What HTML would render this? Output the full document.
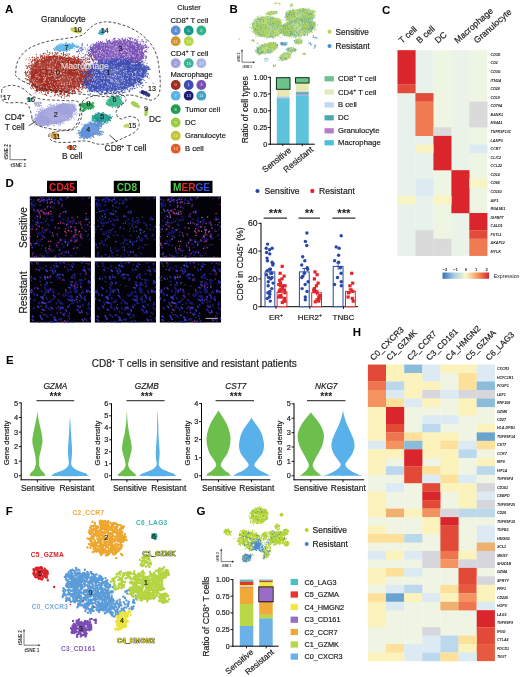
<!DOCTYPE html>
<html><head><meta charset="utf-8"><title>Figure</title>
<style>html,body{margin:0;padding:0;background:#fff}svg{display:block}text{font-family:"Liberation Sans",sans-serif}</style>
</head><body>
<svg width="520" height="677" viewBox="0 0 520 677">
<rect width="520" height="677" fill="#fff"/>
<g id="panelA"><ellipse cx="118" cy="52" rx="24.9" ry="11.6" fill="#7a50b6" fill-opacity="0.88" transform="rotate(-8 118 52)"/><ellipse cx="132" cy="55" rx="12" ry="8.6" fill="#7a50b6" fill-opacity="0.88" transform="rotate(0 132 55)"/><ellipse cx="100" cy="50" rx="8.6" ry="7.7" fill="#7a50b6" fill-opacity="0.88" transform="rotate(0 100 50)"/><path d="M92.5 59.4h0M93.5 54.9h0M128.3 60.3h0M135.2 54.8h0M141.9 55.6h0M145.5 46.7h0M101.8 44.1h0M102.4 52.9h0M127.8 60.7h0M92.5 60.5h0M95 53.9h0M97.5 57.6h0M148.6 47.5h0M111.7 61h0M115.1 59.8h0M129.1 42.1h0M145.7 44.5h0M137.7 43.1h0M143.4 46.9h0M120.6 41.1h0M140.6 55.1h0M134 56.3h0M131.2 54.6h0M96.1 51.1h0M130.3 63.1h0M138.3 57.3h0M125.2 62.3h0M110.6 65.2h0M125.7 62.4h0M140 56.2h0M124.3 61.1h0M114.6 59.3h0M140.5 55.4h0M100.7 63.6h0M137.9 46.7h0M126.3 58.5h0M140.1 41.8h0M114.1 38.4h0M130 64.1h0M104.3 57.6h0M146.3 51.3h0M118.7 66.6h0M98.1 48.5h0M139.6 53.6h0M92.8 51h0M134.2 45.2h0M139 50.1h0M129.8 60.2h0M102.8 50.7h0M147.1 46.2h0M107.1 42.1h0M146.6 49.5h0M106.4 39.3h0M91.2 57.2h0M106.7 67.1h0M113.7 38.7h0M113.9 39.4h0M106.1 62h0M136.9 42.6h0M134.4 39.9h0M102.2 47.2h0M140.3 54.5h0M145.5 47.6h0M114.3 41.4h0M90.1 61.3h0M145.3 50.6h0M98.1 55.9h0M97.6 46.8h0M118.3 56.8h0M125.7 60.7h0M135.5 43.7h0M106.7 65.3h0M127.6 62h0M131.3 43.8h0M96.7 49.4h0M131.8 38h0M109.4 40.2h0M96.9 58.3h0M124.4 61.3h0M109.2 64.5h0M142.2 47.3h0M127.4 45.8h0M110.3 42h0M139 50.2h0M105.7 55.5h0M127.5 55.8h0M101.7 46.7h0M125.6 39.4h0M109.2 44.9h0M142.6 49.3h0M112.4 43.8h0M107.7 41.5h0M98.9 47.2h0M132.5 45.1h0M143.1 42.9h0M95.5 45.1h0M99.3 63.9h0M138.1 45.6h0M105.5 46.1h0M102.5 45.8h0M128 66.4h0M91.8 52.8h0M107.1 66.1h0M138.3 54.5h0M92.2 51.7h0M122.7 44.4h0M122.5 43.2h0M132.5 57.7h0M89.5 54.6h0M138.3 45.7h0M133.8 47.2h0M112.5 66.3h0M99.8 45h0M111.3 62.3h0M132.9 38.5h0M145.7 45.4h0M101 50.5h0M107.4 49.8h0M139.3 47h0M92.8 50.7h0M111.9 46.4h0M144.2 44.8h0M116.6 64.4h0M128.2 37.6h0M95.3 56.8h0M135.4 45.2h0M119.5 45.8h0M107.5 43.1h0M102 64.9h0M138.4 58h0M119.1 60.6h0M102.5 61.9h0M98.3 53h0M98.8 44.7h0M132.5 39.8h0M114.8 40.1h0M134.2 44.1h0M126.8 66.3h0M131.4 44.4h0M118.1 61.2h0M128.5 40.6h0M98.2 61.7h0M136.7 50.4h0M132.5 48.6h0M94.2 54.9h0M124.9 58.1h0M128.5 54.3h0M100.9 50.8h0M128.5 60.5h0M129.8 47.5h0M141.4 53.1h0M107.8 64h0M94.4 54.2h0M108 41h0M129.5 60.7h0M125.1 58.9h0M105.2 53.3h0M109.3 41.7h0M102 46.8h0M143.5 47.1h0M118.4 65.2h0M124.8 42.2h0M138.1 41.5h0M118.6 42.2h0M114.4 45.4h0M142.7 49.3h0M99.7 45h0M102.9 43.1h0M104.1 44.6h0M143.6 48.4h0M108 41h0M96.8 46.5h0M118.6 63.6h0M106.4 59.5h0M119.5 63.9h0M141.8 46.3h0M144.3 47.9h0M95.6 48h0M147 51.9h0M132.4 61h0M104.6 48.8h0M93.2 53.5h0M105.4 61.1h0M114.5 63.8h0M115.5 57.5h0M134.8 60.6h0M97.6 63.4h0M145.4 47.2h0M141.8 54.1h0M139.3 47.3h0M90.2 54h0M142.6 47h0M104 49.2h0M122.9 57.7h0M101.9 52.9h0M97 57.9h0M96.2 49.4h0M143.6 48.2h0M114.1 41.4h0M122.3 38.1h0M106 61.3h0M97.4 48.8h0M117.1 42.7h0M146.3 39.8h0M133.1 51.7h0M103.7 47.8h0M100.5 52.3h0M91.3 51.7h0M101.8 62.7h0M115.1 38.4h0M135.3 53.6h0M119 43.2h0M99.2 59.4h0M101.4 43.9h0M108 64h0M101.6 58.3h0M142.6 56.3h0M94.5 50.7h0M107.9 43.8h0M125.4 62.7h0M137.6 54.3h0M115.7 60h0M103 63.7h0M109.7 41.2h0M143.5 41.3h0M123.6 41.7h0M108.4 65.1h0M119.6 61.9h0M104.8 61.5h0M128.6 62.4h0M124 39.2h0M130.4 60.7h0M134.4 42h0M92.8 52.2h0M143.4 45.8h0M92.1 52h0M132.6 53.8h0M137.3 54.5h0M135.4 59.2h0M124.4 63.1h0M92.5 53.9h0M144.6 45.7h0M93.6 55.9h0M135.1 44.6h0M129.5 38.3h0M129 40.3h0M139.6 46.1h0M124.1 40.7h0M102.3 58.4h0M108.3 58.3h0M125.8 61.1h0M143.5 53h0M138.9 57.3h0M139.8 53.1h0M91.8 48.7h0M127.5 59.7h0M122 63.5h0M127.6 59.8h0M131.7 61h0M127.3 39.1h0M118 66.1h0M91.3 51.9h0M93.9 56.6h0M124.3 40h0M94.2 53.4h0M102.3 43.9h0M140 49.6h0M109.7 40.1h0M129.2 57.8h0M134.6 40.6h0M98.1 44.6h0M137 60.8h0M147.8 47.9h0M135 54h0M113.7 45.3h0M142.4 45.2h0M130.9 41.8h0M131 46.5h0M125.4 43.2h0M134.2 60.4h0M110.6 63.4h0M91.4 58.4h0M101.5 64.6h0M89.4 59.4h0M129.9 38.6h0M111.4 43.2h0M89.5 50.4h0M123 42h0M102 47.8h0M112.3 63.8h0M98.7 62.5h0M113.7 41.4h0M141 44.8h0M124.4 44.5h0M129 56.4h0M128.1 59.5h0M130.4 39.4h0M129.3 57.8h0M104.2 58.5h0M92.9 54.7h0M119.1 39.6h0M108.2 56.4h0M94.6 63.7h0M103.1 43.9h0M139.1 50.2h0M139 56.5h0M89.3 55.2h0M132.6 59.7h0M136.6 42.9h0M137.5 59.8h0M141.8 47.7h0M127.4 61.5h0M102.3 47h0M92.9 49.5h0M106.8 64.7h0M141.1 58.9h0M135.9 58.5h0M98.1 51.1h0M142.2 40.9h0M136.9 57.5h0M113 65.7h0M127.4 41.6h0M101.3 51.9h0M146.4 46.9h0M105.5 45.5h0M102.3 61.5h0M121.2 46.2h0M135 59h0M100.9 50.7h0M97 50.5h0M108.7 48.3h0M141.4 45.7h0M97.1 56.9h0M117.6 40.4h0M87.2 57.6h0M101.3 59.7h0M94.1 50.5h0M93.6 60.9h0M112.5 59.1h0M114.2 42.5h0M116.8 41.9h0M135.9 57.4h0M91.8 55.5h0M96.3 53.4h0M111.3 63.4h0M141.9 41.3h0M104.4 44h0M124.9 64.5h0M88.6 50.1h0M138.6 58.1h0M123.2 50.5h0M111.4 60h0M137.4 41.8h0M104.4 50.2h0M144.9 50.7h0M145.6 42.2h0M99.2 56.2h0M135.8 42.7h0M128.2 41.8h0M137.8 39.8h0M127.9 63.1h0M137.6 52.2h0M112.6 41h0M113.1 45h0M107.2 41.2h0M123.2 61.8h0M111.6 43.4h0M101.7 42.6h0M99.6 64.2h0M122 61.1h0M140.3 43.4h0M146 56.2h0M95.9 59.3h0M99.6 48.6h0M119.7 65.5h0M117.4 41.7h0M114.8 65h0M133.6 49.2h0M95.8 57.8h0M95.9 55.1h0M94.8 51.3h0M121.8 38.9h0M91.4 55.3h0M134.6 47.1h0M120.2 43.1h0M94.3 59.9h0M122.5 38.7h0M124.8 64h0M105.7 53.8h0M94 50h0M128.1 59.5h0M96.4 59.6h0M117.5 67h0M92.7 50.2h0M122.3 41.4h0M141.1 51.7h0M99 46.6h0M144.9 55.8h0M130 59.8h0M130.9 37.7h0M139.6 53h0M132.5 48.7h0M89.9 56.8h0M92.7 59.1h0M139.4 51.5h0M102.1 60.6h0M100.3 58.9h0M118.5 38.5h0M121.8 60.9h0M91.5 58.9h0M102.8 63.1h0M140.9 51.5h0M108.8 47.8h0M135.2 39.5h0M133.2 43.2h0M97.4 64.5h0M124.6 62.1h0M130.6 59.2h0M124.7 62h0M146.4 47.4h0M129.9 43.2h0M108.1 43h0M116.9 57.9h0M95.9 63.9h0M112.1 43.2h0M139.3 44.6h0M118.9 39.1h0M109.3 63.1h0M141.6 54.9h0M101 53.4h0M101.7 60.7h0M106.3 50h0M110.7 63h0M111 43.3h0M112.1 40.1h0M114.5 65.5h0M98.9 61.1h0M113.7 62.6h0M122.4 58.7h0M91.7 50.4h0M137.7 47.8h0M124.1 61.5h0M101.5 42.2h0M106.3 48h0M96.2 60.3h0M107.5 64.1h0M115.8 60.6h0M133.4 61.2h0M120.1 59.4h0M135.4 60.1h0M108.9 41.9h0M101.4 61.1h0M142.3 53.3h0M95.6 49h0M108.9 62.9h0M136.9 41.7h0M117.7 64.9h0M93.6 45.7h0M100.8 64.8h0M99.7 46.2h0M99.2 60.5h0M136.2 40.8h0M130 46.5h0M110.6 63.9h0M136.9 48h0M107.4 44h0M142 48.7h0M91 56.3h0M96.3 51.9h0M138.6 47.1h0M104.3 64.3h0M106.2 40.5h0M146 45h0M90.5 56.6h0M104.2 61.5h0M120.8 60.6h0M110.6 61h0M133 52.8h0M141.8 56.7h0M119.9 39.6h0M134.4 61.2h0M119 63.4h0M123.2 40.8h0M112.1 43h0M104.9 65.8h0M98.5 50.7h0M108.9 40.6h0M133.2 56.7h0M106.7 44.9h0M92.4 48.6h0M135.3 48h0M102.3 46.7h0M146.5 41.8h0M129.6 55.2h0M113.5 65.5h0M112.5 58.1h0M95.1 52.3h0M125.2 37.9h0M114.9 62.2h0M138.9 47.9h0M107.7 42.1h0M126.6 57.9h0M136.1 45.5h0M113.3 57.8h0M101.1 50.9h0M122.8 62.3h0M104.5 61.7h0M134.6 43h0M131.1 53.4h0M128.3 63.5h0M93.9 56.5h0M140.3 52.8h0M102.8 44.2h0M138.8 36.9h0M93 60.1h0M136.4 50.9h0M129.6 55.2h0M109.6 65.3h0M138.7 49.7h0M90.8 53.6h0M122.7 40.5h0M130.1 38h0M136.5 48.6h0M111 43.6h0M127.6 47.6h0M101.8 61.2h0M102.6 44.1h0M104.9 62.7h0M136.8 43h0M115.5 42.3h0M115.3 40.7h0M132.8 55.2h0M104 64h0M100.4 60.6h0M88.6 52.9h0M106.4 67h0M137.1 56.3h0M124.5 63h0M111.5 44.1h0M141.2 44.9h0M129.1 60.8h0M101.6 46.1h0M106 47h0M131.1 41.6h0M89.7 55.6h0M106.6 41.9h0M105.2 44.5h0M95.7 47.7h0M105.3 53.2h0M97.1 48.6h0M130.6 47.4h0M114.7 41.4h0M114.3 40.7h0M141.4 59.3h0M96 55.7h0M140.4 44.4h0M123.9 39.6h0M135 40.4h0M119.5 63.6h0M130.7 42.9h0M114.6 65.8h0M122.3 39.5h0M121.5 65.6h0M93.6 51.8h0M122.2 43h0M141.1 51.3h0M135.5 39.3h0M97.3 63.7h0M91.2 44.9h0M127.5 63.8h0M136.6 40.1h0M106.8 56.1h0M107.8 62h0M96.9 47.7h0M126.5 58.4h0M130.1 55.9h0M140.6 44.5h0M145.5 47.7h0M114.6 42h0M136.4 60h0M96.1 60.6h0M88.2 55.6h0M104.2 64.4h0M113.3 66.9h0M113.6 64.9h0M137.1 45.2h0M115.3 40.5h0M99.5 59.7h0M93 60.2h0M105.6 43.9h0M102.3 59h0M99.5 59.6h0M127.4 39.8h0M140.5 56.2h0M136.5 54.6h0M104.5 43.6h0M142.1 39.6h0M95.4 57.3h0M97.7 57.1h0M143.1 46.2h0M144 54.6h0M128.2 46.4h0M141.8 58.1h0M135 65.4h0M135 63.2h0M131.6 48.9h0M137.8 62.1h0M131.7 63.7h0M130.3 45h0M146.3 56h0M145.8 51.4h0M120 53h0M141.9 60.9h0M141.6 61.8h0M137.3 59h0M133.8 47.8h0M125.6 57.8h0M120 51.7h0M137.2 50h0M143.5 53.5h0M120.1 60.7h0M128.3 56.6h0M139.5 62.8h0M137.9 61.3h0M139.9 56h0M121.9 46h0M143.7 57.5h0M142.8 61.5h0M126.9 61.8h0M142.1 52.5h0M119 54.9h0M131.3 47.3h0M124.7 60.7h0M121.2 58.6h0M146 58.2h0M120.7 52.5h0M133.4 60.6h0M121.4 55.8h0M132 45.8h0M136.6 54.3h0M121.3 49.9h0M124.1 61.1h0M122.7 49.6h0M117.8 54h0M139.8 56.9h0M135.5 46.5h0M139.1 48.9h0M145.4 60.7h0M137 48.6h0M135.4 45h0M145.7 58.6h0M118.5 51.7h0M127.6 51.3h0M128.3 53.5h0M131.1 47.6h0M137.4 52.8h0M134.3 46.8h0M121.8 57.5h0M140 60.2h0M141.7 61.2h0M125.7 47.2h0M126.8 64.4h0M119 51.3h0M117.8 52.6h0M141.5 61.7h0M121.7 58.4h0M126.5 47.3h0M121.8 61.2h0M142.9 61.1h0M135.6 63.3h0M137.3 61.2h0M123 60.4h0M137.6 48.9h0M142.4 54.1h0M128.7 48.2h0M121.6 51.2h0M143.2 58.4h0M119.5 59h0M118.1 51.1h0M122.4 55.6h0M132.2 49.3h0M146.5 57.3h0M121.1 51.4h0M145.1 52h0M134.9 49.3h0M135.6 62.8h0M125.2 51h0M141.9 49.8h0M127.3 46.7h0M128.7 64h0M130.5 47.6h0M121.8 53.3h0M129.1 62.6h0M130.4 63h0M129.8 63.8h0M140.3 47.8h0M122.6 49.5h0M125.4 47.5h0M133.9 46.4h0M122.8 62.7h0M133.1 62.6h0M144.4 51.7h0M121.6 51.7h0M144.7 62.5h0M127.5 50.2h0M124.1 52.5h0M143 54.4h0M128.2 50.3h0M145.6 56.8h0M140 47.6h0M124.5 54.3h0M121.1 53.7h0M122.4 55h0M124.7 55.5h0M118.5 55.8h0M139 60.7h0M124 64.6h0M144 52.2h0M141.5 46.7h0M121 50h0M93 44.6h0M90.3 48.9h0M106.9 51.3h0M104 50.5h0M104 43.5h0M100.4 41.5h0M105.9 50h0M103.2 44.9h0M95.4 57h0M99.3 58.1h0M92.6 48.9h0M100.9 58h0M103 55.3h0M101.8 42.5h0M100.7 58.1h0M99.7 59.6h0M102.8 55.8h0M98.6 41.3h0M102.5 41.5h0M100.3 56.8h0M91.9 54.4h0M108.9 45h0M94.9 53.9h0M95.7 56.3h0M95.1 54.2h0M91.2 51.2h0M108.4 50.7h0M105.7 46.9h0M103.2 59.9h0M94.9 57.1h0M106.1 56.8h0M105.9 56.1h0M107.5 43.9h0M95.8 53.9h0M98.5 59.2h0M97 53.9h0M97.4 56.2h0M90.9 47.9h0M100.7 42h0M101 55h0M96.3 58.6h0M104 55.7h0M92.7 47h0M93.1 51.6h0M105.1 43.3h0M105.2 49.4h0M100.7 42.3h0M104.4 57.6h0M101 53.8h0M89.6 50h0M92.8 51.4h0M107.2 51.7h0M94.8 45.6h0M96.7 56.7h0M106 45.1h0M92 51.8h0M107.1 46.1h0M104.6 46.2h0M90.2 49.5h0M98.7 43.2h0M93.9 46.8h0M107.4 54.6h0M95.9 55.3h0M91.9 49.3h0M108.5 50.1h0M93.7 43.8h0M106.4 53.7h0M107.5 48.7h0M94.5 51.9h0M104.3 42.9h0M99.7 58.1h0M90.7 47h0M91.8 50.5h0M90.9 49.8h0M102.5 56.5h0M108.5 49h0M96.4 42.4h0M101.9 45h0M103.1 43.6h0M110.1 51.3h0" stroke="#7a50b6" stroke-width="1.15" stroke-linecap="round" fill="none"/><path d="M106.8 62.5h0M135.6 45.7h0M137.2 53.1h0M126.2 46.4h0M127.4 59.7h0M112.3 50.3h0M117 49.9h0M121.7 40.4h0M94.7 50.3h0M108.2 57.7h0M126.6 51.4h0M104.2 45.3h0M111 45.2h0M126.8 59.5h0M106.8 42.7h0M128 47.5h0M136.1 46.7h0M112.7 57.7h0M101.2 53.2h0M101.7 52.6h0M116.9 46.8h0M119.6 58h0M122.1 52.3h0M136.3 46.5h0M105.6 57.4h0M125 50.1h0M99.7 58.6h0M101 45.2h0M126.8 47.7h0M108.5 52.5h0M118.2 49.8h0M116.4 62.2h0M115.3 46.3h0M112.6 45.4h0M112 54.2h0M121.3 50.1h0M128.9 52.9h0M129.5 55.7h0M98 50.3h0M108.8 45h0M138.6 52h0M115.8 52.5h0M131.6 53.2h0M140.1 45.7h0M99.4 55.4h0M127.8 54.7h0M123.8 62.2h0M99.6 61.4h0M118.4 62.6h0M108.3 58.9h0M105.9 55.5h0M112 62.8h0M102.4 56.4h0M101.9 62.3h0M139.9 47.4h0M116.5 46.3h0M112.3 41.1h0M100.1 58.3h0M122.8 61.7h0M107.7 61.8h0M133.3 50.6h0M109.7 49.9h0M98.3 62.1h0M135.8 52.7h0M126.7 40.8h0M111.4 42.8h0M116.4 43.4h0M100.9 51.2h0M125.8 50.6h0M112.7 41h0M116.4 60.9h0M128.8 58.5h0M133 43.9h0M111.1 54.8h0M104.6 49.1h0M94.5 50.3h0M106 62h0M109.4 44h0M124 45.1h0M115.3 52.1h0M104.8 60.6h0M134.1 41.3h0M118.6 56.3h0M122.5 41.5h0M117.6 60h0M126.5 40.6h0M124.4 60.7h0M125 47.6h0M105.4 54.8h0M100.1 50.6h0M128.4 50.1h0M134.2 59.4h0M110.3 59.4h0M134.9 44.7h0M125.4 56.8h0M134.6 42.1h0M121 58.2h0M138.3 52h0M140.1 53.1h0M121.4 52.6h0M103.9 63.7h0M124.2 52.3h0M138.8 50.4h0M106.5 45.1h0M111.8 59.9h0M110.1 58.3h0M118.9 57.7h0M112.2 61.1h0M117.6 55.3h0M105.1 53.4h0M133.6 43.1h0M110.9 45.4h0M105.9 57.3h0M100.4 53h0M122.3 40.3h0M117.2 53.6h0M122.4 42.6h0M132.6 41.8h0M108.4 44.4h0M104.2 59.1h0M135.6 41.2h0M128.3 52.9h0M135.4 48h0M128.4 44.2h0M123.5 51.1h0M127.5 56.3h0M113.2 50.2h0M98.4 58.9h0M101.7 49.5h0M133.7 44.1h0M122.3 58.8h0M100.1 50.1h0M128.4 51.1h0M138.3 53.7h0M106.8 63.9h0M109.9 49h0M125.1 41.7h0M140.4 51.1h0M124.8 54.7h0M93.4 57.4h0M113.7 57.5h0M104.3 47h0M121.5 50.8h0M122.4 46.6h0M115.3 48h0M119.5 57.5h0M135.1 44.8h0M119.8 57.6h0M128.6 42.3h0M107.2 48.5h0M113.5 44.8h0M105.6 59.3h0M120.9 52h0M114.5 55.9h0M96.6 48.6h0M96 55.1h0M107.7 51.4h0M139.6 54.3h0M127.4 51.6h0M101.2 47.3h0M118.1 41.9h0M123.7 54.5h0M121 51.9h0M121.7 52.5h0M127.8 43.2h0M127.8 54.4h0M120.9 54.7h0M122.9 55h0M103.8 52.5h0M103.3 53.7h0M114.4 52.8h0M117.3 52.7h0M131.5 44.3h0M124.9 49.7h0M103.3 60.7h0M121 50.6h0M116.1 58h0M108.8 42.2h0M124.7 57.5h0M138.5 57h0M115 41.2h0M141 45.8h0M95.9 49.8h0M102.6 44.2h0M128.1 56.2h0M118.6 49.6h0M109.1 49.1h0M124.7 58.1h0M132.7 40.4h0M114.1 48.3h0M123.2 47.5h0M118.4 51.9h0M131.3 50.2h0M114.5 50.7h0M115 47.4h0M139.5 48.2h0M126.4 57.2h0M131.6 49.3h0M130.4 52.3h0M134.7 61.4h0M132.9 56h0M130.9 48.6h0M126.4 47.1h0M139.7 56.3h0M136.5 48.6h0M129.6 56.8h0M131.1 54.2h0M133.3 56.5h0M128.4 54.5h0M130 57.1h0M127.1 48.5h0M122 50.9h0M126.5 47h0M126.6 50.8h0M140.1 55.4h0M123.6 54.6h0M135.5 56h0M142.9 54.5h0M130 60.4h0M122.5 60.3h0M124.8 55.5h0M134 55h0M129.8 56.2h0M136.5 59.3h0M123.4 50.4h0M124.1 61.2h0M132.2 55.6h0M134.6 57h0M140.2 50.2h0M133.7 60.4h0M130.3 54.1h0M138.7 61.1h0M133.4 55.8h0M140.9 50.4h0M100.4 51.2h0M97.3 57.3h0M101.8 56h0M106.4 48.1h0M96.8 56h0M105.8 51.4h0M104 54.3h0M100 55.7h0M98.7 52.5h0M97.2 54.1h0M97.5 43.7h0M102.6 51.6h0M102.7 45.3h0M97.8 52.1h0M106.6 49h0M94.5 46.5h0M100.8 44h0M94.2 53.5h0M96.3 53.4h0M97.1 53.5h0M104.5 44.2h0M94.8 54.1h0M100 54.1h0M103.9 48.1h0M98.2 51.5h0M101.6 48.9h0" stroke="#fff" stroke-width="0.75" stroke-linecap="round" fill="none" stroke-opacity="0.8"/><ellipse cx="113" cy="76" rx="28.4" ry="15" fill="#3d4db3" fill-opacity="0.88" transform="rotate(-5 113 76)"/><ellipse cx="135" cy="72" rx="12.9" ry="7.7" fill="#3d4db3" fill-opacity="0.88" transform="rotate(-20 135 72)"/><ellipse cx="95" cy="80" rx="11.2" ry="11.2" fill="#3d4db3" fill-opacity="0.88" transform="rotate(0 95 80)"/><path d="M113.6 92.9h0M94.7 91.4h0M121.1 87.3h0M110.2 67.9h0M92.2 65.3h0M127.9 81.9h0M119.9 58.9h0M91.3 69.9h0M136.3 76.7h0M90.3 93.6h0M133.6 61.6h0M140.7 82.7h0M128.8 80.4h0M142.8 72.6h0M138.2 63.3h0M86.1 80.8h0M102.4 67.5h0M83 77.1h0M100.5 62.2h0M128.8 80h0M135.7 77.7h0M88.2 83.6h0M89.4 72.8h0M128.3 61.8h0M145.8 73.3h0M137.9 79.9h0M115 60.9h0M91.6 76.4h0M90 81h0M128.2 83.7h0M77.4 75.2h0M125.6 62.6h0M132.2 89.2h0M112.7 59.3h0M134.8 69.1h0M118.4 93.1h0M137 65.5h0M116.2 92.5h0M106.3 61.6h0M86.5 81.2h0M84.8 82.9h0M94.3 73.3h0M138.6 77.7h0M137.9 80.9h0M144 66.9h0M96.4 87.6h0M133.9 86.5h0M122.1 84.1h0M144.5 74.8h0M117.5 64.5h0M123.8 87.9h0M106.2 88.7h0M96.7 89.4h0M122.9 60.1h0M84.6 67.7h0M135.6 73.4h0M118.9 65.4h0M129.1 59.8h0M124.3 92.5h0M135.3 77.9h0M106.5 92h0M119.7 66.8h0M115.2 91.7h0M129.8 78.2h0M91.2 85.3h0M110 83.6h0M101.1 65.7h0M111.6 85.2h0M106.8 89.6h0M99.2 78.1h0M129.5 65.8h0M133.5 75.9h0M117.7 61.6h0M111.9 60.9h0M120.6 57.4h0M100.2 65h0M88.4 75.4h0M122.9 68.2h0M112.1 62.5h0M137.2 78h0M89.9 90.9h0M135 88.2h0M84.2 79.6h0M140.4 74.3h0M108.1 59.3h0M138.6 81.2h0M109.9 66h0M139.5 76.7h0M101.9 87.3h0M130.9 83.5h0M109.8 93.1h0M89.1 86.4h0M82.1 86h0M136.8 65.3h0M116.9 87h0M91.2 69h0M139.2 73h0M122.2 91.1h0M121.2 67.9h0M119.2 57.8h0M112.1 88.9h0M106.2 62.7h0M111.1 60.7h0M83.2 76.1h0M99.3 93.2h0M120.9 89.7h0M148.4 68h0M128.9 61.9h0M96 73.5h0M119.8 69h0M137.1 79h0M140.8 72.7h0M98.6 63.3h0M101.6 70.1h0M137.6 64h0M121.2 88.3h0M99.5 63.2h0M94.3 85.4h0M117 86.8h0M139.6 64.8h0M141.6 75.5h0M94.1 69.2h0M104.1 85h0M98.5 62h0M96.1 62.8h0M122.1 62.1h0M101.7 78.6h0M129.8 63.5h0M106.4 80.9h0M139.2 72.4h0M132.1 59.9h0M133.6 65.6h0M134.9 74.9h0M90.4 87.7h0M105.2 67.2h0M136.4 85.8h0M89.1 85h0M125.8 92h0M115.4 82.2h0M106 93.4h0M89.2 76.2h0M99.4 87.9h0M123.7 60.4h0M130.5 63.5h0M133 78.1h0M139.2 72.8h0M128.7 86.6h0M134.1 86.2h0M86.4 77.4h0M140.6 80.4h0M112.7 88.1h0M100.3 93.2h0M143 62.2h0M113.7 90.8h0M139.2 82.3h0M132.8 70.7h0M104.8 59.7h0M143.3 79.7h0M123.4 61.7h0M107.3 68.3h0M81.4 76h0M106.4 61.2h0M100.4 90.6h0M89.3 76h0M107.5 91.8h0M96.9 87.5h0M145.7 73.3h0M101 73.1h0M121.7 82.3h0M135.1 70.6h0M116.6 88.4h0M85.5 79h0M93.4 89.8h0M90.6 75.5h0M142.8 76.4h0M105 64.8h0M99.6 61.7h0M131.3 88h0M139.4 65.2h0M92.4 90.4h0M140.1 80h0M101.7 85.4h0M100.9 85.8h0M101 67.9h0M98.1 75.6h0M111.9 93.7h0M115.2 90.1h0M85.7 73.3h0M104.6 60.1h0M122.5 88.6h0M108.2 93.1h0M97.7 82.2h0M139.9 86.7h0M92 87.5h0M129.8 89.6h0M133.5 74.5h0M138.8 81.5h0M135 84h0M126.1 82.6h0M121 60.3h0M131.4 85.2h0M146.9 76.3h0M101.1 64.5h0M128 60h0M119.9 63.8h0M114.2 60.7h0M134.2 73.2h0M145.1 69.8h0M135.5 62.6h0M144.4 80.2h0M141.3 68.8h0M141.1 80h0M138.7 81.1h0M126.9 64.4h0M96.7 80.9h0M97.3 83h0M95.5 80h0M94.1 82.9h0M126.4 59.9h0M126.2 85.2h0M126.4 62.5h0M133.3 77.6h0M82 86.5h0M112.8 84.6h0M86.1 72.9h0M117.2 82.3h0M145.1 76.3h0M141.1 75h0M115.3 93.4h0M109.1 90.7h0M106.8 92.4h0M95.2 59.6h0M96.8 91h0M97.2 66.9h0M125.1 80.3h0M138 83.2h0M133.3 86.9h0M143.3 65.9h0M126 62h0M93.6 68.1h0M102.8 88.9h0M92.4 64.9h0M107.1 63.1h0M84.2 85.4h0M87.6 74.1h0M100 64.1h0M88.6 73.7h0M138 61.8h0M107.1 90.2h0M127.8 89.6h0M133.8 80.6h0M120.8 85.3h0M92.3 76.2h0M94 68h0M95.5 69.8h0M121.2 91.7h0M86.3 70.1h0M114.6 63.5h0M95.1 87.9h0M125.5 88.8h0M143.9 71.4h0M99.3 84h0M141.6 75.2h0M116.9 62.9h0M110.4 61.6h0M98.6 64.9h0M138.5 82.2h0M138 71.2h0M127.9 87.4h0M130.1 66.5h0M108.4 68h0M140 82.4h0M148.1 73.6h0M94.9 66.8h0M125.4 85.1h0M136.8 84.6h0M84 81.4h0M101.2 91h0M95.5 71h0M140.6 78h0M87.4 79.3h0M87.2 84.1h0M93.9 70.4h0M120 60.3h0M116.9 91.9h0M113.5 91.9h0M85.8 84.6h0M111.4 95.8h0M90.7 82.9h0M86.2 74h0M147.6 66.9h0M132.4 75.3h0M122.7 62.5h0M81.1 79.3h0M135.7 75.5h0M103 90.7h0M143.9 70h0M135.6 66.1h0M115.8 89.3h0M137.4 67h0M123.1 89.7h0M97 72.3h0M115 86.5h0M118.7 91.5h0M83.8 69.5h0M140.6 73.3h0M88.3 77.4h0M126.7 80.2h0M139 81.6h0M114.8 60.4h0M134.4 88.4h0M86.6 83.5h0M102.2 60.6h0M115.7 65.9h0M134.4 85.5h0M107.1 95.1h0M82.6 86.1h0M114.9 61.3h0M98.4 83.2h0M103.8 66.1h0M89.7 76.1h0M143.5 74h0M91.6 77h0M94.9 84.5h0M90.7 69.8h0M117.4 61.7h0M136 83.2h0M140.8 68.5h0M110.5 64.9h0M117.5 86.3h0M147.4 75.9h0M143.2 74.6h0M103.6 69.2h0M117.6 91.6h0M114.3 65h0M89.7 68.9h0M121.3 84.5h0M87.3 69.1h0M94 66.6h0M126.6 62.8h0M137.4 61.1h0M102.6 64.3h0M114.2 86.2h0M91.4 68.4h0M90.8 68.8h0M100.3 59.9h0M104.2 88.1h0M90.5 65.4h0M115 59.7h0M92.7 81.5h0M96.6 65.9h0M87.9 73.3h0M105.6 81.4h0M134.7 70.4h0M139.3 63.5h0M142.9 75.3h0M139 80h0M125.2 60.5h0M127.4 89.2h0M80.2 79.3h0M106.8 92.7h0M142 79.3h0M90.5 70.9h0M106.1 59.9h0M127.6 66.4h0M83 67.5h0M104.4 68h0M122.6 90.6h0M91.3 66.4h0M86.4 81h0M96.1 90.4h0M125 80.6h0M86.7 76.1h0M86.4 67.2h0M107.7 91.7h0M116.1 95.3h0M102.9 66h0M94.7 86.5h0M100.2 89.7h0M141.7 83.4h0M99 87.7h0M136.2 61.7h0M130.4 58.9h0M97.8 72.1h0M97.1 87.7h0M112.6 66.2h0M87.3 85.7h0M130.3 86.1h0M116.4 88.7h0M87.5 82.8h0M102.8 92.5h0M81.9 75h0M129.2 71.1h0M79.3 79.5h0M102.8 67.2h0M106.4 88.1h0M108.9 88h0M113.1 64.1h0M140.2 83.1h0M87.4 79.1h0M117.5 62h0M143.9 76.2h0M88.1 89.7h0M90.5 74.9h0M153.1 83h0M87.4 74.4h0M88.5 68.8h0M82.4 84.9h0M140.1 77.5h0M86.2 80.2h0M117.2 61h0M132.1 74.4h0M147.4 77.3h0M137.4 68.7h0M104.7 68h0M87.5 87.3h0M97.2 91h0M85.7 85.7h0M135.8 78.3h0M82.3 81.2h0M87.7 67.5h0M97.5 84.7h0M112.8 68.7h0M83.4 72.8h0M130 63.1h0M94.9 63.5h0M92.9 68.6h0M123.8 86.1h0M120.3 59.2h0M126.7 60.5h0M128.8 91h0M90 81.2h0M111.6 88.3h0M93.2 64.8h0M114.1 91.9h0M140.3 66.3h0M83.3 82.1h0M139.5 80.2h0M111.1 58.9h0M129.8 90.8h0M89.1 66.3h0M109.8 65.1h0M141.4 77.2h0M116 84.9h0M127.9 60.5h0M112.5 70h0M126.3 87.2h0M130.4 88.3h0M113.9 61h0M146.6 69.6h0M95.3 73.5h0M125.3 62.2h0M83 78.3h0M91.2 65h0M85.2 69.6h0M134 62.9h0M137.8 76.2h0M87.9 73.2h0M113.3 64.6h0M118.9 87.4h0M95.4 89.2h0M142.1 79h0M112.3 59.1h0M109 90.5h0M105.2 92.8h0M96.8 80.2h0M139.9 76.2h0M138.1 80h0M87.6 76.3h0M85.7 79.9h0M86.9 70.2h0M112.8 94.2h0M122.5 90h0M85.7 75.6h0M142.8 72h0M96.9 69h0M122 84.1h0M138.2 66.4h0M87.6 75.5h0M139 84.9h0M109.9 82.6h0M116 61.3h0M129.3 72.8h0M145.7 75.8h0M97.9 91.4h0M140.9 82.3h0M141.6 67.6h0M116.5 60.9h0M117.5 60.7h0M125.2 82.7h0M90.2 83.7h0M113.2 65.1h0M140.2 84.3h0M86.7 70.2h0M101.6 86h0M88.7 68.9h0M135 80h0M93 68h0M101 78.8h0M132.3 85.8h0M91.4 75.1h0M107.4 68h0M127.3 62h0M97.9 69.3h0M132 67.9h0M81.5 83.6h0M121.6 85.1h0M128 84.2h0M90.9 69.2h0M133.6 61.6h0M126 65.4h0M87.6 66.6h0M90 73.8h0M141.7 79.2h0M142.3 82.6h0M141.3 70.2h0M138.5 74.3h0M136.6 79.5h0M138.9 75.2h0M141 65.7h0M84.2 78.6h0M116.7 60.5h0M110.1 61.8h0M138.8 85.2h0M114 91.6h0M135.5 66.1h0M101.6 62.6h0M91.6 70.4h0M83.6 73.6h0M124.3 88.7h0M102.8 91.9h0M121.9 90.5h0M90.7 87.4h0M99.4 60.9h0M136.4 81.9h0M86.7 77.8h0M140.5 72.6h0M95.2 62.2h0M131.6 74.2h0M125.8 58.3h0M119 91.8h0M87.1 70.1h0M130.9 69.3h0M89.2 67.4h0M106.6 91.1h0M130.7 73h0M87.6 65h0M110.3 86.3h0M124.6 85.8h0M124.8 83h0M98.3 60.8h0M140.7 71.7h0M77.1 74.9h0M116.4 59.1h0M98.2 90.2h0M139.3 81.5h0M134.1 70.6h0M119.2 59.2h0M102.8 68.9h0M108.6 65.1h0M133.7 81.1h0M123 84.1h0M94.4 65.5h0M131.7 84.1h0M94.9 89.2h0M138.4 65.4h0M133.5 86.3h0M119.6 92.3h0M106.3 81.5h0M111.1 90.9h0M142.3 79.2h0M97.8 69.9h0M94 75.7h0M81.3 74h0M134.9 68.2h0M109.6 61.6h0M118.6 85.8h0M82.4 85.5h0M84.6 81.3h0M108.7 65.5h0M90.5 81.6h0M124.4 90.8h0M136.4 77.2h0M127.8 60.1h0M128.8 67.1h0M79.4 78h0M128.1 59.8h0M99.9 89.6h0M142.1 74.1h0M121.3 90.1h0M129.8 90.6h0M118.9 88.9h0M143.3 72.8h0M142.7 71.1h0M95 67.1h0M80.5 80.3h0M144.8 73h0M97.4 70.5h0M123.3 92.5h0M105.9 70.9h0M136.1 68.7h0M87.4 79.3h0M136.5 66.7h0M127.1 88.4h0M106.5 84.6h0M143.7 70h0M95.6 78.7h0M108 87.9h0M86.1 85.6h0M82 72.7h0M86.6 87.9h0M145.9 82.4h0M89.8 74.5h0M132.5 84.9h0M138.8 70.1h0M91.2 72.8h0M101.8 93.1h0M134.9 79.3h0M104.2 62.7h0M117.6 59.2h0M100.3 90h0M106.6 61h0M85.2 82h0M122.2 87.1h0M106.8 91.2h0M132.6 67.5h0M143 70.9h0M91 85.9h0M138.2 83.9h0M139.7 81.5h0M98.3 91.3h0M122.3 82.3h0M101.7 63.8h0M86.5 87.5h0M136.2 78.4h0M101.5 88.9h0M104.9 93.9h0M105.7 62.3h0M108.5 62.9h0M102.6 90.6h0M88.8 67.6h0M128.9 64.5h0M122 90.6h0M141.1 80.9h0M131.9 64.7h0M125.2 65.1h0M87.6 91.4h0M95.1 67.9h0M135.6 81.5h0M93.2 63.1h0M118.5 73.6h0M91.3 90.9h0M81.7 82.2h0M119.9 61.7h0M108.1 61h0M93.6 91h0M94.4 88h0M102.5 62.8h0M93.2 67.8h0M119.1 92.6h0M126.6 79.2h0M117.5 60h0M110.7 64h0M97.6 76.3h0M128.3 81.6h0M117.9 86.1h0M141.8 87.6h0M128.7 83.8h0M122.7 70h0M147.1 68.8h0M126 63.8h0M133.7 65.8h0M113.9 59.7h0M85.7 71.3h0M101.6 74.1h0M104.2 61.5h0M141.3 66.7h0M121 70.5h0M137.9 68.1h0M103.4 88.9h0M120.7 91.5h0M127.8 69.5h0M107.9 90.9h0M140.8 72.7h0M81.3 75.5h0M99.3 63.2h0M124.1 63.6h0M121.4 63.8h0M130.6 60.8h0M94.9 63.8h0M132.1 89.3h0M135 69.8h0M102.2 61.2h0M94.1 84h0M126.9 63.4h0M123 70.4h0M106.4 60.2h0M96.5 82.9h0M126.9 61.9h0M126 85.5h0M118.6 67.9h0M89.7 89.2h0M127.2 64.8h0M114.6 61.1h0M136.7 79.8h0M82.8 72.9h0M89.2 87.3h0M120.5 84.9h0M110.5 91.3h0M145.5 69.2h0M97 87.1h0M83.3 78.5h0M99.3 62h0M83.9 86.2h0M115.4 64h0M141.2 69.8h0M81.5 84.3h0M95.4 77.4h0M101.3 83.8h0M79.1 81.3h0M90 75.5h0M83.1 77h0M87.3 78.8h0M137.6 77.9h0M114.2 89.4h0M143.6 69.6h0M89.1 66.9h0M123.7 89.6h0M89.8 71h0M125.9 73.7h0M90.8 80.7h0M86.4 69.5h0M88.8 83.2h0M110.9 91.6h0M116.1 83.9h0M130.3 61.7h0M90.7 68.4h0M82.6 84.9h0M80.7 72.8h0M91.8 70.8h0M140.4 63.6h0M98.3 62.7h0M110.9 62.1h0M92 66.3h0M131.8 65.8h0M101.6 67.2h0M88.9 77.3h0M107.1 88.4h0M108.5 92.7h0M94.8 65.6h0M93.3 86.7h0M112.2 59.6h0M126.3 68h0M133.6 85.4h0M101.9 86.1h0M86.8 75h0M89.5 67.2h0M123.4 63.6h0M98.2 68.3h0M101.5 64.9h0M134.8 71h0M134.3 72h0M114 91h0M137.2 87.3h0M86.1 83.9h0M142.4 85.3h0M137.3 79.5h0M79.2 86.4h0M138.5 76.3h0M136.8 77h0M96.3 88.5h0M84.5 81h0M124.6 87.6h0M110.1 62.2h0M122.4 92.9h0M89.1 85.6h0M121.9 91.2h0M94.5 69.8h0M96.6 81.6h0M130.9 61.2h0M134 83.5h0M137.3 69.1h0M123.6 68.6h0M127.7 60.9h0M129.4 63.1h0M91.4 76.7h0M138.8 63.3h0M114.9 67.7h0M89.7 78.1h0M86.7 73.8h0M113.3 60.1h0M116.3 90.1h0M87.9 85.2h0M112.5 86.4h0M102.2 76.3h0M88.4 69.6h0M89.8 89.7h0M132.8 82.4h0M109.6 61.6h0M128 87h0M86.2 71.6h0M134.9 65.5h0M100.6 62.3h0M126.2 72.2h0M101.8 88.8h0M97.8 67h0M102.4 60.3h0M86.3 68.1h0M88 73.9h0M138.7 65.1h0M110.8 59.8h0M90 77.3h0M104.4 93h0M86.4 76.5h0M90.5 69.6h0M123 64.2h0M132.3 65.1h0M139 68.4h0M88.6 75.3h0M89.9 82.5h0M139.7 81h0M141 83.4h0M104.5 88h0M107.8 63.4h0M129.2 69.8h0M102.1 64.1h0M96.8 67.2h0M83.8 74.6h0M124.7 65.3h0M130.9 64.3h0M131.8 62.3h0M142.6 70.3h0M84.6 75.5h0M99.5 66.9h0M105.3 80.8h0M109.3 61.5h0M112.8 66.1h0M143.1 85.8h0M118.5 64.1h0M102.6 69.4h0M89 75.7h0M137.8 74.9h0M148.3 74.1h0M142.7 73.6h0M111.7 92.2h0M129.8 82.2h0M110 66.7h0M93 84.9h0M96.4 66h0M125.7 61.2h0M126.2 88.1h0M134.8 66.8h0M95.9 70.1h0M104.3 67.2h0M98.3 65.3h0M132.7 88.2h0M87.8 68.2h0M90.6 74.1h0M96.4 65.2h0M100.5 83.5h0M137.9 77.1h0M90.6 89.8h0M149 78.1h0M97.5 88.2h0M91.2 68.6h0M98.5 62.5h0M137.4 73.3h0M90 76.8h0M86.4 87.4h0M137.4 65.2h0M122.1 62.1h0M95.1 64.7h0M133.9 74h0M105.6 63.7h0M112.2 67.9h0M91.5 85.6h0M102.2 62.6h0M132.7 83.8h0M112.5 66h0M146 74.6h0M98.9 88.2h0M109.3 86.5h0M82.1 87.9h0M101.7 61.8h0M133.1 67.6h0M144.9 75.3h0M88.5 87.6h0M138.1 79.4h0M86.9 73.6h0M94.4 90.5h0M108.1 89.2h0M133.4 61.9h0M99.9 91.1h0M139.4 69.3h0M103 66.5h0M110.1 62.5h0M142.4 77.1h0M129.3 91.6h0M98 80.8h0M116.7 58.2h0M133.3 69.5h0M103.4 88.9h0M112.7 70.7h0M104.4 89h0M82.1 82.7h0M135.1 73.3h0M125.7 89.8h0M86.3 77.7h0M98.3 92.2h0M85.9 74.7h0M87.2 81h0M101.8 91.8h0M83.4 72.4h0M125.1 87.8h0M82.7 76h0M147 71.7h0M96 73.2h0M137.8 81.6h0M95.2 88.7h0M140.6 68.9h0M138.6 78.2h0M144 77.3h0M147 63.6h0M123 74.5h0M128.1 66.8h0M137.8 62.6h0M150.1 69h0M142.1 76.2h0M139.1 78.7h0M128.6 74.2h0M143.7 70.2h0M134.3 78.5h0M139 65.2h0M142.6 76.8h0M148.4 69.4h0M133.6 80.3h0M123.9 76h0M143 63.6h0M146.6 65.7h0M139.7 75.8h0M139.9 62.7h0M143.9 74.2h0M142.8 65.9h0M135.7 64.7h0M122.1 73.4h0M129 68.8h0M138.5 80.2h0M147 73.6h0M142.9 76.5h0M128.4 74.4h0M136.1 77.2h0M140.7 75.4h0M131.5 64.7h0M135.7 80.6h0M125.4 72.7h0M135.4 81.3h0M141.2 75.6h0M128.5 73.4h0M129.1 81.1h0M149.1 67.2h0M124.4 72.6h0M146 74.5h0M149 68.5h0M142.1 70.1h0M138.9 62.7h0M136.9 64.9h0M138.2 68.4h0M140.8 78.2h0M149.7 69.4h0M128.5 82.8h0M122.7 73.4h0M127.4 76.6h0M136 65.3h0M122.1 78.8h0M142.6 75.5h0M148.4 66.9h0M124.9 68.8h0M141.4 62.6h0M122.1 73.2h0M142.7 77h0M123.9 69.1h0M127.4 78h0M136.9 79.3h0M142.5 76.2h0M125.7 74.6h0M146.8 65.7h0M128.4 70.6h0M135.3 77.2h0M127.8 66.6h0M147.9 66.9h0M128.8 66.8h0M126.6 74.7h0M129.6 75.7h0M145.2 73.2h0M129.7 82.2h0M127.2 73.8h0M127.3 72.8h0M147.5 67.3h0M134 79.4h0M132.2 81.5h0M130.1 80.1h0M134 79.4h0M140.4 62.5h0M139.3 62.8h0M146.4 68.7h0M143.3 76.9h0M139 76.4h0M132.8 69.8h0M144.2 69.4h0M144.5 73.3h0M130.6 69.5h0M127.9 80.8h0M120.6 74.7h0M145.8 75.8h0M134.3 64.8h0M138.1 64.4h0M132.4 75.8h0M147.8 69.6h0M146.7 67.4h0M143.2 75.6h0M129.8 81h0M142.5 68.6h0M130.4 68.1h0M132.3 81.5h0M140.5 79.1h0M142.8 71.6h0M137 62.3h0M132.4 62.6h0M144.1 74.4h0M128.7 81.5h0M143.8 76.2h0M120.5 71.8h0M142.9 78h0M130.6 68.3h0M140 62.1h0M122.9 67.8h0M123.3 76.5h0M143 65.3h0M125.3 80.6h0M125.3 67.9h0M86.4 86.2h0M87.7 86h0M99.8 89.8h0M108.2 83.8h0M102 91h0M102 85h0M98.4 92.6h0M106.2 80.6h0M83.1 83.5h0M102.5 88.4h0M84 82.9h0M99 89.5h0M85.8 77.4h0M107 85.6h0M83.3 84.8h0M109.4 81.1h0M103.7 82.4h0M91.7 68.9h0M92.9 73.3h0M83.7 81.3h0M101.6 85.3h0M87.2 69.6h0M88 75.3h0M92.6 91.4h0M94.1 90.6h0M104.9 74.7h0M93.6 69.1h0M84.2 79.4h0M89.4 79.5h0M83.5 81.6h0M106.4 72.9h0M91.7 91.4h0M103.7 88.1h0M94.6 66.5h0M99.7 91.1h0M84.5 83.9h0M81.5 82.3h0M84.9 77.5h0M104.6 73.2h0M89.9 91.3h0M89.8 71.1h0M105.9 80.4h0M90.7 68.4h0M106 74.6h0M85.8 71.3h0M97.4 91.6h0M104.2 72.7h0M100.4 81.5h0M106.5 79.8h0M93.6 84.1h0M102.7 71.4h0M108.7 81h0M85.4 71.9h0M99.5 89.4h0M102.1 71.9h0M100.6 87.5h0M91.1 91h0M96.6 91.8h0M103.5 76.5h0M102.7 83.1h0M85.8 76.9h0M82 81.5h0M87 68h0M103.3 87.1h0M103 81.3h0M100.7 88h0M99.2 69.8h0M94.8 68.4h0M105 85.2h0M104.8 78.6h0M90.1 90h0M86.7 86.5h0M101.5 76.9h0M103.5 75h0M91.6 75.3h0M89 91h0M105.8 78.8h0M94.8 91.8h0M91.1 83.6h0M98 90.8h0M105.8 85.3h0M84 76.6h0M87.1 86.6h0M96.3 67.5h0M102.2 91.8h0M104.3 82.6h0M108 80.2h0M89.6 71h0M93.6 68.5h0M84 82.1h0M105.7 84.9h0M93.8 68.2h0M104.2 72.3h0M85.2 81.6h0M86.5 73.7h0M85.7 84h0M91.7 67.3h0M95.1 82h0M100.3 85h0M83 82h0M83.9 84.3h0M94.2 88.9h0M87.5 76h0M93.1 66.5h0M97.1 90.3h0M98.7 67.8h0M89 70.6h0M107.7 80.2h0M89.8 72.9h0M96.7 69.4h0M105.6 86.3h0M92.3 71.8h0M85.2 72.4h0M92.3 72.7h0M105.1 72.6h0M99.2 87.7h0M101.4 92.1h0M88.7 69.2h0M84.7 78.6h0M103 87.7h0" stroke="#3d4db3" stroke-width="1.15" stroke-linecap="round" fill="none"/><path d="M114.9 74.4h0M115.2 84.7h0M136.1 75.9h0M132.8 81.9h0M118.2 86.4h0M98.8 89.7h0M118.6 82.7h0M93.9 78.3h0M110.9 81.4h0M127 75.2h0M104 81.7h0M95.7 70.2h0M104.8 62h0M107 75.4h0M122.4 65.9h0M84.3 78.4h0M97.1 82.4h0M114.5 66.2h0M91.1 83.4h0M105.9 65.9h0M101.7 75h0M116.3 75.5h0M115.7 81.7h0M110.6 80.1h0M100.4 65.4h0M110 75.2h0M119.4 61.5h0M141.9 71.9h0M122.8 62.1h0M117.5 70.2h0M134.6 66.8h0M121.8 78.2h0M116.1 70.5h0M120.6 67.4h0M93.3 84.4h0M106.3 82.1h0M122.4 86h0M111.2 64.5h0M94.5 72.9h0M90.3 75.1h0M134.3 64h0M123.4 67.9h0M140.5 70.1h0M135.6 77.8h0M90.8 78.5h0M122.8 78.6h0M111.2 69.7h0M141.1 71.9h0M130 65.8h0M94.9 72.2h0M114.8 74.2h0M112.9 72.3h0M87.9 79.3h0M115.2 68.3h0M99.1 68.8h0M97.7 80.3h0M113.8 63.8h0M115.1 71.8h0M93.5 77.5h0M113.7 76.9h0M131.9 63h0M101 82.9h0M96.7 67.8h0M94.7 77.9h0M132.8 73.3h0M138.1 76.2h0M128.4 81.4h0M91.6 71.9h0M102 85.9h0M113.4 91.2h0M98.9 68.9h0M112.9 66.9h0M98.3 75.3h0M127.7 78.9h0M121.2 69h0M124.4 82.9h0M95.2 67.2h0M125.9 89.3h0M131.2 77.3h0M122.9 90.2h0M128.2 73.1h0M134.6 76.5h0M117.5 82.7h0M112.2 76.6h0M107.3 83.5h0M107.7 78.4h0M124.8 72.2h0M116.7 70.3h0M127.8 78.7h0M92.3 80.2h0M138.5 80.4h0M117.9 71.1h0M99.2 78h0M100.3 75.2h0M121 75.7h0M89.9 77.1h0M113.1 81.8h0M110 66.4h0M102.4 72.6h0M117.7 67.4h0M91.3 71.8h0M110.6 89.7h0M105.6 86.3h0M115.6 74.5h0M121.6 85.4h0M102.5 65h0M105 73.6h0M132.7 74.6h0M131.4 72.8h0M133.3 76.8h0M135.8 73.1h0M98.1 64.1h0M124.6 65.7h0M102.8 89.9h0M134.4 85.4h0M101.2 72.1h0M108.8 74.6h0M131 64.1h0M117.6 62.6h0M136.4 79h0M115.2 69.8h0M100.2 66h0M133.9 78.5h0M124 71.1h0M119.7 75.8h0M123.8 67.6h0M136.3 80.9h0M127.4 74.9h0M94.4 80.1h0M140.6 73.8h0M91.8 83.8h0M111.8 69.7h0M118.6 85.8h0M116.6 87.6h0M109.8 84.6h0M99.7 83.8h0M136.6 81.3h0M114.4 82.5h0M128.5 76.9h0M101.8 88.5h0M117.3 88.9h0M138 77.2h0M118.1 62.2h0M102.6 66.7h0M88 79.4h0M93.3 66.8h0M140.4 72.7h0M94.5 76.1h0M127.6 78.8h0M132.2 64.2h0M84.9 77.1h0M88.1 69.9h0M107.7 84.5h0M92.7 73.3h0M89.5 69.6h0M98.7 79.9h0M135.1 71.7h0M109.9 74.4h0M101.6 78.1h0M116.7 85.2h0M122.8 79.9h0M122.2 67.6h0M120.1 88.5h0M123.5 75.1h0M130.6 70.5h0M121.3 78h0M126.8 65.7h0M109.1 85.8h0M117.6 61.6h0M116.9 82.6h0M92.1 76.8h0M114.8 69.1h0M92 82.8h0M102.2 84.9h0M111.7 86.6h0M125.3 62.1h0M97.3 78h0M121.7 67.9h0M113.4 90.1h0M114.1 65.4h0M108.2 87.6h0M119.2 62.2h0M113.9 71.5h0M93.9 66.5h0M108 77.5h0M98.2 75.4h0M140.5 77.1h0M115.6 63.3h0M120 90.5h0M93.4 83.4h0M118.1 74.8h0M134.1 71.8h0M112.8 80.8h0M97 89.8h0M118.2 81.1h0M125.3 70.5h0M113.1 66.7h0M119.4 83.6h0M94.6 79.2h0M127.4 84.6h0M120 67.1h0M106.3 73.8h0M117.1 83.1h0M103.8 75.4h0M109.9 78.6h0M119.2 69.7h0M111.9 81h0M98.5 74.7h0M122.8 80.4h0M139.5 72.9h0M113.5 76.4h0M102.7 67.7h0M95.3 83.5h0M115.1 74h0M108.9 90.3h0M121.6 60.4h0M124 74.6h0M124.6 80.5h0M136.9 70.6h0M103.5 75.3h0M123.4 77.2h0M141.5 71h0M95.5 79.2h0M89.9 86h0M126 72.9h0M104.5 91.6h0M89.7 78h0M106.2 71.5h0M129.6 72.9h0M104.9 88.5h0M109.1 62.8h0M96.8 72.6h0M92.4 79.7h0M115.4 80.2h0M101.5 76.3h0M89.5 82.4h0M112 79.5h0M97.4 89.8h0M121.7 81.6h0M111.2 80h0M88.1 77.7h0M100.9 71.1h0M104.3 82.2h0M87.5 75.3h0M116.3 76.6h0M107.4 62.1h0M111.5 81.6h0M112.5 76h0M96.9 72.6h0M137.3 67.3h0M108.1 83.8h0M92.4 88.1h0M129.1 75.5h0M101.8 88.2h0M104.6 78.9h0M103.7 62.3h0M126.1 86.5h0M120.6 72.9h0M83.8 76.7h0M95 84.6h0M89.1 79.2h0M113.2 69.7h0M97.2 66.1h0M110.7 75.8h0M135.2 71.8h0M105.9 86.9h0M117.9 61.5h0M93.5 75.2h0M115.4 77.5h0M117.8 70.5h0M104.8 72.5h0M114.9 75.4h0M116.3 63h0M99.3 87.9h0M116.4 80.9h0M112.7 81.2h0M115.1 79.7h0M120.1 79.7h0M108.2 78.3h0M112 71.6h0M104.3 77.7h0M110.8 72.7h0M116.8 80.7h0M113.9 62.4h0M121.2 67.1h0M101.3 68.7h0M107.3 67.2h0M111.6 85.5h0M117.4 90.5h0M93.6 82.7h0M132.2 81.8h0M110.9 79.2h0M118.5 75.5h0M132.1 69.4h0M95.3 74.7h0M123.4 85.4h0M119.6 60.4h0M119.8 86.1h0M128.2 87h0M132.1 80.3h0M132.7 73.6h0M145.2 73.5h0M137.2 74.3h0M132.6 77.5h0M142.5 66.6h0M144.6 64.9h0M146.4 69.1h0M131.5 66.6h0M140.8 77.8h0M130.2 73.1h0M138 77.4h0M126.6 70.7h0M136.1 71.1h0M143.3 65.1h0M141.1 74.3h0M126.5 75.7h0M136.1 73.2h0M144.3 74.9h0M135 72.6h0M133 67.4h0M142.5 65.8h0M135.5 77h0M139.6 76.6h0M132.7 75.1h0M124.9 71.9h0M126.4 70.8h0M123.4 73.9h0M123.5 71.4h0M126.4 72.9h0M132.2 76h0M135.3 75h0M125.7 78.3h0M130.5 65.5h0M126.2 68.3h0M138.8 71.9h0M145.3 65.7h0M135.4 72.1h0M132.8 78.3h0M90.6 85.4h0M101.4 82.7h0M92.7 70.1h0M99.8 80.8h0M84.8 76h0M87.7 86.6h0M102.3 78.6h0M94.7 91h0M101.2 83.1h0M91.5 82.9h0M88.2 87.1h0M101.1 78h0M93.1 88.6h0M101.5 71.8h0M103.8 81.2h0M97.4 70h0M97.3 86h0M92.7 72.1h0M85.7 77.1h0M104.6 77.1h0M86.7 80.2h0M103.6 83h0M97 75.2h0M92.9 89.7h0M95.1 85.2h0M94.2 76.9h0M96.3 81.5h0M97.7 84.7h0M96.1 78.5h0M91.7 75.1h0M94.3 68.9h0M86 73.4h0M104 78.5h0M88 80.5h0M91.8 73.1h0M95 71.6h0M95.5 75.7h0M97.9 85.5h0M93.2 91.2h0" stroke="#fff" stroke-width="0.75" stroke-linecap="round" fill="none" stroke-opacity="0.8"/><ellipse cx="57" cy="74" rx="26.7" ry="18.1" fill="#a32b1f" fill-opacity="0.88" transform="rotate(8 57 74)"/><ellipse cx="70" cy="66" rx="12" ry="8.6" fill="#a32b1f" fill-opacity="0.88" transform="rotate(0 70 66)"/><ellipse cx="45" cy="80" rx="13.8" ry="11.2" fill="#a32b1f" fill-opacity="0.88" transform="rotate(0 45 80)"/><path d="M81.8 89.5h0M78.3 89h0M79.5 89h0M79.6 85.1h0M42.6 56.3h0M86.1 87.2h0M77.3 69.9h0M74.5 90.6h0M76.3 88.6h0M67.4 60.4h0M33.4 78.7h0M31.2 61.6h0M64.6 91.9h0M40.3 86.1h0M82.2 77.3h0M60 90.8h0M67.5 91.4h0M35.9 86.1h0M83.5 67.1h0M41.8 56.7h0M28.4 76.9h0M26.3 74.6h0M56.2 92.7h0M69.3 57.2h0M74.1 60.1h0M71.6 86.3h0M83.6 85.8h0M73.8 59.2h0M73.5 71.8h0M33.7 77.6h0M83.8 77.1h0M36.2 58.7h0M34.9 70.1h0M85.5 66.1h0M40.2 54.8h0M72.4 92.1h0M38.5 85h0M31.6 81.1h0M82.6 87.1h0M85.4 82.6h0M85 70.9h0M31.4 75.3h0M39.6 85.3h0M66.6 90.7h0M35.9 61.3h0M74.3 89.8h0M41.1 91.5h0M51.1 70.1h0M37.5 90.3h0M78.7 61.1h0M40.5 73.1h0M48.3 88.6h0M41.7 59.2h0M30.9 78.4h0M27.6 66.9h0M28.3 70.3h0M69.2 91.1h0M49.1 84.1h0M65.5 54.8h0M57 91.1h0M48.4 93.3h0M61.7 58.4h0M28.9 60h0M67.5 61.3h0M40.6 65.6h0M42.7 80.3h0M48.7 65.4h0M46.5 77.1h0M62.4 91.2h0M76.4 81.2h0M41.7 55.5h0M61.7 58.2h0M71.6 93.3h0M30.3 67.9h0M54.2 86.9h0M54.8 58.8h0M36.6 85.7h0M58.8 90h0M30.8 79.8h0M70.4 62.5h0M82.2 71.8h0M80.7 70h0M67.1 62.9h0M45.7 94.5h0M37.5 81.2h0M86.2 71.2h0M40.6 67.5h0M80.1 71.8h0M29.2 71.5h0M72.3 88.1h0M84.1 68h0M34.8 76.8h0M36.1 75.1h0M65.5 84.3h0M77 75.3h0M60.8 87.8h0M39.6 86.8h0M64.4 94.8h0M91.9 82.5h0M35.4 79.9h0M81.2 68.2h0M31.4 65.2h0M70.7 85.5h0M60.7 92.1h0M61.7 94.2h0M36.5 80.2h0M65.4 60.5h0M71.9 61.3h0M80 69.8h0M29 63.4h0M42.8 94.2h0M31.9 85.9h0M82.8 79.1h0M35 63.8h0M36.5 68.5h0M56.3 53.4h0M50.9 88.7h0M55 56h0M33.1 64.6h0M74 65.6h0M72.2 93.7h0M41 86.7h0M39.9 84h0M60.4 90h0M30.3 69.7h0M85.8 80.8h0M71.6 80.1h0M67.8 68.6h0M45.8 58.5h0M31.5 75.9h0M51.6 90.6h0M36 79.1h0M61.5 97.6h0M87.4 80.5h0M27.8 79.7h0M73.3 90.1h0M54.8 54.7h0M66 61.2h0M60.2 51.4h0M74.2 61.6h0M77.4 63.4h0M64.1 86.2h0M41.3 92.6h0M44.8 94.3h0M37.5 64.5h0M69.2 93.7h0M76.8 62.1h0M33.5 74.6h0M74.2 64.2h0M30 72.4h0M37.8 61.8h0M74.2 60.5h0M56 90.9h0M47.7 59.5h0M47.2 56.9h0M60.1 94h0M82.7 78.4h0M75.3 72.7h0M55 66.7h0M40.9 79.6h0M53.4 56.5h0M62.2 60.3h0M46.2 75.9h0M82.8 88.1h0M55.2 52.4h0M28.9 77.3h0M35.9 82.9h0M49.4 54.4h0M36 87.3h0M42.3 61.9h0M84.5 73.9h0M78.7 64.1h0M67.9 96h0M62.5 56.5h0M78.3 79.7h0M67.8 83.2h0M36.7 71.6h0M66.4 96.1h0M42.6 62.5h0M27.1 79.9h0M55.9 89.6h0M69.8 89.9h0M39.2 92.7h0M31.3 88.7h0M54.5 95.2h0M50.6 80.6h0M63.4 60.2h0M79.3 82.3h0M55 63.6h0M82.8 66.2h0M49.6 87.3h0M74.7 66.2h0M56.5 60.3h0M29.3 74.2h0M35 69.7h0M55.6 53.7h0M48 78.5h0M75.4 60.9h0M38.4 62.9h0M30 65.2h0M69.8 89.2h0M75.5 80.8h0M32.8 59.6h0M67 53.7h0M66.3 92.1h0M57.7 55.9h0M60.5 70.2h0M75.6 58.9h0M50.9 96.6h0M74.9 58.1h0M35.6 66.2h0M31.8 85.4h0M68.6 92.7h0M47.1 69.3h0M80.9 87.8h0M65.4 65.8h0M84.4 77.4h0M73.6 60.4h0M78.8 59.9h0M34.2 59h0M78.6 67.7h0M64.4 90.3h0M48 92.9h0M82.3 74.9h0M28.4 65.2h0M44 90.9h0M32.1 78h0M65.6 90.3h0M55.3 94.7h0M59.3 55.7h0M47.6 92.5h0M72.9 63.9h0M79.3 59.8h0M35.2 92.8h0M55.6 61.4h0M69.1 93.9h0M37.4 57.5h0M44 53.4h0M80.5 87.5h0M54.7 95.8h0M61.2 59.9h0M38.4 70.5h0M44.7 76.4h0M83.9 75.2h0M65.3 56.6h0M44.4 68.2h0M71.3 62.5h0M81.8 83.2h0M76.1 88.3h0M35.6 77.9h0M47.7 89.8h0M55.3 93.8h0M85 71.9h0M57.3 94.7h0M49.1 83.9h0M80.6 69.4h0M61.6 57h0M68.6 57.4h0M44.9 66.7h0M48.4 57.8h0M33.2 74.1h0M79.7 82.3h0M72.8 81.5h0M60.6 59.4h0M84.3 87.3h0M72.5 86.1h0M61.4 58.7h0M67.3 57.4h0M87.5 67h0M78.6 87.7h0M48.8 91.6h0M78.6 62.2h0M32.2 72.1h0M55 50.1h0M48.7 81.6h0M36.7 56.8h0M29 73.9h0M78 65.9h0M78.1 59.4h0M43.4 62.6h0M55.3 58h0M77.7 80.5h0M43.7 87.2h0M67.6 85.9h0M55 60.4h0M29.4 84.5h0M54.6 58.3h0M79.1 78.4h0M76.3 84h0M55.8 64.2h0M42.7 86.3h0M37.3 89.7h0M48.2 55h0M78.1 89.8h0M74.1 67.8h0M32 79.2h0M35.6 80h0M32.8 57.1h0M31.1 74.6h0M64.4 93.2h0M45.2 93.7h0M55.8 89.6h0M77.6 57.5h0M31.3 68.6h0M79.4 91.6h0M30.7 79.1h0M64.9 96.2h0M78.7 85h0M39.6 71.4h0M40.5 57.5h0M43.8 60.5h0M47.5 52.1h0M66.6 58.8h0M78.7 82.1h0M60.9 58.1h0M69.4 57.3h0M26.1 76h0M75.8 64.8h0M58.1 65.1h0M53.2 58.3h0M74.9 87.3h0M78.1 72.5h0M62.5 56.5h0M67.7 85.5h0M69.5 54.3h0M43.5 68.8h0M79.5 85.9h0M51.4 92.5h0M65.2 92.5h0M28.9 80h0M71.3 71.3h0M36.2 71.9h0M60.5 58.1h0M78.1 75.4h0M71.9 87.3h0M39.8 89.1h0M49.2 89.4h0M82.2 75.6h0M26.7 76h0M84.6 70.7h0M60.8 93.1h0M60.1 65.2h0M37.6 57.7h0M61.7 57.8h0M49.6 86.2h0M48.9 56.7h0M77.9 88.8h0M42.9 56.9h0M27.6 79.2h0M47 90.3h0M40.7 76.5h0M82 73.3h0M35 80h0M63.9 89.5h0M85.5 88.3h0M63.2 69.2h0M86.3 83.6h0M72.5 74.1h0M46.5 95.5h0M60.5 68.9h0M66.5 64.4h0M52 65.7h0M84.1 69h0M70.8 59.7h0M28.2 79.7h0M86.8 75.1h0M25.9 65.2h0M44.5 87.3h0M32.3 71.2h0M57.6 85.3h0M56.1 56.1h0M38.1 90.2h0M73.2 63.4h0M78.9 82.3h0M42.9 76.1h0M33 83.1h0M58.3 95.7h0M85.8 79.5h0M77.1 74.1h0M83.8 87.8h0M34.3 68.2h0M40.3 54.9h0M35.4 70.7h0M79.9 91.1h0M45.2 87.4h0M85.7 76.5h0M74.3 90.7h0M34.9 86.1h0M36.4 69.9h0M70 86.2h0M79 71.9h0M63.8 92.3h0M31.7 69.8h0M42.7 56h0M71.2 82.8h0M80.8 59.2h0M39.3 60h0M32.3 68h0M77.8 68.7h0M54.5 92.4h0M58.5 85.2h0M44.4 61.7h0M55.5 59.2h0M77.5 68.1h0M57.3 57.9h0M83.2 70.6h0M61.1 60.2h0M33.6 84.9h0M62.1 88.7h0M55.5 82.5h0M58 53.8h0M32.1 57.6h0M31.8 76.8h0M32.8 78.6h0M54.1 92.2h0M44.9 75.2h0M74.8 91.9h0M60.3 65.3h0M80.7 79.3h0M35.1 90.4h0M61.2 93.9h0M86.3 79.6h0M86.3 74.7h0M44.7 90h0M79 83h0M55.2 86.1h0M75.2 81.5h0M74.5 59.4h0M66.3 89.9h0M81.9 82.5h0M26.6 68.2h0M79.4 66.9h0M60.3 94.1h0M44.8 71.4h0M49.1 87.9h0M80.9 75.9h0M53.3 89.4h0M81.3 70.2h0M55.2 92.3h0M77.5 69.2h0M72.7 93.5h0M30.8 71.8h0M50.6 81.8h0M29.8 65.9h0M66.6 67.2h0M60.5 91.6h0M67.4 58.3h0M45.2 58.4h0M45.2 83.7h0M43.4 84.2h0M63.4 52.6h0M37.2 58h0M65.3 88.5h0M72.4 85.4h0M33.7 75.9h0M42.4 57.8h0M29.5 67.5h0M70 87.5h0M47.5 93.1h0M55 55.8h0M42.3 85.7h0M35 73.2h0M81.3 78.3h0M31.2 82h0M27.6 71.8h0M82.4 61.7h0M74.9 68.9h0M73.9 55.7h0M46.7 87.7h0M63.9 57.6h0M46.9 59.5h0M85.1 71.4h0M32.4 86.7h0M80.2 64.5h0M33.8 70h0M66.3 61.9h0M78.3 90.8h0M32 64.2h0M78.6 65.4h0M43.9 82.4h0M50 86.5h0M73.2 78.5h0M75.9 86.2h0M70.8 84.1h0M50.2 59.5h0M45.9 60.1h0M81.9 89.3h0M55.8 79.5h0M73.2 85.3h0M61.9 90.4h0M64 57.1h0M83.1 65.4h0M41.5 87h0M73.5 76.2h0M41.6 68.1h0M83 77.4h0M74.2 88.4h0M47 90.4h0M35.9 63.2h0M45.8 57h0M83.2 76.8h0M68.6 69.2h0M49.5 84.3h0M73.6 65.1h0M63.1 55.5h0M72.8 78.8h0M81.9 75.9h0M71.1 89h0M33.9 65.9h0M60.4 57.2h0M65.1 54.5h0M52.3 52.8h0M72.7 89.8h0M32.6 68.8h0M85 75h0M30.8 79.6h0M63.2 61.1h0M55.4 91.9h0M73 69.3h0M57.3 91.5h0M51.8 80.4h0M35.3 59h0M30.3 81h0M79.6 64.4h0M72.4 93.9h0M56.7 85h0M61 65.4h0M58.9 91.7h0M84.1 64.2h0M48.1 68.8h0M31.6 66.3h0M83.4 71.5h0M59.8 56.9h0M45 88.5h0M83.4 79.1h0M44.5 55.8h0M52.1 88.3h0M80.9 70.3h0M27.9 75.4h0M40.8 56.4h0M73.6 90.1h0M83.7 75.2h0M67.6 92.3h0M53.7 58.7h0M76.4 63.9h0M63.7 54.2h0M49.4 88.1h0M42.2 74.6h0M87.3 76.2h0M80.4 65h0M37.3 84.3h0M70 93.1h0M77.1 82h0M78.3 60.7h0M78.6 62.6h0M77.9 80.8h0M26.2 59h0M35.5 79h0M36.2 80.2h0M66.4 91.5h0M41.8 63h0M51.5 86.9h0M74.2 90.5h0M74.7 91h0M82 75.9h0M74.4 66h0M30.9 65.5h0M61.7 58.6h0M35.2 70h0M37 74.3h0M34.8 85.3h0M49.5 88.1h0M68.7 65.7h0M53.3 88.6h0M63.6 53.4h0M63.9 94.2h0M72.2 88.1h0M68.4 60.5h0M73.7 86.8h0M50.3 62h0M65.6 89.9h0M52.8 90.9h0M39.6 90.4h0M79.7 63.3h0M79.5 86.8h0M61 85.9h0M32.6 69.5h0M82.9 83.9h0M74.2 60.6h0M38.4 66.2h0M56.8 90.5h0M89.1 80.4h0M36.5 85.3h0M55.2 86.2h0M81.6 74.2h0M55.4 92.3h0M66.2 60.9h0M78.4 68.3h0M58.8 60.1h0M40.1 85h0M58.2 87.4h0M45.7 53.7h0M86.4 73.1h0M84 62.7h0M70.4 63.2h0M78.4 90.5h0M39.7 85.1h0M49.5 84.8h0M83 81.7h0M88.1 70h0M62.3 88.2h0M79.5 61.4h0M80.8 79.1h0M41.4 81.8h0M71.9 75.2h0M35.2 74h0M73.2 87.2h0M82 74.5h0M25.5 73.5h0M78.8 87.4h0M45.5 88.5h0M35.3 59.6h0M77.7 72.8h0M66.1 61.9h0M29.6 83.1h0M75 81.7h0M65.8 88.1h0M27.8 75.7h0M43.3 84h0M50.4 57.3h0M58.9 91.9h0M88.2 79.1h0M74.3 85.8h0M41.9 85.2h0M72.8 80.8h0M68.4 86.7h0M71.8 91.4h0M37.2 64.9h0M61.7 92.6h0M40.2 65.9h0M43.7 91.4h0M33 83h0M80.3 62.1h0M25.5 75h0M68.6 61.6h0M37.6 60.2h0M88.5 76.5h0M31.2 80.8h0M70.4 58.6h0M39.1 88.4h0M82.3 64.1h0M59.6 93.8h0M81.6 92.3h0M80.2 67h0M36.3 58.8h0M66.7 76.3h0M57.3 57.8h0M64.5 77.6h0M81.7 71.5h0M53.2 87.2h0M60.7 92.2h0M29.5 80.2h0M82.9 84.9h0M28.8 66.6h0M65.6 90.7h0M82.9 72.5h0M46.3 88.4h0M61.2 93.4h0M71.1 65.1h0M67.3 55.1h0M47.2 87.6h0M54.3 55.8h0M81.9 77.2h0M27.2 68.3h0M81 63.3h0M36.6 84.6h0M31.9 78.1h0M64.3 98h0M72.7 90.1h0M53.7 85.3h0M79.5 79h0M43.2 90.6h0M74.3 63.9h0M70.1 63.3h0M35.7 84.2h0M84.4 75.9h0M56.5 54.2h0M91.8 74.5h0M77.4 86.3h0M47.8 86.6h0M33 72.9h0M26.3 66.1h0M67.2 88.3h0M78 73.5h0M71.9 79.1h0M67.5 94.2h0M76.9 67h0M34.5 59.4h0M45.9 83.4h0M24.7 81.7h0M56.2 65.5h0M29.8 71.8h0M37.7 59.7h0M46.3 60.1h0M32.7 84.8h0M80.3 72.5h0M73 86.1h0M42.2 72.7h0M41.2 56.4h0M45.7 92h0M64.9 60.3h0M69 70h0M76.1 80.4h0M84 75h0M69.4 96.1h0M38.6 82.7h0M73.3 73.7h0M76 82.1h0M56.2 90.5h0M80 80h0M75.4 60.4h0M37.6 59.9h0M38.1 68.2h0M68.2 93.6h0M72.9 91.9h0M68.7 64.9h0M34.6 61.9h0M30.5 59.7h0M79.4 75.4h0M43.1 88h0M83.1 67.8h0M31.2 71.8h0M47 67h0M37.5 75.3h0M67.6 95.2h0M34.4 82.3h0M59.3 60.7h0M44.2 57.8h0M72.6 83.2h0M73.4 78.7h0M39.7 75.3h0M65.6 81.9h0M35.3 66.5h0M76.6 63.1h0M25.5 71.3h0M72.4 70.8h0M51.1 83.9h0M33 88.1h0M72.9 65.7h0M82.2 84.4h0M32.8 75.4h0M66.2 55.4h0M81 79.2h0M75.4 61.4h0M68.1 70.1h0M36.4 65.3h0M75.2 61.8h0M63.7 93.3h0M49.8 56.2h0M83.5 64.5h0M69.8 87.3h0M83.4 78.8h0M65 73.6h0M80.5 74.7h0M26.2 72.8h0M89 68.1h0M78.7 87.5h0M32.2 81.6h0M69.8 62h0M50.3 82.7h0M80.8 80.7h0M84.6 77.1h0M62.1 89.2h0M68.7 57.5h0M50.1 52.9h0M72.3 59.2h0M32.3 61.5h0M35.3 60.9h0M79.3 65.4h0M39.5 81.3h0M27.1 72.8h0M69.2 87.1h0M32.4 60.1h0M81.8 66h0M29.3 57.7h0M63 85.2h0M31.5 66h0M77.9 63.3h0M79.6 66.9h0M83.8 82.2h0M46.7 56.3h0M81.2 77.4h0M31.9 73.3h0M49.3 52.2h0M57 92.5h0M36.2 84.9h0M62.1 58.4h0M32.9 82.3h0M38.8 78.1h0M45 69.7h0M33.2 60.6h0M73.1 68.1h0M60.1 56.2h0M80.9 81h0M30.3 82.2h0M42 86.5h0M68.9 62.8h0M69.1 86.9h0M58.6 89.6h0M39.5 61.7h0M44.1 84.2h0M69.6 61.9h0M35.9 64.5h0M49.3 58.5h0M76.9 70.1h0M69.7 65.4h0M79.2 79.2h0M38.8 79.1h0M38 78h0M52.2 53.9h0M37.2 59.6h0M29.9 80.6h0M72.9 67.2h0M29.6 76.7h0M34.2 84.9h0M33.9 77h0M87.5 84.7h0M48.6 91.7h0M60.9 62h0M72.8 91.1h0M35.8 80.7h0M72.7 61.4h0M67.1 59.6h0M64.9 94.3h0M40.1 86.7h0M77.2 65.5h0M90.2 80.3h0M43.4 66.9h0M37.9 86.9h0M78.2 86.4h0M44.7 67.6h0M85.6 77.2h0M69 87.9h0M62.2 62h0M39.9 83.6h0M38.5 57.9h0M80.1 91.9h0M61.5 92.6h0M34 85.1h0M38.3 77.2h0M46.7 87.6h0M82.6 72.8h0M42.6 90h0M39.2 59.1h0M69.5 93.4h0M27.4 68h0M36 60.4h0M47.3 89.8h0M73.9 75.3h0M47.1 91.3h0M59.9 83.2h0M65.7 92h0M49.2 60.2h0M90.9 74.5h0M81 68h0M54.7 81.1h0M39.4 85.5h0M53.1 55.5h0M46.8 54.8h0M81.4 80.2h0M38 86.5h0M72.5 62.1h0M63.4 54.6h0M69.1 87.7h0M46.6 81.7h0M34.5 82.7h0M67.7 59.1h0M62.7 95.3h0M33.5 75.5h0M58.4 64.7h0M78.1 79.5h0M68.6 82.1h0M84.2 75.6h0M56 91.9h0M25.9 72.5h0M35.6 77.5h0M34.6 82.9h0M81.6 81.2h0M84.5 70.4h0M79.4 83.9h0M32.1 63h0M56.5 90.8h0M51 60.3h0M48.1 92.8h0M57.7 60.8h0M34.5 57.6h0M36.5 69.1h0M68.8 95.3h0M42.4 67.5h0M85.5 69.7h0M52.8 67.4h0M71.2 59.9h0M59.4 90.3h0M30.9 82.8h0M84 71.3h0M73.2 91.8h0M40.1 79h0M75.3 67.7h0M29.6 72.2h0M57.8 94.5h0M53.5 88h0M35 79h0M83.1 66.6h0M72.5 87.7h0M53.9 90.3h0M40.9 89.9h0M45.7 81.7h0M68.5 86.3h0M33.8 83.4h0M83 75.9h0M57.2 86.6h0M31.2 71.8h0M55.4 62.5h0M35.7 85.2h0M45.5 59.4h0M87.1 72h0M34.7 67.4h0M51.6 92.1h0M74.8 56.9h0M72.4 90.4h0M60.3 94.6h0M76.8 80.1h0M31.2 62.5h0M26 78.9h0M80.6 67.3h0M34.3 75.6h0M62.6 59.2h0M61.2 96.4h0M32.6 67.4h0M55.4 86.4h0M77 86.5h0M78 91.7h0M45 58.6h0M75.1 92.7h0M82.8 71.3h0M62.2 61.1h0M61.7 53.6h0M66.7 92.6h0M32.8 81.3h0M60.8 64.5h0M36.7 61.7h0M69 53.7h0M24.9 72.5h0M59.2 86.8h0M87.7 71h0M45.1 89.1h0M36.4 54.6h0M46 77.2h0M36.7 82.8h0M36.6 89.3h0M35.5 65h0M44.5 56.9h0M45.8 90.8h0M64.9 64.2h0M60.8 59.7h0M43.1 54.8h0M68.3 60.6h0M49 91.6h0M38.3 89.6h0M73.1 91h0M42.3 58.2h0M81.8 81.7h0M73.3 69.8h0M39.3 77.3h0M68.4 91.3h0M31.2 75.2h0M45.8 87.8h0M32.2 84h0M47.3 50.6h0M78.5 58.8h0M79.2 62.9h0M49.5 80.3h0M60.5 86.2h0M45.9 94.7h0M47.9 58.7h0M37.3 65.1h0M75.4 91.9h0M26.7 73h0M82.5 84.7h0M85.2 79.8h0M43.3 53.4h0M60.2 55.9h0M67.9 59.2h0M83.3 80h0M61.2 53.6h0M32.6 75.4h0M77.1 89.6h0M61.9 88.4h0M27.6 72.7h0M34.4 60.5h0M51.3 88.7h0M42.5 79.8h0M46.4 64h0M34.9 59.5h0M29.6 78.8h0M72.4 92.1h0M77.4 72.4h0M30.9 68.8h0M41.4 59.1h0M39.4 63.3h0M57.8 52.5h0M81.3 67h0M85.7 73.8h0M57.6 52.6h0M79.1 83.3h0M86.1 80.2h0M29.2 75h0M37.4 87.6h0M87 81.8h0M79.1 64.7h0M84.9 77.3h0M25.2 78.2h0M53.8 84.5h0M75 63.5h0M44.4 60.7h0M63.6 55.5h0M44.4 60.8h0M78.2 80.2h0M30.8 74.2h0M67.1 77.8h0M73.9 85.2h0M41.6 90.4h0M59.1 96h0M48.1 55.5h0M37.6 68.4h0M69.7 67.7h0M69.9 60.2h0M31.5 64.9h0M70.2 58.9h0M47.6 58.5h0M77.2 59.3h0M70.9 75.2h0M62.8 61.7h0M57.6 62.1h0M60.8 58.8h0M67.3 58.7h0M75.5 60.8h0M76.5 71.8h0M76.7 60.6h0M72.5 74.6h0M62.9 60.4h0M58.4 71.5h0M62.3 64.1h0M59.1 59.7h0M77.8 69.6h0M82.9 61.6h0M70.1 74.5h0M64.7 57.6h0M59.7 72h0M62.3 72.1h0M70.8 57.6h0M79.6 59.9h0M62.2 65.9h0M60.9 73.4h0M57.3 63.6h0M67.1 60.7h0M64.7 73.2h0M73.8 72.6h0M61.2 61.8h0M74.7 63h0M70.8 58.2h0M82.9 59.9h0M63.5 63h0M67 72.2h0M80.1 69.2h0M60.8 70.5h0M76.2 63.2h0M56.7 68.8h0M57.3 64.4h0M59.5 65.1h0M63.9 61.8h0M72.7 56.4h0M79.6 71.9h0M65.4 59.9h0M75.7 74.3h0M59.1 61h0M73.9 57.4h0M80.3 62.7h0M59 70.9h0M66.8 60.3h0M79 72.4h0M78.5 61h0M61.2 62.2h0M72.3 58.3h0M62.3 61.7h0M75.1 71.5h0M77.8 57.7h0M68.5 56h0M77.9 69.9h0M59.1 71.4h0M57.3 66.4h0M58 58.1h0M81.5 71.2h0M78.4 56.6h0M66.2 75.5h0M77.9 71.5h0M79.3 65.1h0M56.6 66.8h0M74.7 60.3h0M77.9 58.8h0M77.3 74.6h0M79 58.5h0M80.5 71.2h0M59.3 63.5h0M58.6 63.9h0M76.2 74.6h0M66.1 74.8h0M57 69.6h0M61.1 58.6h0M65 73.2h0M81 65.7h0M68.6 75.1h0M60.8 70.5h0M62.9 71.9h0M83.2 68.7h0M80.4 63.1h0M80.7 69.7h0M76.5 57.2h0M76.6 74.5h0M60.4 69.8h0M80.9 69.2h0M82 62.3h0M80.9 62.6h0M61.9 62.3h0M81.1 61.2h0M62.1 57.5h0M75.6 73.7h0M72.7 74.9h0M78.2 56.4h0M79.7 61.9h0M52.3 70.6h0M48.8 70.6h0M33.7 88.7h0M46.8 70.4h0M37.6 70.4h0M45.5 69.2h0M56.4 73.2h0M56.5 87.5h0M37 90.5h0M35.3 83h0M54.2 86.1h0M59.1 80.3h0M42.2 69.3h0M56.2 79.9h0M48.5 91h0M36.6 84.5h0M30.5 87.7h0M42.7 69.3h0M60 80.8h0M56.4 74.4h0M37.3 75.7h0M47.5 70.9h0M55.4 84.8h0M53.8 82.2h0M39 73.5h0M49.9 73.5h0M35.1 86h0M41.9 89.6h0M52 81.3h0M45.2 69h0M42.6 67.5h0M56.6 79.8h0M33.9 80h0M56.5 88.1h0M48 89.5h0M56.1 87.2h0M30.2 73.2h0M50.7 88.4h0M37.8 76h0M43 71.5h0M36.1 87.4h0M32.2 79.5h0M30.8 76.6h0M29.8 81.6h0M33.1 74.2h0M36.4 90.9h0M55.6 83.2h0M36.2 70.5h0M35.7 74.2h0M47.8 65.8h0M34.4 73h0M35.6 88h0M36.2 84.3h0M29.8 78.8h0M31.8 86.6h0M44.2 71.4h0M54.3 74.7h0M37.8 68.8h0M58.8 74h0M56.9 76h0M57.1 76.4h0M55.1 91.6h0M37.8 91.3h0M50 73.8h0M60.4 83.6h0M32.7 81.9h0M56.8 70.8h0M50.7 73.3h0M36.5 89.7h0M38.2 72.6h0M57.1 73h0M40.2 88.2h0M34.4 74.4h0M31.9 75.3h0M30.9 77.5h0M39.2 71.6h0M55.7 79.6h0M32.8 87.4h0M31 76.7h0M60 81.7h0M60.5 76.5h0M35.2 71.7h0M52.1 71.7h0M52.9 71.7h0M30.9 82.1h0M56.4 81.9h0M45.1 77.2h0M60.3 79.7h0M35.1 86.7h0M61.2 75.5h0M40.5 74.1h0M53.7 82h0M43.3 71.7h0M37.9 82.5h0M52.2 86.4h0M36.7 91.3h0M40.9 87.1h0M55.5 87.4h0M44.7 70h0M39.5 90.4h0" stroke="#a32b1f" stroke-width="1.15" stroke-linecap="round" fill="none"/><path d="M48.8 73.8h0M52.5 59.7h0M52 73.7h0M52.3 81.3h0M60.8 73.3h0M38.6 78.7h0M59.7 79.7h0M69.1 67.5h0M66 66.7h0M55.7 69.9h0M61.2 84.7h0M77.3 75.6h0M64.2 63.3h0M35.1 82.4h0M70.8 78.8h0M76.5 66.5h0M82.2 69.2h0M58.1 71.1h0M43.9 77.7h0M57.1 60.1h0M33.6 81.7h0M66.7 84.6h0M47.2 58.2h0M44.1 75.2h0M70.5 89.1h0M67.8 78h0M53.6 61.2h0M64.3 74.4h0M44.7 70.6h0M50.6 76.3h0M64.4 71h0M36.1 74.4h0M43.8 80.2h0M66.4 74.2h0M53.6 87.6h0M51.6 75.8h0M45.3 58.7h0M70.4 81h0M60.5 72.7h0M35.9 60.8h0M47.9 88.4h0M39.9 77.9h0M71.4 68.6h0M63.1 84.4h0M55.6 72.9h0M79.6 82.8h0M54.4 72.5h0M71 81.7h0M71.6 81.9h0M46.8 87.2h0M69.5 83.8h0M64.2 82.8h0M75.5 89.6h0M40.5 87.5h0M68.3 88.7h0M58.4 79.2h0M35.4 75.9h0M79.5 73.4h0M56.9 73h0M80.3 65.9h0M58.6 91.8h0M42.9 56.6h0M55.8 74.2h0M57.3 70.7h0M48.9 68.2h0M66.6 82.8h0M58.9 91.1h0M64.8 77.5h0M63.9 73.6h0M35 68h0M61.2 73.6h0M55.2 72.2h0M67.8 66h0M50.5 85.2h0M40 84.8h0M61.4 82.8h0M37.1 76.9h0M32.4 79.8h0M77.3 76.5h0M66.8 69.8h0M47.5 66.6h0M66.7 71.8h0M80.1 70.5h0M35.2 79.1h0M82.6 78.7h0M39.1 77.7h0M63.5 71.4h0M49.8 71.9h0M78.6 64.1h0M56 79.9h0M72.6 77.4h0M45.8 83.2h0M53.5 75.5h0M48.8 69.9h0M47.4 63h0M37.3 68.5h0M52.3 60.3h0M37.8 80.8h0M71.9 76.8h0M50.9 61.7h0M40.8 65.1h0M36.8 76.5h0M58.4 71.9h0M68.4 78.9h0M40.6 59.7h0M40 83h0M64.6 83.8h0M58.7 91.3h0M39.1 62.8h0M58.4 56.8h0M37.9 65.3h0M50.3 68.5h0M48.8 80.4h0M41.7 86.1h0M40.7 62.7h0M58.8 59.9h0M29.4 71.3h0M72.2 66.4h0M56.1 72.8h0M78.9 80.5h0M54 79.1h0M64.4 85.1h0M52.4 69.8h0M67.2 84.4h0M52.7 66.8h0M57.1 84.6h0M71.8 91.1h0M44.3 67.9h0M53.1 71.5h0M64 60.5h0M50.3 84.8h0M52.9 67.6h0M62.1 55.9h0M46.6 86.9h0M42.6 75.4h0M43.9 71.1h0M34.6 80.4h0M80.9 69.7h0M54.9 83.5h0M57.2 82h0M55.5 65.7h0M64.9 64.1h0M60.1 70h0M61.4 63.9h0M55.8 63.9h0M55.3 69.5h0M67 76.3h0M77.2 85.9h0M63.9 78.5h0M59.2 73.3h0M37.9 71h0M43.1 59.3h0M72.6 89.4h0M61.1 72h0M49.8 72.1h0M44.1 67.2h0M62.5 87.8h0M67.4 82.3h0M83.1 74.9h0M38 59h0M58.1 72.6h0M78.4 72.1h0M66.7 88.2h0M66.1 86.9h0M63.3 91.6h0M60.3 78.3h0M34.7 68.3h0M77.7 70.7h0M44.4 75.8h0M41.7 67.8h0M38.3 59.3h0M67.8 70.2h0M63.2 57h0M81.5 83.1h0M58.9 56.5h0M35.6 61.2h0M73.5 60.4h0M67.6 63.7h0M59.1 79h0M38.8 83.2h0M52.7 82.7h0M63.1 71.1h0M43.8 87.3h0M76.3 71.9h0M61 73.7h0M43.6 59.8h0M49.3 68.3h0M52.7 89.4h0M65 62.1h0M41.7 73.9h0M72.8 89.8h0M72.2 64.8h0M39.7 63.1h0M49.4 76.5h0M55.1 58.2h0M75.8 85.4h0M54.3 76.4h0M30.6 70.3h0M76 70.8h0M64 84.3h0M61 81.2h0M50.6 61.3h0M73.2 88.6h0M64.9 58.8h0M76 83.8h0M42.1 59.3h0M39.4 58.7h0M76.4 80.7h0M49.3 63.7h0M70 88.1h0M75.1 63.5h0M34.1 64.6h0M39.6 72.3h0M60.7 78.3h0M42.9 70.5h0M43.5 77.5h0M58.3 75.1h0M67.6 86.9h0M61.4 84.1h0M74.5 71.8h0M81.3 72.6h0M34 78.8h0M41 86.9h0M51.8 75.5h0M60.2 87.5h0M69.4 82.8h0M47.3 68.9h0M35.9 76.8h0M31.6 65h0M32.2 67.5h0M48.4 72.1h0M55.2 78.2h0M54.1 58.5h0M59.4 67.1h0M43.8 72.1h0M58.4 58.1h0M31.8 70h0M76 66.4h0M78.7 79.6h0M59.5 74.5h0M61.4 59.3h0M59.7 92.8h0M61 70h0M49.7 66.2h0M57.9 60.3h0M48.3 75.4h0M45.4 79.3h0M55.8 85.8h0M54.8 74.9h0M57.8 74.9h0M48.7 85.5h0M56.6 62h0M69.3 75.9h0M71.3 84.1h0M60.4 63.5h0M78.3 71.4h0M60.3 89.5h0M59.4 89.7h0M38.2 73.6h0M40.8 86.6h0M83.5 72h0M52.1 79.1h0M36 74.9h0M38.1 76.3h0M45.7 77.4h0M39.8 77.3h0M43.3 82.4h0M65.9 89.8h0M56.7 79.5h0M46.7 77.1h0M79.9 69h0M50.6 72h0M78.1 76.9h0M50.5 62.6h0M46.8 75.9h0M81.9 77.6h0M79.8 75.9h0M44.9 78.5h0M62.5 77.2h0M49.4 81.9h0M64.5 68.9h0M76.6 78.1h0M48.1 68.4h0M66 89.8h0M54.3 84.4h0M44.1 74.4h0M69.6 84.4h0M34 82.6h0M39.5 64.9h0M74.6 67.1h0M51 88.6h0M41.8 68.3h0M48.8 76.5h0M61.6 84.4h0M75.6 79.9h0M37.9 75.1h0M45.1 79h0M55.2 64.6h0M59.7 86.9h0M58 65.4h0M73 85.6h0M62.9 76.6h0M54.2 70.5h0M50.6 81.8h0M69.9 64.7h0M70.6 79.8h0M76.7 82.7h0M54.4 91.4h0M53.2 68h0M72 88.6h0M69.5 61.5h0M36.8 83.6h0M78.3 64.9h0M36.9 84.6h0M63.6 87.6h0M69.7 63.1h0M78.6 71.9h0M72.7 87.6h0M70.7 90.3h0M45.3 57.2h0M54.5 58.3h0M44.4 79.8h0M60.8 73.5h0M39.3 58.3h0M65.1 89.9h0M57.6 73.2h0M51 87.9h0M68.7 57.7h0M56.5 87.5h0M57.1 79.1h0M39.7 61h0M41.6 83.5h0M70.4 64.8h0M48.2 79.7h0M33.8 81.8h0M56.3 74.4h0M39.6 62.4h0M49.5 90.6h0M69.8 63h0M78.3 67.1h0M60.4 60.7h0M76.8 59.7h0M81.2 67.3h0M72.7 71.3h0M72 57.4h0M63.1 60.5h0M79 69.5h0M61.7 59.6h0M60.1 61.1h0M70.9 60h0M59.6 68.9h0M77.2 64.9h0M72.8 58.3h0M69.6 61.3h0M67.4 59.7h0M79.7 62.7h0M78.4 64.2h0M73.2 65.7h0M75.1 67.2h0M70 63.9h0M63.3 66.8h0M76.5 65.1h0M72.1 60.2h0M66.5 61.7h0M71.8 64.5h0M61.2 62.1h0M69.5 65.2h0M80.6 65.4h0M75.3 61h0M73.2 69.1h0M48.5 90.8h0M56.2 79.5h0M46.7 88.2h0M42.8 83.7h0M50.3 69.4h0M44.4 82.1h0M43.5 80.7h0M45 80.3h0M49.5 82.8h0M51.7 86.4h0M59.2 82h0M45 72.1h0M57.4 82.9h0M38.7 85h0M56.8 76.5h0M55.9 75.5h0M51.8 88.5h0M45.4 77.9h0M55.1 76.6h0M36.9 85.3h0M36 82.7h0M32.7 80.8h0M36.3 80.6h0M58.9 83.1h0M54.4 77.6h0M44.2 82.1h0M36.7 84.3h0M55.3 74h0M55.7 72.8h0M42.2 71.5h0M53.7 74h0M38.4 88.2h0" stroke="#fff" stroke-width="0.75" stroke-linecap="round" fill="none" stroke-opacity="0.8"/><ellipse cx="64" cy="47.5" rx="9" ry="3.6" fill="#5ab4e6" fill-opacity="0.88" transform="rotate(-8 64 47.5)"/><path d="M53.7 48.2h0M53.4 48.8h0M63.6 51.2h0M73.4 45.7h0M73 43.5h0M69.7 50.4h0M68.8 46.9h0M67.6 46.7h0M67.2 50.1h0M73.2 46.6h0M63.7 48.6h0M57.2 50.8h0M74.9 46.1h0M70.6 47.2h0M62.8 44.6h0M70.7 46.4h0M73.4 46h0M54.5 50.6h0M74 44.7h0M56.9 49.9h0M64.3 50.7h0M70.6 46.8h0M70.8 47.6h0M62.2 46.8h0M59.9 51.4h0M73.6 46.5h0M57.2 45.2h0M73.3 47h0M66.6 43.1h0M62.5 44.9h0M63.7 50.7h0M56.4 47.4h0M70.6 45.6h0M54.2 49.3h0M63.7 50h0M69.3 47.4h0M56.5 46.4h0M70 44.3h0M71.8 43.1h0M65.9 50.8h0M56.2 46.5h0M72 46.7h0M67 43.8h0M57.1 49.7h0M60.1 44.1h0M58.5 45h0M65.7 43.8h0M66.3 50.9h0M65.7 51h0M60.3 44.1h0M55.1 47h0M69.5 43.8h0M59.9 44.1h0M63.8 50.6h0M67.9 49.5h0M70 46.3h0M67.5 51h0M59.1 44.7h0M60.4 45.4h0M57.1 47h0M58.2 50h0M63.2 44.3h0M65.3 42.9h0M71.1 48.9h0M66.5 51.4h0M62.1 43.5h0M53.6 48.7h0M71 47.5h0M60.4 50.5h0M72.1 46.4h0M55.3 48.4h0M72.6 45.5h0M72.7 46.9h0M57.1 47.9h0M59.3 51.5h0M71.1 48.2h0M59.8 51.2h0M55.2 49.3h0M69 49.7h0M71.4 47.1h0M70 46.7h0M75.5 46.5h0M68.9 44.5h0M76.7 46.7h0M73.8 46.5h0M69.9 46h0M72.4 44.2h0M75.1 45.2h0M69.8 48.4h0M77.4 46.5h0M74 46.7h0M76.1 47.4h0M66.8 45.5h0M71.1 47.6h0M72.1 48.1h0M72.2 44.9h0M72.5 46.5h0M72.1 47h0M77.2 46.6h0M67.6 47.8h0M66.4 46.8h0M72.9 42.9h0M78 46.8h0M71.2 44.6h0M69.8 43.7h0M75 45.2h0M72.9 47.4h0M73.6 44.2h0M69.8 45.2h0M74 45.6h0M76.3 46.6h0M71.8 48.5h0M76.8 44.8h0M66.9 45.5h0M71.2 45.1h0M69.8 45.9h0M78.5 45.9h0M72.4 45.4h0M71.6 44.8h0M71.6 44.7h0M76.4 46.3h0M68.7 44.1h0M72 48.5h0M71.5 47.4h0M77.2 46.7h0M68 46.1h0M72.6 48.2h0M73 44.6h0M69.2 45.8h0M74.6 48.8h0" stroke="#5ab4e6" stroke-width="1.15" stroke-linecap="round" fill="none"/><ellipse cx="76" cy="30.5" rx="5.6" ry="2.2" fill="#c2c52e" fill-opacity="0.88" transform="rotate(15 76 30.5)"/><path d="M80.4 30.4h0M72.3 29.1h0M80.3 32h0M78.7 29.6h0M80.8 31.6h0M71.7 30.2h0M75.2 32.5h0M71.1 28.2h0M71.9 28h0M71.5 28.8h0M78.3 32.6h0M81.1 33.5h0M72.9 27.9h0M78.8 33h0M76.8 32.4h0M74.3 27.9h0" stroke="#c2c52e" stroke-width="1.15" stroke-linecap="round" fill="none"/><ellipse cx="102" cy="32" rx="3.4" ry="2.6" fill="#3fa6c4" fill-opacity="0.88" transform="rotate(-40 102 32)"/><path d="M103.7 29.7h0M103 28.3h0M99.4 32.4h0M102.6 29.2h0M103.7 29.8h0M103 34.4h0M105.5 31.7h0M99.2 32h0M103.5 29.6h0M100.1 30.7h0M98.4 33.4h0M104.7 30.8h0M98.5 33.4h0M100.1 32.3h0M100.3 30.1h0M102 32.5h0" stroke="#3fa6c4" stroke-width="1.15" stroke-linecap="round" fill="none"/><ellipse cx="146" cy="93.5" rx="4.7" ry="1.9" fill="#1f1f78" fill-opacity="0.88" transform="rotate(25 146 93.5)"/><path d="M146.8 96.2h0M141.6 93.1h0M143.5 93.5h0M142.8 91.8h0M142.3 93.6h0M145.9 91.7h0M145.4 95.1h0M143 90.6h0M143.7 94.6h0M146.2 91.5h0M148.4 95.5h0M141.5 92.1h0M146.2 92.9h0M142.8 93.2h0M149.8 95.8h0M148.7 96.4h0M139.9 91.8h0M144.2 91.2h0M141.6 91.3h0M142 91.3h0M143.6 91.7h0M141.9 92.3h0M143.3 91.5h0M143.9 91.7h0M142.8 92h0M139.8 92h0M141.7 91.4h0M143.1 91h0M140.5 92h0M144.3 92.1h0M141.8 90.6h0M142.5 92.7h0M142.7 93.3h0M144.3 92.3h0M142.5 90.9h0M141.1 93.2h0" stroke="#1f1f78" stroke-width="1.15" stroke-linecap="round" fill="none"/><ellipse cx="115" cy="101.5" rx="6.9" ry="5.2" fill="#2fb48c" fill-opacity="0.88" transform="rotate(0 115 101.5)"/><path d="M108.3 103.7h0M111.3 105.2h0M108.5 99.8h0M110.2 105.9h0M109.6 99.2h0M113.8 99.5h0M121.1 104.3h0M117.7 102.6h0M108 99.1h0M119.3 96.8h0M117.3 106.1h0M115.6 107.1h0M109.5 103.5h0M121.7 103.3h0M118.6 106.7h0M106.9 102.2h0M108.7 104.4h0M109.6 103.8h0M111.9 105.1h0M110.1 103.8h0M109.1 105.8h0M122.6 102.5h0M115.2 96.9h0M116.9 98.1h0M117.3 104.1h0M118.6 96.9h0M119.7 99.4h0M110.4 98h0M110.2 97h0M119.2 96.8h0M112.6 105.8h0M110.5 103h0M117.7 107.3h0M118.7 97.7h0M113.5 95.9h0M115.6 97.7h0M117.6 96.9h0M108 100.6h0M111.3 97.5h0M107.7 103h0M118.8 102.6h0M123 103.5h0M122.8 102.4h0M120.4 102.9h0M120.6 103.8h0M120.5 99.5h0M106.7 100.6h0M110.1 98.8h0M108.1 101.5h0M109.9 102.3h0M123.5 103.1h0M117.7 106.2h0M119.9 96.7h0M119.5 104h0M118.7 98.2h0M120.1 99.7h0M112.4 107.3h0M111.6 104.2h0M109.9 97.6h0M117.3 96.2h0M121.3 97.4h0M107.9 99.1h0M112.1 106.8h0M110.3 104.2h0M121.7 105.7h0M112.6 96.4h0M110.5 98.2h0M111.1 105h0M120.2 96.3h0M117.3 107.7h0M121.8 101h0M112.6 98.2h0M112.1 106.6h0M119.4 106.4h0M121 98.6h0M117.7 105.2h0M115.9 97.7h0M122.2 102.2h0M112.1 96h0M119.3 105.6h0M115.9 104.7h0M122.1 102.5h0M112.1 104.9h0M110.3 100.7h0M120.7 101h0M110.8 103.1h0M120.1 104.3h0M112.9 96.9h0M107.4 101.7h0M112.6 101.1h0M109.1 100.4h0M110.4 101h0M107.6 103.9h0M108.6 105.3h0M107.8 105.2h0M106.4 102.6h0M109.6 102.1h0M108.4 103.8h0M111.4 101.8h0M107.9 103.3h0M110.1 106h0M109.6 104.9h0M106.7 103.6h0M109.6 102.8h0M111.1 100.8h0M106.7 104.5h0M111.5 102.5h0M113.9 103.8h0M113.5 102.3h0M113 104h0M110.7 105h0M108.1 102.4h0M110 99.7h0M112.7 103.6h0M111.5 102.3h0M106.4 103.9h0M110.2 99.9h0M109.8 105h0M108.8 100.7h0M111.2 100.9h0M112.1 103.8h0M112.4 104h0M108.4 100.5h0M107.2 104.6h0M106.2 102.5h0M113.1 105.1h0M111.3 105.8h0M107.3 103.2h0" stroke="#2fb48c" stroke-width="1.15" stroke-linecap="round" fill="none"/><ellipse cx="135" cy="104.5" rx="4.7" ry="2.1" fill="#9ccc3c" fill-opacity="0.88" transform="rotate(30 135 104.5)"/><ellipse cx="146.5" cy="112" rx="1.5" ry="3.6" fill="#9ccc3c" fill-opacity="0.88" transform="rotate(10 146.5 112)"/><path d="M134.7 106.1h0M134 101.5h0M134.5 102.7h0M132.8 104.5h0M140 106.1h0M138.2 105.8h0M134.1 106h0M131.3 102.7h0M137.1 103.3h0M137.6 103.6h0M133.6 104.8h0M138.9 107.9h0M138.8 107.7h0M135.7 102.7h0M139.4 107h0M139.1 107.2h0M144.8 115h0M146.1 110h0M144.6 114.9h0M147.7 114.2h0M146.2 108.9h0M148.2 109.1h0M145.6 112.3h0M145.4 115.3h0M145 112h0M147.3 112.3h0M146.5 114.9h0M145 111.2h0M145.7 109.9h0M145.2 114.9h0M144.9 112.3h0M144.9 113.8h0" stroke="#9ccc3c" stroke-width="1.15" stroke-linecap="round" fill="none"/><ellipse cx="87" cy="106" rx="6.5" ry="2.8" fill="#1f9d4d" fill-opacity="0.88" transform="rotate(10 87 106)"/><path d="M92.8 107.1h0M82.5 105.9h0M85.6 108.6h0M88.5 109.3h0M85.8 103.4h0M90.9 106.3h0M84.7 108.4h0M82.6 102.5h0M91.5 104.5h0M91 108.6h0M85.2 107.7h0M82 107.2h0M93 107h0M80.4 105.3h0M80.3 104.7h0M85.1 108.4h0M92.9 108.3h0M84.7 107.5h0M80.6 107.1h0M84.2 103.6h0M86.2 109.5h0M86 107.5h0M86.7 103.8h0M80.6 103.8h0M92.7 104.5h0M93.1 108.6h0M89.2 103.1h0M91 103.9h0M81.2 106.4h0M83.4 103.2h0M94 106.9h0M87.2 102.6h0M92.5 105.6h0M79.2 105.3h0M82.8 107.1h0M94.1 106.6h0M90 103.8h0M90.4 109.3h0M82.5 107h0M91.2 105.4h0M91 107.4h0M86.4 103.1h0M82 102.8h0M90.7 109h0M90.3 108.4h0M82.2 105.4h0M89.5 103h0M82.2 103h0M90.4 103.6h0M82.9 104.8h0M92.4 105.7h0M93.4 105.4h0M91.7 104.2h0M82 103.9h0M79.8 104.2h0M87.7 109h0M84 103.2h0M89.1 108.2h0M86.6 103.2h0M89.6 104.5h0M83.1 103.2h0M83 105.2h0M86.9 103.3h0M92.2 105.7h0M91.3 105.5h0M93.4 102.6h0M90.8 103.8h0M90.8 103.7h0M93.1 105.3h0M90.6 103.4h0M93 104.1h0M93 105.4h0M90.9 105.6h0M93.3 102.8h0M92 103.3h0M89.1 104.2h0M92.2 102.1h0M92.1 104.1h0M90.8 103.9h0M93.9 103.1h0M90.1 102.6h0M90.8 104.6h0M90.6 103.1h0M92.7 105h0M93.2 105.7h0M90.9 105.2h0M92.4 104.4h0M90.1 103.8h0M92.3 105.8h0M83.7 108.8h0M84.5 108.5h0M83.5 111.5h0M82.7 110.3h0M81 110.9h0M84.2 108.3h0M82.5 110.9h0M82.8 109.4h0M83.3 110h0M83.1 109.7h0M80.4 108.1h0M83.6 111.2h0M80.1 109.3h0M85 110.5h0M82.8 111.1h0M85.5 109.2h0M85.2 108.6h0M80.2 109.4h0M80.3 108.8h0M84.7 108.2h0M85.4 109.1h0M84.3 110.7h0M83.9 108.5h0M83.4 110.2h0M84.7 110.5h0M81 108.3h0M84.2 109.6h0M83.1 108.9h0M82.8 110.4h0M82.6 111.3h0" stroke="#1f9d4d" stroke-width="1.15" stroke-linecap="round" fill="none"/><ellipse cx="102" cy="117.5" rx="8.6" ry="4.3" fill="#17998c" fill-opacity="0.88" transform="rotate(5 102 117.5)"/><path d="M111.6 117.7h0M98.5 121.2h0M103.4 112.2h0M92.4 117.1h0M97.2 118.8h0M106.7 123.3h0M111.2 117.2h0M96.5 120.2h0M108 121h0M107.2 120.8h0M100.1 122.1h0M105.9 121.4h0M108.7 120.7h0M96.8 114.2h0M110.1 116.6h0M95.3 115.1h0M101.5 113.8h0M109.4 119.3h0M102.3 112.8h0M109.1 117.7h0M103.7 112.7h0M92.2 115.6h0M93.5 118.8h0M109.7 120.5h0M99.6 113.5h0M100.4 121h0M107.3 118.2h0M95 116.9h0M94.7 118.7h0M101.6 113.5h0M97.2 120h0M104.7 121.6h0M97.4 120.7h0M104.5 122.4h0M98.2 119.6h0M93.1 117.5h0M98.4 122.1h0M109.8 119.6h0M97.2 113h0M109.9 116.5h0M109.8 114.9h0M110.6 120.6h0M97.5 120.3h0M97.2 114.3h0M95.6 113.5h0M96.9 120.8h0M94.4 115.2h0M94.5 118h0M96.7 117.2h0M110.1 117.4h0M107.9 122.5h0M111.6 118.4h0M107.2 115.5h0M108.1 118.6h0M110.4 120.8h0M99.3 121.5h0M110.6 117.3h0M92.1 117.8h0M105 121.8h0M105.5 122.4h0M101.6 120.3h0M99 112.5h0M94.7 115.4h0M103 119.7h0M97.3 121.5h0M110.4 118h0M103.4 122.1h0M93.1 115.8h0M96.1 120.1h0M92.8 118.2h0M105.1 122.5h0M107.2 121.1h0M109.9 119.5h0M101.4 121.6h0M108.3 119.5h0M93.2 117.8h0M92.8 116.9h0M94.1 117.3h0M95.7 116.1h0M105.7 122.2h0M98 112.9h0M96.5 120.1h0M98.6 117.4h0M109.9 114.5h0M109.4 118h0M103.7 120h0M95.7 120.1h0M93.1 116.4h0M110.1 115h0M107.8 120.8h0M108.7 119.1h0M112.3 116.5h0M98 119.7h0M107.4 118.5h0M100.7 121.4h0M98.9 113.5h0M99.5 121.3h0M96.7 121.5h0M96.2 119.3h0M92 119.3h0M94 121.1h0M98.1 119.5h0M100.5 119.6h0M99.5 121.9h0M93 119.5h0M97.6 117.9h0M94 118.6h0M97.3 116.8h0M93.8 120.3h0M99.9 118.1h0M98.7 118.1h0M101 119h0M100.2 121.3h0M97.9 120.9h0M93.9 120.7h0M94 121h0M95.6 121.6h0M98.5 120.4h0M94.8 121.6h0M92.1 120.6h0M95.8 120.1h0M100.8 118.9h0M96.1 118.5h0M100.4 118.9h0M101.4 119h0M95.2 120.6h0M96.9 118.8h0M100.2 118h0M99.7 117.5h0M94.9 121h0M94.3 119.1h0M100.9 120.2h0M97.8 118.9h0M95.4 118.2h0M100.8 118.3h0M92.7 120.8h0M99.4 122.2h0M99 121h0M101.2 120.8h0M98.7 120.3h0M98.5 118.1h0M95.2 122.1h0M100.4 119.7h0M99.3 121h0M101.9 119h0M94.8 121.6h0" stroke="#17998c" stroke-width="1.15" stroke-linecap="round" fill="none"/><ellipse cx="90" cy="130" rx="10.3" ry="6.5" fill="#5d8ed6" fill-opacity="0.88" transform="rotate(-25 90 130)"/><path d="M87.8 125.6h0M83.6 127.4h0M94.5 129.3h0M81.3 131h0M99.1 128.8h0M90.2 134.7h0M90.1 123.1h0M90.6 136.3h0M82 124.6h0M90.9 138.2h0M83.2 127.2h0M82.6 128.4h0M97.1 122.1h0M96.3 131.2h0M99.5 128.1h0M96.7 132h0M99.2 125h0M96.1 126.3h0M95.1 122.5h0M82.2 128h0M86.4 125.8h0M97.2 124.2h0M96.7 126.2h0M92 134.7h0M87.1 138.4h0M92.3 125.2h0M88.9 122.6h0M101.1 124.6h0M95.7 134.4h0M93.3 123.7h0M89.7 138.1h0M90.2 121.7h0M89.7 126h0M80.3 135h0M79.8 135.6h0M96.4 121.7h0M96.6 126h0M92.4 136.2h0M92.1 135.9h0M86.4 126.1h0M79.1 130.5h0M99.5 124.6h0M90.8 123.7h0M79.9 135.1h0M97.7 126.5h0M92.2 136.2h0M101.8 126.9h0M98.2 123.6h0M97.1 132.6h0M93.7 137.4h0M81.9 135.5h0M86.4 136.3h0M91.7 127h0M82.9 134.6h0M80.8 136.8h0M88.7 137.3h0M90.1 136.2h0M98.7 129.1h0M85.6 124.2h0M98.1 132h0M84.5 137.8h0M89.2 137.1h0M98.8 131.7h0M83.8 125.3h0M93.3 136.7h0M85.3 124.6h0M84.1 125.6h0M93.2 135h0M85.4 134.4h0M87.9 135.2h0M81.3 134.8h0M80.9 136.1h0M93.8 133h0M88.5 125.3h0M86 137.4h0M83.9 127.1h0M99 123.2h0M97.9 131.1h0M82 135.6h0M90.9 122.1h0M97.8 130.3h0M98.3 122.7h0M84.3 136.9h0M85.3 134.8h0M97.5 123.2h0M86.4 129h0M100.2 128.3h0M95.5 123.7h0M81.7 135.4h0M81.7 136.4h0M95.6 120.9h0M79.2 132.8h0M98.4 124.8h0M85.6 124.1h0M90.4 122.5h0M92.3 134.4h0M92.5 124.7h0M92.4 135.6h0M83.2 128.7h0M88.4 132.8h0M87.9 124.3h0M91.5 123.4h0M93.4 133.6h0M84.2 128.4h0M84.7 124.2h0M81.9 133.9h0M82.4 130.2h0M100.8 126.6h0M81.2 137h0M94.1 124.4h0M85.7 128.3h0M87.7 127.6h0M80.2 133.7h0M98.6 127.2h0M98.3 124.4h0M96.7 125h0M89.6 136.3h0M87.1 136.4h0M81.4 133.9h0M97 125.3h0M87 137.1h0M98.4 131.2h0M94.8 132.5h0M97.9 125.3h0M87.6 138.5h0M93.1 136.4h0M84.9 125.9h0M92 123.7h0M100.8 124.8h0M101.1 123.7h0M88.6 135.9h0M96.3 134.3h0M98.2 130.1h0M81.6 130.1h0M90.9 137.8h0M94.8 133.5h0M100 125.4h0M88.1 127.6h0M78.3 130.4h0M84.4 138.9h0M93.1 122h0M78.5 133.3h0M88.8 136.7h0M91.2 122.5h0M81.7 137.3h0M86.9 124.9h0M85.7 137.1h0M87.9 123.1h0M90.4 135.2h0M82.3 131.5h0M93.4 128.2h0M82.6 130.7h0M85.6 131.4h0M85.8 136.3h0M88.5 135.8h0M86.3 129.2h0M90.1 134.6h0M82.5 130.7h0M86.5 132.2h0M87.3 135.9h0M88.4 135.8h0M86.1 137.2h0M84.9 130.2h0M90.2 134.8h0M79.5 132.5h0M88.1 132.9h0M81.2 137.2h0M81.6 134.3h0M88.9 137.2h0M83.2 130.2h0M86.2 130.6h0M86.4 137.2h0M85.9 135.9h0M84.8 137.1h0M88.9 134.1h0M88.3 134.9h0M85.5 135.8h0M88.4 135.2h0M83.9 133.9h0M87.3 136.1h0M83.3 137.6h0M88.8 132.1h0M84.9 137.1h0M79.4 137.6h0M81.7 136.9h0M80.3 138.1h0M83.3 138.7h0M78.4 132.3h0M88 134.9h0M85.5 132.5h0M83.2 131.2h0M83 133.5h0M83.8 135h0M81.8 131.7h0M82.8 132.4h0M83 138h0M82.1 130.4h0M83.9 136.1h0M86.2 135.3h0M81.2 132.8h0M84 135.7h0M87.5 131.5h0M79.8 133.8h0M81 132.1h0M80.8 132.8h0M88 136.7h0M78.5 132.7h0M79.5 135h0M88.9 132.4h0M80.3 132.5h0M88.1 132.9h0M86 135.2h0M79.2 132.6h0M81.4 134.3h0M80.3 138.2h0M82.3 134.7h0M79.6 134.1h0M84.2 138.2h0M88.2 137.2h0M87.4 133h0M86.2 134.3h0M89.2 131.7h0M86.1 137.9h0M81.9 131.2h0M88 133.8h0M87.2 136.6h0M90.3 133.5h0M82.6 136.6h0M87 134.8h0M82 135h0M83.3 128.9h0M82.3 129.4h0M89.1 134.8h0M84.8 131.6h0M82.7 135.6h0M86.6 133.6h0M84 131.8h0M79.7 131h0M84.5 133.4h0M86.6 138.1h0M83.2 132.5h0M77 133.8h0M88.4 131h0M87.1 136.8h0M82 135.3h0M85.3 132.5h0M83.9 134.7h0M84.1 134.7h0M82 134.9h0M83.6 135.5h0M82.3 133.4h0M87.9 136.9h0M98.1 125.2h0M98.3 121.9h0M101.3 125.8h0M99.2 121.7h0M96.9 121.6h0M96.9 122.4h0M99.4 124.3h0M97.9 122.5h0M103.5 123.8h0M94.9 123.5h0M101.7 123.4h0M99.3 126.3h0M103 123.9h0M98.5 121.7h0M99.9 125.3h0M100.4 125.3h0M99.4 124.1h0M102.2 121.9h0M96.1 125.6h0M97.9 124.7h0M99.9 123.8h0M103.8 123.7h0M104.1 123.8h0M96.4 124.6h0M101.1 122.3h0M101.5 123.4h0M101.6 125.2h0M95.4 125.7h0M99.8 122.5h0M100.6 122h0M101.7 124.3h0M94.6 123.4h0M95.2 124.5h0M102.6 122h0M100.6 126.3h0M99.8 122.2h0M100.9 126.1h0M100.9 123.6h0M99.6 122.6h0M98.6 126.4h0M99.3 124.7h0M102.7 124.5h0M97.3 124.2h0M100.2 122.9h0M94.2 123.7h0M98.4 122.8h0M100.9 123.5h0M95.6 124.2h0M98.4 124.3h0M97.9 126.4h0M99.4 133.9h0M99.7 132.6h0M102.7 134.3h0M97.6 134.8h0M101.8 131.9h0M97.6 133.3h0M99.8 131.4h0M96.9 132.9h0M99.1 135.7h0M101.6 134.7h0M102.3 131.6h0M98.6 133.7h0M96.8 133.6h0M103.7 132.2h0M99.8 135.2h0M99.1 133.1h0M98.4 131.9h0M98.9 134.6h0M102.9 131.8h0M97.8 133.7h0M102.3 132.1h0M100.3 134.1h0M100.5 134.4h0M100.2 130.8h0M101.8 135h0M101.1 131.4h0M97.6 134.9h0M100.3 132.8h0M98.4 133.3h0M101.3 133.5h0" stroke="#5d8ed6" stroke-width="1.15" stroke-linecap="round" fill="none"/><ellipse cx="55" cy="115" rx="18.1" ry="9" fill="#a0a0dc" fill-opacity="0.88" transform="rotate(-10 55 115)"/><ellipse cx="66" cy="108.5" rx="9.9" ry="5.2" fill="#a0a0dc" fill-opacity="0.88" transform="rotate(0 66 108.5)"/><ellipse cx="42" cy="121" rx="7.3" ry="5.2" fill="#a0a0dc" fill-opacity="0.88" transform="rotate(0 42 121)"/><path d="M39.1 120.3h0M42.5 108.9h0M64.8 105.7h0M59.2 104.1h0M44 121.4h0M62.8 114.9h0M47.7 123.5h0M54.1 105.5h0M42.5 124.8h0M68.8 104.6h0M70.4 116.9h0M54.5 106.2h0M70.9 114h0M47.2 123.4h0M37.9 115.2h0M49 120.8h0M36.4 114.3h0M36.4 117.9h0M57.6 121.7h0M56.7 103.6h0M62 121.8h0M64.1 108.4h0M40.4 109.4h0M59 107.8h0M45.1 113h0M59.9 119h0M75 113.3h0M39.4 118.5h0M47.3 123.9h0M71.3 106.1h0M42.3 124.4h0M54.4 104.8h0M72.6 107.4h0M76.2 112.6h0M49.9 107.1h0M67 104.9h0M50.4 114.4h0M43.3 120.7h0M68.6 116.9h0M38.7 113h0M69.5 106.1h0M64.1 105.9h0M47.7 106.5h0M46.1 111.7h0M48.5 107.7h0M71.9 113.6h0M39.5 123.4h0M60.9 123.4h0M74.2 107.9h0M46.9 113.2h0M42.7 122.7h0M32.1 119.3h0M54.3 125.8h0M42.5 109.3h0M36.8 111.4h0M31.6 118.3h0M48.3 121.4h0M62.5 121.5h0M47.8 106.5h0M44.4 110.2h0M66 114.1h0M63.7 105.6h0M74.6 119.7h0M56 106.1h0M64 119.3h0M39.3 111.9h0M61 121.8h0M62.6 107.3h0M60.6 108.3h0M56.8 121.9h0M50.6 105h0M42.4 115.9h0M39.7 109.3h0M66.9 107.9h0M69.8 114h0M45.1 118h0M42.7 110.6h0M68.4 118.6h0M70.2 119.8h0M48.1 109h0M43.7 110.4h0M51.1 124.5h0M39.1 123.4h0M44.7 112.4h0M66.5 108.7h0M41.4 116.4h0M67.4 117.4h0M62 121.4h0M44.3 122.1h0M71.5 114.9h0M66.3 105.7h0M44.1 108.3h0M40.2 118.5h0M40.6 116.9h0M38.8 119.2h0M63.9 105.4h0M68 115h0M63.1 108.9h0M70.1 112h0M60.1 124.1h0M40.4 119.1h0M50.9 123.7h0M40.2 122.2h0M53.2 121.2h0M40.6 112.3h0M60.3 106.4h0M67.1 105.8h0M66.3 107.4h0M59 109.4h0M61.8 121.4h0M40.1 108.3h0M40.4 120h0M59 124.2h0M69.4 115.5h0M40.9 120.7h0M76 114.3h0M70.5 114.4h0M38.2 122.9h0M40.6 115h0M56 122.7h0M45.2 118.5h0M49.1 124.1h0M40.7 117.8h0M71.7 110.5h0M64.9 120.9h0M63.9 103.3h0M76.7 115.8h0M74.2 114.3h0M67.8 108.1h0M64.4 107h0M65.7 105.8h0M49.4 125.3h0M35.2 115.1h0M50 107.6h0M53.6 105.9h0M38.5 118.9h0M70 111.1h0M74.8 108.3h0M55.3 108.5h0M51.8 105.6h0M37.2 119.2h0M40.6 124.2h0M58.4 107.2h0M42.6 118.5h0M72.6 112.7h0M66 113h0M60 124.9h0M47.7 124.6h0M35.8 114.6h0M40.1 115.3h0M69.4 119.6h0M71.2 117.2h0M72.9 115.9h0M47.6 126h0M51.8 106h0M54.8 123.4h0M40.8 113.8h0M57.7 106.4h0M60.6 123.5h0M37.4 109.3h0M53.9 105.6h0M38.6 116.7h0M39.2 123h0M67.9 109.1h0M58 105.5h0M71.6 118h0M37.9 121.7h0M66.7 108.9h0M50.1 121.9h0M73 110.4h0M51 105.7h0M50.6 108.5h0M41.6 111.9h0M41.2 124.1h0M50.8 104h0M46.8 120h0M75.5 109.6h0M45.8 110.5h0M38.7 113.7h0M65.8 116.3h0M51.4 109.9h0M35 115.9h0M38.5 122.8h0M68.1 106.5h0M40.6 110.3h0M52 123h0M70.2 106.1h0M50.7 120.2h0M41.6 107.8h0M65.9 106.6h0M72.5 111.9h0M41.7 110.2h0M55.4 121.4h0M61.6 104.9h0M43.3 119.2h0M43.6 113.5h0M67.1 119.9h0M65.1 106.2h0M72.2 113.4h0M71.2 118.8h0M73 112.7h0M39.5 111.5h0M43.7 112.1h0M64 123.3h0M61 106.6h0M36 117.6h0M64.9 106.9h0M71.4 110.3h0M51.9 105.7h0M41.6 114.8h0M35.4 115h0M41.2 114h0M68.6 119.9h0M40.1 123.8h0M67.4 111.5h0M48.1 126.3h0M57.3 123.7h0M50.7 106.2h0M64.2 104h0M62.9 106.6h0M55.8 121.1h0M58.2 106.6h0M59.2 121.3h0M44.4 111.5h0M58.1 105.1h0M59 106h0M53 121.3h0M49.2 104.6h0M56.4 123.8h0M60.8 121.7h0M56.5 122.9h0M37.5 116h0M37.3 115.3h0M58.8 126.2h0M55.1 121.1h0M39.1 113.9h0M71.5 108.6h0M38.9 115.2h0M40.6 116.6h0M52.2 109.2h0M53 117.7h0M41.1 123.9h0M48.2 124.3h0M40.3 122.4h0M49.8 118.2h0M60.2 107.9h0M66.5 109.5h0M36.6 114.3h0M59.2 106h0M42.4 119.8h0M49.7 120.9h0M51.5 108.7h0M67 104.9h0M37.8 116.2h0M31.6 117.2h0M57.6 104.4h0M36.9 115.6h0M36.8 114.4h0M73.8 106.8h0M72.7 106.4h0M40.6 114h0M73.3 114.2h0M37 121.1h0M54.3 124h0M41.1 121.9h0M58.4 123.5h0M78 113.8h0M37.7 119.7h0M58.2 124h0M60.3 122.7h0M36.1 117.6h0M71 116.2h0M60.2 107.8h0M55 121.6h0M70.4 110.5h0M62.9 105.5h0M47.5 111h0M60.2 125h0M53.9 104.8h0M62.8 122.9h0M72.5 116.3h0M59 104.2h0M39.7 119.4h0M52.3 105.3h0M71.7 106.2h0M40.1 125.2h0M41 115h0M60.6 120h0M69.9 112.9h0M38.8 111.1h0M49.6 122.6h0M67.9 110.1h0M46.1 123.3h0M37 117.8h0M62.8 106.5h0M40.2 122.9h0M58.4 122.6h0M66.6 120.7h0M63.3 115h0M68.2 120.4h0M63.6 105.5h0M64.3 105.5h0M73.4 117.9h0M35.8 116.9h0M56 106.6h0M54.2 108.6h0M40.9 120.3h0M42.8 113.2h0M53.5 125.5h0M48.4 110.1h0M32.8 118.8h0M65.8 119.2h0M60.2 104.8h0M61.9 120.5h0M60.3 108.6h0M71.8 116.9h0M67.2 105.3h0M44.7 122.5h0M38.2 112h0M40.4 115.3h0M74.2 109.2h0M65 111.9h0M75 104.7h0M72.5 104.5h0M65.8 113.1h0M62.7 106.1h0M55.9 109h0M69.5 112.6h0M65.6 112.9h0M63.7 105.3h0M69.5 112.7h0M71.1 110.4h0M59.7 106.4h0M60.7 113.3h0M62.1 106.7h0M58.9 111.7h0M64.7 113.3h0M63.6 114h0M60.3 111.4h0M64.6 111.9h0M74.3 104.9h0M74.5 108.4h0M61 114h0M69.2 111.1h0M70.4 113.2h0M62.5 104.1h0M62.6 102.9h0M57.2 109.6h0M72.2 111.3h0M73.6 110.7h0M74.6 106.2h0M73.1 105.2h0M68.3 112.8h0M66.1 113.4h0M60.7 109.6h0M76.4 109.6h0M60.2 105.2h0M61.5 104.1h0M64.5 114.7h0M71.3 104h0M57.7 104.9h0M54.5 108.3h0M66.1 112.4h0M74.7 111.2h0M60.4 106.1h0M60.3 110.4h0M75.3 110.7h0M57.9 111.8h0M57.7 105.3h0M56.4 105.4h0M57.7 108.2h0M74.2 110.2h0M63.2 104.6h0M56.7 106.3h0M69.8 112.9h0M76.1 105.9h0M61.6 113.5h0M54.4 110.8h0M68.4 114.9h0M60.5 104.4h0M76.7 110.7h0M71.9 102.8h0M73.2 103.8h0M62.7 104.4h0M67.3 113.6h0M76.1 108h0M63.3 103.6h0M60.1 113h0M61.4 114h0M69.6 102.8h0M68.2 103.9h0M73.3 114.2h0M65.6 104.4h0M74.5 111.8h0M68.6 110.6h0M56.8 110.4h0M71.1 111.6h0M72.4 110.3h0M73.2 106.5h0M55.2 109.5h0M35 118.3h0M36.3 123h0M50.4 120.6h0M46.4 119h0M47.6 125.4h0M46.9 118.3h0M35 119.2h0M49.7 121.9h0M35.9 118.8h0M48.7 124.8h0M46.1 121.7h0M38.2 122.7h0M39.9 126.3h0M47.8 118.7h0M36.2 121.9h0M34.1 118.9h0M48.7 121.6h0M46.7 118.9h0M45.8 124.1h0M43.8 116.3h0M45.6 118.1h0M34.5 122.5h0M41.6 121.7h0M34.9 119.4h0M35.2 121.4h0M48.2 122.3h0M47.2 121.6h0M35.1 121.9h0M49.3 118.5h0M40.2 124.1h0M47.2 125.5h0M43.7 116.7h0M49 121.5h0M40.9 123.5h0M45.9 117.5h0M47.4 119.9h0M44.9 125.4h0M46.5 116.2h0M44.8 116.3h0M50 120.6h0M34.6 124.9h0M42.6 114.6h0M35.6 122.8h0M44.3 115.9h0M46.7 116.8h0M42.6 127.4h0M43.8 116.8h0M49.1 122.7h0M37.3 119.5h0M40.7 117h0M45 116.2h0M41.3 125.3h0M40.5 126.6h0M43.4 116.4h0M38.2 123.5h0M46.4 124.5h0M41.2 119.3h0M45.8 122.9h0M51.2 120.8h0M45.4 118.7h0M33.7 120.2h0M42.8 123.6h0M41.6 118.9h0M35.1 119.2h0M40.8 103.1h0M35.8 103.2h0M40.3 105.7h0M38.6 103.4h0M37.9 106.3h0M35.8 103.2h0M40.2 102.3h0M37.4 103.1h0M36.6 104.8h0M38.5 106.2h0M38.1 102.8h0M39.1 106.3h0M40.9 103.6h0M36.2 102.2h0M38.8 104.5h0M35.4 103h0M37.3 105.5h0M40.2 103.5h0M35.3 106.1h0M35.1 104.4h0M36.8 104.2h0M34.7 102.8h0M36.4 102.9h0M35.9 105.6h0M39.5 104.6h0M35.2 103.9h0M37.9 102.9h0M41.3 105.3h0M35.6 103.8h0M34.5 103.5h0M35.3 104.1h0M41.5 102.7h0M40 102.5h0M38.7 102.2h0M39.8 105.9h0M35.6 102.7h0M35.6 103.3h0M38.2 105.2h0M38.9 102.2h0M41 103.1h0" stroke="#a0a0dc" stroke-width="1.15" stroke-linecap="round" fill="none"/><ellipse cx="29.5" cy="99.5" rx="2.6" ry="1.5" fill="#3cb49c" fill-opacity="0.88" transform="rotate(0 29.5 99.5)"/><path d="M28.8 97.9h0M26.9 98.8h0M30.1 100.9h0M30.6 100.7h0M30.8 98.3h0M32.2 99h0M32 99h0M27.5 98.3h0M29.6 98.4h0M31 100.9h0M27.4 98.6h0M29.2 100.9h0M29 99.1h0M31.5 98.3h0M30.7 98.4h0M31.1 98h0" stroke="#3cb49c" stroke-width="1.15" stroke-linecap="round" fill="none"/><path d="M2.8 96.7h0M3.4 96.5h0M4.4 96.7h0M3.8 96.5h0" stroke="#aab4e2" stroke-width="1.15" stroke-linecap="round" fill="none"/><ellipse cx="54.5" cy="135.5" rx="4" ry="3.1" fill="#d0982c" fill-opacity="0.88" transform="rotate(0 54.5 135.5)"/><path d="M57 134h0M55.5 139.2h0M55.9 138.1h0M55.7 138.5h0M56.2 132.7h0M51.2 137.3h0M57.4 134.4h0M55 131.8h0M58.9 135.7h0M56.2 136.4h0M58.5 135.1h0M56.1 137.3h0M56.8 138.8h0M49.6 136h0M56.8 137.9h0M50.9 135.7h0" stroke="#d0982c" stroke-width="1.15" stroke-linecap="round" fill="none"/><ellipse cx="70" cy="147.3" rx="3.1" ry="2.1" fill="#e65a28" fill-opacity="0.88" transform="rotate(0 70 147.3)"/><path d="M73.4 147.5h0M67.2 147.4h0M67.6 146.3h0M70.7 146.2h0M68.1 147.2h0M70.6 145.5h0M73.4 147.8h0M69 145.8h0M72.2 148.6h0M73 148.1h0M67.9 148.4h0M72.8 147.1h0M69.2 146.1h0M71.9 145.9h0M70.9 148h0M72.1 147.7h0" stroke="#e65a28" stroke-width="1.15" stroke-linecap="round" fill="none"/><ellipse cx="126.5" cy="125.6" rx="2.6" ry="1.5" fill="#b4d848" fill-opacity="0.88" transform="rotate(0 126.5 125.6)"/><path d="M127.6 124.5h0M123.9 126.2h0M128.4 125.7h0M124.8 125.3h0M125.2 126.5h0M127.1 127.2h0M127.2 127.2h0M125.5 126.2h0M128.4 125.3h0M129.2 124.8h0M124.2 126.8h0M124.6 126.6h0M128.1 126.6h0M126.9 123.9h0M127.6 127.2h0M125.4 127.2h0" stroke="#b4d848" stroke-width="1.15" stroke-linecap="round" fill="none"/><path d="M94.1 57.6h0M94.4 74.3h0M87 71.3h0M80.6 62.9h0M87.7 59.5h0M87.9 58.9h0M88.2 65.7h0M91.7 71.6h0M86.8 68.4h0M92.6 59.4h0M89.6 79.5h0M89.4 61.4h0M89.3 72.2h0M80.3 60.4h0M91.7 70h0M82.9 67.1h0M84.6 72.4h0M96.4 67.3h0M90.3 54.5h0M82.2 61.4h0M83.1 74.1h0M86 73h0M91.1 71.5h0M91.4 79.6h0M94.9 65.4h0M82.8 65.8h0M89.8 54.8h0M92.8 69.7h0M90.1 53.6h0M83.6 59.7h0M87.9 62.4h0M85 79.7h0M87.6 54.8h0M85.5 58.5h0M85.7 73.2h0M85.3 61.9h0M85.5 77h0M80.9 59.2h0M91.6 64.4h0M84 72.6h0M91.4 65.6h0M91.4 56.1h0M83.3 76.2h0M94.7 65.2h0M85.2 72.1h0M85.1 57.9h0M91.9 72.2h0M87.5 65.7h0M86.9 51.8h0M91.2 66.8h0M87.6 67.6h0M82.8 73.3h0M86.2 58.7h0M90.7 72.3h0M81.9 77.5h0M80.8 69.8h0M90.6 66.6h0M90.5 51.5h0M82.4 72.3h0M81.8 67.8h0" stroke="#3d4db3" stroke-width="1.0" stroke-linecap="round" fill="none"/><path d="M85.8 64.3h0M85.3 61.2h0M86.3 69.7h0M87.9 61.6h0M85.8 77.5h0M85.7 59.9h0M88.8 75.5h0M84.6 69.8h0M81.6 59.4h0M86.1 66.5h0M81.1 57.3h0M90.5 67.1h0M88.7 53.7h0M88.5 58.9h0M93.1 61.7h0M90.1 71.5h0M91.6 66h0M82.4 69.1h0M90.7 67.1h0M88.8 55.9h0M88.7 65.9h0M84.8 56.2h0M90.8 77.3h0M85.8 69.4h0M91.4 57.2h0M89 68.7h0M82.2 62.4h0M86.3 67.7h0M92.8 59.2h0M82.5 57.6h0M81.9 60.5h0M92.8 68.6h0M88.6 52.8h0M94.2 75.2h0M84.3 59.7h0M89.2 62.7h0M90.3 55.8h0M86.8 62.6h0M84.5 63.6h0M84.1 59.7h0M94.4 67.5h0M94.2 58.8h0M83.2 57.8h0M83.6 57.1h0M86.3 66.7h0M87.9 71.4h0M85.7 70.8h0M90.3 77.5h0M89.2 62.6h0M90.5 75.2h0M86.9 60.3h0M90.1 73.9h0M88.7 62.3h0M88.2 74h0M83.8 68h0M89.6 58h0M92.7 59.6h0M89.5 59.4h0M93.4 68.6h0M89 74.1h0" stroke="#a32b1f" stroke-width="1.0" stroke-linecap="round" fill="none"/><path d="M82.6 49.2h0M91.4 49.4h0M81.7 50h0M81.8 44.1h0M79.3 51.8h0M77 51.6h0M90.6 49.4h0M76.4 51.8h0M77.2 47.5h0M79.2 47.3h0M87.7 51h0M88.6 50.8h0M79.4 48.7h0M85.4 54.5h0M82.4 49.6h0M90.1 46.6h0M82.6 45.7h0M82.1 44.9h0M85.5 49.1h0M81.4 48.7h0M80.4 50.7h0M87.5 44.8h0M78.1 49.5h0M82.6 43.6h0M85.2 55.5h0M87.6 45.4h0M91.2 47.5h0M81.4 51.3h0M83.5 49.7h0M80.5 48.7h0M77.4 51.7h0M91 47.1h0M84.9 47.8h0M89.7 50.8h0M83 53.6h0M90.4 45.9h0M81.8 45.9h0M86.8 54.3h0M80.3 47.4h0M78.7 50.5h0M78.4 51h0M81.7 47.7h0M78.3 55h0M82.2 47.8h0M78 51.7h0M89.6 52.6h0M82 50.5h0M87.7 49h0M79.7 53.3h0M89.1 47.7h0" stroke="#3d4db3" stroke-width="0.9" stroke-linecap="round" fill="none"/><path d="M124.4 63.3h0M139.9 61h0M101 67.9h0M118.8 63.6h0M120.6 66h0M132.8 62h0M106.3 63.8h0M102 67.6h0M116.9 65.4h0M123.9 61.7h0M112.6 67h0M97.9 66.1h0M115.4 67.1h0M122.8 63.4h0M120.7 65.1h0M123.4 64.1h0M128.9 59.2h0M114.4 67.7h0M119.4 61.8h0M99.6 64h0M114.9 66.2h0M138.8 62.1h0M123 64.4h0M125.4 64.6h0M105.9 66.7h0M100.6 65.2h0M122.2 64.2h0M127.7 64.5h0M131 62.6h0M131.1 65.7h0M128.2 61.5h0M98.4 67.4h0M123.7 67.4h0M97.5 67.1h0M125.5 65.5h0M99.4 64.6h0M121.8 60.4h0M113.6 64.6h0M118 63.7h0M109.9 62.5h0M130.3 65h0M131.3 61.4h0M106.6 67.5h0M116.3 63.7h0M102.5 67h0M102 66.5h0M125.6 61.4h0M124.1 66.3h0M104.2 65.1h0M114.1 64.7h0M129.2 65.4h0M109.2 67.7h0M128.4 63h0M101.8 67.7h0M133.9 61.2h0M114.7 64.1h0M113 61.7h0M120 65h0M114.3 63.2h0M104.6 68.6h0M99.5 65.9h0M118.8 62.5h0M137.7 61.1h0M123.7 62.1h0M127.6 63.4h0M118.8 62.3h0M105.2 62.2h0M116.5 68h0M109.5 67h0M127.1 62.5h0M122.8 61.8h0M111 64h0M115.9 66.6h0M126.5 61.9h0M107.7 64.2h0M122.1 67h0M119.7 65.8h0M125.4 60.7h0M120.4 61.3h0M108.1 66.2h0M127.2 63.4h0M116.6 61h0M126.2 63.9h0M122.2 60.3h0M110.6 61.9h0M127.1 61.1h0M111.9 64h0M123.4 64.4h0M105.7 64.1h0M138 64.5h0M127.4 61.4h0M125.6 64h0M109 62.6h0M130 62.2h0M120.1 66.4h0M124.9 59.5h0M134.1 60.3h0M120.8 65.6h0M124 62h0M115.8 67.2h0M108.3 64.5h0M106.6 67.6h0M129.6 63.2h0M117.7 62.5h0M111.1 68.6h0M136.2 61.6h0M121 63.9h0M120 63.9h0M98.7 64h0M107.2 65h0M110.5 68.2h0M127.6 66.2h0M121.7 61.2h0M129.1 63.8h0M128.9 65.4h0M125.8 65.7h0M92.5 65.9h0M135.4 58.9h0M114.7 67.5h0M110.5 62.9h0" stroke="#3d4db3" stroke-width="0.9" stroke-linecap="round" fill="none"/><path d="M15.7 73.2C15.9 70.2 15.8 65.1 18 60.8C20.2 56.5 22.8 52.7 27.8 49.3C32.8 45.9 39 43.7 45.8 41.8C52.5 39.9 58.9 39.7 65.4 38.5C71.9 37.4 77.3 37.2 81.7 35.3C86.1 33.4 87 30.3 89.9 28.1C92.8 25.9 94.2 24.2 98.1 23.2C101.9 22.1 105.3 21.3 111.1 22.2C117 23.1 124.3 25 130.8 28.1C137.2 31.2 142.5 34.8 147.1 39.5C151.7 44.2 154 48.3 156.3 54.2C158.5 60.1 158.8 66.6 159.5 72.2C160.2 77.8 160.4 81.2 160.2 85.3C160 89.4 160 92.4 158.5 95.1C157.1 97.7 154.7 99.4 152 100C149.4 100.6 147.7 99.2 143.8 98.4C140 97.5 137.2 95.4 130.8 95.1C124.3 94.8 114.9 96.7 107.9 96.7C100.8 96.7 97.4 95.7 91.5 95.1C85.6 94.5 81.1 94.2 75.2 93.5C69.3 92.8 65.3 92.2 58.8 91.2C52.4 90.1 45.4 89.2 39.2 87.6C33.1 85.9 28.5 83.9 24.5 82C20.5 80.1 18.6 78.7 17 77.1C15.4 75.5 15.5 76.1 15.7 73.2Z" fill="none" stroke="#333" stroke-width="0.85" stroke-dasharray="2.9 1.9"/><path d="M1.6 91.8C1.9 89.9 1.2 88.7 3.3 87.6C5.3 86.4 9.5 85.1 13.1 85.3C16.6 85.5 19.6 86.8 22.9 88.6C26.1 90.3 27.5 93.1 31.1 95.1C34.6 97 36.3 98.3 42.5 99.3C48.7 100.3 59 100.2 65.4 100.6C71.7 101.1 75.2 100 77.8 101.6C80.5 103.3 80 106.6 80.1 109.8C80.2 113 79.6 116.4 78.5 119.6C77.3 122.8 76.5 125.9 73.6 127.8C70.6 129.7 67.1 130.1 62.1 130.1C57.1 130.1 50.8 129.1 45.8 127.8C40.8 126.5 37 125.5 34.3 122.9C31.7 120.2 32.2 116.3 31.1 113.1C29.9 109.8 29.8 106.8 27.8 104.9C25.7 103 23.4 103 19.6 102.6C15.8 102.2 9.8 103.4 6.5 102.6C3.3 101.8 2.5 100.3 1.6 98.4C0.8 96.4 1.3 93.8 1.6 91.8Z" fill="none" stroke="#333" stroke-width="0.85" stroke-dasharray="2.9 1.9"/><path d="M49 134.3C47.9 136.1 49.4 139.4 52.3 140.9C55.2 142.3 59.5 142.5 65.4 142.5C71.3 142.5 79.1 140.6 85 140.9C90.9 141.2 93.4 143.7 98.1 144.1C102.8 144.5 106.4 144.3 111.1 143.1C115.9 142 120.1 139.5 124.2 137.6C128.3 135.7 131.4 134.7 134 132.7C136.7 130.6 138.3 128.6 138.9 126.1C139.5 123.7 139.1 120.7 137.3 119C135.5 117.2 132.1 116.3 129.1 116.3C126.2 116.3 123.3 119.5 121 119C118.6 118.4 116.3 115.3 116.1 113.1C115.8 110.8 117.6 108.8 119.3 106.5C121.1 104.3 125.3 102.7 125.9 100.6C126.4 98.6 125.2 96.4 122.6 95.1C119.9 93.8 115.6 93.5 111.1 93.5C106.7 93.5 102.5 94.2 98.1 95.1C93.7 96 89.9 96.6 86.6 98.4C83.4 100.1 81 102.3 80.1 104.9C79.2 107.5 81.7 110.1 81.7 113.1C81.7 116 81.6 118.3 80.1 121.2C78.6 124.2 77.4 127.7 73.6 129.4C69.7 131.2 63.3 130.2 58.8 131.1C54.4 131.9 50.2 132.6 49 134.3Z" fill="none" stroke="#333" stroke-width="0.85" stroke-dasharray="2.9 1.9"/><text x="58" y="75" font-size="7.2" fill="#1a1a1a" text-anchor="middle" stroke="#1a1a1a" stroke-width="0.18">0</text><text x="108.5" y="75" font-size="7.2" fill="#1a1a1a" text-anchor="middle" stroke="#1a1a1a" stroke-width="0.18">1</text><text x="120.4" y="50.5" font-size="7.2" fill="#1a1a1a" text-anchor="middle" stroke="#1a1a1a" stroke-width="0.18">3</text><text x="66.5" y="49.5" font-size="7.2" fill="#1a1a1a" text-anchor="middle" stroke="#1a1a1a" stroke-width="0.18">7</text><text x="77.7" y="31.5" font-size="7.2" fill="#1a1a1a" text-anchor="middle" stroke="#1a1a1a" stroke-width="0.18">10</text><text x="104.8" y="33.2" font-size="7.2" fill="#1a1a1a" text-anchor="middle" stroke="#1a1a1a" stroke-width="0.18">14</text><text x="152" y="91.3" font-size="7.2" fill="#1a1a1a" text-anchor="middle" stroke="#1a1a1a" stroke-width="0.18">13</text><text x="114.6" y="102" font-size="7.2" fill="#1a1a1a" text-anchor="middle" stroke="#1a1a1a" stroke-width="0.18">6</text><text x="146" y="110.5" font-size="7.2" fill="#1a1a1a" text-anchor="middle" stroke="#1a1a1a" stroke-width="0.18">9</text><text x="88.4" y="106.3" font-size="7.2" fill="#1a1a1a" text-anchor="middle" stroke="#1a1a1a" stroke-width="0.18">8</text><text x="102.3" y="119.3" font-size="7.2" fill="#1a1a1a" text-anchor="middle" stroke="#1a1a1a" stroke-width="0.18">5</text><text x="88.2" y="132.2" font-size="7.2" fill="#1a1a1a" text-anchor="middle" stroke="#1a1a1a" stroke-width="0.18">4</text><text x="55.8" y="117" font-size="7.2" fill="#1a1a1a" text-anchor="middle" stroke="#1a1a1a" stroke-width="0.18">2</text><text x="31" y="102" font-size="7.2" fill="#1a1a1a" text-anchor="middle" stroke="#1a1a1a" stroke-width="0.18">16</text><text x="6.7" y="100" font-size="7.2" fill="#1a1a1a" text-anchor="middle" stroke="#1a1a1a" stroke-width="0.18">17</text><text x="56.8" y="138.5" font-size="7.2" fill="#1a1a1a" text-anchor="middle" stroke="#1a1a1a" stroke-width="0.18">11</text><text x="72.8" y="150" font-size="7.2" fill="#1a1a1a" text-anchor="middle" stroke="#1a1a1a" stroke-width="0.18">12</text><text x="132.2" y="128" font-size="7.2" fill="#1a1a1a" text-anchor="middle" stroke="#1a1a1a" stroke-width="0.18">15</text><text x="85" y="68.5" font-size="8.6" fill="#dcdcdc" text-anchor="middle" stroke="#dcdcdc" stroke-width="0.18">Macrophage</text><text x="41" y="21.5" font-size="8.3" fill="#1a1a1a" stroke="#1a1a1a" stroke-width="0.18">Granulocyte</text><text x="4.8" y="119.6" font-size="8.4" fill="#1a1a1a" stroke="#1a1a1a" stroke-width="0.18">CD4<tspan baseline-shift="3.2" font-size="5.2">+</tspan></text><text x="4.8" y="130.2" font-size="8.4" fill="#1a1a1a" stroke="#1a1a1a" stroke-width="0.18">T cell</text><text x="62" y="159.2" font-size="8.4" fill="#1a1a1a" stroke="#1a1a1a" stroke-width="0.18">B cell</text><text x="104.6" y="151" font-size="8.4" fill="#1a1a1a" stroke="#1a1a1a" stroke-width="0.18">CD8<tspan baseline-shift="3.2" font-size="5.2">+</tspan> T cell</text><text x="149" y="121.6" font-size="8.4" fill="#1a1a1a" stroke="#1a1a1a" stroke-width="0.18">DC</text><line x1="28.8" y1="125.8" x2="35.6" y2="121.3" stroke="#222" stroke-width="0.8"/><line x1="109.4" y1="135" x2="117" y2="141.7" stroke="#222" stroke-width="0.8"/><line x1="10" y1="159.7" x2="25" y2="159.7" stroke="#222" stroke-width="0.6"/><line x1="10" y1="159.7" x2="10" y2="145.7" stroke="#222" stroke-width="0.6"/><path d="M26.5 159.7l-2.1 -1l0 2.1z" fill="#222"/><path d="M10 144.2l-1 2.1l2.1 0z" fill="#222"/><text x="10.6" y="166.8" font-size="4.8" fill="#333" font-weight="bold">tSNE 1</text><text x="8.2" y="159.5" font-size="4.8" fill="#333" font-weight="bold" transform="rotate(-90 8.2 159.5)">tSNE 2</text><text x="5" y="13.2" font-size="11.5" fill="#000" font-weight="bold">A</text><text x="177.3" y="10.2" font-size="7.4" fill="#1a1a1a" stroke="#1a1a1a" stroke-width="0.18">Cluster</text><text x="170.5" y="22.6" font-size="7.6" fill="#1a1a1a" stroke="#1a1a1a" stroke-width="0.18">CD8<tspan baseline-shift="2.9" font-size="4.7">+</tspan> T cell</text><text x="170.5" y="55.7" font-size="7.6" fill="#1a1a1a" stroke="#1a1a1a" stroke-width="0.18">CD4<tspan baseline-shift="2.9" font-size="4.7">+</tspan> T cell</text><text x="170.5" y="77" font-size="7.6" fill="#1a1a1a" stroke="#1a1a1a" stroke-width="0.18">Macrophage</text><circle cx="175.7" cy="30.5" r="4.9" fill="#5d8ed6"/><text x="175.7" y="31.9" font-size="4" fill="#e8e8f0" text-anchor="middle">4</text><circle cx="188.7" cy="30.5" r="4.9" fill="#17998c"/><text x="188.7" y="31.9" font-size="4" fill="#e8e8f0" text-anchor="middle">5</text><circle cx="201.3" cy="30.5" r="4.9" fill="#2fb48c"/><text x="201.3" y="31.9" font-size="4" fill="#e8e8f0" text-anchor="middle">6</text><circle cx="175.7" cy="41.2" r="4.9" fill="#d0982c"/><text x="175.7" y="42.6" font-size="4" fill="#e8e8f0" text-anchor="middle">11</text><circle cx="188.7" cy="41.2" r="4.9" fill="#b4d848"/><text x="188.7" y="42.6" font-size="4" fill="#e8e8f0" text-anchor="middle">15</text><circle cx="175.7" cy="63.2" r="4.9" fill="#a0a0dc"/><text x="175.7" y="64.6" font-size="4" fill="#e8e8f0" text-anchor="middle">2</text><circle cx="188.7" cy="63.2" r="4.9" fill="#3cb49c"/><text x="188.7" y="64.6" font-size="4" fill="#e8e8f0" text-anchor="middle">16</text><circle cx="201.3" cy="63.2" r="4.9" fill="#aab4e2"/><text x="201.3" y="64.6" font-size="4" fill="#e8e8f0" text-anchor="middle">17</text><circle cx="175.7" cy="85" r="4.9" fill="#a32b1f"/><text x="175.7" y="86.4" font-size="4" fill="#e8e8f0" text-anchor="middle">0</text><circle cx="188.7" cy="85" r="4.9" fill="#3d4db3"/><text x="188.7" y="86.4" font-size="4" fill="#e8e8f0" text-anchor="middle">1</text><circle cx="201.3" cy="85" r="4.9" fill="#7a50b6"/><text x="201.3" y="86.4" font-size="4" fill="#e8e8f0" text-anchor="middle">3</text><circle cx="175.7" cy="95.7" r="4.9" fill="#5ab4e6"/><text x="175.7" y="97.1" font-size="4" fill="#e8e8f0" text-anchor="middle">7</text><circle cx="188.7" cy="95.7" r="4.9" fill="#1f1f78"/><text x="188.7" y="97.1" font-size="4" fill="#e8e8f0" text-anchor="middle">13</text><circle cx="201.3" cy="95.7" r="4.9" fill="#3fa6c4"/><text x="201.3" y="97.1" font-size="4" fill="#e8e8f0" text-anchor="middle">14</text><circle cx="175.7" cy="109.2" r="4.9" fill="#1f9d4d"/><text x="175.7" y="110.6" font-size="4" fill="#e8e8f0" text-anchor="middle">8</text><text x="185" y="111.8" font-size="7.6" fill="#1a1a1a" stroke="#1a1a1a" stroke-width="0.18">Tumor cell</text><circle cx="175.7" cy="122.5" r="4.9" fill="#9ccc3c"/><text x="175.7" y="123.9" font-size="4" fill="#e8e8f0" text-anchor="middle">9</text><text x="185" y="125.1" font-size="7.6" fill="#1a1a1a" stroke="#1a1a1a" stroke-width="0.18">DC</text><circle cx="175.7" cy="135.7" r="4.9" fill="#c2c52e"/><text x="175.7" y="137.1" font-size="4" fill="#e8e8f0" text-anchor="middle">10</text><text x="185" y="138.3" font-size="7.6" fill="#1a1a1a" stroke="#1a1a1a" stroke-width="0.18">Granulocyte</text><circle cx="175.7" cy="148.7" r="4.9" fill="#e65a28"/><text x="175.7" y="150.1" font-size="4" fill="#e8e8f0" text-anchor="middle">12</text><text x="185" y="151.3" font-size="7.6" fill="#1a1a1a" stroke="#1a1a1a" stroke-width="0.18">B cell</text></g>
<g id="panelB"><ellipse cx="299.9" cy="15.4" rx="14.6" ry="6.7" fill="#a6d06a" fill-opacity="0.75" transform="rotate(-8 299.9 15.4)"/><ellipse cx="307.4" cy="17" rx="7" ry="5" fill="#a6d06a" fill-opacity="0.75" transform="rotate(0 307.4 17)"/><ellipse cx="290.4" cy="14.4" rx="5" ry="4.5" fill="#a6d06a" fill-opacity="0.75" transform="rotate(0 290.4 14.4)"/><ellipse cx="297.3" cy="28" rx="16.6" ry="8.7" fill="#a6d06a" fill-opacity="0.75" transform="rotate(-5 297.3 28)"/><ellipse cx="308.9" cy="25.9" rx="7.6" ry="4.5" fill="#a6d06a" fill-opacity="0.75" transform="rotate(-20 308.9 25.9)"/><ellipse cx="287.8" cy="30.1" rx="6.5" ry="6.5" fill="#a6d06a" fill-opacity="0.75" transform="rotate(0 287.8 30.1)"/><ellipse cx="267.6" cy="27" rx="15.6" ry="10.5" fill="#a6d06a" fill-opacity="0.75" transform="rotate(8 267.6 27)"/><ellipse cx="274.5" cy="22.8" rx="7" ry="5" fill="#a6d06a" fill-opacity="0.75" transform="rotate(0 274.5 22.8)"/><ellipse cx="261.2" cy="30.1" rx="8.1" ry="6.5" fill="#a6d06a" fill-opacity="0.75" transform="rotate(0 261.2 30.1)"/><ellipse cx="271.3" cy="13.1" rx="5.3" ry="2.1" fill="#a6d06a" fill-opacity="0.75" transform="rotate(-8 271.3 13.1)"/><ellipse cx="298.4" cy="41.4" rx="4" ry="3" fill="#a6d06a" fill-opacity="0.75" transform="rotate(0 298.4 41.4)"/><ellipse cx="283.5" cy="43.8" rx="3.8" ry="1.6" fill="#6fa8d8" fill-opacity="0.75" transform="rotate(10 283.5 43.8)"/><ellipse cx="291.5" cy="49.8" rx="5" ry="2.5" fill="#a6d06a" fill-opacity="0.75" transform="rotate(5 291.5 49.8)"/><ellipse cx="285.1" cy="56.4" rx="6" ry="3.7" fill="#a6d06a" fill-opacity="0.75" transform="rotate(-25 285.1 56.4)"/><ellipse cx="266.6" cy="48.5" rx="10.6" ry="5.2" fill="#a6d06a" fill-opacity="0.75" transform="rotate(-10 266.6 48.5)"/><ellipse cx="272.4" cy="45.1" rx="5.8" ry="3" fill="#a6d06a" fill-opacity="0.75" transform="rotate(0 272.4 45.1)"/><ellipse cx="259.7" cy="51.6" rx="4.3" ry="3" fill="#a6d06a" fill-opacity="0.75" transform="rotate(0 259.7 51.6)"/><path d="M313.1 10.3h0M290.7 14h0M293 15.8h0M302.9 20.6h0M305.5 15.1h0M297.1 17.6h0M293.2 11.9h0M309.8 13.2h0M288.9 14.5h0M290.1 13.9h0M295.6 20.2h0M301.3 9.3h0M300 18.4h0M303.1 11.9h0M287.9 15.5h0M307.4 19.9h0M311.7 15.8h0M293.1 9.7h0M292.1 17.3h0M292.2 15.8h0M309.2 10.9h0M296 12.1h0M294.3 10.2h0M297.7 20.3h0M309.8 17.6h0M304.8 14h0M288.5 14.9h0M288.1 18.1h0M299.5 14.8h0M310.7 19.7h0M304.7 20.9h0M294.8 17.5h0M295.9 11.1h0M289.7 15.1h0M296.1 23.4h0M307.5 9.9h0M301.2 9.5h0M287.3 20.6h0M288.2 17.8h0M307.7 16.5h0M299.6 21.9h0M293.7 17h0M304.4 11.7h0M314.2 12.7h0M298.9 20.5h0M298.7 18.3h0M307.6 20.2h0M306.9 12.3h0M309.4 19h0M288.7 18.1h0M291.2 14.1h0M304.7 11.7h0M305.9 10.9h0M292.3 21.1h0M296.2 21.1h0M315.6 12.4h0M301.2 8.3h0M310.1 15.2h0M292.9 15.7h0M296.2 17.2h0M305 9.1h0M293.1 18.4h0M292.2 17.8h0M305 9.1h0M286.5 12.4h0M310.5 15h0M299.4 18.6h0M296 14.7h0M293.8 15.5h0M311.3 16.2h0M295.8 22h0M301.7 10.9h0M303.2 14.6h0M304.9 13h0M312.3 10.5h0M302.9 8.9h0M311.2 12.4h0M286 14.2h0M290.1 11.2h0M295.8 13.1h0M300.2 15.4h0M290 14.7h0M303.2 8.7h0M309.4 16.5h0M303.5 9.1h0M303.7 17h0M292.2 13.5h0M287.3 16.9h0M287.3 13.4h0M305.6 8.4h0M300.7 19.9h0M286.4 13.3h0M306.5 18.6h0M290.6 12h0M307.8 12.5h0M298.4 10.3h0M308.7 16.8h0M287.6 17.9h0M290.4 21.5h0M307.5 20.5h0M307.9 9.3h0M312.1 11.7h0M297.2 21h0M289.7 17.3h0M310.9 11.2h0M299.4 18.1h0M292.5 13.7h0M306.1 11.9h0M312.2 10.8h0M292.9 9.5h0M298.4 11.5h0M302.4 13.4h0M293.5 19.5h0M309 17.8h0M310.3 17.4h0M294.6 21.1h0M298 10.3h0M298.5 20.6h0M301 9h0M311.9 10.2h0M291.6 18.2h0M301.5 16.9h0M309.7 9.3h0M302.3 11.4h0M301.2 12.3h0M311.4 13.9h0M314.6 11.7h0M302.1 19.7h0M293.4 13h0M303.2 14h0M299.6 14.8h0M295.7 14.1h0M307.1 16.6h0M305.8 10.6h0M301.3 13.3h0M313.8 15.4h0M289.1 12.2h0M314.7 14.8h0M310.4 12.6h0M297 12.2h0M311.6 12.9h0M303.9 13.5h0M302.5 20.3h0M304.5 16.5h0M299.5 20.3h0M302.1 11.8h0M293 22.1h0M310 10.5h0M284.9 19.4h0M303.4 9.2h0M287.9 18.6h0M312.5 11.7h0M309.4 7.9h0M295.2 11.9h0M308.8 10.2h0M314 15h0M301.4 10.4h0M305.1 20.4h0M295.2 19.8h0M295 20.8h0M290.1 14.6h0M293.9 14.2h0M301.7 9.8h0M287.7 21h0M312.4 17.3h0M297.4 14.7h0M286.6 20.2h0M308.9 11.3h0M302.8 11.1h0M300 8.7h0M306.7 18.5h0M311.2 18.3h0M295.8 14.2h0M314.1 11.3h0M298.9 14.3h0M290.9 14.1h0M285.5 17.9h0M291.8 21.5h0M310.5 16.6h0M292.7 21.3h0M299.7 9.3h0M290.2 10.6h0M291.8 13.3h0M302.5 8.6h0M293 16.2h0M307.5 10.1h0M292.2 19.2h0M294.3 11.3h0M304.4 15.5h0M294.2 19.8h0M301.9 20.4h0M298.5 19.1h0M311.9 12.8h0M305.9 8.3h0M302 10.3h0M304.4 13.2h0M302.5 15.8h0M290.1 17.7h0M289.8 15.6h0M315 15.8h0M292.7 11.6h0M300.8 20.9h0M295.5 16.7h0M309 14.1h0M312.6 18.8h0M310.3 20.2h0M302.9 21.2h0M308.2 12.5h0M301.7 17.9h0M304.4 12h0M305.1 17h0M306.2 19.9h0M310.6 19.4h0M305.7 13.5h0M312.1 14.7h0M306.2 12.9h0M303.6 19.2h0M303.6 15.2h0M302 17.3h0M309.8 17.7h0M308.1 15.5h0M314.2 17.1h0M315.1 15.3h0M312.9 17.1h0M302.8 17.9h0M305.9 17.1h0M305.2 16.4h0M309.6 20.6h0M307.9 13.3h0M303.2 18.3h0M308.1 16.3h0M304.6 12.1h0M303.7 19h0M307.7 20h0M305.1 22h0M313.7 17.1h0M302.8 19.2h0M302 15.7h0M304.6 15.5h0M309.3 19.9h0M306.5 22.5h0M314 15.7h0M311.3 20.4h0M305.9 19.9h0M291.5 18.2h0M287.4 15.9h0M287.1 14.1h0M289 15.8h0M286.7 14h0M291.3 10.9h0M290.4 16.7h0M287.6 12.9h0M287.4 18.4h0M292.1 17.1h0M294.8 15.7h0M293.1 10.2h0M286.3 14.3h0M292.3 18.2h0M290.7 14.5h0M292.3 12.2h0M286.5 13.9h0M287.2 11.4h0M286.1 14.1h0M292.3 17.1h0M289.4 11.5h0M288.2 14.8h0M288.8 16.7h0M293.6 15.2h0M288.2 15.8h0M287.3 17.4h0M288.1 12.7h0M286.9 16.3h0M309.8 27h0M301.7 32.1h0M287.9 29.5h0M300.3 33.4h0M298.7 35.9h0M310.3 30.9h0M292.5 22.1h0M308.1 21.6h0M292.4 20.8h0M280.5 27.1h0M291.4 28.9h0M292.9 29.6h0M312.6 24.2h0M289.5 37.5h0M289.8 27.8h0M288.8 28.5h0M306.2 25.5h0M296.7 33.4h0M306.1 35.6h0M290.4 23.3h0M288.6 34.7h0M307.8 21.9h0M293.6 34.8h0M290.8 36.1h0M297.5 35.2h0M288.9 35.1h0M305.6 22.4h0M309.1 32.4h0M305.6 28h0M289.7 22.8h0M294.4 35.4h0M292.4 21.4h0M290.1 35.5h0M281.6 29.1h0M288.6 22.6h0M299.4 33.1h0M292.3 35.2h0M286.4 22h0M288.7 22.2h0M310.7 25.3h0M311.5 28.7h0M306.8 27.7h0M289.4 22.5h0M300.8 30h0M308.9 22.8h0M301.8 21.1h0M282.6 33.2h0M314.4 30.3h0M289.1 21.2h0M285.4 29h0M311.6 31.7h0M290.5 36h0M288.9 31.7h0M303 32.9h0M303.8 27.1h0M307.7 21.3h0M295.3 37.4h0M295.2 35.9h0M289.4 23h0M304.5 23.8h0M308.9 29.2h0M290.3 22.3h0M297 34.9h0M295 24.8h0M288.9 34.9h0M284.1 31.2h0M304.2 19.1h0M304.4 26h0M291.7 23.9h0M289.2 34h0M309.9 31.3h0M301.2 29.5h0M308.2 22.2h0M311.4 30.3h0M301 20.2h0M307.1 26.9h0M300.4 19.6h0M286.1 23.7h0M304.9 21.5h0M289.8 28.2h0M309.5 27.8h0M304.8 32.4h0M282.4 32.8h0M311.7 29.7h0M306.4 33.4h0M300.7 23.8h0M303.7 30.5h0M306.3 21.9h0M310.4 28.4h0M298.2 23.7h0M301.7 28.9h0M310 32.1h0M298.1 26.9h0M293.6 35.9h0M296.2 30.7h0M311.9 27.6h0M306.2 24.1h0M297.7 32.8h0M300.5 25.5h0M300.9 30.9h0M305.9 35.5h0M281.6 26.1h0M285.1 25.9h0M286.6 30.1h0M308.4 26.3h0M305.6 28.4h0M314.4 28.6h0M284.7 33.5h0M304.1 27.1h0M283.8 26.1h0M309.6 33.3h0M307 28.9h0M284.3 25.2h0M291.3 32.9h0M287.6 28.8h0M301.1 37.4h0M288.4 29.4h0M312.8 26.5h0M304.9 23h0M294.2 32.3h0M302.9 20.2h0M284.2 27.1h0M299.3 31.9h0M282.2 35.7h0M288.8 36.2h0M309.8 25.5h0M294.3 32.2h0M284.7 31.3h0M288.4 31.5h0M295.8 20.6h0M299.6 29.8h0M293.4 20.1h0M300.2 23.4h0M292.5 34.7h0M301.7 35.7h0M284 25.1h0M306.1 22.9h0M298.6 35.2h0M296.6 34.8h0M298.5 36.4h0M285.8 20.3h0M293.7 28.8h0M301.3 29.8h0M309.7 31.9h0M298.8 20.8h0M287.9 25.3h0M291.5 37.8h0M301.3 18.9h0M283.5 30.1h0M307.4 28.1h0M280.3 30.2h0M299 26.9h0M311.3 32.9h0M283.7 33.7h0M314.2 24.5h0M304.1 25.6h0M284.4 29.3h0M284.5 29.2h0M297 34.8h0M293.3 24.6h0M300.6 22.9h0M287 26.3h0M282.5 26.9h0M281.3 32h0M283 30.4h0M310.2 24.6h0M291.3 22.7h0M285.5 20.3h0M299.2 37.1h0M280.8 33.2h0M288.7 25h0M295.2 20.9h0M295.8 18.5h0M296.9 18.6h0M311.2 25.2h0M308.3 24.9h0M294 27.9h0M304.1 29.1h0M306.7 30.6h0M295 22.9h0M287.7 30.4h0M296 35.3h0M284.8 33h0M283 30.2h0M299.5 33h0M285.3 27.5h0M281.7 31.2h0M303.6 35.4h0M280.3 30.1h0M308.3 20.6h0M296.1 31.9h0M295.6 20.5h0M291 33.7h0M293.7 36.6h0M297.3 20.3h0M285.1 30.6h0M304.7 31.4h0M312.5 25.9h0M287.8 34.1h0M283.5 28.5h0M294 32.5h0M303.8 29.3h0M294.5 20.9h0M310.5 30.7h0M315.2 24.3h0M309.7 23.3h0M288 31.7h0M292.2 30.5h0M306.2 32.2h0M304.5 35.5h0M289.5 34.4h0M302.5 27.7h0M304.5 22.7h0M312.5 29.3h0M307.7 35.4h0M302.8 29.1h0M298.7 32.7h0M291.5 29.8h0M291.6 21.9h0M297.3 21.8h0M284.1 30.4h0M294 35.1h0M312.4 32.5h0M309.5 28.9h0M314.3 25h0M282.6 30.2h0M296.9 21.6h0M283.2 25.2h0M286.8 29.8h0M305.1 27.6h0M297.7 26.6h0M304.7 22.5h0M300.6 25.5h0M282.1 29.3h0M309.5 30.8h0M289.8 27.1h0M282.2 26.5h0M310.8 28.9h0M314.2 28.1h0M309.8 28.6h0M305.8 30.5h0M305.8 31.2h0M305.6 33.6h0M285.1 33.1h0M281.5 32.9h0M315.3 26.2h0M298.9 21.9h0M314.6 26.1h0M312.6 30.3h0M309.8 21.6h0M295.6 32.1h0M304.5 26.4h0M301.8 20.1h0M314 29.5h0M288.6 33.6h0M304.7 20.1h0M297 21.5h0M294.4 20h0M296.1 34.9h0M283.5 33h0M295.1 30.6h0M290.9 32.1h0M289.6 34.2h0M304.8 23.1h0M297.4 25.9h0M279.8 26.9h0M287.5 22.1h0M288.6 33.3h0M298.9 24.7h0M311.5 23.2h0M306.6 28.7h0M297.8 32.3h0M287.1 28h0M288.9 29.6h0M310.2 20.8h0M312.4 23.3h0M304.9 30.1h0M297.1 32.8h0M305.8 26.1h0M307.3 30.9h0M288.4 31.8h0M308.5 23.1h0M306.6 29.1h0M309.6 31.9h0M289.5 24h0M309.9 22.5h0M300.6 25.1h0M283.7 31.3h0M299.8 32.6h0M314.1 28.3h0M294.3 21.2h0M292 20.1h0M305.1 33.9h0M293.3 32h0M289.3 34.2h0M282.8 30.4h0M299.7 37.3h0M300.6 31.1h0M306.9 29.5h0M309.7 23.4h0M304.5 25.7h0M315.5 28.2h0M310 21.5h0M304.2 28.7h0M306.4 29.5h0M309.9 20.9h0M307.2 28.2h0M308.7 30.5h0M314.4 23.2h0M312.3 22.3h0M308.4 22.5h0M313.5 22.1h0M302.6 25.4h0M315.8 25.8h0M307 25.1h0M314.3 22.6h0M311 27.7h0M315.4 21.5h0M303.1 27h0M307.4 27.9h0M315 25.6h0M307.3 24.9h0M309.8 21.7h0M304.8 25.1h0M312.5 23.8h0M311.9 26.7h0M308.2 23.8h0M312.3 21.1h0M310.1 26.2h0M301.6 25.7h0M310.4 28.7h0M308.2 24.5h0M303.4 29.4h0M305.7 24.1h0M290 27.5h0M284.9 28.3h0M287 25.7h0M284.7 25.1h0M283.2 28.7h0M287 32.6h0M290.7 26h0M290.1 30.7h0M287.8 36.6h0M289.1 36h0M291 27.7h0M283.2 34.3h0M289.9 28.3h0M292 24.8h0M281.4 28.7h0M285.5 33.5h0M284.2 26.6h0M283 31.9h0M283.5 31.7h0M284.7 27.3h0M292 32.7h0M288.3 32h0M286.7 34.6h0M289.2 24.4h0M283.3 34.3h0M291.7 26.6h0M293.7 29.1h0M283.2 25.4h0M284.1 35.9h0M292.3 27.6h0M281.1 33.4h0M281.8 33.7h0M291 33.2h0M286.1 35h0M282.5 32.9h0M290.4 28.1h0M291.6 28.8h0M285.2 33.9h0M290.7 27.5h0M284.2 35.5h0M276 25.6h0M262.8 26.5h0M271.6 20.2h0M262.2 24.5h0M279.7 32.8h0M266 15.5h0M267.9 26.7h0M261.7 24h0M277.9 27h0M255.4 19.7h0M275.5 21.4h0M281.7 24.2h0M276.1 30.9h0M277.9 29.1h0M262.8 26.1h0M262.6 22h0M255.9 30.4h0M263.5 25.4h0M259.8 26.8h0M257.4 21.4h0M279.1 21h0M266 21.4h0M256.7 19h0M256 25.6h0M254.7 23.7h0M262.4 36.3h0M258.6 28.3h0M276.2 34.9h0M274.2 21.3h0M264.7 21.4h0M277.8 35.1h0M258.1 25.7h0M272.5 27h0M265.5 33.6h0M259.1 22.1h0M263 30.4h0M279.3 28.2h0M252.7 29h0M271.9 36.1h0M257.5 28.9h0M265.1 32.9h0M256.1 23h0M265.4 17.2h0M277 23h0M274.2 33.6h0M272.1 22.8h0M276.3 20.9h0M263.1 28.4h0M265 20.7h0M268.3 36.4h0M266.2 23.8h0M273.9 30.3h0M263.1 19.6h0M267.1 16.3h0M256.3 16.6h0M274.7 35.7h0M277.8 22.6h0M280.3 32.5h0M266.5 33.6h0M272.5 31.7h0M271 19.2h0M260 24.2h0M275.4 25.9h0M270.6 34.4h0M258.8 21.5h0M252.9 26.7h0M264.5 34.4h0M265 25.7h0M257.1 26.3h0M274.9 30.5h0M278.2 26.1h0M255.5 21.2h0M258 34.4h0M262.3 23.2h0M267.8 36.5h0M280.6 20.4h0M273.5 35.7h0M256 28.4h0M259.8 29.3h0M277.1 22.6h0M266.7 26.6h0M255.6 31.9h0M273.2 18.3h0M281.8 31.2h0M274.8 32.4h0M274.3 26h0M265.6 33.7h0M255.9 31.1h0M264.2 26.4h0M261.8 28.5h0M280.6 26.1h0M265.5 19.2h0M275.2 34.9h0M270.7 34.6h0M275.7 33.1h0M281.3 24.5h0M262.7 33.3h0M284.2 23.3h0M252 27h0M270 18.9h0M252.4 28.2h0M261.5 18.8h0M268 35.4h0M276.2 20.5h0M267.7 23.3h0M275.7 35.8h0M269.7 30.4h0M265.3 34.1h0M281 33h0M271.2 34.5h0M273.4 18.3h0M275.3 33.1h0M277.2 24.4h0M273.8 29.2h0M260.8 20.7h0M274.5 35.9h0M254 26h0M278.3 35.1h0M257.2 23.2h0M264.9 21.8h0M284.8 29.5h0M279.4 30.6h0M275.1 30.1h0M261.1 28.8h0M267.4 20.7h0M266.3 19.6h0M259 22.2h0M271.4 33.2h0M252.9 24.3h0M251.7 23.5h0M263.6 34.9h0M261.5 21.6h0M266 18.4h0M273.9 30.4h0M256.4 23.5h0M267.2 21.7h0M278.6 23.3h0M254.5 30.9h0M277.8 28.1h0M254.1 29h0M264.4 29.1h0M272.9 20.9h0M258.9 31.1h0M272.2 18.2h0M278 34.2h0M264.7 35.5h0M260.8 31.1h0M264.2 29.4h0M268.8 30.8h0M260.4 25.1h0M261 18.7h0M260.5 19.5h0M262.2 17.1h0M270.9 18.8h0M257.2 18.3h0M275.7 35.4h0M257 31h0M273.8 31.6h0M257.9 31.9h0M273.1 20.3h0M272.7 34.7h0M269.4 37.5h0M273.7 20.1h0M251.5 29.9h0M259.7 25.6h0M271.1 30.7h0M257.4 27.1h0M280 30.4h0M279.2 30h0M273.3 18.6h0M251.1 24.9h0M266.3 34.2h0M253.9 24.6h0M280.4 24.7h0M271.8 21.7h0M269.1 20.5h0M281 20.2h0M280 26.4h0M253.7 20.1h0M252.9 24.4h0M262.6 18.3h0M254.2 29.3h0M255.2 33.5h0M274.5 29.6h0M253.3 19.8h0M268.8 16.4h0M270.3 36.6h0M256.3 29.8h0M271 17h0M272.1 22.9h0M274.1 30.8h0M282.8 33.4h0M256.6 26.1h0M272.9 32.5h0M262.4 21.3h0M275.6 24.8h0M258.5 32.4h0M259.1 32.6h0M279.3 30.3h0M270.7 35.6h0M257.4 36.1h0M254.3 32.7h0M268.4 21.5h0M266.2 26.9h0M255.1 32.4h0M256.4 19.2h0M272 28.8h0M261.5 33.7h0M258.7 18.4h0M281.7 31h0M264.8 17.3h0M268.3 21.5h0M279.1 30.8h0M276.6 31.8h0M281.3 28.3h0M259.6 28.4h0M273.8 27h0M272.4 17.4h0M275.8 34.9h0M253.8 29.3h0M268 37.6h0M260.8 23.2h0M258.1 17.1h0M258.8 17.4h0M257.3 29.7h0M269.2 27.2h0M285.2 26.9h0M265.3 23.7h0M280.9 27.2h0M270.6 15.2h0M259.7 20.5h0M273.4 31.1h0M255.2 28.4h0M264.9 32.7h0M280.6 22.5h0M255.6 31h0M277.4 35.9h0M272.9 30.7h0M261.9 22.4h0M261.4 28.6h0M270.8 36.1h0M260.2 21.7h0M270.9 17.7h0M262.9 17h0M264.5 25.4h0M256.5 24.7h0M281.7 25.6h0M261.2 34.3h0M272 34.2h0M263.3 18.1h0M258.9 28.1h0M261.7 19h0M258.5 26h0M279.1 26.2h0M275.5 36h0M261.2 28.9h0M274.3 17.4h0M263.2 32.5h0M274.6 33h0M267.5 37.3h0M256.5 27.7h0M281.1 29h0M261.3 19.3h0M267.4 17.4h0M267.9 19h0M278.4 19.7h0M276 20.1h0M258.8 33.2h0M276.2 35.7h0M279.1 20.2h0M254 25.4h0M269.7 21.7h0M264.9 30.3h0M272.6 30.2h0M253.5 22.5h0M265.5 30.4h0M274.9 29.5h0M272.1 26.1h0M273.1 23h0M282.4 25.9h0M278.1 17.6h0M272.2 38.4h0M264.4 35.6h0M261.9 35h0M272 28.5h0M251 30.7h0M269 17.2h0M267.4 21.8h0M284.4 27.8h0M276 33.8h0M282 33.8h0M265.2 28.1h0M270.9 33.9h0M260.6 36.2h0M259.3 36h0M270.9 34.2h0M256.8 20.7h0M267.3 35.2h0M264.1 18.8h0M273.5 36.6h0M275.8 30.7h0M267 21.2h0M281.9 21.9h0M273.4 20.7h0M267.8 30.5h0M256.3 23.5h0M271.6 19h0M268.7 16.7h0M261.8 17.4h0M255.6 36.8h0M264.9 34.7h0M266.4 36.9h0M258.9 22.9h0M281.7 22.7h0M267.5 19.8h0M263.6 21.4h0M276.9 24.5h0M282.2 30.1h0M262.3 36.3h0M253.9 27.7h0M273.9 31.7h0M260.6 24.3h0M279.2 27.3h0M269.5 22h0M271.3 22.9h0M279.1 36.6h0M273.6 35.5h0M259.7 18.7h0M261.4 23.1h0M275.8 26.1h0M278.4 18.7h0M255.2 22h0M283.1 25.8h0M277.5 27.5h0M266.9 26.5h0M280.6 32.1h0M275.4 27.2h0M252.7 25.2h0M264.8 25.1h0M276.2 22.3h0M255.1 21.6h0M260.5 31.6h0M271.7 18.2h0M259.4 18.7h0M271.5 33.9h0M284.5 25.8h0M273.4 38h0M282.3 32.4h0M277.5 28h0M275.8 32.2h0M279.3 21.4h0M275.3 32.8h0M273.4 37.5h0M275.8 34.6h0M280.4 24.5h0M270.9 33.8h0M264.3 26.3h0M279.1 24.2h0M278 31.8h0M257.4 22.4h0M280 23.2h0M276.5 25.3h0M279.6 20.7h0M253.3 29.1h0M256.1 30.5h0M276.5 19.3h0M270.3 24.9h0M275.2 35.5h0M263.2 33.1h0M272.7 17.7h0M262.7 31.7h0M267.8 20.9h0M280 23.8h0M260.7 17.3h0M277.6 26.4h0M269.1 23.2h0M276.7 24.6h0M269.3 21.3h0M281.4 22.5h0M269.7 23.9h0M267.2 25.5h0M271 18.8h0M269.7 24.8h0M269.8 20.4h0M272.5 23.3h0M267.5 21.6h0M276.5 19.6h0M278.2 25.6h0M272.7 21.7h0M280.4 19.8h0M278.8 20.9h0M277.9 19h0M278.7 21.9h0M275 27.4h0M268.7 23.6h0M279.5 18.7h0M270.4 22.4h0M267.1 22.9h0M271.1 23.4h0M272.6 18.7h0M278.5 25.1h0M272.9 23.6h0M281 23.9h0M271.3 19.1h0M273.1 26.4h0M269.9 27.3h0M272.4 22.4h0M270.5 24.4h0M272.5 20h0M272.8 28h0M278.6 24.7h0M274 23.9h0M278.5 20.1h0M279.7 19.1h0M280.6 21.8h0M261.1 27.3h0M260.8 25.4h0M263 25.4h0M264.8 36h0M264.7 30.3h0M263 33h0M260 26.9h0M253.6 30.4h0M257.7 34h0M264.3 30h0M263 26.7h0M259 25.9h0M259.5 29.6h0M265 28.3h0M268.3 33h0M255.4 28.7h0M265.9 35.8h0M261.4 27.9h0M254.2 31h0M256.9 36h0M256.1 27.3h0M257.3 30.3h0M262.3 24.5h0M259.8 32.8h0M257.4 34.1h0M265.2 28.8h0M266.8 32.2h0M263.1 27.4h0M256.1 28.7h0M258.9 29.9h0M259.2 29.1h0M255.6 28.8h0M261.3 36.3h0M260.1 27.2h0M266.5 35.5h0M267.2 25.8h0M259.5 25.4h0M265.1 25h0M272.5 11.5h0M266.9 13.3h0M271.3 11.2h0M273.9 13.2h0M275.4 13.6h0M268.9 14.6h0M267.9 15h0M272.3 14.7h0M275.7 13.3h0M270.8 13.3h0M269.4 13.9h0M273 11.9h0M276.1 11.4h0M270.7 11.7h0M265.7 13.6h0M268.7 11.4h0M269.9 15h0M272 13.6h0M276.4 12.5h0M275.2 11.8h0M268.3 13.4h0M271.1 14.1h0M274.2 13.2h0M267.9 14.1h0M267.3 12.8h0M275.8 13.4h0M271.6 14.5h0M269.6 12.4h0M266.6 13.7h0M275.9 11.6h0M274.1 11.2h0M269.1 12.7h0M275.9 12.6h0M271.1 12h0M275 11.7h0M276.9 11.6h0M275 13.7h0M276.7 13.4h0M280.5 4.3h0M275.1 2.9h0M279.7 5.5h0M275.2 3.9h0M276.2 2.9h0M274.7 3.8h0M278.5 3h0M276.9 3.3h0M277.8 3.1h0M279.3 3.3h0M279.2 3.6h0M276.6 3.3h0M292.4 3.4h0M290.5 4.5h0M290.8 5.4h0M292.9 5.6h0M290.5 5.6h0M292.2 4.2h0M291 4.6h0M291.1 4.8h0M292.1 4.5h0M291.3 6.6h0M314.4 37.9h0M312.4 35.8h0M296.7 41.8h0M294.6 40.6h0M298.7 43.2h0M301.7 42.6h0M300.9 39h0M301.7 41.7h0M301.3 43.1h0M294.4 42.1h0M299.9 42.7h0M300.8 41.7h0M295.4 43.4h0M301.4 43.3h0M297.2 40.4h0M297 41h0M300.5 43.1h0M296.1 39.2h0M299.6 41h0M298.2 43h0M301.5 40.2h0M293.9 41.2h0M298.4 42.3h0M302.7 40.2h0M300.8 43.6h0M298.9 39.6h0M300.7 40.7h0M295.6 43.1h0M298 39h0M296.1 40.8h0M296.7 40.2h0M295.8 42.1h0M297.4 44.2h0M297.3 38.8h0M294.9 41.7h0M297.6 42.5h0M295.8 42.8h0M296.7 42.2h0M311.4 44.5h0M315.6 46.9h0M314.9 45.3h0M314.1 48.5h0M285.7 45h0M282.2 41.8h0M285.9 42.9h0M285 43.8h0M287.5 48.1h0M291.9 51.8h0M294.3 48.7h0M289.2 47.5h0M295.6 49.4h0M293.6 49.9h0M290.2 50.2h0M294.9 50.3h0M295 49h0M292.3 50.4h0M286.9 50.7h0M294.2 49.9h0M294.6 50.9h0M295.5 50.5h0M288.3 48.5h0M293.7 47h0M287.9 51.1h0M295.1 51.9h0M293.2 48.3h0M295 49.8h0M287.3 50.2h0M291.6 52.5h0M290.6 49.9h0M287.4 49.7h0M287.6 49.2h0M291.5 48.1h0M288.7 51h0M289.5 50.9h0M285 58.8h0M288.4 56.7h0M288.9 53.1h0M287.8 58.8h0M282.7 55.5h0M289.5 55.5h0M285.9 59.5h0M283.3 56.6h0M279.7 60.3h0M281.9 58.7h0M284.9 58.3h0M289.9 55.7h0M291 56h0M285.7 58h0M282.1 55.3h0M284.8 54.8h0M280.7 55.3h0M290.1 54.2h0M282.8 57h0M287.3 57.2h0M285.3 59.8h0M281.7 54.1h0M285.7 53.5h0M280.9 57.7h0M281.9 58.4h0M286.1 57h0M287.5 57.1h0M284.1 59.5h0M288.6 57h0M285.2 57.7h0M289.6 57.6h0M289.9 56h0M281.1 56h0M282.6 58.6h0M288.4 55.4h0M280 56.1h0M279.3 57.4h0M288.2 58h0M284.7 59.1h0M286 52.5h0M280.6 59.9h0M287.5 54.5h0M282.4 55.9h0M280.4 59h0M283.7 54.7h0M288 55.8h0M287.4 55.1h0M288.5 52.6h0M286.8 59.7h0M288.1 56.7h0M282.6 55.7h0M287 59.3h0M283.7 53.1h0M283.2 56h0M280.4 57.2h0M280.7 59.5h0M284.3 57.9h0M282.2 56.5h0M281.7 60h0M279 59.7h0M288.7 54.1h0M290 54.6h0M291.3 52.7h0M290.5 53.6h0M291.4 58.6h0M291.3 58.6h0M289.6 57.6h0M273.4 44h0M269.3 53.3h0M259.8 45.1h0M272.1 44.8h0M264.5 44.7h0M268.7 53.2h0M271 50.6h0M272.1 51.6h0M268.4 45.5h0M265.4 53.7h0M271.8 43.2h0M260.2 46.7h0M255.6 51.5h0M267.4 50.3h0M262.4 44.6h0M259.1 47.2h0M271 47.2h0M264.3 44h0M273.9 48.1h0M262.5 48.3h0M262.3 46.8h0M266.1 51h0M259.3 48.2h0M266.1 49h0M272.5 47.5h0M272.5 52.3h0M270.8 47.4h0M270.9 49h0M269 50.7h0M263.2 51h0M261.3 44.8h0M260.5 49.9h0M262.8 53.5h0M264.3 46.8h0M268.6 48.7h0M274.2 44.6h0M265.3 54.4h0M267.2 51.6h0M261.4 47.6h0M265.7 43.2h0M262.6 53.1h0M274 48.1h0M264.4 47.2h0M264.5 48.9h0M268.5 51.5h0M259.7 53.6h0M275.1 50h0M266.6 43.6h0M269 44.3h0M272.9 44.1h0M270.1 42.4h0M263.8 51h0M269.3 43.3h0M271.7 49.9h0M276.3 46.2h0M274.5 47h0M270.2 43.1h0M270.3 48h0M276 47.5h0M258.6 52.3h0M269.2 51.3h0M263.2 52.7h0M270.3 46.1h0M268.2 45.8h0M262.6 53.4h0M265.8 48.3h0M257.2 51h0M266 50.2h0M270.7 50.4h0M270.9 50.9h0M259.2 47.6h0M264.6 45.1h0M277.5 47.6h0M268.6 47.6h0M263.9 53.6h0M272.3 46.2h0M271.6 50.5h0M258.7 49.2h0M268.5 50.1h0M261.5 49.1h0M264.9 45.1h0M269.3 48.4h0M275.2 48.3h0M277 45.5h0M274.1 43.9h0M267.2 46.7h0M274.2 45.4h0M267.8 45.8h0M261.7 49h0M261.7 44.5h0M263.5 44.7h0M264.5 47.4h0M274.2 43.2h0M258.7 49.3h0M259.4 47.3h0M270.8 43.6h0M277.5 48.1h0M271.8 51.3h0M262.5 47.9h0M272.5 45.2h0M268.7 45.1h0M271.7 48.5h0M260.7 50.5h0M262.4 47.7h0M268.8 45.6h0M273.8 49.3h0M266 49.3h0M276.1 46.7h0M277.1 47.4h0M274 48.2h0M275.7 47h0M266.4 44.1h0M269.8 46.8h0M269.7 45.2h0M270 44.6h0M269.8 44.4h0M271.8 47.1h0M268.2 46.8h0M268.6 44h0M275.5 43.4h0M275.4 43.7h0M273.3 42.7h0M268.6 42.2h0M267.4 44.7h0M266.7 46.6h0M273.6 45.9h0M269.3 44.9h0M271.8 42.7h0M271.8 45.9h0M273.8 46h0M270.9 47.7h0M269.5 42.5h0M272.5 46.7h0M266.9 45.1h0M273.4 45.5h0M269.3 44.1h0M267.8 46.3h0M276.6 44.4h0M274.1 44.4h0M273.2 42.3h0M258.7 49.9h0M260.8 49.3h0M259.6 51.7h0M262.2 53.6h0M261 50.3h0M260.9 54.3h0M260.3 50.5h0M261.1 51.1h0M261.6 52.9h0M262.5 51.5h0M260.9 53.8h0M261.7 50.3h0M258.3 48.5h0M259.2 54.4h0M263.3 51.3h0M259.5 48.9h0M262.1 50.4h0M259.3 48.4h0M258.4 43.8h0M257.4 43.9h0M253.7 40.9h0M253.6 40.6h0M254.2 40.3h0M253 40.2h0M252.2 40.8h0M253.3 39.8h0M251.7 40.8h0M253.3 39.4h0M253.6 39.9h0M254.1 41.2h0M239.2 39.4h0M239.2 39.5h0M239.1 38.6h0M268.7 60h0M264.1 58.7h0M274.6 66.5h0M273.8 64.5h0M273.5 65.7h0M273.6 65.7h0M275.2 65.8h0M275.1 65.8h0M275 65.2h0M273.6 66.5h0M275.1 65.6h0M275.8 65.8h0M303.1 54.2h0M302.8 53.9h0M303.9 53.7h0M304.8 54h0M305.7 54.1h0M304 53.5h0M305.2 53.7h0M302.9 54.2h0M304 53.4h0M304.2 54.2h0M304.7 54.9h0" stroke="#b4d54e" stroke-width="0.8" stroke-linecap="round" fill="none"/><path d="M287.6 16.7h0M298.3 17.8h0M294.6 13.3h0M302.8 11.4h0M305 16.7h0M286.7 14.3h0M303.1 9.9h0M299.3 11.1h0M310.1 13.2h0M313.3 10.7h0M286.2 15.6h0M292.3 22.6h0M300.7 10.5h0M294.5 21.3h0M296.4 20h0M296.2 22.3h0M289.2 14.8h0M310.3 19.9h0M289.4 20.9h0M304.3 9.9h0M292.2 18.4h0M291.9 13.1h0M295.6 17h0M304.9 10.7h0M312.7 12.7h0M299.2 10h0M292.2 22.3h0M299.5 19.4h0M293.6 9.9h0M311.7 18.2h0M298.9 12.8h0M302.8 11.8h0M292.4 21.6h0M287.3 16.7h0M293.1 11.1h0M303.4 8.7h0M314.6 11.2h0M295 19.3h0M284.8 17.5h0M308.3 10.6h0M300.3 17.5h0M297.4 13.1h0M290.3 12.4h0M286.1 16.4h0M289.5 12.5h0M290.2 20.3h0M296.7 18.6h0M309.7 14.4h0M310.7 17.2h0M297.4 9.5h0M305.8 15.7h0M308.2 8.6h0M303.9 10.6h0M297.3 14.4h0M286 13.5h0M291.2 13.3h0M304 18.3h0M290.6 21.7h0M295.3 20.9h0M300.4 12.3h0M304 17h0M310.1 14h0M306.1 9.8h0M294 16.5h0M302.1 19.6h0M288.5 14.5h0M306.9 12h0M312.2 17.5h0M299 13.3h0M300 18.2h0M315.2 11.3h0M308.6 14.8h0M291.4 15.7h0M289.2 14.2h0M303.5 10.3h0M289.6 14.7h0M306.3 13.4h0M295.9 21.2h0M302.7 11.8h0M310 18.4h0M307.6 18.5h0M299.2 20h0M299.3 11.5h0M302.3 22h0M285.3 16.9h0M293.1 14.7h0M291.8 20.7h0M287 19.7h0M289.8 16.1h0M302.6 15.5h0M287.2 19.3h0M288.9 20.3h0M288.3 15.8h0M306.9 18.4h0M311 14.5h0M302.8 22.1h0M307.5 12.9h0M306.6 20.7h0M311.7 14.6h0M306.9 19.4h0M314.4 17.1h0M308.7 19.6h0M309.4 18.6h0M301.5 19.2h0M308.7 18.4h0M300.7 20.4h0M305 12.8h0M303.2 16.5h0M312.6 19.5h0M311.3 13.7h0M308.4 20.5h0M309.4 14.3h0M307.5 16.1h0M314.9 18.1h0M308.4 22.2h0M305.2 21h0M290 10.5h0M286.6 15h0M288.9 18.7h0M289.4 12.6h0M294.1 14.6h0M291.6 14.9h0M293.1 13.8h0M289.3 14.5h0M292.6 10.2h0M289.6 18.6h0M286.5 13.8h0M293.4 12.1h0M304.5 35.5h0M287.1 32.6h0M301.9 21.8h0M296.1 36.9h0M297.5 18.1h0M297.7 18.9h0M308.9 29.6h0M302.7 19.6h0M290.4 36h0M308.9 29.4h0M296.6 32.5h0M290.7 33.6h0M302.4 21.4h0M296.6 27.8h0M297.5 33.6h0M281 32.9h0M291 23h0M302.3 29.8h0M292.9 27.2h0M291.4 34.4h0M311.5 29.1h0M290.3 34.7h0M287.7 28.4h0M311.5 24.3h0M311.9 27.3h0M283.3 30.5h0M304.4 22.9h0M304.8 19.2h0M299.1 31.7h0M286.3 31.7h0M309.8 24.4h0M310.5 26.9h0M306.1 27.9h0M301.7 19.6h0M304.3 34.8h0M279.9 32.3h0M303.9 34.3h0M292 34.1h0M295 30.9h0M311.3 21.8h0M290.9 33.6h0M304.8 31h0M295 30.5h0M308 28.3h0M313.2 24.8h0M302.3 30h0M292.9 25h0M291.4 26h0M283.6 32.1h0M285.3 28.2h0M289.2 28.8h0M299.3 30.1h0M287.6 32h0M304.2 31.7h0M304.9 35h0M305.4 24.4h0M315.4 30.2h0M285.1 34.6h0M296.1 35.9h0M305.9 22.2h0M298.9 23h0M288.6 24h0M302.1 27.1h0M302.4 28.7h0M312 26.2h0M300.6 25.7h0M307.4 22.2h0M287.9 22.5h0M294.4 25.5h0M311.5 31.3h0M294.5 23h0M310 26.2h0M302.2 20.4h0M294.2 33.6h0M310.2 23.4h0M291.9 32.5h0M310.5 31.6h0M295.8 23h0M313.2 27.7h0M310.3 25.3h0M307.4 34.5h0M298.4 34.7h0M285.2 33.2h0M291.7 31.4h0M296.8 32.6h0M294.1 34.8h0M289.1 33.3h0M297.1 21.6h0M310 29.1h0M301.4 29.3h0M298.6 34.3h0M287.4 23.4h0M311 27.2h0M290.1 35.5h0M313 28.5h0M289.8 22.7h0M301.2 20h0M304.7 22.3h0M308.9 30h0M296 36.9h0M294.6 21.2h0M311 30.7h0M301.2 35.7h0M291.4 31.8h0M287.6 27.6h0M306.9 31.6h0M294.4 33.8h0M303.7 24.9h0M286.9 35.8h0M307.2 29.4h0M303.7 32.4h0M283.7 25.3h0M284.6 28.3h0M299.5 25.7h0M287.9 34.3h0M303.9 26.9h0M303.9 21.8h0M284.1 24.3h0M312.9 25.7h0M312.9 22.6h0M306.5 20.5h0M300.2 32.1h0M283.9 25.9h0M316.6 29.1h0M287.2 24.9h0M307.3 33.8h0M312.5 27.8h0M299.7 24.3h0M293.3 37.4h0M296.2 28.6h0M282.9 31.4h0M294.6 35h0M293.5 34.7h0M311.2 25.4h0M302.4 23.8h0M288.2 28.7h0M291 32.2h0M296.1 31.1h0M304.9 19.1h0M289.7 24.4h0M281.6 32.7h0M285.2 29.6h0M307.4 26.9h0M311.5 30.1h0M285.1 29.2h0M301.9 24.4h0M292 33.6h0M283.4 28h0M291.1 23.5h0M310.2 21.4h0M289.5 31.4h0M307.9 32.3h0M298.8 23.1h0M300.1 36.1h0M280.3 29.5h0M309.3 23.7h0M294.9 35.4h0M298.4 36h0M307.6 35.4h0M295.5 37.5h0M310 23.3h0M305.3 24h0M314.4 24.6h0M303.6 28.1h0M313.7 27.2h0M309 29.2h0M311 28.2h0M310 26.2h0M312.3 27.4h0M305.9 28.1h0M314.5 23.5h0M311.6 22.2h0M310.2 22.4h0M304.9 28.3h0M308.4 21.5h0M311.4 28.4h0M309.1 29.1h0M307.7 24.3h0M313.8 23.5h0M312.3 20.9h0M313.3 22.5h0M309.6 28.9h0M317.6 24.6h0M310.8 28.3h0M312.3 28.9h0M313 27.7h0M288 30.1h0M289.3 23.7h0M292 27.7h0M284.7 35.5h0M281.7 29.6h0M284.2 35.6h0M290.5 31.8h0M291.9 28.5h0M284 32.1h0M289.4 29.2h0M293.1 31.3h0M285.9 25.6h0M287.1 25.8h0M283.7 33.6h0M285.7 33h0M286.7 24.9h0M291.2 35.4h0M285.7 26.4h0M292.3 33.2h0M283.7 26.5h0M258.9 16.7h0M260.6 20h0M273.1 21.5h0M253.6 23.3h0M279 31.3h0M257.4 30.6h0M251.3 28.3h0M268.8 33.7h0M272.8 37.2h0M273 24h0M259.5 19.3h0M278.6 21.3h0M279.9 29.4h0M267.9 16.4h0M279.8 22.2h0M264.1 35.7h0M260.2 29.6h0M261.7 20.6h0M265.6 27.5h0M255.6 29h0M253 23.4h0M253.8 24.1h0M281 37.3h0M260.1 21.7h0M262.8 26h0M272.3 18.9h0M257.3 30.1h0M260.7 28.9h0M272 17.6h0M276.9 24.1h0M270.8 25.5h0M254.5 20.2h0M257.3 24.8h0M270 36h0M273.1 16.8h0M259.2 32.1h0M271.8 29.1h0M270.5 35.3h0M270.5 18.1h0M274.9 29.1h0M257.4 23.8h0M258.2 19.3h0M272.5 31.6h0M261.1 34.9h0M268.4 24h0M262.9 19.6h0M270.8 32.5h0M259.4 19.5h0M257.9 23.1h0M265.1 36.7h0M256.3 21.4h0M271 17.9h0M249.6 27.6h0M278.4 25h0M250.3 27.4h0M273.1 37.1h0M261.9 16.4h0M262.8 36.1h0M257.6 18.8h0M256.4 23.7h0M270.8 16.2h0M253 25.8h0M253.1 27.5h0M261.3 36.9h0M259.9 36.3h0M281.4 31.1h0M255.4 28.9h0M261.5 27.4h0M272.5 26.2h0M269.2 36h0M263.6 20.9h0M258.7 19.7h0M257.8 17.6h0M266.2 25.7h0M263.3 31.1h0M273 33.2h0M257 25.7h0M255.6 18.6h0M271.2 33.5h0M267.1 37.9h0M275.6 35h0M257 32.4h0M264.1 38h0M273.5 30.2h0M270.1 37.3h0M269.7 28.6h0M273.1 37.6h0M260.5 19.5h0M252.6 25h0M258.3 32.7h0M269.4 37.4h0M259.4 34.6h0M267.4 22.6h0M276.7 29.2h0M266.1 18.3h0M253.7 27.7h0M271.1 31.4h0M255.8 29.5h0M257.9 26.4h0M266.5 37.9h0M256.4 21.7h0M282.9 25.8h0M275 37.7h0M259.5 26.9h0M273.3 33.1h0M254.8 30.4h0M256.3 26h0M259.3 33h0M263.9 19.2h0M260.6 19.8h0M280.2 31.9h0M260.6 29.5h0M272.7 22.8h0M270.6 22.5h0M274.5 28.6h0M277.9 34.2h0M265.5 28.5h0M255.5 34.4h0M263.2 17.5h0M271.5 36.7h0M277.9 22.2h0M278 27.9h0M263.6 21.2h0M273.3 23.4h0M269.1 19.5h0M259.5 15.8h0M282.3 20h0M273.1 23.7h0M261.4 18.3h0M256 30.2h0M260.6 25.8h0M257.5 34.1h0M275.6 22.9h0M267.1 19.5h0M275.5 22.6h0M271.6 35h0M272.8 27h0M274 24.7h0M263.7 24.6h0M270.8 24.4h0M263.6 22.1h0M277.1 28.1h0M260.4 22.8h0M278.1 36.1h0M272.6 36h0M282.8 26.5h0M278.4 23.9h0M276.2 18.6h0M276.2 26.5h0M278.1 27.6h0M270.4 20.2h0M272.9 18.5h0M270 25h0M280.3 25.6h0M278.5 25.3h0M260.7 34.6h0M252.8 31.9h0M261.9 27.7h0M269.2 30.4h0M253.7 32.3h0M261.2 24.9h0M252.9 31.7h0M268.8 27.7h0M265.8 24.8h0M263.3 34.2h0M262.3 32.1h0M261.4 34.4h0M273.3 14.1h0M276.7 12.1h0M276.4 11.6h0M269.3 14h0M271.6 11.3h0M277 13.2h0M273.8 13.2h0M275.7 3.6h0M279.7 3.6h0M290.8 6.5h0M292.2 4.8h0M291.7 5.9h0M291.5 4.4h0M316.3 38.7h0M317.2 38.2h0M315.1 37.3h0M313.3 35.9h0M316.7 38.3h0M315.6 38.1h0M314 36.8h0M316.3 37.5h0M315.5 37.7h0M313.3 37h0M313.7 37.4h0M313.7 37.3h0M315.9 37.7h0M313.4 35.9h0M312.8 37.5h0M294.2 40.8h0M299.1 41.6h0M294.6 40.5h0M297.5 41.5h0M294.5 41.1h0M296 43.2h0M298.4 41.1h0M299.6 38.3h0M301.9 40.7h0M301.3 42.2h0M298.9 42.7h0M296.6 41.8h0M310.7 43.4h0M310.6 44.3h0M310.9 44.5h0M310.5 44.6h0M308.6 41.8h0M310.2 42.9h0M309.3 43.5h0M308.3 44h0M311.4 44.9h0M310.9 42.8h0M310.9 45h0M310.1 42.8h0M309.4 42.8h0M315.4 46.8h0M314.7 45.5h0M315.3 45.2h0M314.9 46.7h0M314.2 47.8h0M315.6 45h0M315 46.3h0M315.6 45.3h0M314.3 47.1h0M315.2 46.6h0M314.2 48.1h0M281.9 43.7h0M284.1 42.4h0M282.9 43.6h0M281.6 43.5h0M283.7 44.1h0M286.9 44.1h0M285.6 42.9h0M287.2 43.9h0M282 44.4h0M284 43.6h0M282.1 43.5h0M283.1 44.1h0M286 44h0M281.7 43h0M281.6 45h0M285.1 45.4h0M280.9 44.8h0M282.6 43.3h0M280.8 44h0M284.1 43.4h0M285.1 44.7h0M283.9 44.8h0M283.3 44.6h0M284.6 42.6h0M285.4 45.2h0M285.7 44.7h0M281.5 42.3h0M281.9 43.3h0M286.3 42.6h0M287.4 42.3h0M285.8 42.4h0M281.8 44.6h0M282.9 46h0M281.9 45h0M295.5 49.5h0M288.9 48.9h0M291.2 47.6h0M291.8 52h0M292.7 50.9h0M288.2 50h0M294.4 49.1h0M289.2 48.3h0M287.3 50.7h0M294.8 50.2h0M289.4 51.9h0M296.3 49.4h0M286.3 49.6h0M290.6 51.9h0M287 48.4h0M295.9 49.5h0M288.7 49.7h0M292.8 50.1h0M295.1 50.1h0M288.8 48.4h0M291.7 49.4h0M286.5 49.5h0M290.6 51.8h0M291.1 51.1h0M289 50.6h0M278.6 59.9h0M281.2 57.3h0M289.9 54.4h0M287.7 52.9h0M282.3 57.3h0M289.4 58.3h0M285.2 57.9h0M280.3 57.9h0M285.6 57.6h0M283 54.5h0M279.6 57.4h0M281.3 58.8h0M286 58.6h0M287.7 53.6h0M286.1 58.6h0M284.5 52.8h0M286.9 59.9h0M285 58.8h0M290.1 56.6h0M283.6 60.3h0M284.1 53.7h0M284.9 58.6h0M282 60.8h0M282.2 60.2h0M280.7 57.5h0M282.9 58.7h0M291.6 53.3h0M271.3 49h0M273.8 43.1h0M260.6 49.4h0M256.5 47.1h0M262.5 45.5h0M270.2 44.2h0M270.8 53.3h0M258 49.3h0M263.9 47h0M268 49.4h0M267.6 52.6h0M267.9 50.5h0M270.8 52.8h0M271.8 51.3h0M269.3 52.2h0M257.6 51.7h0M270.3 50.8h0M264.3 43.4h0M261.3 45.4h0M257.6 50.8h0M271.1 52.2h0M257.2 50.1h0M260.6 53.4h0M268.3 52.1h0M263.9 46.3h0M261.1 47.7h0M259 48.6h0M258.4 48.8h0M271.1 42.8h0M262.8 46.5h0M260 47.8h0M277.6 44.6h0M269.2 44.8h0M268.5 52.7h0M257.5 48.3h0M257.2 48.3h0M261.8 52.5h0M277.5 45.5h0M264.7 45h0M273.7 48.5h0M256 50.5h0M267 45h0M265.8 51.9h0M268.6 50.2h0M260.8 48h0M267.2 51.4h0M257.7 47.5h0M276.5 47.8h0M269.5 49.9h0M265.9 45.8h0M273.6 42.5h0M255.1 49.7h0M257.6 52.3h0M270.1 47h0M277.4 45h0M277.4 45.8h0M277.1 44.6h0M276.1 46h0M269.7 47.3h0M275.5 42.7h0M259.9 53.8h0M259.9 52.5h0M259.7 54.8h0M258.6 48.9h0M258.4 53.5h0M258.4 53.1h0M262.3 51.4h0M261.5 52.1h0M263.1 51.7h0M262.5 52.7h0M257.8 51.3h0M258.2 55.1h0M259 50.8h0M258.5 51.6h0M257 43.3h0M257.5 42.8h0M251.5 40.3h0M254 41h0M253.8 41h0M252.3 40h0M265.7 58.5h0M268.2 59h0M266.9 61h0M265.3 58.4h0M267 61h0M264.3 59.8h0M267.9 57.9h0M266.3 58.3h0M264.8 60.5h0M266.3 58.7h0M266.8 59.5h0M265.5 61h0M275.7 64.8h0M273.7 66h0M273.1 65h0M273.4 66.3h0M303.2 54.1h0M304.1 53.8h0M305.2 53.5h0" stroke="#3f90d2" stroke-width="0.8" stroke-linecap="round" fill="none" stroke-opacity="0.7"/><line x1="242" y1="62.2" x2="253.5" y2="62.2" stroke="#222" stroke-width="0.6"/><line x1="242" y1="62.2" x2="242" y2="50.7" stroke="#222" stroke-width="0.6"/><path d="M255 62.2l-2.1 -1l0 2.1z" fill="#222"/><path d="M242 49.2l-1 2.1l2.1 0z" fill="#222"/><text x="242.6" y="67.9" font-size="2.9" fill="#333" font-weight="bold">tSNE 1</text><text x="240.2" y="62" font-size="2.9" fill="#333" font-weight="bold" transform="rotate(-90 240.2 62)">tSNE 2</text><text x="229.5" y="13.2" font-size="11.5" fill="#000" font-weight="bold">B</text><circle cx="329.5" cy="31.7" r="2.0" fill="#b4d54e"/><text x="335.6" y="34.6" font-size="8.2" fill="#1a1a1a" stroke="#1a1a1a" stroke-width="0.18">Sensitive</text><circle cx="329.5" cy="46" r="2.0" fill="#3f90d2"/><text x="335.6" y="48.9" font-size="8.2" fill="#1a1a1a" stroke="#1a1a1a" stroke-width="0.18">Resistant</text><rect x="276.8" y="99" width="12.8" height="45.4" fill="#5cc3da"/><rect x="276.8" y="98.5" width="12.8" height="0.7" fill="#c39be0"/><rect x="276.8" y="98.1" width="12.8" height="0.6" fill="#58adb6"/><rect x="276.8" y="96.2" width="12.8" height="2.1" fill="#a9d2ee"/><rect x="276.8" y="89.3" width="12.8" height="7.1" fill="#e9e8b2"/><rect x="276.8" y="77.3" width="12.8" height="12.2" fill="#6cc38c"/><rect x="276.4" y="77.7" width="13.6" height="11.6" fill="#6cc38c" stroke="#16301c" stroke-width="1.0"/><rect x="295.9" y="95.2" width="12.8" height="49.2" fill="#5cc3da"/><rect x="295.9" y="93.9" width="12.8" height="1.5" fill="#c39be0"/><rect x="295.9" y="92" width="12.8" height="2.1" fill="#58adb6"/><rect x="295.9" y="91.2" width="12.8" height="1" fill="#a9d2ee"/><rect x="295.9" y="83" width="12.8" height="8.4" fill="#e9e8b2"/><rect x="295.9" y="77.3" width="12.8" height="5.9" fill="#6cc38c"/><rect x="295.5" y="77.7" width="13.6" height="5.3" fill="#6cc38c" stroke="#16301c" stroke-width="1.0"/><line x1="270.3" y1="76.8" x2="270.3" y2="144.7" stroke="#000" stroke-width="1.0"/><line x1="269.8" y1="144.2" x2="314.8" y2="144.2" stroke="#000" stroke-width="1.0"/><line x1="282.8" y1="144.2" x2="282.8" y2="146.2" stroke="#000" stroke-width="0.9"/><line x1="302.3" y1="144.2" x2="302.3" y2="146.2" stroke="#000" stroke-width="0.9"/><line x1="267.8" y1="77.3" x2="270.3" y2="77.3" stroke="#000" stroke-width="0.9"/><text x="267.2" y="79.8" font-size="7" fill="#1a1a1a" text-anchor="end" stroke="#1a1a1a" stroke-width="0.18">1.00</text><line x1="267.8" y1="94" x2="270.3" y2="94" stroke="#000" stroke-width="0.9"/><text x="267.2" y="96.5" font-size="7" fill="#1a1a1a" text-anchor="end" stroke="#1a1a1a" stroke-width="0.18">0.75</text><line x1="267.8" y1="110.8" x2="270.3" y2="110.8" stroke="#000" stroke-width="0.9"/><text x="267.2" y="113.2" font-size="7" fill="#1a1a1a" text-anchor="end" stroke="#1a1a1a" stroke-width="0.18">0.50</text><line x1="267.8" y1="127.5" x2="270.3" y2="127.5" stroke="#000" stroke-width="0.9"/><text x="267.2" y="130" font-size="7" fill="#1a1a1a" text-anchor="end" stroke="#1a1a1a" stroke-width="0.18">0.25</text><line x1="267.8" y1="144.2" x2="270.3" y2="144.2" stroke="#000" stroke-width="0.9"/><text x="267.2" y="146.7" font-size="7" fill="#1a1a1a" text-anchor="end" stroke="#1a1a1a" stroke-width="0.18">0</text><text x="248.2" y="109.8" font-size="8.5" fill="#1a1a1a" text-anchor="middle" stroke="#1a1a1a" stroke-width="0.18" transform="rotate(-90 248.2 109.8)">Ratio of cell types</text><text x="291.8" y="151.3" font-size="8.5" fill="#1a1a1a" text-anchor="end" stroke="#1a1a1a" stroke-width="0.18" transform="rotate(-39 291.8 151.3)">Sensitive</text><text x="313.8" y="150.6" font-size="8.5" fill="#1a1a1a" text-anchor="end" stroke="#1a1a1a" stroke-width="0.18" transform="rotate(-39 313.8 150.6)">Resistant</text><rect x="324.5" y="76.2" width="9.3" height="5.2" fill="#6cc18c"/><text x="338" y="81.3" font-size="7.7" fill="#1a1a1a" stroke="#1a1a1a" stroke-width="0.18">CD8<tspan baseline-shift="2.9" font-size="4.7">+</tspan> T cell</text><rect x="324.5" y="89.4" width="9.3" height="5.2" fill="#e3e9be"/><text x="338" y="94.5" font-size="7.7" fill="#1a1a1a" stroke="#1a1a1a" stroke-width="0.18">CD4<tspan baseline-shift="2.9" font-size="4.7">+</tspan> T cell</text><rect x="324.5" y="102.3" width="9.3" height="5.2" fill="#c0d9f0"/><text x="338" y="107.4" font-size="7.7" fill="#1a1a1a" stroke="#1a1a1a" stroke-width="0.18">B cell</text><rect x="324.5" y="115.2" width="9.3" height="5.2" fill="#4ca8b0"/><text x="338" y="120.3" font-size="7.7" fill="#1a1a1a" stroke="#1a1a1a" stroke-width="0.18">DC</text><rect x="324.5" y="128.2" width="9.3" height="5.2" fill="#b67cc8"/><text x="338" y="133.3" font-size="7.7" fill="#1a1a1a" stroke="#1a1a1a" stroke-width="0.18">Granulocyte</text><rect x="324.5" y="140.2" width="9.3" height="5.2" fill="#4cc0d8"/><text x="338" y="145.3" font-size="7.7" fill="#1a1a1a" stroke="#1a1a1a" stroke-width="0.18">Macrophage</text></g>
<g id="panelC"><rect x="397.5" y="50.2" width="18.1" height="205.7" fill="#e8f2ea"/><rect x="415.4" y="50.2" width="18.1" height="205.7" fill="#e8f2ec"/><rect x="433.4" y="50.2" width="18.1" height="205.7" fill="#eff5e3"/><rect x="451.4" y="50.2" width="18.1" height="205.7" fill="#ebf3e8"/><rect x="469.3" y="50.2" width="18.1" height="205.7" fill="#eef5e2"/><rect x="397.5" y="50.2" width="18.1" height="34.4" fill="#d9252b"/><rect x="397.5" y="84.5" width="18.1" height="8.7" fill="#e24b39"/><rect x="415.4" y="93.1" width="18.1" height="8.7" fill="#e24b39"/><rect x="415.4" y="101.6" width="18.1" height="34.4" fill="#f07b53"/><rect x="469.3" y="101.6" width="18.1" height="25.8" fill="#dadada"/><rect x="433.4" y="127.3" width="18.1" height="8.7" fill="#dadada"/><rect x="433.4" y="135.9" width="18.1" height="34.4" fill="#d9252b"/><rect x="415.4" y="144.5" width="18.1" height="8.7" fill="#f9f4c3"/><rect x="469.3" y="144.5" width="18.1" height="8.7" fill="#dcebf2"/><rect x="451.4" y="170.2" width="18.1" height="43" fill="#d9252b"/><rect x="415.4" y="178.8" width="18.1" height="17.2" fill="#dcebf2"/><rect x="469.3" y="178.8" width="18.1" height="8.7" fill="#f9f4c3"/><rect x="397.5" y="195.9" width="18.1" height="8.7" fill="#f9f4c3"/><rect x="433.4" y="195.9" width="18.1" height="8.7" fill="#f9f4c3"/><rect x="469.3" y="213" width="18.1" height="17.2" fill="#d9252b"/><rect x="415.4" y="230.2" width="18.1" height="25.8" fill="#dadada"/><rect x="469.3" y="230.2" width="18.1" height="8.7" fill="#e24b39"/><rect x="433.4" y="238.7" width="18.1" height="17.2" fill="#dadada"/><rect x="469.3" y="238.7" width="18.1" height="17.2" fill="#f07b53"/><text x="490.6" y="55.8" font-size="3.6" fill="#222" font-weight="bold" font-style="italic">CD3D</text><text x="490.6" y="64.4" font-size="3.6" fill="#222" font-weight="bold" font-style="italic">CD2</text><text x="490.6" y="72.9" font-size="3.6" fill="#222" font-weight="bold" font-style="italic">CD3G</text><text x="490.6" y="81.5" font-size="3.6" fill="#222" font-weight="bold" font-style="italic">ITM2A</text><text x="490.6" y="90.1" font-size="3.6" fill="#222" font-weight="bold" font-style="italic">CD28</text><text x="490.6" y="98.6" font-size="3.6" fill="#222" font-weight="bold" font-style="italic">CD19</text><text x="490.6" y="107.2" font-size="3.6" fill="#222" font-weight="bold" font-style="italic">CD79A</text><text x="490.6" y="115.8" font-size="3.6" fill="#222" font-weight="bold" font-style="italic">BANK1</text><text x="490.6" y="124.3" font-size="3.6" fill="#222" font-weight="bold" font-style="italic">MS4A1</text><text x="490.6" y="132.9" font-size="3.6" fill="#222" font-weight="bold" font-style="italic">TNFRSF13C</text><text x="490.6" y="141.5" font-size="3.6" fill="#222" font-weight="bold" font-style="italic">LAMP3</text><text x="490.6" y="150.1" font-size="3.6" fill="#222" font-weight="bold" font-style="italic">CCR7</text><text x="490.6" y="158.6" font-size="3.6" fill="#222" font-weight="bold" font-style="italic">CLIC2</text><text x="490.6" y="167.2" font-size="3.6" fill="#222" font-weight="bold" font-style="italic">CCL22</text><text x="490.6" y="175.8" font-size="3.6" fill="#222" font-weight="bold" font-style="italic">CD14</text><text x="490.6" y="184.3" font-size="3.6" fill="#222" font-weight="bold" font-style="italic">CD68</text><text x="490.6" y="192.9" font-size="3.6" fill="#222" font-weight="bold" font-style="italic">CD163</text><text x="490.6" y="201.5" font-size="3.6" fill="#222" font-weight="bold" font-style="italic">AIF1</text><text x="490.6" y="210" font-size="3.6" fill="#222" font-weight="bold" font-style="italic">RNASE1</text><text x="490.6" y="218.6" font-size="3.6" fill="#222" font-weight="bold" font-style="italic">IGFBP7</text><text x="490.6" y="227.2" font-size="3.6" fill="#222" font-weight="bold" font-style="italic">CALD1</text><text x="490.6" y="235.8" font-size="3.6" fill="#222" font-weight="bold" font-style="italic">FSTL1</text><text x="490.6" y="244.3" font-size="3.6" fill="#222" font-weight="bold" font-style="italic">AKAP12</text><text x="490.6" y="252.9" font-size="3.6" fill="#222" font-weight="bold" font-style="italic">MYLK</text><text x="402.1" y="43.8" font-size="8.7" fill="#1a1a1a" stroke="#1a1a1a" stroke-width="0.18" transform="rotate(-41.5 402.1 43.8)">T cell</text><text x="419.6" y="43.8" font-size="8.7" fill="#1a1a1a" stroke="#1a1a1a" stroke-width="0.18" transform="rotate(-41.5 419.6 43.8)">B cell</text><text x="438.1" y="43.8" font-size="8.7" fill="#1a1a1a" stroke="#1a1a1a" stroke-width="0.18" transform="rotate(-41.5 438.1 43.8)">DC</text><text x="457.5" y="43.8" font-size="8.7" fill="#1a1a1a" stroke="#1a1a1a" stroke-width="0.18" transform="rotate(-41.5 457.5 43.8)">Macrophage</text><text x="477.1" y="43.8" font-size="8.7" fill="#1a1a1a" stroke="#1a1a1a" stroke-width="0.18" transform="rotate(-41.5 477.1 43.8)">Granulocyte</text><text x="382" y="14" font-size="11.5" fill="#000" font-weight="bold">C</text><defs><linearGradient id="cbC"><stop offset="0" stop-color="#3a6fb5"/><stop offset="0.25" stop-color="#a8cde4"/><stop offset="0.5" stop-color="#f7f7d0"/><stop offset="0.75" stop-color="#f59a5c"/><stop offset="1" stop-color="#d9252b"/></linearGradient></defs><rect x="442.5" y="272.5" width="46.5" height="6.3" fill="url(#cbC)"/><text x="445" y="271" font-size="4.2" fill="#1a1a1a" text-anchor="middle" font-weight="bold">−2</text><text x="455.4" y="271" font-size="4.2" fill="#1a1a1a" text-anchor="middle" font-weight="bold">−1</text><text x="465.8" y="271" font-size="4.2" fill="#1a1a1a" text-anchor="middle" font-weight="bold">0</text><text x="476.2" y="271" font-size="4.2" fill="#1a1a1a" text-anchor="middle" font-weight="bold">1</text><text x="486.6" y="271" font-size="4.2" fill="#1a1a1a" text-anchor="middle" font-weight="bold">2</text><text x="493.8" y="277.6" font-size="5.2" fill="#1a1a1a">Expression</text></g>
<g id="panelD"><defs><filter id="bl" x="-5%" y="-5%" width="110%" height="110%"><feGaussianBlur stdDeviation="0.7"/></filter><filter id="bl2" x="-5%" y="-5%" width="110%" height="110%"><feGaussianBlur stdDeviation="0.5"/></filter><clipPath id="cpD"><rect x="0" y="0" width="61.5" height="61.5"/></clipPath><g id="nS" filter="url(#bl)"><path d="M38.3 45.6l-0.8 0.6M58 39.9l-0.2 0.1M15.2 33.4l0 0.1M17.2 56.4l-0.2 0.2M8.5 38l0.1 0M12.9 13.3l-1 0.1M59.1 33.2l-0.2 0.3M42.5 59.4l-0.4 0.1M10.2 9l0.4 0.1M0.2 41.7l0.2 0.4M46.5 57.2l-0.4 0.1M32.3 47.7l0.8 0.3M52.9 2.3l0.4 0.1M56.5 20.9l-0.1 0.4M10.9 4.8l0.7 0.4M9.9 3l-0.6 0M14.6 36.5l-0.5 0.3M3.4 56.3l0.6 0.1M8 45l-0.7 0.1M6.6 26.7l0.8 0.4M27.9 61.5l-1 0.5M30 44.9l0 0.4M9 23.2l-1.1 0M30.7 20.8l0.4 0.1M47.7 42.7l-0.4 0.7M47.3 42.5l0.6 0.8M35.7 0.7l-0.1 0.3M28.5 50.2l-0.4 0.8M39.6 45.4l-0.4 0.2M53.5 42.3l-1.1 0.1M32.6 10.2l-0.9 0.5M42.5 44.3l-0.2 0.2M9.8 27.1l-0.1 0.3M11.9 2.2l0.1 0.5M36.3 14.6l0.5 0M20.9 35.7l-0.9 0.1M50 39.5l0.1 0.2M34.7 58.9l-0.7 0.1M38.7 54.8l0.2 0.5M17.9 59.8l0.4 1M36.6 16l0 0.5M38.2 27.3l0.5 0.7M0.8 32.8l0.7 0.8M15.1 16.5l1 0.5M37.4 29.2l-0.3 0.6M7.3 46.8l0.4 0.5M18.3 32.6l0.1 0.5M36.3 2.2l0.4 0.4M54.6 33.6l0.9 0M35.4 43.6l-0.2 0.5M23.7 24.1l-0.3 0.1M42.7 26.6l0.5 0.7M8.8 29.4l-0.1 0.6M9.4 36l-0.1 0.1M50.4 48.7l-0.1 0.1M60.2 61.4l-0.1 0.1M18 56.5l0.6 0.3M9.9 38.3l0.2 0M4.4 3.5l-0.2 0.8M8.3 26.5l0.4 0.6M38.8 31.1l-0.1 0.7M14.4 22.8l-0.2 0.2M5.6 7.7l-0.1 0.3M29.5 19.9l-0.1 0.1M3.3 9.3l-0.8 0.1M38.4 21.8l0.3 0.3M21.4 23.7l0.8 0.4M49.5 26.7l-0.6 0.3M12.4 2.4l-0.5 0.2M0 28.9l-0.7 0.2M28.6 6.1l0.2 0.1M23.7 54.1l0.3 0.2M56.9 22.7l-0.8 0.2M29 58.1l0.7 0.3M14.2 4.8l0.3 1M19.2 28.8l0.5 0.6M10 14.8l-0.5 0.9M26.5 60l0.2 0M25.2 2.8l-0.2 1.1M21.5 5.8l1 0.2M3.1 24.4l0.3 0.1M31.3 24.7l0 0.2M6.6 33.3l-0.7 0.2M13.2 1.1l-0.1 0.6M23.2 38.4l-0.7 0.8M27.6 50.8l0.2 0.1M5 15.1l0.5 0.1M17.6 23l0.5 0.2M46.3 34.2l-0.7 0.2M35.3 27.2l-0.6 0.4M44.8 43.1l0.6 0.7M8 4.1l0.3 0.2M3.1 8l0.4 0.9M22.3 20.3l0.7 0M10.5 43.6l0.2 1M7.3 19.5l-0.5 0.1M27.1 47.2l-0.6 0.1M25.8 3.2l-0.1 0M29.6 54.2l0.1 0.3M12.4 34.6l0.4 0.8M21.6 15.3l-0.9 0.1M38 24.7l0.8 0.4M2.3 10.4l0.8 0.2M12.3 49l0.4 0.7M38.3 49.2l0 0.1M19.5 1.7l0.3 0.4M43.3 24.5l-0.9 0.1M42.6 41.2l-0.1 0.9M17.5 4.8l0.4 0.1M46.7 43.9l0.6 0.8M41.2 58.9l-0.7 0.3M45.4 37.6l0.5 0.4M24 11l-0.5 0.9M37.7 23.8l0.7 0.3M44 23l0.3 0.3M38.3 55.2l0.6 0.4M13.8 3.9l-0.2 0.9M44.8 25.6l0.1 0.6M11.7 36.6l-0.4 0.7M3.8 29.8l-0.9 0.5M52.3 39.7l-0.3 0.1M5.7 9.3l-0.1 0.2M45.3 50.2l-0.7 0.5M4 12.7l0.2 0.5M33.4 23.1l0.7 0.3M46.7 44.4l0.1 0.2M21.8 45.3l-0.5 0.1M30.7 42.9l-0.5 0.4M20.7 52.2l0 0.2M29.4 60.6l-0.1 0.5M5.6 21.9l-0.1 0.1M22.2 1l0.4 0.4M31.8 3.3l0.8 0.7M29 5.2l0.7 0.8M31.2 3.3l0.3 0.8M1.5 47.3l0.3 0.9M56.3 23.3l-0.9 0M9.1 48l0.3 1M13.3 25.9l0.4 0.4M28.1 4.5l0.4 0.9M12.1 1.1l-0.9 0.5M11.4 26.4l0.6 0.6M60 43.2l0.2 0.1M23.1 22.7l0 0.7M14.8 35l0.4 0.5M8.2 29.6l-0.1 0.1M18.3 27.7l-0.5 0.9M32.6 43.9l-1 0.2M18.6 10.2l-0.2 0M45.3 32.5l0.4 1M33.9 51l0.4 0.2M3.7 5.4l0.1 0.2M16.2 17l-0.7 0.5M51 38.5l0.2 0.7M28.3 39.9l-0.1 0.1M15.9 18.4l0.9 0M55.5 28.6l0.3 0.1M21.7 4.9l0.2 0.7M10.8 8.5l0 0.8M35.3 56.1l0.3 0.2M33 55.4l-0.1 0.8M48.2 51.4l0.1 0.2M22 54.7l0.5 0.5M20.7 6.3l-0.4 0.9M3.1 59.8l0.3 0.7M44.1 25.2l-0.1 0.1M11.1 58l-0.8 0.6M6.4 25.6l0.1 0.1" stroke="#20209a" stroke-width="1.7" stroke-linecap="round" fill="none" stroke-opacity="0.7"/><path d="M29.6 19.4l0 0.8M60 1.4l-0.7 0.7M0.6 2.9l0.9 0.6M38.4 47.6l-0.3 0.7M13.9 3.3l0.4 0.2M25.2 7.1l-0.4 0.2M60.5 30.2l0.4 0.5M13.5 39.7l-0.8 0.1M57.7 23l0.8 0.1M33.9 15.6l-0.4 0.4M7.1 59.8l-0.5 0.8M35.3 45.5l0.1 0.2M9.9 17.7l0.4 0.4M41.5 44.9l0.3 0.1M18.8 3.2l1.1 0.1M5.4 47.5l-0.3 0.2M15.1 3.8l-0.1 0.1M17.6 3.9l-0.5 0.4M14.7 59.9l-0.1 0.5M18.6 17.3l-0.3 1M1.9 7.1l-0.1 0.7M51.7 29.3l0.3 0.1M58.8 38.4l-0.2 0M42 30.5l-1 0.1M14.6 41l0.4 0.1M36.5 55.5l-0.3 0.7M8.4 14.5l-1 0.3M25.8 31l-0.3 0.8M30.8 2.4l0.2 0.4M16.2 53.9l0.2 1M8.4 3.2l-0.5 0.5M2.7 50.7l0 1M16 25.1l0.1 0.2" stroke="#3838cc" stroke-width="1.4" stroke-linecap="round" fill="none" stroke-opacity="0.9"/></g><g id="rS" filter="url(#bl2)"><path d="M17.8 6.6h0M31.5 57.4h0M58.2 28.7h0M6.3 47.3h0M7.1 33.1h0M5.1 60.7h0M33.4 26.9h0M16.7 33.9h0M59.8 26.3h0M12.9 31.7h0M56.5 23.5h0M39 56.5h0M20 49.9h0M32.5 8.6h0M3.3 57.7h0M28.7 27.3h0M56.4 35.3h0M30.8 17.5h0M28.9 46.6h0M12.5 42.7h0M61.3 8.2h0M10.3 5.5h0M27.5 38.1h0M35.7 15.5h0M21.9 3.2h0M36.4 39.3h0M30.1 53.7h0M56.5 17.3h0M20.5 53.9h0M8.2 25.8h0M25.5 60h0M7.9 40.3h0M46.6 44.8h0M0.1 58h0M19.2 52.5h0M40.7 25.9h0M51.5 41.6h0M20.9 45h0M31.1 43.8h0M37.8 49h0M9.8 30.4h0M0.1 48.6h0M47.4 51.5h0M2.7 32.9h0M29.4 7.3h0M12.5 59.9h0M51 40h0M23.7 39.7h0M14.1 16.8h0M0.6 40.4h0M35.8 45.7h0M31 26.7h0M18.8 45.2h0M22.9 36.7h0M46.6 27.3h0M16 51.7h0M9.1 3.5h0M0.9 47.1h0M6.5 28.2h0M27 49.4h0M29.3 32.1h0M1.5 48.9h0M47.2 38.3h0M51.3 37.8h0M44 52.3h0M38 1.2h0M54.4 60.9h0M12.4 4.1h0M20.9 6.2h0M22.7 5.5h0M13.5 0.2h0M39.4 34.8h0M45.2 45.5h0M51.3 27.8h0M38.5 34.1h0M49 35.8h0M50.6 25.9h0M48 20.8h0M36.7 36.7h0M42.4 21.3h0M43.9 39.9h0M41.1 43.7h0M37 28.4h0M41.9 35.1h0M45.2 38.7h0M46.7 33.9h0M50 35h0M52.4 31.8h0M45.9 35.7h0M45.6 33.5h0M36 32.6h0M35.1 34.8h0M44.6 40.8h0M35.6 35.5h0M45.4 30.7h0M40.9 30.8h0M21.6 17.7h0M9.4 16.2h0M10.8 19.9h0M19.3 17.8h0M21.2 10.9h0M21.1 15.4h0M17 17h0M11.9 14.5h0M13.3 15.8h0M10.6 21.2h0M8 20.4h0M18.9 16.2h0M11.3 14.5h0M17.7 10.9h0M15.4 13h0M14.7 17.7h0M8.2 13.9h0M4.1 13.7h0" stroke="#cc3878" stroke-width="1.5" stroke-linecap="round" fill="none" stroke-opacity="0.9"/></g><g id="gS" filter="url(#bl2)"><path d="M7.1 33.1h0M16.7 33.9h0M39 56.5h0M3.3 57.7h0M28.7 27.3h0M28.9 46.6h0M12.5 42.7h0M10.3 5.5h0M35.7 15.5h0M36.4 39.3h0M30.1 53.7h0M0.1 58h0M40.7 25.9h0M20.9 45h0M51 40h0M35.8 45.7h0M31 26.7h0M16 51.7h0M29.3 32.1h0M1.5 48.9h0M44 52.3h0M13.5 0.2h0M39.4 34.8h0M51.3 27.8h0M49 35.8h0M48 20.8h0M42.4 21.3h0M43.9 39.9h0M41.9 35.1h0M46.7 33.9h0M50 35h0M52.4 31.8h0M45.6 33.5h0M36 32.6h0M35.1 34.8h0M44.6 40.8h0M10.8 19.9h0M19.3 17.8h0M21.2 10.9h0M21.1 15.4h0M17 17h0M10.6 21.2h0M8 20.4h0M35.3 17.4h0M2.2 16h0M28.1 7.4h0M5 15.2h0M22.6 58.9h0M29.9 51.5h0M45.8 36.4h0M19.8 24.1h0M19.5 39h0M52.6 48.6h0M18.2 9.2h0M0.5 35.9h0M14 0.3h0M18.6 14h0" stroke="#4a9cc8" stroke-width="1.05" stroke-linecap="round" fill="none" stroke-opacity="0.8"/></g><g id="nR" filter="url(#bl)"><path d="M44.9 12.7l0.6 1.2M45 30l1.1 1.4M45.6 21.3l0.3 1.1M51.6 18.6l1.3 0.7M17.2 28.9l1 1M8.2 27.4l0.4 0.4M16.6 9.9l0.5 0.2M17.3 55l0.9 0.8M9.2 41l0.8 1.4M33.1 47.4l0.1 0.5M40.7 20.4l1 1.1M37.9 37.8l1.3 0.8M43.3 14.2l1.3 0.4M3.8 46.4l0.6 1.1M47.1 28.8l0.4 1.9M47.8 40.1l0.1 1.3M52.9 9l1.3 0.7M49.4 50.9l0.3 0.4M56.2 58.2l0.9 1.3M41.1 39.2l1.4 1.1M41.1 35l0.6 1.7M19.3 47.3l1.1 1.6M15.4 18l0.5 0.4M27 47.1l0.9 0.2M18.9 28.6l1.7 0.7M9.2 60.7l0.4 0.3M58.3 29.2l0.6 0.7M15 26l0.8 1.8M32.2 41.4l0.6 1.3M41.5 20.7l0.4 0.6M54.8 35.6l0.7 0.5M2.8 54.7l0.1 0.5M3.9 32.1l0.8 1.6M30.3 48.2l0.2 0.6M53.2 29.7l0.7 1.8M56.8 51.5l1.4 1.3M54.1 5.9l0.6 0.4M13.5 6.9l0.2 0.4M58.4 21.4l1.2 1.1M28.2 13.6l0.6 0.6M37.4 30.9l0.9 0.8M29.1 58.2l1.8 0.7M1.6 1.4l0.8 1.3M26.8 41.6l0.1 0.7M20.3 60.2l1 0.9M16.1 4.7l0.5 0.3M36.8 60.1l1.8 0.9M46.7 35.4l0.5 0.3M50.2 46l0.3 0.5M45 26.8l1.2 0.6M14.2 33.7l1.3 0.5M42 23.8l0.4 0.9M40.4 30.1l0.9 1.4M49.6 32.8l0.5 1.4M42 4.3l0.3 0.6M22.7 60.4l0.6 1.7M16.3 44.9l-0.2 1.8M38.8 2.9l0.3 0.3M15.8 30.4l0.3 1.4M35.8 32.4l0.7 1.5M39.2 34.7l0.3 0.5M51.3 0.5l1.3 1.3M52.6 43.1l1.1 1.2M28.9 16.7l0.5 0.9M44.9 23.8l0.7 0.9M16.8 36.6l0.7 1.1M21.1 6.5l0.8 0.5M60 42.8l-0.2 0.7M10.3 15.4l1 1.1M46.6 22.6l1.4 1.2M26.4 1.9l0.6 0.8M0.3 28.8l0.5 1.8M42.4 42.2l1.7 -0.2M30.5 57.8l1.3 0.2M18.9 40.8l2 0.2M58.5 2.7l0.3 0.4M38.1 8l0.6 1.7M44.9 16.4l0.9 0.5M15.4 23.2l1.5 1.1M24.1 4l1.5 1M27.2 51.4l0.6 0.5M34 18.3l0.9 0.8M38.6 54l1 0.8M58.9 2.4l0.3 0.5M22.8 12l0.3 0.7M24.4 61.4l1.4 0M43.1 60.8l0.5 1M58.6 43.6l0.2 0.5M46.9 48.1l1 1.2M20 28.8l0 0.6M50.4 21.2l1.3 1.3M4.3 38.4l1 0.8M38.8 54.6l0.3 0.8M24.1 11.2l0.3 0.7M30.2 41.4l1.7 1M33.4 33.6l1.3 1.5M16.3 42l0.3 1.4M10.6 20.3l0.5 0.3M24.4 7.3l0.3 0.8M59.1 41.2l0.2 0.8M20.8 53.5l1.4 0.7M46.3 21.1l0.2 0.6M59 2.3l0.7 0.9M10.6 6.4l0.1 0.4M44.7 27.8l0.7 0.6M50.6 12.4l0.4 0.5M50.1 18.6l0.8 0.4M61 8l0.4 1.9M61.3 15.1l0.3 0.6M35.1 51.8l0.3 1.1M58.8 7.7l0.7 1.2M61.2 47.5l-0.1 1.4M39.5 61.1l-0.1 1.4M28 38.8l1.5 1.1M30.2 16.4l0.3 0.7M39.7 43.6l0.5 0.4M48.1 48.1l0.3 1.3M0.1 16.4l0.3 0.4M42 34.6l0.8 1.3M50.3 39.5l0 0.9M16.9 45.9l0.4 0.2M58.8 46.8l0.6 0.6M26.8 14.6l0.2 0.7M7.7 1.4l0.9 1.6M15.2 53.2l1.5 1.2M12.1 29.6l0.2 0.9M37.8 60l1.2 1.2M23.9 29.8l0.5 1.9M22.6 28.1l0.8 1.3M24.9 35.7l0.7 0.8M21.4 39.3l0.1 0.7M30.3 0.9l0.5 1.5M55.9 12.9l0.6 0.5M43.2 2.4l1.1 0.7M49.1 50.6l1.3 1.2M2.6 28.9l0.1 1.2" stroke="#2222a0" stroke-width="1.8" stroke-linecap="round" fill="none" stroke-opacity="0.7"/><path d="M12.6 40.9l0.9 1M42.5 4.9l0.6 1.1M1.3 30.7l0.6 0.7M42.7 38.4l0.1 0.4M34.8 61l1.5 1.3M59.7 30.4l1.2 0.6M59 19.6l0.7 1M11.7 57.1l1 1.3M20.2 15.9l0.3 0.5M16.5 8.9l1.3 1M2.7 55.1l0.8 0.8M16 60.8l1.1 1.3M22.6 9.1l0.4 1M30.3 12.9l0.2 0.5M51.5 36.5l0.5 0.5M4.5 17.2l1.3 0.8M21.4 21.2l0.6 0.2M25.3 58.3l1.7 0.9M46.3 37.8l1 0.4M10.5 54.4l0.8 1.7M36.2 48.6l0.6 1.4M25.6 9.6l0.1 0.9M11.3 35.7l1.1 0.9M54.7 37.5l1.1 1.4M38 45.3l0.7 0.6M32.4 46l1.2 0.6M8 45l0.7 0.7M13.3 41.1l1.2 0.9M0.1 36.3l0.9 1.7M40 38.6l0.9 0.5M21.6 46.2l1.3 1.3M33 52.8l1.5 1.1M60.9 20.9l0.7 0.8M30.7 46.4l0.7 0.7M13.5 37.5l0.1 0.6M28.5 12.9l-0.2 0.6M55 8.8l0.7 1.7M17.9 15.7l0.3 0.6M27 4.6l1.3 1M52.6 58.1l1.1 1.5M57.1 29l0.4 1.2M50.8 34.3l0.5 0.7M8.8 45.8l0.3 0.6M24.1 56.1l1.3 0.5M12.9 35.5l0.6 1.6M17.1 21.2l0.6 1.1M23.7 34.4l1.2 0.5M15 15.2l0.6 1.8M41.9 16l0.7 0.4M40.8 8.1l0.6 0.3M60.9 56.8l0.6 1.3M57 30.7l0.5 0.2M41.3 23.1l0.9 1.5M61.2 25.6l0.9 1.5M18.8 30.6l-0.1 0.6M2.5 58.5l1.3 0.9M12.5 48.2l1.5 0.6M32.7 13.5l1 0.7M48.1 44.6l1.2 1M51.3 24.9l-0.1 0.4M39 26.3l1.9 0.4M7.2 33.6l0.6 0.6M7.4 26.4l0.7 1M33.4 0.5l1.2 1.2M25 58.3l0.1 0.9M11.9 41.2l0.7 0.5M51.9 49.6l0.6 1.8M9.3 8.5l0.5 0.8" stroke="#3a3ad0" stroke-width="1.5" stroke-linecap="round" fill="none" stroke-opacity="0.9"/></g><g id="rR" filter="url(#bl2)"><path d="M51.2 45.1h0M42.7 20.5h0M44.7 39.3h0M13.5 53.4h0M29.1 32.7h0M12.2 51.1h0M29.1 45.6h0M51.8 31.9h0M36 28.5h0M14.6 49.1h0M56.6 2.1h0M2 28.9h0M4.9 27h0M21 14.8h0M47.7 35.8h0M56.7 12h0M23.4 37.9h0M47.5 26.3h0M11.4 23.7h0M34.9 59.5h0M40 51.9h0M51.3 26.4h0M31.1 51.3h0M44.5 24.6h0M11.6 45h0M18 16.3h0M15.4 42.2h0M39.8 57.6h0M36.3 29.7h0M54.4 8.5h0M36.2 60.7h0M20.5 9.4h0M7 1.7h0M45 25.4h0M50.5 51.4h0M1.6 18.9h0M16.2 16.2h0M1.8 15.7h0M20.9 27.8h0M32.7 60.6h0M6.7 8.3h0M55.6 17.7h0M33.1 18.8h0M55.1 57.5h0M35.1 5.8h0" stroke="#c03c80" stroke-width="1.3" stroke-linecap="round" fill="none" stroke-opacity="0.9"/></g><g id="gR" filter="url(#bl2)"><path d="M22.9 43.3h0M34.8 17.2h0M24.4 3.8h0M24.8 50.7h0M23.8 28.7h0M10.3 43.8h0M25.6 23.7h0M47.6 18.3h0M4.8 39.5h0M45.4 3.3h0M21.2 54.5h0M31.3 25h0M8 17.7h0M36.1 56.3h0M40.7 59.6h0M25.1 4.2h0M21 22.5h0M3.5 5h0M56 55.1h0M8.2 5h0M60.3 10.3h0M18.5 13.9h0" stroke="#5aa0d0" stroke-width="0.9" stroke-linecap="round" fill="none" stroke-opacity="0.8"/></g></defs><g transform="translate(29.6 196.2)" clip-path="url(#cpD)"><rect x="0" y="0" width="61.5" height="61.5" fill="#020208"/><use href="#nS"/><use href="#rS"/></g><g transform="translate(94.6 196.2)" clip-path="url(#cpD)"><rect x="0" y="0" width="61.5" height="61.5" fill="#020208"/><use href="#nS"/><use href="#gS"/></g><g transform="translate(159.6 196.2)" clip-path="url(#cpD)"><rect x="0" y="0" width="61.5" height="61.5" fill="#020208"/><use href="#nS"/><use href="#rS"/><use href="#gS"/></g><g transform="translate(29.6 261.2)" clip-path="url(#cpD)"><rect x="0" y="0" width="61.5" height="61.5" fill="#020208"/><use href="#nR"/><use href="#rR"/></g><g transform="translate(94.6 261.2)" clip-path="url(#cpD)"><rect x="0" y="0" width="61.5" height="61.5" fill="#020208"/><use href="#nR"/><use href="#gR"/></g><g transform="translate(159.6 261.2)" clip-path="url(#cpD)"><rect x="0" y="0" width="61.5" height="61.5" fill="#020208"/><use href="#nR"/><use href="#rR"/><use href="#gR"/></g><rect x="205.5" y="317.9" width="12.5" height="0.9" fill="#c4c4c4"/><rect x="47" y="180.8" width="30" height="12.2" fill="#000"/><text x="62" y="190.6" font-size="10.1" fill="#e8262a" text-anchor="middle" font-weight="bold">CD45</text><rect x="113.8" y="180.8" width="26.2" height="12.2" fill="#000"/><text x="126.9" y="190.6" font-size="10.1" fill="#4cc84a" text-anchor="middle" font-weight="bold">CD8</text><rect x="170.7" y="180.8" width="41.8" height="12.2" fill="#000"/><text x="191.6" y="190.6" font-size="10.1" text-anchor="middle" font-weight="bold"><tspan fill="#4cc84a">M</tspan><tspan fill="#e8262a">ER</tspan><tspan fill="#3a50d8">GE</tspan></text><text x="27" y="227.5" font-size="10.1" fill="#1a1a1a" text-anchor="middle" stroke="#1a1a1a" stroke-width="0.18" transform="rotate(-90 27 227.5)">Sensitive</text><text x="27" y="292.5" font-size="10.1" fill="#1a1a1a" text-anchor="middle" stroke="#1a1a1a" stroke-width="0.18" transform="rotate(-90 27 292.5)">Resistant</text><text x="5.5" y="187.2" font-size="11.5" fill="#000" font-weight="bold">D</text><circle cx="257.5" cy="191" r="2.1" fill="#2746a8"/><text x="264.6" y="194" font-size="8.6" fill="#1a1a1a" stroke="#1a1a1a" stroke-width="0.18">Sensitive</text><rect x="310.4" y="189.1" width="3.8" height="3.8" fill="#e0262c" rx="1.2"/><text x="319" y="194" font-size="8.6" fill="#1a1a1a" stroke="#1a1a1a" stroke-width="0.18">Resistant</text><line x1="261" y1="222.8" x2="261" y2="307.2" stroke="#000" stroke-width="1.0"/><line x1="260.5" y1="306.7" x2="358" y2="306.7" stroke="#000" stroke-width="1.0"/><line x1="258.4" y1="306.7" x2="261" y2="306.7" stroke="#000" stroke-width="0.9"/><text x="257.6" y="309.7" font-size="8.6" fill="#1a1a1a" text-anchor="end" stroke="#1a1a1a" stroke-width="0.18">0</text><line x1="258.4" y1="278.9" x2="261" y2="278.9" stroke="#000" stroke-width="0.9"/><text x="257.6" y="281.9" font-size="8.6" fill="#1a1a1a" text-anchor="end" stroke="#1a1a1a" stroke-width="0.18">20</text><line x1="258.4" y1="251.1" x2="261" y2="251.1" stroke="#000" stroke-width="0.9"/><text x="257.6" y="254.1" font-size="8.6" fill="#1a1a1a" text-anchor="end" stroke="#1a1a1a" stroke-width="0.18">40</text><line x1="258.4" y1="223.3" x2="261" y2="223.3" stroke="#000" stroke-width="0.9"/><text x="257.6" y="226.3" font-size="8.6" fill="#1a1a1a" text-anchor="end" stroke="#1a1a1a" stroke-width="0.18">60</text><text x="242.5" y="264" font-size="8.7" fill="#1a1a1a" text-anchor="middle" stroke="#1a1a1a" stroke-width="0.18" transform="rotate(-90 242.5 264)">CD8<tspan baseline-shift="3.3" font-size="5.4">+</tspan> in CD45<tspan baseline-shift="3.3" font-size="5.4">+</tspan> (%)</text><rect x="265" y="271.9" width="9.8" height="34.8" fill="#fff" stroke="#2746a8" stroke-width="1.0"/><rect x="277.1" y="292.1" width="9.8" height="14.6" fill="#fff" stroke="#e0262c" stroke-width="1.0"/><line x1="269.9" y1="268.5" x2="269.9" y2="275.4" stroke="#2746a8" stroke-width="0.9"/><line x1="267.9" y1="268.5" x2="271.9" y2="268.5" stroke="#2746a8" stroke-width="0.9"/><line x1="282" y1="289.6" x2="282" y2="294.6" stroke="#e0262c" stroke-width="0.9"/><line x1="280" y1="289.6" x2="284" y2="289.6" stroke="#e0262c" stroke-width="0.9"/><circle cx="267.6" cy="244.1" r="1.7" fill="#2746a8"/><circle cx="266.2" cy="248.3" r="1.7" fill="#2746a8"/><circle cx="269.6" cy="249.7" r="1.7" fill="#2746a8"/><circle cx="272.1" cy="248.3" r="1.7" fill="#2746a8"/><circle cx="266.6" cy="252.5" r="1.7" fill="#2746a8"/><circle cx="269.8" cy="253.9" r="1.7" fill="#2746a8"/><circle cx="267" cy="258.1" r="1.7" fill="#2746a8"/><circle cx="272.1" cy="262.2" r="1.7" fill="#2746a8"/><circle cx="273.1" cy="263.6" r="1.7" fill="#2746a8"/><circle cx="272.8" cy="265" r="1.7" fill="#2746a8"/><circle cx="270.2" cy="269.2" r="1.7" fill="#2746a8"/><circle cx="267.1" cy="270.6" r="1.7" fill="#2746a8"/><circle cx="271.6" cy="273.3" r="1.7" fill="#2746a8"/><circle cx="266.5" cy="274.7" r="1.7" fill="#2746a8"/><circle cx="272" cy="277.5" r="1.7" fill="#2746a8"/><circle cx="268.3" cy="281.7" r="1.7" fill="#2746a8"/><circle cx="273" cy="283.1" r="1.7" fill="#2746a8"/><circle cx="268.2" cy="285.8" r="1.7" fill="#2746a8"/><circle cx="271.8" cy="288.6" r="1.7" fill="#2746a8"/><circle cx="269.9" cy="291.4" r="1.7" fill="#2746a8"/><circle cx="267.9" cy="292.8" r="1.7" fill="#2746a8"/><circle cx="269.8" cy="294.2" r="1.7" fill="#2746a8"/><circle cx="269.4" cy="297" r="1.7" fill="#2746a8"/><circle cx="267.2" cy="298.4" r="1.7" fill="#2746a8"/><circle cx="270.3" cy="301.1" r="1.7" fill="#2746a8"/><circle cx="270.2" cy="269.2" r="1.7" fill="#2746a8"/><circle cx="271.5" cy="273.3" r="1.7" fill="#2746a8"/><circle cx="268.6" cy="277.5" r="1.7" fill="#2746a8"/><circle cx="270.8" cy="278.9" r="1.7" fill="#2746a8"/><circle cx="267.5" cy="260.8" r="1.7" fill="#2746a8"/><rect x="280.6" y="264.8" width="3.2" height="3.2" fill="#e0262c"/><rect x="278.5" y="271.7" width="3.2" height="3.2" fill="#e0262c"/><rect x="282.5" y="274.5" width="3.2" height="3.2" fill="#e0262c"/><rect x="278.1" y="278.7" width="3.2" height="3.2" fill="#e0262c"/><rect x="278.9" y="281.5" width="3.2" height="3.2" fill="#e0262c"/><rect x="277.2" y="282.9" width="3.2" height="3.2" fill="#e0262c"/><rect x="278.9" y="284.2" width="3.2" height="3.2" fill="#e0262c"/><rect x="280.7" y="287" width="3.2" height="3.2" fill="#e0262c"/><rect x="278.4" y="288.4" width="3.2" height="3.2" fill="#e0262c"/><rect x="277.6" y="289.8" width="3.2" height="3.2" fill="#e0262c"/><rect x="283.3" y="291.2" width="3.2" height="3.2" fill="#e0262c"/><rect x="279" y="294" width="3.2" height="3.2" fill="#e0262c"/><rect x="278.3" y="294" width="3.2" height="3.2" fill="#e0262c"/><rect x="279.7" y="295.4" width="3.2" height="3.2" fill="#e0262c"/><rect x="282.9" y="296.8" width="3.2" height="3.2" fill="#e0262c"/><rect x="282.2" y="299.5" width="3.2" height="3.2" fill="#e0262c"/><rect x="283.4" y="299.5" width="3.2" height="3.2" fill="#e0262c"/><rect x="280.7" y="300.9" width="3.2" height="3.2" fill="#e0262c"/><rect x="279.2" y="288.4" width="3.2" height="3.2" fill="#e0262c"/><rect x="280.4" y="277.3" width="3.2" height="3.2" fill="#e0262c"/><rect x="277.1" y="295.4" width="3.2" height="3.2" fill="#e0262c"/><rect x="281.7" y="284.2" width="3.2" height="3.2" fill="#e0262c"/><rect x="282.9" y="288.4" width="3.2" height="3.2" fill="#e0262c"/><rect x="283.5" y="284.2" width="3.2" height="3.2" fill="#e0262c"/><line x1="276" y1="306.7" x2="276" y2="308.9" stroke="#000" stroke-width="0.9"/><text x="276" y="320.2" font-size="8" fill="#1a1a1a" text-anchor="middle" stroke="#1a1a1a" stroke-width="0.18">ER<tspan baseline-shift="3" font-size="5">+</tspan></text><rect x="299.4" y="271.9" width="9.8" height="34.8" fill="#fff" stroke="#2746a8" stroke-width="1.0"/><rect x="311.7" y="292.8" width="9.8" height="13.9" fill="#fff" stroke="#e0262c" stroke-width="1.0"/><line x1="304.3" y1="268.5" x2="304.3" y2="275.4" stroke="#2746a8" stroke-width="0.9"/><line x1="302.3" y1="268.5" x2="306.3" y2="268.5" stroke="#2746a8" stroke-width="0.9"/><line x1="316.6" y1="290.3" x2="316.6" y2="295.3" stroke="#e0262c" stroke-width="0.9"/><line x1="314.6" y1="290.3" x2="318.6" y2="290.3" stroke="#e0262c" stroke-width="0.9"/><circle cx="306.9" cy="233" r="1.7" fill="#2746a8"/><circle cx="305.4" cy="241.4" r="1.7" fill="#2746a8"/><circle cx="306.7" cy="245.5" r="1.7" fill="#2746a8"/><circle cx="302.7" cy="256.7" r="1.7" fill="#2746a8"/><circle cx="304.8" cy="260.8" r="1.7" fill="#2746a8"/><circle cx="301.7" cy="265" r="1.7" fill="#2746a8"/><circle cx="307.7" cy="269.2" r="1.7" fill="#2746a8"/><circle cx="304.4" cy="273.3" r="1.7" fill="#2746a8"/><circle cx="301.8" cy="277.5" r="1.7" fill="#2746a8"/><circle cx="308.1" cy="281.7" r="1.7" fill="#2746a8"/><circle cx="305.2" cy="284.5" r="1.7" fill="#2746a8"/><circle cx="302.1" cy="288.6" r="1.7" fill="#2746a8"/><circle cx="307" cy="291.4" r="1.7" fill="#2746a8"/><circle cx="305.3" cy="297" r="1.7" fill="#2746a8"/><circle cx="305.3" cy="299.8" r="1.7" fill="#2746a8"/><circle cx="307.2" cy="267.8" r="1.7" fill="#2746a8"/><circle cx="302.9" cy="276.1" r="1.7" fill="#2746a8"/><rect x="313.4" y="270.3" width="3.2" height="3.2" fill="#e0262c"/><rect x="315.5" y="273.1" width="3.2" height="3.2" fill="#e0262c"/><rect x="312.8" y="277.3" width="3.2" height="3.2" fill="#e0262c"/><rect x="316.5" y="281.5" width="3.2" height="3.2" fill="#e0262c"/><rect x="314.8" y="284.2" width="3.2" height="3.2" fill="#e0262c"/><rect x="312.8" y="287" width="3.2" height="3.2" fill="#e0262c"/><rect x="312.2" y="288.4" width="3.2" height="3.2" fill="#e0262c"/><rect x="312.5" y="289.8" width="3.2" height="3.2" fill="#e0262c"/><rect x="315.6" y="291.2" width="3.2" height="3.2" fill="#e0262c"/><rect x="318.1" y="294" width="3.2" height="3.2" fill="#e0262c"/><rect x="317.2" y="295.4" width="3.2" height="3.2" fill="#e0262c"/><rect x="317.6" y="296.8" width="3.2" height="3.2" fill="#e0262c"/><rect x="315.5" y="298.1" width="3.2" height="3.2" fill="#e0262c"/><rect x="317.2" y="299.5" width="3.2" height="3.2" fill="#e0262c"/><rect x="313.7" y="300.2" width="3.2" height="3.2" fill="#e0262c"/><rect x="314" y="289.8" width="3.2" height="3.2" fill="#e0262c"/><line x1="309.8" y1="306.7" x2="309.8" y2="308.9" stroke="#000" stroke-width="0.9"/><text x="309.8" y="320.2" font-size="8" fill="#1a1a1a" text-anchor="middle" stroke="#1a1a1a" stroke-width="0.18">HER2<tspan baseline-shift="3" font-size="5">+</tspan></text><rect x="333.2" y="266.4" width="9.8" height="40.3" fill="#fff" stroke="#2746a8" stroke-width="1.0"/><rect x="345.5" y="291.4" width="9.8" height="15.3" fill="#fff" stroke="#e0262c" stroke-width="1.0"/><line x1="338.1" y1="262.9" x2="338.1" y2="269.9" stroke="#2746a8" stroke-width="0.9"/><line x1="336.1" y1="262.9" x2="340.1" y2="262.9" stroke="#2746a8" stroke-width="0.9"/><line x1="350.4" y1="288.9" x2="350.4" y2="293.9" stroke="#e0262c" stroke-width="0.9"/><line x1="348.4" y1="288.9" x2="352.4" y2="288.9" stroke="#e0262c" stroke-width="0.9"/><circle cx="341.2" cy="235.8" r="1.7" fill="#2746a8"/><circle cx="336.2" cy="246.9" r="1.7" fill="#2746a8"/><circle cx="339.1" cy="248.3" r="1.7" fill="#2746a8"/><circle cx="338.6" cy="255.3" r="1.7" fill="#2746a8"/><circle cx="334.6" cy="260.8" r="1.7" fill="#2746a8"/><circle cx="338.6" cy="262.2" r="1.7" fill="#2746a8"/><circle cx="340.4" cy="267.8" r="1.7" fill="#2746a8"/><circle cx="341.1" cy="273.3" r="1.7" fill="#2746a8"/><circle cx="337.5" cy="277.5" r="1.7" fill="#2746a8"/><circle cx="341.2" cy="281.7" r="1.7" fill="#2746a8"/><circle cx="334.5" cy="284.5" r="1.7" fill="#2746a8"/><circle cx="341.3" cy="285.8" r="1.7" fill="#2746a8"/><rect x="350.1" y="271.7" width="3.2" height="3.2" fill="#e0262c"/><rect x="351.1" y="281.5" width="3.2" height="3.2" fill="#e0262c"/><rect x="348.4" y="284.2" width="3.2" height="3.2" fill="#e0262c"/><rect x="349.4" y="288.4" width="3.2" height="3.2" fill="#e0262c"/><rect x="351.2" y="289.8" width="3.2" height="3.2" fill="#e0262c"/><rect x="346.8" y="291.2" width="3.2" height="3.2" fill="#e0262c"/><rect x="346.5" y="295.4" width="3.2" height="3.2" fill="#e0262c"/><rect x="350.7" y="296.8" width="3.2" height="3.2" fill="#e0262c"/><rect x="351.6" y="299.5" width="3.2" height="3.2" fill="#e0262c"/><line x1="343.5" y1="306.7" x2="343.5" y2="308.9" stroke="#000" stroke-width="0.9"/><text x="343.5" y="320.2" font-size="8" fill="#1a1a1a" text-anchor="middle" stroke="#1a1a1a" stroke-width="0.18">TNBC</text><line x1="263.7" y1="218.1" x2="287" y2="218.1" stroke="#000" stroke-width="1.0"/><text x="275.4" y="217.4" font-size="11.5" fill="#1a1a1a" text-anchor="middle" font-weight="bold">***</text><line x1="298.5" y1="218.1" x2="320" y2="218.1" stroke="#000" stroke-width="1.0"/><text x="309.2" y="217.4" font-size="11.5" fill="#1a1a1a" text-anchor="middle" font-weight="bold">**</text><line x1="332.3" y1="218.1" x2="355.4" y2="218.1" stroke="#000" stroke-width="1.0"/><text x="343.9" y="217.4" font-size="11.5" fill="#1a1a1a" text-anchor="middle" font-weight="bold">***</text></g>
<g id="panelE"><text x="6" y="363.6" font-size="11.5" fill="#000" font-weight="bold">E</text><text x="91.7" y="367" font-size="10" fill="#1a1a1a" stroke="#1a1a1a" stroke-width="0.18">CD8<tspan baseline-shift="3.8" font-size="6.2">+</tspan> T cells in sensitive and resistant patients</text><path d="M44 476.1C46.4 475.9 44.7 475.3 44.8 474.9C44.9 474.5 44.9 474.2 44.6 473.7C44.2 473.2 43.5 472.5 42.9 471.8C42.3 471.2 41.7 470.5 41.1 469.9C40.6 469.2 40.2 468.5 39.9 467.7C39.6 467 39.4 466.4 39.3 465.6C39.1 464.9 38.9 464.9 38.9 463.4C38.9 461.9 39 459.4 39.4 456.8C39.8 454.2 40.8 450.8 41.3 448.1C41.8 445.4 42.5 443.5 42.5 440.8C42.5 438.1 41.8 435 41.3 432.1C40.8 429.1 39.9 426.2 39.3 423.3C38.7 420.5 38.2 417.4 37.9 415.3C37.6 413.2 37.5 411.7 37.4 410.9C37.3 410.2 37.5 410.2 37.4 410.9C37.3 411.7 37.2 413.2 36.9 415.3C36.6 417.4 36.1 420.5 35.5 423.3C34.9 426.2 34 429.1 33.5 432.1C33 435 32.3 438.1 32.3 440.8C32.3 443.5 33 445.4 33.5 448.1C34 450.8 35 454.2 35.4 456.8C35.8 459.4 35.9 461.9 35.9 463.4C35.9 464.9 35.7 464.9 35.5 465.6C35.4 466.4 35.2 467 34.9 467.7C34.6 468.5 34.2 469.2 33.7 469.9C33.1 470.5 32.5 471.2 31.9 471.8C31.3 472.5 30.6 473.2 30.2 473.7C29.9 474.2 29.9 474.5 30 474.9C30.1 475.3 28.4 475.9 30.8 476.1C33.2 476.3 41.6 476.3 44 476.1Z" fill="#6cbf4c"/><path d="M86.2 476.1C91.8 475.9 87 475.4 87 475C87 474.6 87.2 474.3 86.4 473.8C85.5 473.3 83.5 472.7 81.9 472.1C80.4 471.5 78.6 470.9 77.2 470.2C75.8 469.5 74.7 468.9 73.9 468.2C73 467.5 72.6 466.9 72.1 466.2C71.7 465.5 71.3 465.5 71.2 464.1C71.1 462.8 71.4 460.5 71.6 458.3C71.8 456.1 72.1 453.7 72.1 451C72.1 448.3 71.8 445.5 71.6 442.3C71.4 439 71.1 435.3 70.9 432.1C70.7 428.8 70.6 426 70.5 423.3C70.3 420.6 70.1 417.3 70 416C69.9 414.8 70.1 414.8 70 416C69.9 417.3 69.7 420.6 69.5 423.3C69.4 426 69.3 428.8 69.1 432.1C68.9 435.3 68.6 439 68.4 442.3C68.2 445.5 67.9 448.3 67.9 451C67.9 453.7 68.2 456.1 68.4 458.3C68.6 460.5 68.9 462.8 68.8 464.1C68.7 465.5 68.3 465.5 67.9 466.2C67.4 466.9 67 467.5 66.1 468.2C65.3 468.9 64.2 469.5 62.8 470.2C61.4 470.9 59.6 471.5 58.1 472.1C56.5 472.7 54.5 473.3 53.6 473.8C52.8 474.3 53 474.6 53 475C53 475.4 48.2 475.9 53.8 476.1C59.4 476.3 80.6 476.3 86.2 476.1Z" fill="#58b1e9"/><line x1="21.2" y1="402.4" x2="21.2" y2="480.3" stroke="#000" stroke-width="1.0"/><line x1="20.7" y1="479.8" x2="90.4" y2="479.8" stroke="#000" stroke-width="1.0"/><line x1="18.8" y1="475.8" x2="21.2" y2="475.8" stroke="#000" stroke-width="0.9"/><text x="18" y="478.4" font-size="7.4" fill="#1a1a1a" text-anchor="end" stroke="#1a1a1a" stroke-width="0.18">0</text><line x1="18.8" y1="461.2" x2="21.2" y2="461.2" stroke="#000" stroke-width="0.9"/><text x="18" y="463.8" font-size="7.4" fill="#1a1a1a" text-anchor="end" stroke="#1a1a1a" stroke-width="0.18">1</text><line x1="18.8" y1="446.6" x2="21.2" y2="446.6" stroke="#000" stroke-width="0.9"/><text x="18" y="449.2" font-size="7.4" fill="#1a1a1a" text-anchor="end" stroke="#1a1a1a" stroke-width="0.18">2</text><line x1="18.8" y1="432.1" x2="21.2" y2="432.1" stroke="#000" stroke-width="0.9"/><text x="18" y="434.7" font-size="7.4" fill="#1a1a1a" text-anchor="end" stroke="#1a1a1a" stroke-width="0.18">3</text><line x1="18.8" y1="417.5" x2="21.2" y2="417.5" stroke="#000" stroke-width="0.9"/><text x="18" y="420.1" font-size="7.4" fill="#1a1a1a" text-anchor="end" stroke="#1a1a1a" stroke-width="0.18">4</text><line x1="18.8" y1="402.9" x2="21.2" y2="402.9" stroke="#000" stroke-width="0.9"/><text x="18" y="405.5" font-size="7.4" fill="#1a1a1a" text-anchor="end" stroke="#1a1a1a" stroke-width="0.18">5</text><line x1="37.4" y1="479.8" x2="37.4" y2="482.2" stroke="#000" stroke-width="0.9"/><line x1="70" y1="479.8" x2="70" y2="482.2" stroke="#000" stroke-width="0.9"/><text x="9.4" y="443" font-size="7.6" fill="#1a1a1a" text-anchor="middle" stroke="#1a1a1a" stroke-width="0.18" transform="rotate(-90 9.4 443)">Gene density</text><text x="55.4" y="388.5" font-size="8.3" fill="#1a1a1a" text-anchor="middle" font-style="italic" stroke="#1a1a1a" stroke-width="0.18">GZMA</text><text x="55.4" y="400.3" font-size="10.2" fill="#1a1a1a" text-anchor="middle" font-weight="bold">***</text><line x1="36.5" y1="400.6" x2="74.2" y2="400.6" stroke="#4a4a4a" stroke-width="1.3"/><text x="38" y="491.2" font-size="8.4" fill="#1a1a1a" text-anchor="middle" stroke="#1a1a1a" stroke-width="0.18">Sensitive</text><text x="76.9" y="491.2" font-size="8.4" fill="#1a1a1a" text-anchor="middle" stroke="#1a1a1a" stroke-width="0.18">Resistant</text><path d="M134.8 476C137.6 475.9 135.5 475.4 135.6 475C135.7 474.6 135.7 474.3 135.3 473.9C134.9 473.4 134 472.8 133.2 472.2C132.5 471.6 131.7 471 131 470.3C130.4 469.7 129.9 469 129.5 468.4C129.1 467.7 128.9 467.1 128.6 466.5C128.4 465.8 128.1 465.7 128.2 464.4C128.3 463.1 128.8 461.1 129.3 459C129.8 456.9 130.9 453.8 131.3 451.8C131.7 449.8 131.8 449 131.7 447C131.6 445 131.1 442.2 130.6 439.8C130.1 437.4 129.5 435.5 129 432.6C128.5 429.7 128 425.9 127.7 423C127.4 420.1 127.3 417.9 127.2 415.8C127.1 413.7 127 411.3 126.9 410.4C126.8 409.5 127 409.5 126.9 410.4C126.8 411.3 126.7 413.7 126.6 415.8C126.5 417.9 126.4 420.1 126.1 423C125.8 425.9 125.3 429.7 124.8 432.6C124.3 435.5 123.7 437.4 123.2 439.8C122.7 442.2 122.2 445 122.1 447C122 449 122.1 449.8 122.5 451.8C122.9 453.8 124 456.9 124.5 459C125 461.1 125.5 463.1 125.6 464.4C125.7 465.7 125.4 465.8 125.2 466.5C124.9 467.1 124.7 467.7 124.3 468.4C123.9 469 123.4 469.7 122.8 470.3C122.1 471 121.3 471.6 120.6 472.2C119.8 472.8 118.9 473.4 118.5 473.9C118.1 474.3 118.1 474.6 118.2 475C118.3 475.4 116.2 475.9 119 476C121.8 476.2 132 476.2 134.8 476Z" fill="#6cbf4c"/><path d="M173.9 476C179.5 475.9 174.7 475.4 174.7 475C174.7 474.6 174.9 474.3 174.1 473.9C173.2 473.4 171.2 472.8 169.6 472.2C168 471.6 166.2 471 164.8 470.3C163.4 469.7 162.3 469 161.4 468.4C160.5 467.7 160.1 467.1 159.7 466.5C159.2 465.8 158.8 465.7 158.7 464.4C158.6 463.1 159.1 461.1 159.3 459C159.5 456.9 159.7 454.7 159.6 451.8C159.5 448.9 159.2 445.5 159 442.2C158.8 438.9 158.5 436.3 158.4 432.6C158.3 428.9 158.3 424.5 158.1 420.6C158 416.7 157.8 411.6 157.7 409.8C157.6 408 157.8 408 157.7 409.8C157.6 411.6 157.4 416.7 157.2 420.6C157.1 424.5 157.1 428.9 157 432.6C156.9 436.3 156.6 438.9 156.4 442.2C156.2 445.5 155.9 448.9 155.8 451.8C155.7 454.7 155.9 456.9 156.1 459C156.3 461.1 156.8 463.1 156.7 464.4C156.6 465.7 156.2 465.8 155.7 466.5C155.3 467.1 154.9 467.7 154 468.4C153.1 469 152 469.7 150.6 470.3C149.2 471 147.4 471.6 145.8 472.2C144.2 472.8 142.2 473.4 141.3 473.9C140.5 474.3 140.7 474.6 140.7 475C140.7 475.4 135.9 475.9 141.5 476C147.1 476.2 168.3 476.2 173.9 476Z" fill="#58b1e9"/><line x1="111.5" y1="403.3" x2="111.5" y2="480.3" stroke="#000" stroke-width="1.0"/><line x1="111" y1="479.8" x2="181.3" y2="479.8" stroke="#000" stroke-width="1.0"/><line x1="109.1" y1="475.8" x2="111.5" y2="475.8" stroke="#000" stroke-width="0.9"/><text x="108.3" y="478.4" font-size="7.4" fill="#1a1a1a" text-anchor="end" stroke="#1a1a1a" stroke-width="0.18">0</text><line x1="109.1" y1="463.8" x2="111.5" y2="463.8" stroke="#000" stroke-width="0.9"/><text x="108.3" y="466.4" font-size="7.4" fill="#1a1a1a" text-anchor="end" stroke="#1a1a1a" stroke-width="0.18">1</text><line x1="109.1" y1="451.8" x2="111.5" y2="451.8" stroke="#000" stroke-width="0.9"/><text x="108.3" y="454.4" font-size="7.4" fill="#1a1a1a" text-anchor="end" stroke="#1a1a1a" stroke-width="0.18">2</text><line x1="109.1" y1="439.8" x2="111.5" y2="439.8" stroke="#000" stroke-width="0.9"/><text x="108.3" y="442.4" font-size="7.4" fill="#1a1a1a" text-anchor="end" stroke="#1a1a1a" stroke-width="0.18">3</text><line x1="109.1" y1="427.8" x2="111.5" y2="427.8" stroke="#000" stroke-width="0.9"/><text x="108.3" y="430.4" font-size="7.4" fill="#1a1a1a" text-anchor="end" stroke="#1a1a1a" stroke-width="0.18">4</text><line x1="109.1" y1="415.8" x2="111.5" y2="415.8" stroke="#000" stroke-width="0.9"/><text x="108.3" y="418.4" font-size="7.4" fill="#1a1a1a" text-anchor="end" stroke="#1a1a1a" stroke-width="0.18">5</text><line x1="109.1" y1="403.8" x2="111.5" y2="403.8" stroke="#000" stroke-width="0.9"/><text x="108.3" y="406.4" font-size="7.4" fill="#1a1a1a" text-anchor="end" stroke="#1a1a1a" stroke-width="0.18">6</text><line x1="126.9" y1="479.8" x2="126.9" y2="482.2" stroke="#000" stroke-width="0.9"/><line x1="157.7" y1="479.8" x2="157.7" y2="482.2" stroke="#000" stroke-width="0.9"/><text x="99.7" y="443" font-size="7.6" fill="#1a1a1a" text-anchor="middle" stroke="#1a1a1a" stroke-width="0.18" transform="rotate(-90 99.7 443)">Gene density</text><text x="146.7" y="388.5" font-size="8.3" fill="#1a1a1a" text-anchor="middle" font-style="italic" stroke="#1a1a1a" stroke-width="0.18">GZMB</text><text x="146.7" y="400.3" font-size="10.2" fill="#1a1a1a" text-anchor="middle" font-weight="bold">***</text><line x1="126.5" y1="400.6" x2="164.6" y2="400.6" stroke="#4a4a4a" stroke-width="1.3"/><text x="129.9" y="491.2" font-size="8.4" fill="#1a1a1a" text-anchor="middle" stroke="#1a1a1a" stroke-width="0.18">Sensitive</text><text x="168.8" y="491.2" font-size="8.4" fill="#1a1a1a" text-anchor="middle" stroke="#1a1a1a" stroke-width="0.18">Resistant</text><path d="M229.5 475.8C233.3 475.6 230.2 475.4 230 474.9C229.8 474.4 229.5 473.7 228.5 472.9C227.5 472.1 225.6 471.3 224.3 470C223 468.7 221 467.1 220.8 465.3C220.6 463.5 222.2 461.5 223.3 459.5C224.4 457.6 226.1 456 227.2 453.7C228.3 451.5 229.1 448.8 229.7 446.2C230.3 443.5 230.6 441 230.5 438.4C230.4 435.7 229.8 433.2 229.1 430.6C228.4 428 227.4 425.4 226.2 423C225 420.6 223.4 418.1 222.3 416.3C221.2 414.6 220.3 413.6 219.7 412.5C219.1 411.5 218.7 410.7 218.5 410.4C218.3 410 218.7 410 218.5 410.4C218.3 410.7 217.9 411.5 217.3 412.5C216.7 413.6 215.8 414.6 214.7 416.3C213.6 418.1 212 420.6 210.8 423C209.6 425.4 208.6 428 207.9 430.6C207.2 433.2 206.6 435.7 206.5 438.4C206.4 441 206.7 443.5 207.3 446.2C207.9 448.8 208.7 451.5 209.8 453.7C210.9 456 212.6 457.6 213.7 459.5C214.8 461.5 216.4 463.5 216.2 465.3C216 467.1 214 468.7 212.7 470C211.4 471.3 209.5 472.1 208.5 472.9C207.5 473.7 207.2 474.4 207 474.9C206.8 475.4 203.7 475.6 207.5 475.8C211.3 476 225.7 476 229.5 475.8Z" fill="#6cbf4c"/><path d="M267.9 475.8C273.6 475.6 269 475.4 268.5 474.9C268 474.4 266.6 473.7 265 472.9C263.4 472.1 261 471.3 259.2 470C257.4 468.7 254.7 467.1 254.4 465.3C254.1 463.5 256.4 461.5 257.7 459.5C259 457.6 261 456 262.1 453.7C263.2 451.5 263.8 448.8 264 446.2C264.2 443.5 263.6 441 263 438.4C262.4 435.7 261.6 433.2 260.2 430.6C258.8 428 256.3 424.9 255 423C253.7 421.2 253.3 420.7 252.7 419.8C252.1 418.8 251.7 418 251.5 417.6C251.3 417.2 251.7 417.2 251.5 417.6C251.3 418 250.9 418.8 250.3 419.8C249.7 420.7 249.3 421.2 248 423C246.7 424.9 244.2 428 242.8 430.6C241.4 433.2 240.6 435.7 240 438.4C239.4 441 238.8 443.5 239 446.2C239.2 448.8 239.8 451.5 240.9 453.7C242 456 244 457.6 245.3 459.5C246.6 461.5 248.9 463.5 248.6 465.3C248.3 467.1 245.6 468.7 243.8 470C242 471.3 239.6 472.1 238 472.9C236.4 473.7 235 474.4 234.5 474.9C234 475.4 229.4 475.6 235.1 475.8C240.8 476 262.2 476 267.9 475.8Z" fill="#58b1e9"/><line x1="201.5" y1="403" x2="201.5" y2="480.3" stroke="#000" stroke-width="1.0"/><line x1="201" y1="479.8" x2="270.4" y2="479.8" stroke="#000" stroke-width="1.0"/><line x1="199.1" y1="475.8" x2="201.5" y2="475.8" stroke="#000" stroke-width="0.9"/><text x="198.3" y="478.4" font-size="7.4" fill="#1a1a1a" text-anchor="end" stroke="#1a1a1a" stroke-width="0.18">0</text><line x1="199.1" y1="457.7" x2="201.5" y2="457.7" stroke="#000" stroke-width="0.9"/><text x="198.3" y="460.3" font-size="7.4" fill="#1a1a1a" text-anchor="end" stroke="#1a1a1a" stroke-width="0.18">1</text><line x1="199.1" y1="439.6" x2="201.5" y2="439.6" stroke="#000" stroke-width="0.9"/><text x="198.3" y="442.2" font-size="7.4" fill="#1a1a1a" text-anchor="end" stroke="#1a1a1a" stroke-width="0.18">2</text><line x1="199.1" y1="421.6" x2="201.5" y2="421.6" stroke="#000" stroke-width="0.9"/><text x="198.3" y="424.2" font-size="7.4" fill="#1a1a1a" text-anchor="end" stroke="#1a1a1a" stroke-width="0.18">3</text><line x1="199.1" y1="403.5" x2="201.5" y2="403.5" stroke="#000" stroke-width="0.9"/><text x="198.3" y="406.1" font-size="7.4" fill="#1a1a1a" text-anchor="end" stroke="#1a1a1a" stroke-width="0.18">4</text><line x1="218.5" y1="479.8" x2="218.5" y2="482.2" stroke="#000" stroke-width="0.9"/><line x1="251.5" y1="479.8" x2="251.5" y2="482.2" stroke="#000" stroke-width="0.9"/><text x="189.7" y="443" font-size="7.6" fill="#1a1a1a" text-anchor="middle" stroke="#1a1a1a" stroke-width="0.18" transform="rotate(-90 189.7 443)">Gene density</text><text x="235.8" y="388.5" font-size="8.3" fill="#1a1a1a" text-anchor="middle" font-style="italic" stroke="#1a1a1a" stroke-width="0.18">CST7</text><text x="235.8" y="400.3" font-size="10.2" fill="#1a1a1a" text-anchor="middle" font-weight="bold">***</text><line x1="215.6" y1="400.6" x2="254" y2="400.6" stroke="#4a4a4a" stroke-width="1.3"/><text x="218.9" y="491.2" font-size="8.4" fill="#1a1a1a" text-anchor="middle" stroke="#1a1a1a" stroke-width="0.18">Sensitive</text><text x="256.8" y="491.2" font-size="8.4" fill="#1a1a1a" text-anchor="middle" stroke="#1a1a1a" stroke-width="0.18">Resistant</text><path d="M320 475.8C323.2 475.7 320.6 475.5 320.4 475.1C320.2 474.7 319.7 474.2 318.8 473.4C317.9 472.5 316 471.4 315 470C314 468.7 312.7 467.1 312.7 465.3C312.7 463.5 314.1 461.5 315 459.5C315.9 457.6 316.9 456.1 318.1 453.8C319.3 451.5 321 448.6 322 446C323 443.4 323.5 440.6 323.8 438.4C324.1 436.1 324.1 434.9 323.5 432.6C322.9 430.3 321.7 427.4 320.4 425C319.1 422.5 317 420 315.6 418.2C314.2 416.4 313 415.2 312.2 414.2C311.4 413.1 311 412.5 310.8 412.2C310.6 411.8 311 411.8 310.8 412.2C310.6 412.5 310.2 413.1 309.4 414.2C308.6 415.2 307.4 416.4 306 418.2C304.6 420 302.5 422.5 301.2 425C299.9 427.4 298.7 430.3 298.1 432.6C297.5 434.9 297.5 436.1 297.8 438.4C298.1 440.6 298.6 443.4 299.6 446C300.6 448.6 302.3 451.5 303.5 453.8C304.7 456.1 305.7 457.6 306.6 459.5C307.5 461.5 308.9 463.5 308.9 465.3C308.9 467.1 307.6 468.7 306.6 470C305.6 471.4 303.7 472.5 302.8 473.4C301.9 474.2 301.4 474.7 301.2 475.1C301 475.5 298.4 475.7 301.6 475.8C304.8 475.9 316.8 475.9 320 475.8Z" fill="#6cbf4c"/><path d="M359.6 475.8C365.3 475.7 360.8 475.5 360.2 475.1C359.6 474.7 357.8 474.2 356 473.4C354.2 472.5 351.5 471.5 349.7 470C347.9 468.6 345.5 466.6 345.3 464.9C345.1 463.1 347.2 461.4 348.4 459.5C349.6 457.6 351.2 455.9 352.2 453.8C353.2 451.6 354.2 449.3 354.5 447C354.8 444.7 354.4 442.7 353.8 440.2C353.2 437.8 351.8 435.2 350.7 432.6C349.6 430 348.3 427.6 347.2 425C346.1 422.3 345.1 419.3 344.5 417.2C343.9 415.1 343.7 413.6 343.4 412.4C343.1 411.3 343.1 410.6 343 410.3C342.9 409.9 343.1 409.9 343 410.3C342.9 410.6 342.9 411.3 342.6 412.4C342.3 413.6 342.1 415.1 341.5 417.2C340.9 419.3 339.9 422.3 338.8 425C337.7 427.6 336.4 430 335.3 432.6C334.2 435.2 332.8 437.8 332.2 440.2C331.6 442.7 331.2 444.7 331.5 447C331.8 449.3 332.8 451.6 333.8 453.8C334.8 455.9 336.4 457.6 337.6 459.5C338.8 461.4 340.9 463.1 340.7 464.9C340.5 466.6 338.1 468.6 336.3 470C334.5 471.5 331.8 472.5 330 473.4C328.2 474.2 326.4 474.7 325.8 475.1C325.2 475.5 320.7 475.7 326.4 475.8C332.1 475.9 353.9 475.9 359.6 475.8Z" fill="#58b1e9"/><line x1="294" y1="403.3" x2="294" y2="480.3" stroke="#000" stroke-width="1.0"/><line x1="293.5" y1="479.8" x2="364.2" y2="479.8" stroke="#000" stroke-width="1.0"/><line x1="291.6" y1="475.8" x2="294" y2="475.8" stroke="#000" stroke-width="0.9"/><text x="290.8" y="478.4" font-size="7.4" fill="#1a1a1a" text-anchor="end" stroke="#1a1a1a" stroke-width="0.18">0</text><line x1="291.6" y1="461.4" x2="294" y2="461.4" stroke="#000" stroke-width="0.9"/><text x="290.8" y="464" font-size="7.4" fill="#1a1a1a" text-anchor="end" stroke="#1a1a1a" stroke-width="0.18">1</text><line x1="291.6" y1="447" x2="294" y2="447" stroke="#000" stroke-width="0.9"/><text x="290.8" y="449.6" font-size="7.4" fill="#1a1a1a" text-anchor="end" stroke="#1a1a1a" stroke-width="0.18">2</text><line x1="291.6" y1="432.6" x2="294" y2="432.6" stroke="#000" stroke-width="0.9"/><text x="290.8" y="435.2" font-size="7.4" fill="#1a1a1a" text-anchor="end" stroke="#1a1a1a" stroke-width="0.18">3</text><line x1="291.6" y1="418.2" x2="294" y2="418.2" stroke="#000" stroke-width="0.9"/><text x="290.8" y="420.8" font-size="7.4" fill="#1a1a1a" text-anchor="end" stroke="#1a1a1a" stroke-width="0.18">4</text><line x1="291.6" y1="403.8" x2="294" y2="403.8" stroke="#000" stroke-width="0.9"/><text x="290.8" y="406.4" font-size="7.4" fill="#1a1a1a" text-anchor="end" stroke="#1a1a1a" stroke-width="0.18">5</text><line x1="310.8" y1="479.8" x2="310.8" y2="482.2" stroke="#000" stroke-width="0.9"/><line x1="343" y1="479.8" x2="343" y2="482.2" stroke="#000" stroke-width="0.9"/><text x="282.2" y="443" font-size="7.6" fill="#1a1a1a" text-anchor="middle" stroke="#1a1a1a" stroke-width="0.18" transform="rotate(-90 282.2 443)">Gene density</text><text x="326.2" y="388.5" font-size="8.3" fill="#1a1a1a" text-anchor="middle" font-style="italic" stroke="#1a1a1a" stroke-width="0.18">NKG7</text><text x="326.2" y="400.3" font-size="10.2" fill="#1a1a1a" text-anchor="middle" font-weight="bold">***</text><line x1="307" y1="400.6" x2="345.4" y2="400.6" stroke="#4a4a4a" stroke-width="1.3"/><text x="310.8" y="491.2" font-size="8.4" fill="#1a1a1a" text-anchor="middle" stroke="#1a1a1a" stroke-width="0.18">Sensitive</text><text x="348.3" y="491.2" font-size="8.4" fill="#1a1a1a" text-anchor="middle" stroke="#1a1a1a" stroke-width="0.18">Resistant</text></g>
<g id="panelF"><path d="M72.8 585h0M78 606.1h0M98.7 609.4h0M80 585.9h0M88.5 605.3h0M94.1 596.6h0M100.5 578.1h0M85.7 599.1h0M87.7 598.3h0M76 578.3h0M107.3 587.2h0M104.9 585.4h0M88.8 574.5h0M83.3 579.9h0M77.5 585.3h0M110.1 585h0M98.2 585.2h0M71.9 583.7h0M109.1 594.8h0M75.8 582.1h0M107.3 591h0M80.2 602.4h0M97.3 587.7h0M108 589.9h0M91 587.8h0M91.2 603.4h0M103.9 599.7h0M84.6 580.5h0M87.7 581.9h0M75.2 596.8h0M76.3 585.6h0M97.1 592.5h0M77.2 600.4h0M102.5 603.9h0M101.6 580.1h0M95.1 593.1h0M85.4 611h0M88 575.8h0M87.4 590h0M108.5 603.5h0M91.3 610.2h0M103.3 583.1h0M111.5 598.5h0M75.3 588.7h0M94.8 580.9h0M95.1 588.9h0M96.5 593.6h0M80.1 586.1h0M102.4 588.6h0M79.6 582.5h0M89.9 595.8h0M110 585.5h0M80.3 583.9h0M105.4 578.1h0M74.2 586.6h0M112.8 591.4h0M78 582.3h0M94.4 594.5h0M72.6 597.1h0M87.8 595.6h0M72.5 582.8h0M85.4 599h0M100.7 605.5h0M111.1 592.6h0M103.9 610.5h0M88.4 583.1h0M71.8 579.7h0M88.3 589.3h0M80.7 587.6h0M72 594.5h0M83.7 574.9h0M83.1 592.8h0M99.4 575.7h0M108.9 592.5h0M104.9 593.4h0M103.3 595h0M87.4 591.5h0M96.8 582.4h0M91.2 577.4h0M98.5 580.2h0M75.6 583.9h0M100.1 607.5h0M107.5 582.9h0M97.5 596.4h0M81.9 581.9h0M92.1 576.9h0M81 601.8h0M99.3 607.4h0M79.5 601h0M86.7 604.2h0M106.4 593.2h0M106.4 580.9h0M100.6 610h0M88.7 577.5h0M111.7 595.8h0M97 594h0M108.6 603.8h0M87.9 573h0M80.2 605.4h0M108.1 605.6h0M80.2 575.4h0M108.2 598.7h0M112.4 592.3h0M96 592.4h0M100.9 576.6h0M90.6 591h0M90.5 578.8h0M89 603.9h0M80.2 603.6h0M97.7 606h0M79.6 595.8h0M78.9 591h0M79 591.3h0M95.8 590.4h0M90.1 589.1h0M85.5 581.3h0M88.5 587.2h0M77.6 586.5h0M91.1 579.4h0M99.7 595h0M95.6 601.8h0M109.2 587.1h0M107.4 596.5h0M102.5 594.3h0M99.2 606.8h0M78.1 595.9h0M85.5 590.4h0M100.1 588.5h0M89.2 604.6h0M108.9 592.9h0M93.8 595.6h0M74.8 602.3h0M97.5 578.9h0M78.8 596.5h0M94.6 576.7h0M91.9 580.6h0M108 583.9h0M91.1 591.9h0M98.2 579.7h0M87.3 572h0M91 591h0M98.3 606.2h0M82.4 604.8h0M100.1 592.6h0M88.2 605.5h0M76.8 584.3h0M77.2 583.6h0M106.4 607.7h0M90.9 582.8h0M74.4 586.4h0M96.7 608.9h0M109 594.7h0M91.2 581h0M94.2 595.7h0M92 607.5h0M79.2 583.6h0M96.6 581.5h0M85.9 597.9h0M92.3 577h0M90.7 602.8h0M105.4 597.8h0M86 574.6h0M106.3 600.7h0M87.6 586.1h0M71.2 590.9h0M101.4 596.1h0M106.9 586.6h0M107.7 587.1h0M95.9 582.7h0M98.2 590.6h0M110.1 586.5h0M96 578.3h0M93.6 577.4h0M103.8 592.8h0M79.3 601.1h0M101.4 576.7h0M70.4 594.1h0M80.5 602h0M103 605.1h0M107 592.5h0M74 591h0M101.7 583.7h0M89.5 587.2h0M102.9 605.9h0M93.5 610.8h0M97.1 596.2h0M82.8 600.7h0M111.4 598.7h0M111.6 605.7h0M85.1 577.8h0M105 598.8h0M102 599h0M104.4 608.4h0M92.6 587.9h0M95.9 574.6h0M93.1 577.9h0M77.3 598.3h0M104.9 589.1h0M98.9 585.2h0M107.3 580.1h0M100.1 577.8h0M101.9 580.5h0M101.4 591.5h0M96.6 574.4h0M106.2 591.5h0M76.8 584.5h0M89.1 600.3h0M92.2 591h0M99.9 594.9h0M102.1 580.8h0M81.2 593.1h0M95.4 585.7h0M86.3 606.4h0M82.4 604.8h0M81.1 577.9h0M76.6 590.3h0M80.7 596.5h0M70.3 594.6h0M76.4 589.6h0M99.3 609.7h0M105.8 596.5h0M91.1 601.7h0M106.4 598.3h0M83.9 606.4h0M97.5 590.2h0M91.6 577.4h0M77.2 592.9h0M97.4 610.4h0M82.5 587.9h0M81.7 575.7h0M99.8 579.8h0M87.1 595h0M91.2 586.9h0M84.7 598.9h0M95 598.1h0M102.6 605.7h0M100.8 596.9h0M101 604h0M85.2 576.3h0M93 602.9h0M102.8 606.3h0M79.8 596.7h0M83.3 601.2h0M74.2 580.3h0M99.3 602.6h0M93.9 590.6h0M102.5 588.1h0M111.7 597.6h0M77.4 596.7h0M72.6 587.2h0M85.4 599.3h0M94.8 578.5h0M81.9 585.8h0M70 584.1h0M107 603.1h0M98.1 582.4h0M88.7 601h0M100.2 578.6h0M88 596.2h0M85.9 590.2h0M108.5 588h0M95.8 583.9h0M72.3 583h0M71.5 585.7h0M90.7 579h0M93.2 607.4h0M92.3 593.6h0M95.6 596.5h0M81.3 589.4h0M104.7 598.6h0M77.8 586.9h0M76.1 595.1h0M90.1 581.3h0M109 601.5h0M87.1 598.1h0M70.2 586.1h0M101.4 592.7h0M77.7 584.2h0M71.6 587.1h0M92.7 605.4h0M73.5 589.9h0M108.9 592.8h0M99 579.5h0M99.4 576.4h0M109.1 596.9h0M96.7 591.5h0M107 596.8h0M105.4 588.9h0M76.4 599.2h0M92.7 580h0M92.6 591h0M108.9 593.8h0M91.4 576.8h0M79.4 585.6h0M100.9 586.7h0M93.7 588.2h0M89.9 590.5h0M97.7 580.7h0M105.8 590.7h0M80.6 596.6h0M79.8 578.8h0M98.3 602.3h0M96.5 580.1h0M86.9 603h0M106.1 608.2h0M83.8 607.3h0M109.7 600.5h0M102.8 610.1h0M109.9 598.5h0M84.9 585.7h0M101 598.1h0M81.8 584.7h0M77.4 588.3h0M73.3 597.4h0M100.3 595.2h0M86.6 608.7h0M111.7 597.4h0M82.6 574h0M92 600.3h0M90.2 591.1h0M112.7 587h0M90.1 603.6h0M78.6 601.1h0M109.7 599h0M80.1 601.2h0M84.9 569.8h0M85.5 591.9h0M93.1 611h0M109 584.6h0M98.6 595.4h0M100.7 579.5h0M85.6 606h0M93.3 580h0M88.5 587.4h0M100.9 585.5h0M98.9 604.9h0M85.2 590h0M96 593.3h0M92.9 591.5h0M106 583.7h0M98.5 602.2h0M76.3 583.3h0M100.4 595.4h0M99.1 612.1h0M92.1 608.1h0M97 579.9h0M92 577.2h0M86 594.8h0M72.7 597.2h0M102.7 583.2h0M101.1 589.2h0M76.4 584.9h0M112.9 599.2h0M99.8 587.7h0M97.2 579.5h0M88.8 589.7h0M87.6 597.9h0M82.4 578.4h0M105.9 606.9h0M76.8 579.8h0M75.5 592.9h0M82.7 580.6h0M77.3 597h0M95.3 595h0M105.9 604.8h0M84 598.6h0M100.5 583.5h0M93.8 588.6h0M102.5 583.6h0M80.4 595.3h0M105.6 586.5h0M93.1 584.6h0M94.8 582.3h0M84 576.8h0M78.5 580.2h0M71.4 590.9h0M77.9 585.2h0M98.1 597.3h0M80.3 583.7h0M106.3 585.1h0M102.5 582.5h0M95.2 603.3h0M81.7 587.7h0M76.2 589.4h0M76.6 600.9h0M99 593.1h0M89.7 610.7h0M91 572.7h0M95.8 599.3h0M75.6 585.5h0M110.7 591.1h0M93.3 576.9h0M84.3 607.1h0M75.6 581.5h0M95.9 586.9h0M105.6 601.7h0M90.9 593.2h0M87.7 593.9h0M102.3 592.1h0M99.6 594h0M103 591.8h0M88.6 601.6h0M109.4 586.7h0M87.4 577.4h0M92.7 585.8h0M82.4 580.1h0M89.5 581.1h0M95.1 594.6h0M101.5 579.2h0M92.5 584.7h0M87.6 606.8h0M87.7 594.7h0M95.1 593.9h0M95.9 596.6h0M79.6 595.2h0M79.1 594.8h0M109.4 584.6h0M103.6 595.9h0M99.8 597.2h0M77 589.8h0M90.6 572.2h0M114.7 588.8h0M108.2 587.5h0M89 583h0M89.6 604.3h0M97.7 598.8h0M79.8 605h0M103.1 604.7h0M80.6 587.9h0M85 604h0M78.6 593.7h0M89.5 596.6h0M94.2 576h0M96.6 604.7h0M84.3 582.6h0M77.3 598.1h0M80.9 596.5h0M103.7 595.4h0M85.6 596.9h0M91.6 592.5h0M101.9 579.2h0M85.4 573.8h0M96.8 595.1h0M104.6 594.4h0M74 587.2h0M84.2 586.3h0M101.5 597.6h0M94.5 606.9h0M94.5 600h0M92.1 580.7h0M80.5 598.2h0M108.5 584.3h0M106.9 603.1h0M102.3 606.6h0M84.1 583.7h0M99 602.9h0M74.5 583.4h0M91.4 595.4h0M92 574h0M98.1 598.5h0M79.4 591.4h0M92.3 577h0M105 609.3h0M97.8 581.5h0M105.2 605h0M80.3 586.1h0M107.1 594.1h0M96.6 585.7h0M88.8 608.9h0M83.9 590.6h0M92.1 583.2h0M96.6 607.7h0M81.7 605.4h0M99 577.6h0M77.5 607.2h0M103.4 582.1h0M108.8 600.9h0M102.9 578.7h0M100.2 599.6h0M98 591.2h0M96.5 609.6h0M77.5 595.7h0M101.9 579.7h0M87.9 612.8h0M94.5 581.3h0M83.5 593.8h0M90.4 602.6h0M111.4 592h0M81.9 587.6h0M87.2 579h0M100.9 583.1h0M78.5 579.3h0M100.3 588.8h0M85.1 594.7h0M92.2 582.9h0M79.2 592.5h0M86.5 577.1h0M82.9 576h0M101.2 577.4h0M104.6 585.5h0M94.3 580.5h0M88.3 582.6h0M89.5 585h0M86 590.8h0M108.1 593.9h0M83.6 592.5h0M104.5 593.5h0M105.8 604h0M90.5 586.7h0M109.4 586h0M98 596.7h0M98.1 594.2h0M75.9 592.3h0M82.7 573.4h0M90.9 580.2h0M78.1 603.8h0M83.9 599.3h0M72.3 594h0M95.5 600.6h0M89.2 591.6h0M87.6 574.4h0M81.8 601.5h0M88.5 576.2h0M96.3 578.3h0M103.9 598.5h0M78.5 573.2h0M74.8 588.2h0M97.6 580.6h0M92.3 608.8h0M83.4 597.8h0M80.3 576.8h0M100.5 608.4h0M104.1 608h0M95.4 577.2h0M73.2 601.2h0M101.9 591.9h0M76.3 583.4h0M98.7 582.6h0M82.3 605.3h0M86.5 603.3h0M93.3 599h0M110.6 603.1h0M95.3 594h0M95.8 583.7h0M110.8 592.4h0M91 596.3h0M77.5 587.2h0M87 585.1h0M102.7 598.4h0M90.6 609.1h0M86.3 600.1h0M105.3 581.5h0M86.3 580.6h0M86.2 605.6h0M105.3 582.8h0M72.6 594.4h0M80.4 579.1h0M96.1 587.9h0M92.7 581h0M78 580.4h0M80.8 592h0M93.1 587.7h0M91.2 572.3h0M97.7 594h0M85.6 575h0M93.5 574.2h0M77.7 585.7h0M81.3 598.8h0M76.9 585.6h0M92.8 595.2h0M85.4 596.5h0M82 578h0M90.6 612.9h0M85.7 608.6h0M86.5 604h0M90.6 589h0M94.4 597h0M79.5 598h0M98.2 589.2h0M100.6 598.3h0M99.2 597.7h0M91 580.7h0M80.6 599.5h0M83.1 605.3h0M92.4 587h0M73.4 600.5h0M90.7 599.5h0M95.4 586h0M86 577.3h0M90.9 610.8h0M80.3 589.4h0M84.8 583.8h0M103 590.7h0M76.6 596.5h0M75.5 600.4h0M103.8 590h0M102 584.7h0M87.8 602.1h0M98.8 610.6h0M74.3 586.5h0M71.1 576h0M70.4 570.5h0M79.1 580.9h0M83.6 574.9h0M71.4 575.9h0M76.9 579.5h0M82 579.6h0M67.1 576.4h0M76.1 567.9h0M73.3 576.3h0M74.2 584.7h0M74.8 573h0M68.6 582.3h0M79.4 570.4h0M80.6 583.8h0M71.1 572.5h0M73.7 582.8h0M68.9 577.1h0M72 583.4h0M78 569.6h0M71.2 578.3h0M71.5 576.1h0M78.2 580.3h0M83.5 574.1h0M79.3 583.4h0M72.5 573.7h0M73.8 578.2h0M75.9 584.1h0M82.1 577.2h0M75.1 584.6h0M77.1 579.3h0M71 574.6h0M75.6 585.5h0M83.1 579.6h0M70.8 578.3h0M80.5 582.4h0M68.6 574h0M75.2 582.1h0M83.2 575.6h0M67.8 580.4h0M84.4 580.3h0M77.6 572.6h0M68.8 575.6h0M82.8 580.2h0M66.3 574.2h0M77.6 580.2h0M71 571.7h0M71.1 581.6h0M75.4 585.8h0M67.3 583.1h0M73 570.2h0M78.7 574.2h0M85.6 577.7h0M69.9 577.7h0M81.8 574.2h0M80.3 581h0M77.5 583.6h0M77.3 576.1h0M80.9 576.2h0M73.3 582.7h0M78.9 584.6h0M67.7 581.8h0M72.1 577.6h0M67 574.8h0M76.2 579.9h0M75.1 575.6h0M80.4 580.3h0M75.7 579.4h0M66.1 578.6h0M77.4 584.9h0M69.8 578.6h0M72.4 581.1h0M77.1 573.3h0M80.7 575.6h0M69.4 574.5h0M74.5 571h0M75.5 580.2h0M77.7 580.6h0M69.6 577.2h0M79.8 572.9h0M72.1 583.5h0M84 573h0M72.1 584h0M72.4 569.7h0M78.7 573.4h0M73.2 581.5h0M66.5 579.7h0M68.1 580.5h0M64.8 576.9h0M77.2 581h0M72.1 579.8h0M72.3 573.6h0M68.6 572.3h0M72.6 584.4h0M80.1 577.3h0M75.2 573.5h0M72.1 582.3h0M76.4 574.8h0M65.8 575.7h0M78.6 577.4h0M70.5 575.2h0M75.6 581.5h0M69.8 578.2h0M85.4 577.6h0M76.2 570.2h0M67.6 575.6h0M76.2 583.2h0M70 577.5h0M67.8 580.6h0M75.7 585.7h0M110.1 612.8h0M110.5 607h0M117.9 614.4h0M106.5 612.2h0M115.8 615.2h0M108.9 601.7h0M122.5 608.9h0M99.3 603.3h0M121.3 605.4h0M107.3 604.3h0M102.5 606.2h0M121.1 612.6h0M106.9 603.2h0M110.4 599h0M117.4 600.8h0M110.8 609.1h0M98.7 603.3h0M118.2 603.7h0M108.5 599.1h0M117.6 611.4h0M109.1 604.9h0M104.6 606.1h0M102.6 601.1h0M111.1 614.1h0M106.8 611h0M115.1 610.3h0M98.3 602.9h0M111 601h0M112.2 613.7h0M111.9 608.3h0M119 605.1h0M98.4 602.1h0M103.2 609.7h0M117.3 608.9h0M114.2 608h0M108.6 610.8h0M99.3 605.3h0M112.7 612.5h0M123.7 609.9h0M120.2 604.5h0M112.1 603.7h0M114.3 603.7h0M97.9 601.4h0M107.5 604.9h0M100.2 607.2h0M124.8 611.8h0M99.1 598.4h0M112.1 615.6h0M105.1 601.6h0M117.6 611.7h0M118.9 607.3h0M98.9 605.4h0M103.6 605.3h0M105.4 601.9h0M100.4 596h0M115.6 613.1h0M100.6 598.9h0M114.3 603.9h0M107.4 609.9h0M115.2 603.5h0M121.6 608.7h0M98.6 601.8h0M119.2 613.1h0M119.1 605h0M103.6 603.5h0M103.3 606.7h0M105.8 601.5h0M119.3 605.9h0M111.2 599.9h0M109.1 598.4h0M112.4 614.6h0M117.6 609.3h0M118.1 604.1h0M115.8 611.1h0M103.4 598.7h0M109.3 605h0M121.9 610.1h0M105.7 602h0M110.4 606.2h0M101.3 606.2h0M109.6 612.1h0M108.3 611.2h0M105.2 608.1h0M102 599.6h0M101.2 608h0M102.9 604.7h0M114.1 616.5h0M101.9 608.2h0M106.6 610.7h0M114.9 605h0M116.3 606.7h0M113.7 608.8h0M99.5 606h0M104.9 613.2h0M117.5 610.5h0M118.1 613.7h0M99.4 605.8h0M112.9 606.6h0M110.8 608.4h0M114.1 607.2h0M112.3 601.2h0M107.1 604.6h0M114 600.6h0M110.6 611.2h0M120.2 611.4h0M100.5 604.8h0M108.7 609.2h0M107.8 596.4h0M121.2 613.6h0M101.9 602.3h0M112.9 601.5h0M107.1 606.4h0M98.5 597.7h0M110.9 611.8h0M110 601.3h0M118.6 614.2h0M109 608.2h0M116.1 603.2h0M112.7 612.7h0M116.6 602h0M120.1 602h0M133.5 606.4h0M127.3 593.4h0M125 597.9h0M136.7 596.1h0M135.8 595.7h0M123.2 596.6h0M136.2 598.8h0M132 595.2h0M131.7 607.1h0M123.8 602.2h0M133.9 600.5h0M119.7 599.6h0M127.6 603.9h0M131.8 590.8h0M128.7 601.7h0M128.6 603.4h0M120.7 605h0M131.6 591.8h0M129.5 608.6h0M133.1 601.6h0M125.1 598h0M126.5 600.4h0M132.9 608.6h0M133.3 592.9h0M134.5 602.7h0M124.3 607.6h0M133.2 602.5h0M127 590.7h0M125.1 604.4h0M125.3 591.8h0M131.9 609.2h0M129.1 590.3h0M130.7 587.9h0M128.1 603.7h0M126.2 607.6h0M120.5 602.6h0M128.1 605.4h0M133.6 599.9h0M127.8 606h0M64.2 592.4h0M76.9 595.6h0M65.6 595.1h0M64.3 592.4h0M72.3 594.1h0M68.8 599h0M64.6 595h0M67.1 586.8h0M65.6 590.5h0M67.6 585.3h0M73.1 582.8h0M62.9 595.9h0M77.6 587.7h0M63.5 594h0M68.2 594.4h0M68.7 592.3h0M71.1 587.2h0M66.1 585.7h0M68.5 589.4h0M65.1 594.5h0M72 590.7h0M77.8 592.9h0M73.8 588h0M74.5 601.2h0M75.8 591h0M75.3 599.8h0M69.5 592.7h0M76.2 596.9h0M69.9 600.3h0M66.8 598.9h0M76.5 587.6h0M71.3 583.4h0M72.9 585.1h0M70.6 595.7h0M75.6 593.5h0M74.9 594h0M75.9 597.2h0M64.4 589.3h0M69.4 598.2h0M68.1 584.6h0M70.1 586.9h0M73.3 598.4h0M66.4 585.9h0M75.5 588.4h0M74.5 593.6h0M66.6 584h0M76.2 595.8h0M66.7 597.5h0M67.5 594.4h0M73.4 595.4h0M78.1 590.1h0M73.5 595.9h0M70.9 601.8h0M70.1 582.9h0M73.6 593.2h0M63.2 591h0M66.2 598.6h0M63.4 588.2h0M62.6 597h0M69.5 582.2h0M75.8 592.4h0M69.8 589.9h0M68 590.3h0M66.1 600.9h0M63.4 595.5h0M75.3 586.8h0M68.3 587.1h0M68.7 592.4h0M74 597h0M68.4 599.9h0" stroke="#5b9bd8" stroke-width="2.4" stroke-linecap="round" fill="none"/><path d="M141.4 594.6h0M144.2 579.8h0M138.3 594.6h0M134.5 582.8h0M142.5 586h0M154.4 579.8h0M160.9 586.9h0M155.5 588.6h0M132.6 591.5h0M139.6 580.3h0M147.9 591.1h0M145 596.8h0M131.3 590.4h0M153.6 594.4h0M154.6 592.7h0M138.3 587h0M154.8 574.7h0M144 596.2h0M147.8 584.5h0M140.4 590.8h0M143.9 580.8h0M140.4 587.7h0M146.4 597.4h0M137.3 596.6h0M155.8 590.7h0M157.5 578.1h0M144.1 594.4h0M145.9 583.6h0M135.5 580.5h0M136.6 577.3h0M142.5 579.8h0M146.5 577h0M144.8 598.9h0M155.6 576.3h0M151.9 586h0M158.7 585.8h0M147.7 577.1h0M160.6 584.8h0M142.8 575.7h0M136.5 583.4h0M146.7 584h0M141.3 583.9h0M152.8 578h0M142.1 576.5h0M142.4 572.9h0M148.4 577.9h0M155.6 591.6h0M142 579h0M132.5 594.7h0M151.4 588.6h0M161.2 583.9h0M142.4 591.3h0M162.8 587.2h0M137 581.6h0M153.9 582h0M145.3 578.3h0M157.7 582.7h0M148.2 597.3h0M132.5 589.9h0M160.3 589.3h0M164.1 588.9h0M149 583.7h0M137.4 596.3h0M155.9 583.6h0M143.7 578.7h0M157.1 593.4h0M150.5 585h0M146.4 589.2h0M162.2 579.4h0M150.1 589.2h0M153.3 586.8h0M153 578.6h0M137.3 599.7h0M155 583.6h0M139.5 586.5h0M135.6 588.9h0M133.1 583.7h0M131.3 589h0M153.6 591.8h0M152.9 575.5h0M141.8 587.4h0M143 584.8h0M131.3 589.2h0M154 572.8h0M140 587.2h0M137.6 588h0M146.2 598.2h0M137.6 596.4h0M151.1 598.4h0M147.4 578.1h0M148.6 586.6h0M154.4 578.5h0M146.9 578.2h0M133.5 585.4h0M148.5 582h0M139.1 580.1h0M134.6 587.1h0M154.1 595.1h0M142.9 585.9h0M144.7 577.7h0M149.2 588.2h0M138.6 576.7h0M157.3 578.7h0M147.8 586.5h0M158.3 587.2h0M154.5 575h0M147.8 582.9h0M161.4 581.9h0M158.5 575.7h0M147.3 588.2h0M156.4 584.4h0M147.8 599.1h0M151.7 586.4h0M157.8 577h0M152.7 595h0M131.4 594h0M155.4 587.4h0M132 581.9h0M146 587.3h0M141.7 596.9h0M150.8 597.6h0M138.3 583.1h0M143.6 577.1h0M143.8 595.5h0M150.5 594.1h0M141.3 590.1h0M150.7 574.4h0M140.4 583.3h0M144.3 573.3h0M144.6 595.7h0M161.3 583.7h0M142 600.3h0M150.4 573.7h0M140.6 599.4h0M149.4 599.1h0M145 595h0M147.4 580.2h0M131.1 583.4h0M148.9 581.1h0M163 588.2h0M152.6 593.6h0M135.1 577h0M141.2 593.8h0M143.1 583.4h0M161.5 585.1h0M144.9 591h0M130.7 587.6h0M148.2 581.7h0M154.6 582.9h0M152.4 592.6h0M146.7 585.4h0M136.7 586.4h0M134.7 583.7h0M129.5 593.9h0M149.4 593.6h0M131.4 590.3h0M133.4 596.1h0M132.1 592.3h0M160.3 579.8h0M156.1 585.9h0M142.9 587.5h0M152.6 582.5h0M161.9 583.2h0M159.2 581.3h0M148.8 590.2h0M158.7 589.3h0M162.1 589.7h0M153.1 590.8h0M138.8 592.5h0M156.9 579.3h0M149.9 589.6h0M159.2 579.6h0M142.9 570.9h0M141.2 594.5h0M139.7 590.9h0M137 596.9h0M134.9 583.7h0M146.5 588.6h0M145.3 581.3h0M144.7 597.1h0M149.1 587h0M161.8 588.2h0M131.3 588.8h0M145.6 583.3h0M136.3 586.1h0M146.2 588.2h0M146 595.3h0M162.1 589.5h0M142 580.7h0M149.9 592.8h0M161.7 579.3h0M135.8 597.1h0M158.1 591.5h0M145.8 596.9h0M144.8 585.3h0M150.8 575.3h0M138.6 582.4h0M153.9 581h0M137.3 576.7h0M153.8 590.7h0M140.8 596.1h0M155.4 581.1h0M133.5 593.4h0M142.1 589.2h0M137.3 591h0M147.6 596.1h0M149.3 576.3h0M144.4 593.4h0M148.2 599.5h0M133.3 585.8h0M145.1 579.3h0M155.5 577.9h0M158.4 576.6h0M145.9 592.1h0M148.4 586.5h0M142.2 593.1h0M153.2 584.5h0M138.3 597.3h0M142.3 592.4h0M141.3 592.5h0M156.9 578.4h0M155.9 571h0M150.8 597.3h0M146.6 598.9h0M144.2 580.2h0M143.5 598.1h0M139.8 589.4h0M142 594h0M157.2 578.4h0M153.5 598.8h0M129.3 594.1h0M129.9 582.6h0M151 580.5h0M157.2 579.5h0M137.6 586.2h0M136.6 589.8h0M154.7 597.8h0M140.7 576h0M149.5 588.8h0M141.6 589.5h0M154.2 574.1h0M142.9 578.1h0M132 582.2h0M134.8 588.2h0M136.7 587.8h0M151.1 585.7h0M155.6 589.1h0M157.1 595.7h0M132 591.2h0M150.5 595.4h0M131.9 579.2h0M156.1 583.5h0M136.5 584h0M158.7 593.4h0M147 588.8h0M156.8 579h0M162.4 579.3h0M131.5 592.6h0M148.1 592.1h0M162.5 587h0M147.4 586.6h0M146.6 586.6h0M141.6 576.3h0M140.1 575.3h0M155.1 596h0M147.1 601.2h0M147.4 585.4h0M136.8 592.6h0M156 576.5h0M138 591.9h0M159.3 574.5h0M139.4 579.3h0M149.9 587.4h0M139.2 597.8h0M132.8 596.3h0M147.9 579.1h0M157.9 580.3h0M136.7 577.9h0M141.1 591h0M130.5 582h0M147.6 596.6h0M142.9 593.9h0M149.8 592.6h0M138.8 590.5h0M152.9 576.2h0M133.3 582.7h0M133.5 597.1h0M157 576.7h0M149.2 585.5h0M142.1 587.1h0M149.4 583h0M148 583.3h0M158.3 588.9h0M157.1 591.5h0M152.8 580.8h0M159.6 586.8h0M157.1 582.3h0M142.8 573.6h0M153.8 585.1h0M161 588.5h0M154.1 590.9h0M138.2 593.9h0M148.8 597.9h0M151.5 573.9h0M151.4 585.3h0M157 591.6h0M136.4 578h0M154.1 584.6h0M143.1 584.4h0M148.9 579.2h0M156.9 579.3h0M130.7 589.1h0M136 583.9h0M150.5 583.4h0M134.6 592h0M144.5 598.6h0M146 584h0M129.3 588.9h0M151 573.6h0M160.4 590h0M134.2 590.3h0M152.6 579.3h0M144.2 582.2h0M147.3 583h0M154.2 578h0M136.4 590.1h0M158.9 583.6h0M130.7 589.1h0M142.6 580.2h0M133.3 583.1h0M149.9 571.8h0M142.5 594.8h0M162.1 581.1h0M151.7 576.9h0M160.4 577.8h0M135.1 583.4h0M140.5 579.9h0M153.2 578h0M141 598.2h0M158.9 586.9h0M137.9 589.7h0M159.8 578.7h0M156.2 590.9h0M143.6 577.1h0M142.4 587.2h0M139.4 578.7h0M135.3 591.5h0M145.4 577.8h0M140.3 598.7h0M149.2 594.7h0M162.3 584.4h0M146.3 589.1h0M148.3 587.4h0M152.8 579.9h0M149.4 590.6h0M136.1 579h0M158.9 577.8h0M139.1 578.3h0M137 588.2h0M146.9 594.6h0M152.3 580.7h0M139.2 594.3h0M151.7 573.9h0M139.4 586.8h0M139.9 574.8h0M139.3 578.4h0M137.8 597.1h0M133.7 578.1h0M141.6 582.6h0M135.7 596.9h0M157 589.9h0M146.2 581.6h0M146.4 594.5h0M149.9 588.8h0M146.9 593.9h0M151.7 589.1h0M156.4 577.5h0M133.2 587.5h0M153.7 579.2h0M147.3 590h0M138.1 575.7h0M149.4 582.6h0M140.2 590.3h0M149 593.7h0M143.8 597.6h0M140.9 582.3h0M140.8 575.2h0M152.6 575.7h0M150 587.6h0M141.5 572.5h0M134 577.6h0M153.8 580.5h0M146 595.2h0M134.1 578h0M156.2 595.1h0M144.4 592.6h0M159.6 588.8h0M146.3 589.1h0M158.2 591.7h0M142.7 598.7h0M144.4 576.5h0M160.3 586.7h0M158.2 585.5h0M131.4 589.9h0M139.2 574.9h0M142.7 584.9h0M149.7 593.6h0M153.9 587.1h0M153.2 596.9h0M149.3 597.4h0M130.7 587.4h0M134.9 583.1h0M145.2 595.7h0M145.5 584.2h0M151 590.1h0M140.5 600.3h0M150.8 589.3h0M135.6 579h0M132.7 589h0M152.8 589.2h0M131 592h0M139.9 591.1h0M140.7 583.4h0M139 588.2h0M149.1 582.4h0M153.4 595.5h0M136 590.7h0M148.2 597.7h0M142.2 588.9h0M139.8 596.2h0M159.7 586.6h0M156.8 583h0M137.4 591.2h0M151.5 578.5h0M138.9 575.6h0M154.5 575.7h0M138.7 589.4h0M135.9 585.6h0M145.5 579.1h0M139.7 588.1h0M137.4 590.2h0M136 586.1h0M146.3 589.4h0M148 582.7h0M156.8 579.4h0M157.3 587h0M138.8 593.5h0M136.1 582.1h0M154.1 590.5h0M149.5 579.8h0M141.4 599.5h0M155.6 575h0M152.9 597.6h0M151.1 584h0M147.5 597h0M143.9 573.3h0M156.9 584.1h0M143.1 598.4h0M157.7 586h0M140.1 590h0M115.6 589.7h0M120.4 579.1h0M120.7 580.4h0M119.3 577.5h0M113.9 584h0M115 578.2h0M114.4 586.6h0M119.5 574.3h0M121.9 582.8h0M114.3 585.3h0M125.4 578.1h0M123.3 574.4h0M124.6 574.9h0M120.3 574.5h0M122 579.4h0M122.2 579.8h0M121.7 583.8h0M117 576.5h0M118.2 588.7h0M121.1 583.2h0M115.7 587.9h0M116.6 574.3h0M121.4 579.4h0M118.6 573h0M123.9 581.7h0M121.5 588.2h0M120 571.6h0M123.9 574.1h0M121.7 586.6h0M121.1 571.7h0M112.3 581.1h0M112.5 578.9h0M122.9 576.1h0M122.8 585.2h0M119.2 583.8h0M124.1 584.9h0M119.9 574.3h0M114.5 578.2h0M119 584.5h0M114.5 581.8h0M121.6 588.3h0M123.3 573.4h0M115.9 588.5h0M115.5 585.7h0M118.6 585.6h0M118.2 580.1h0M123.6 586.9h0M118.2 587.7h0M122 585.4h0M119.8 579.5h0M119.3 574.2h0M121.8 577.6h0M123.1 581.9h0M121.6 584.5h0M122.9 576.5h0M125.6 578.5h0M119.2 587.4h0M122.2 581.3h0M121.6 585h0M114.9 577.6h0M121.7 587.1h0M114.5 582.5h0M118.8 587.1h0M120.1 584.5h0M122.4 582.1h0M113.7 580.6h0M125.2 582.2h0M119.3 584.3h0M110.7 581.8h0M114.5 588.2h0M149.9 564h0M149.4 566.9h0M140.8 564.9h0M149.7 560.1h0M148.2 565.4h0M145.2 557h0M143.3 565.5h0M145 562.6h0M144.1 556.7h0M141.5 563.4h0M143.9 558.6h0M143.5 564.5h0M145.4 561.8h0M143.8 560.1h0M148 558.9h0M145.8 562.4h0M149.9 563.7h0M141.6 565.7h0M150.6 562.5h0M148.1 556.6h0M142.5 557.9h0M144.2 559.6h0M140 559.9h0M142.1 561.4h0M142.4 560.8h0M144.2 559.9h0M151.1 564.2h0M142.4 566h0M149 557.8h0M145.9 566.5h0M146.5 558.3h0M146 561.9h0M147.4 563.1h0M144 564.6h0M144.8 561.6h0M148.2 562.5h0M143.8 561.6h0M146.7 561.1h0M142.4 557.4h0M146.8 556.1h0M163.3 577.6h0M165.1 577.8h0M164.6 577.4h0M164.7 576.3h0M167.8 575.1h0M166.5 571.1h0M168.4 572.9h0M163.7 576.5h0M166 575.4h0M164.5 572.8h0M162.8 572.5h0M158.7 571.3h0M160.8 574.7h0M162.4 577.5h0M158.5 573.1h0M160.1 574.5h0M164.8 573.1h0M169.1 574.5h0M161 573.6h0M161.1 574.7h0M162.9 569h0M161.5 577.2h0M167.8 571.1h0M159.8 570.1h0M159.9 577.1h0M164.5 573.9h0M166.2 570.2h0M159.2 568.5h0M160.2 570.4h0M168.8 574.4h0M161.7 569.6h0M161.6 573.4h0M167.7 570.4h0M161.2 575.9h0M165 577.7h0M163.3 572.2h0M159.4 574.5h0M165.9 569.9h0M159.9 577.4h0M166 576.8h0M157.4 570.3h0M162.6 569.5h0M161.6 568.8h0M162.4 574.6h0M161.1 568.8h0M160.4 577.8h0M164.6 571.8h0M166.4 573.5h0M162.8 576.4h0M168.5 573h0M159.7 571.6h0M167.6 572.6h0M164.1 567.3h0M158.4 572.7h0M160.5 571h0M163.7 601.8h0M160.3 596.4h0M160.6 595.3h0M162.9 601.4h0M162.1 600.6h0M163.1 602.9h0M159.8 599.3h0M164.8 599.8h0M162.4 597.8h0M162 601.5h0M160 599.8h0M162.9 597.3h0M161.7 601.9h0M161.9 601h0M161.2 601h0M165.9 602.1h0M167.6 596.2h0M160.9 598.6h0M164.7 594.1h0M163.1 598.6h0M164.5 602.3h0M163 594.5h0M167.3 595.9h0M163.2 601.1h0M163 596.6h0M165.8 595.7h0M164.2 593.7h0M162.8 594.5h0M164.3 602h0M164.5 601.2h0M166.4 593.9h0M167.9 601.5h0M164.9 598.1h0M159.9 600.4h0M165.2 593.7h0M159.9 599.7h0M163.1 602.9h0M165.4 595h0M162.7 594.6h0M168.2 595.7h0M162.1 601.5h0M169 599.1h0M165.7 602.2h0M159 601.1h0M162.1 594.4h0M166 600.4h0M165.8 596.1h0M164.3 594.6h0M167.4 595.5h0M160.1 594.2h0M164.6 599.4h0M164.2 596.1h0M166.9 595.4h0M162.9 602.3h0M162.7 596.5h0M166.6 600.8h0M159.1 597h0M164.7 594.3h0M163.3 602.4h0M165.2 599.2h0M133.9 573.2h0M140.2 575.2h0M126.8 573h0M128.2 572.2h0M135.1 576.1h0M134.1 579.5h0M138.2 573.8h0M132.9 574h0M134.2 573.1h0M128.8 573.7h0M133.9 577.2h0M137.8 574.4h0M129.9 573.1h0M135.8 576.1h0M136.7 577.3h0M133.5 577.6h0M129.1 574h0M135.2 574.8h0M130.2 577.3h0M134.2 571.1h0M128.6 575h0M128.9 572.7h0M125.5 572.9h0M127.4 573.8h0M130.3 578.5h0M137.2 579.5h0M136.8 577.3h0M131.1 578.4h0M132.5 573.9h0M127.3 574.2h0M130.4 572.2h0M127.2 574.9h0M128.2 576.8h0M136.7 575.8h0M139.1 573.4h0M129.8 576.6h0M128.5 577.4h0M130.8 573.3h0M127.3 577.4h0M129.2 576h0" stroke="#b4d441" stroke-width="2.4" stroke-linecap="round" fill="none"/><path d="M112.4 538.4h0M111.2 542.7h0M108.9 553.9h0M103.1 532.1h0M97.9 536.1h0M109.4 539.5h0M117.9 533.9h0M94.6 551.3h0M108.9 545h0M122 533.8h0M101.4 544.8h0M119 540.2h0M117.1 527.6h0M105.9 529.5h0M101.3 531.4h0M101.2 547.4h0M94.9 523h0M122.1 537.4h0M104.6 544.2h0M104.7 533.7h0M112.5 551.8h0M115.7 543.6h0M119.9 530.3h0M91.6 542.3h0M92.5 543h0M121.3 547.7h0M112.4 542.8h0M115.4 527.7h0M91.2 538.2h0M95.3 528.5h0M113.3 539.5h0M100.2 520.8h0M108 529.3h0M106.1 539.1h0M100.2 544.5h0M119.1 549.4h0M120.6 542.2h0M111.4 529.2h0M111.7 548.1h0M113.6 530.5h0M93.8 536.1h0M100.4 539.3h0M118.3 548.5h0M102.9 528.3h0M115.9 552.4h0M114.4 546.6h0M103 548.1h0M107.7 551.5h0M105.3 520.9h0M114.4 532.6h0M111.6 551.9h0M111.9 527.8h0M109.5 544.9h0M95.2 550.1h0M114.7 541.2h0M90.7 538h0M105.6 545.8h0M103.3 549.4h0M107.2 538h0M101.1 554.9h0M96.9 532.8h0M94.7 528.9h0M96.3 535.3h0M111.5 548.2h0M90.9 533.8h0M112.8 531.3h0M96.3 546.6h0M93.4 546.1h0M107.9 555h0M102.6 528.6h0M123.9 536.3h0M88.6 538.9h0M109.5 540.8h0M95.6 544.9h0M99.8 540.7h0M95.2 542.4h0M90.4 540.2h0M105.6 529.1h0M109.7 542.5h0M91.8 531.3h0M102.9 545.9h0M99.7 522.4h0M120.8 541.2h0M113.4 524.4h0M121 529.7h0M92.7 533h0M101.5 539.6h0M111 534h0M101.4 542.9h0M96.6 543.3h0M105.4 548.8h0M110.1 545h0M105.9 555.2h0M120.9 548.6h0M105.5 552.5h0M120.5 546.6h0M95.8 535.1h0M102.1 538.5h0M98.4 532h0M107.9 532.7h0M102.9 523.9h0M95.6 534.4h0M107.9 530.5h0M96.4 531.3h0M117.9 524.8h0M101.6 533.6h0M117.4 536.1h0M111.5 533.5h0M100 540h0M114.8 530.8h0M93.5 548.7h0M93.3 538h0M109.6 544h0M103.1 524.4h0M97.3 532.1h0M120.7 544.2h0M100.6 531h0M113.4 523h0M102.3 544.3h0M105.7 541.8h0M101.8 553.8h0M99.6 537.4h0M112.4 539.2h0M118.4 525.3h0M115.3 532.3h0M91.2 526.2h0M99.9 546.2h0M110.9 544.3h0M121.6 539.2h0M115.5 548.8h0M103.2 533.1h0M97.1 538.6h0M113.3 547.5h0M97.7 526.5h0M121.9 533.9h0M98.4 546.1h0M89.3 530.5h0M98.5 551.4h0M119.9 534.1h0M93.7 530.3h0M108.8 528.1h0M115.3 539.4h0M99.8 521.5h0M116.2 536.5h0M100.6 539.9h0M100.3 523.5h0M116.6 547.4h0M123.4 541.5h0M101.5 523.6h0M96.1 545.6h0M94.8 533.7h0M100.2 524.9h0M113.1 535.4h0M96.9 530.5h0M111.6 534h0M100.8 527.3h0M103 548.6h0M107.8 526.2h0M109.5 535.5h0M116.8 546.4h0M111.4 540.5h0M111.9 529.5h0M119.6 549.5h0M112.3 539.6h0M93.3 543.8h0M108.9 549h0M104.2 531.6h0M112.9 525.3h0M115.1 523.8h0M107.7 541.8h0M117.3 532.5h0M103.3 529.1h0M102.6 535.5h0M111.4 523.7h0M98.4 531.8h0M117.9 541.4h0M120.7 529.7h0M106.7 529.7h0M97.9 548.9h0M126.5 540.2h0M101.7 529h0M104.7 529.2h0M104.9 542.5h0M101.1 550.2h0M106.8 544.7h0M111 528h0M103.4 521.5h0M97.4 549.7h0M99 550.6h0M91.8 544.2h0M96.3 527.4h0M94.7 542.5h0M120.8 544.4h0M92.8 552h0M105 527.5h0M118.8 544.6h0M103 547.9h0M96.2 529.3h0M110.2 533h0M107.7 542.3h0M108.4 541.6h0M98.6 538.7h0M115 551.9h0M116.7 532.3h0M119.8 536.8h0M124 539.7h0M99.5 551.4h0M92.8 537.1h0M100.1 529.8h0M122.1 539.9h0M98.2 527.8h0M90.8 532h0M93.6 533.8h0M121 544.9h0M102.2 526.1h0M105.6 526.3h0M112.4 541.9h0M109.1 526.3h0M120.8 542h0M103.2 549h0M101.2 544h0M90.2 540.7h0M107.7 522.9h0M105.1 551.6h0M117.6 530.1h0M87.7 538.4h0M107.4 552.5h0M103.7 552.1h0M106.4 554.9h0M115.3 540.7h0M113.6 540.8h0M108.4 534.2h0M106.8 532.4h0M96.4 550.7h0M109.5 535.6h0M113 549.5h0M106.3 546.8h0M117.1 551.9h0M108.1 524.5h0M96.5 528.5h0M123.8 539h0M95.1 525.2h0M98.8 548.7h0M121.3 527.8h0M96.5 551.6h0M112.9 530.9h0M125 534.2h0M101.2 525.1h0M103.7 536.2h0M97.6 527h0M120.2 535.1h0M110.8 545.8h0M116.9 536.7h0M108.1 534.5h0M95.7 544.6h0M93.2 525.9h0M112 543.3h0M106.6 551.3h0M104.3 541.6h0M116.6 531.5h0M114.3 529.7h0M95.5 550.9h0M90.9 528.5h0M100.1 552.9h0M120.8 529.8h0M115.2 536.7h0M113.3 526.6h0M107.8 547.2h0M96.9 546.5h0M98.9 536.2h0M114.8 545h0M114.3 539.2h0M96.1 526.2h0M105.4 526.9h0M95.6 531.1h0M109.7 537.4h0M89.2 532.4h0M110.3 522.8h0M96.6 544.3h0M114.6 554.5h0M125.6 536.9h0M121.4 532.5h0M97.6 542.8h0M95.9 533h0M107.5 537.9h0M124 537.8h0M103.8 525.1h0M107.7 554.6h0M99.1 534.2h0M98.1 550.3h0M103.9 538.7h0M125.6 536.9h0M93.4 526.5h0M112.5 545.3h0M104.3 551h0M101.8 548h0M120 533.9h0M93.6 533.7h0M103.8 522.1h0M119.9 547.6h0M92.6 538.5h0M109.2 537.6h0M119.7 537.1h0M102.1 523.3h0M90.5 547.8h0M111.2 544.2h0M101.3 547h0M93.2 544.2h0M98.4 541.7h0M122.9 528.4h0M117.5 539.4h0M105.6 523.1h0M121.5 542.1h0M109.8 544.6h0M115 527.4h0M106.9 542h0M122.2 533.2h0M118.9 538.9h0M117.8 545.5h0M114.3 549.7h0M99.8 542.2h0M102.9 549.2h0M94.8 547.3h0M110.7 548.8h0M117.3 551.5h0M119.4 532.2h0M105 540.8h0M122.1 545.5h0M115.4 551h0M113 554.1h0M120.6 539.4h0M120.6 539.2h0M103.8 545.6h0M92.1 532.2h0M116.7 531.3h0M116 553.3h0M120.1 536.6h0M102.8 526.2h0M101.9 525.7h0M101.8 546.4h0M104.5 532.4h0M116.5 533.3h0M106.9 530.9h0M111.3 529.5h0M91.7 545.8h0M100.7 521.5h0M124.6 537.7h0M112.6 546.3h0M111.3 528.7h0M113.1 529.8h0M116.1 523.9h0M94.5 535.5h0M103.5 552.8h0M117.3 534.9h0M116.8 550.4h0M105.4 538.1h0M126.1 539.7h0M102.8 528.4h0M101.9 551.8h0M110.4 540.9h0M103.2 525.7h0M122.2 532h0M105.3 524.1h0M89 544.1h0M109.8 538.4h0M101.2 550.5h0M107.4 521.6h0M97.7 532.7h0M106 544.8h0M122.8 537.9h0M111.6 536.6h0M119.2 536.3h0M102.4 548.4h0M111.1 543.2h0M121.9 535.6h0M97.1 536h0M91.7 541.3h0M105.7 551.1h0M93 537.3h0M90.8 544h0M112 537.2h0M94.8 544.9h0M105.9 526h0M110 544.2h0M102.5 538.2h0M120.4 525.1h0M101.6 535.4h0M110.1 552.4h0M112.9 552.7h0M107.3 529.3h0M93.1 545.7h0M104.4 541.9h0M117.4 535.3h0M101.9 533.3h0M111.2 550.8h0M106.3 542.7h0M100.9 548h0M95.1 541h0M102.6 523.9h0M99.9 543.2h0M95.6 548.5h0M106.2 528h0M102.6 520.9h0M123 539.6h0M119.8 541.8h0M116.4 527h0M101.2 533.1h0M110.2 529.8h0M91.7 529.5h0M107.1 551.6h0M99.3 551.5h0M95.1 545.8h0M106.8 523.9h0M102.5 539.3h0M109.5 550.8h0M105.7 550.9h0M122.7 536.6h0M111.4 526.3h0M96.2 535.1h0M103.7 536.8h0M105.2 529.9h0M115.5 523.2h0M100.9 540.9h0M98.2 541h0M90.9 545.1h0M93.5 529.1h0M120.1 536.4h0M102.4 551.3h0M112.2 533.3h0M117.6 544.4h0M101.1 553.7h0M104.2 532.2h0M94.1 539.5h0M121.1 553.9h0M112.9 536h0M109.6 536.9h0M116.9 526.2h0M105.5 538.9h0M118.6 550.8h0M110.9 544.2h0M94.7 534.2h0M120.2 528.7h0M108.3 521.2h0M87.5 547.5h0M101.2 546.8h0M109.6 535.4h0M106.3 543.1h0M121.7 526.4h0M92.6 521.8h0M102.9 537.3h0M123.9 526.5h0M120.2 547.8h0M106 539h0M89.9 534h0M106.4 538.8h0M90.3 527.6h0M121.5 526.8h0M117 529.3h0M100.6 535h0M91.9 535.9h0M106.2 545.6h0M98.3 533.4h0M101.8 550h0M117.2 537.4h0M109 529.6h0M104.1 525.3h0M110.3 538.3h0M113.5 524.4h0M108.3 551.4h0M97.5 533.5h0M104.4 550.3h0M122.9 527.6h0M122.2 555.3h0M105.9 542.9h0M111.1 547h0M113.9 540.9h0M99.6 535.9h0M116.2 558.1h0M104.5 538.1h0M98.1 531.3h0M113.9 546.9h0M100.4 543.1h0M103.8 541.8h0M121.1 531.7h0M104.9 540.6h0M98.1 527h0M99.7 533.9h0M99.5 551.1h0M109.5 535.9h0M115.7 527.6h0" stroke="#eda62e" stroke-width="2.4" stroke-linecap="round" fill="none"/><path d="M85.1 631.9h0M80.8 627.9h0M79 622.6h0M79.8 626.1h0M79.3 624.3h0M72.3 633h0M91.3 627.5h0M81.9 623.7h0M87.8 625.5h0M73.3 628.3h0M87.5 621.1h0M73.3 632.2h0M75.3 631h0M84.2 625h0M78.3 628.7h0M87.5 629.7h0M81.8 631h0M82.5 635.3h0M85.8 622.7h0M86 629.4h0M78.9 623.2h0M81.4 634.6h0M79.9 624.3h0M72.6 625.6h0M83.9 628.4h0M84.9 633.7h0M78.6 634.1h0M84.2 622.8h0M83.5 622.9h0M82.1 623.3h0M72.1 629.8h0M81.8 623.7h0M80.3 631.2h0M90.6 624.2h0M80.8 636.4h0M85.6 623.3h0M86.1 623.2h0M86.7 633.6h0M79 619.5h0M83.1 628.3h0M83.5 631.7h0M84.7 634.3h0M73.3 630.3h0M73.9 631.2h0M79.8 624.8h0M86.1 633.1h0M77.2 634.6h0M84.3 622.2h0M81.2 622h0M89.2 625.6h0M79.8 626.8h0M82 630.4h0M81.2 629.8h0M73.8 626.7h0M86.3 629.9h0M89.2 626.4h0M88.4 623.2h0M82.2 635.1h0M72.5 629h0M76.7 620.8h0M91.1 626.1h0M74.5 625.9h0M73 620.9h0M76.4 631.7h0M72.8 626.7h0M87.6 625.2h0M77.7 625.1h0M74.6 626.8h0M90.1 622.1h0M83.4 631.3h0M85.8 629h0M86.5 624.2h0M81.1 623.6h0M80.1 632.8h0M79.5 624.4h0M81.3 626.1h0M75.3 625.7h0M75 624.7h0M80.6 628.2h0M83.6 630.1h0M83.4 629.2h0M86.9 622h0M83.9 634.8h0M85 635.1h0M91.2 629.3h0M77.1 634.9h0M84.4 633.1h0M77.1 636.7h0M84.6 634h0M79.9 631.1h0M85.4 623.8h0M80 630.9h0M78.2 620.8h0M88.4 627.9h0M78.3 621h0M78.5 631.8h0M88.5 628.6h0M80.1 628.2h0M72.3 633h0M79 632h0M84.1 623h0M84.8 631.1h0M74.5 627.4h0M85.7 632h0M90.8 628.4h0M81 625.3h0M79 632h0M74.2 629.2h0M85.6 635.5h0M76.9 623.3h0M80.3 633h0M90 624.9h0M87.8 621.3h0M89 628.2h0M84.8 627.2h0M87.4 624.6h0M76.6 622.7h0M71.8 632.1h0M76.2 629h0M81 634.3h0M83.4 623.1h0M78.7 621.2h0M76.5 627.1h0M83.8 626.6h0M74.5 633h0M83.8 625.8h0M87.5 626.9h0M72 632.3h0M75.9 627.2h0M71 628.2h0M83.1 625.5h0M78.3 621.6h0M78.9 632.5h0M85.1 621h0M80.7 624h0M84.9 632.7h0M73.7 628.2h0M73.9 623.9h0M76 626.3h0M78.3 620.5h0M89.5 630.2h0M72.4 632.1h0M72.1 628.5h0M85.5 636.5h0M87.9 626.7h0M86 635.6h0M91 625.3h0M71.7 632.6h0M83.7 628.5h0M87.8 624.8h0M95.8 619.7h0M95.8 620.9h0M94.3 620h0M91.6 618.9h0M90 619.5h0M95.7 622.9h0" stroke="#7a4db3" stroke-width="2.4" stroke-linecap="round" fill="none"/><path d="M127.1 622.1h0M124.9 624.1h0M118.3 622.6h0M124.1 613.7h0M118.2 619.7h0M125.5 615.9h0M121.6 628.2h0M123.4 618.9h0M121.7 622.5h0M119.1 622.2h0M121.2 618.1h0M119.6 617.4h0M124 614.9h0M125.5 621.4h0M123.4 625.2h0M119.9 625.4h0M121.7 615.1h0M116.6 621.9h0M117.8 619.9h0M123.7 623h0M124.1 624.5h0M123.3 622.1h0M121.3 623.4h0M126.8 620.5h0M117.8 617.8h0M124.1 620.3h0M126.6 617.3h0M125.6 620.5h0M120.8 616.6h0M124.5 622.4h0M127.9 616.1h0M124.1 622.8h0M118.5 617h0M120.4 623.3h0M118.7 626.5h0M120 624.4h0M120.1 613.2h0M123.2 623h0M121.5 615.9h0M124.8 624.1h0M121 623.7h0M116.1 621.3h0M121.3 617.2h0M120.8 616.4h0M125.8 625.8h0M125.6 624.3h0M124.4 627h0M120.6 621.5h0M117.1 622.5h0M123.3 624.1h0M121.7 612.7h0M118.7 623.7h0M119.2 617.7h0M125.1 625.5h0M122.1 620.7h0M117.6 623.4h0M117.2 616.7h0M122.9 624.7h0M119.7 618.3h0M121.8 613h0M117.3 621.2h0M116.9 625.4h0M120.8 626.2h0M116.4 622.4h0M123.9 624.6h0M120.9 620.3h0M118.6 617.6h0M127.8 621.3h0M117.3 617.5h0M123.9 623.8h0M125.3 612.8h0M123.6 619h0M125.3 618.2h0M125.2 623.7h0M118.9 626.5h0M116.3 616.5h0M120.2 616.8h0M124.8 625.3h0M124.9 616h0M120.5 627.2h0M122.5 627.1h0M123.2 612.8h0M123 612h0M118.7 615.8h0M126.4 621.2h0M124.1 625.1h0M126.2 626.2h0M119.9 621.1h0M122.6 616.9h0M123.6 622.6h0M125.3 613.6h0M125.7 612.6h0M130.7 614.7h0M127 615.6h0M127.2 613.4h0M127.7 615.9h0M128.6 611.3h0M128.9 611.1h0M128.2 613.6h0M130.1 611.9h0M127.7 614.1h0M127.5 614.1h0M118.3 630.1h0M118.7 627.5h0M115.8 628.8h0M115.3 629.4h0M120.4 629.1h0M115.5 629.3h0M119.5 626.7h0M119.3 625.7h0M116.1 629.3h0M118 628.7h0" stroke="#ebe335" stroke-width="2.4" stroke-linecap="round" fill="none"/><path d="M40.9 579.1h0M33.9 573h0M40.2 571.2h0M47.7 574h0M34 569.6h0M44.4 575.8h0M36.4 568.6h0M38.7 578.5h0M34.5 572.9h0M43.2 572.6h0M37.5 569.6h0M43 572.3h0M39.5 575.3h0M40 576.9h0M39 571.3h0M41 575.5h0M43 576.7h0M45.1 573.2h0M42 569.7h0M33.5 569.1h0M37.3 574.6h0M34.2 574.1h0M40.6 576.3h0M47.4 571.2h0M41.9 579.4h0M42.6 578.4h0M46.9 573.8h0M34.4 573.2h0M42 569.3h0M46.7 572.1h0M44.2 570.5h0M39.6 575h0M41.1 570.6h0M41.3 578.7h0M33.3 573.5h0M38.2 574h0M41.2 571h0M37.7 577.1h0M46.2 570.4h0M34.4 571.1h0M41.4 571h0M36.7 568.7h0M37.1 570.6h0M44.7 571.3h0M36.3 574.6h0M38.6 567.8h0M38.4 570.4h0M35.8 567.9h0M37.1 575.1h0M34.2 575h0M40.7 567.2h0M38.4 571.9h0M45.6 571.5h0M36.7 567.7h0M38.9 575.8h0M45.5 576.9h0M39.8 568.6h0M39 578.5h0M37.5 577.1h0M40.2 572.8h0M36 568.8h0M34.4 570.7h0M45 574.5h0M47 577.4h0M44.7 568.8h0M47.7 572.4h0M38.2 571.5h0M43.7 575.4h0M36.5 574.6h0M41.9 567.7h0M42.4 570.7h0M39.3 571.4h0M38 569.3h0M46 577.5h0M41 567.1h0M35.9 577.2h0M38.5 572.1h0M36.9 569.6h0M33.8 570.7h0M43.3 573.4h0M38.2 575.2h0M34.7 570.8h0M37.4 572.7h0M44.6 574.8h0M36.6 568.7h0M46.6 575.5h0M39.6 571.8h0M37 573.4h0M34.2 570.7h0M35 576.6h0M37.4 568h0M38.1 571.1h0M45.2 575.9h0M43 576.3h0M38.7 578.8h0M47.8 580.3h0M54.2 587h0" stroke="#d8232a" stroke-width="2.4" stroke-linecap="round" fill="none"/><path d="M153.4 536.9h0M152.4 534.4h0M156.2 536h0M153.2 535.8h0M155 536h0M154.9 537.4h0M154.3 536h0M154.9 534.5h0M154.2 535.1h0M153.4 536.2h0M156.1 534.8h0M153.7 535.5h0M153.9 535h0M156 536.1h0M151.9 537.6h0M152.2 536.3h0M155.4 535.8h0M154.4 534.2h0M154.9 534.1h0M155 538.5h0M156.1 535.8h0M156.4 536.5h0M154.2 538.1h0M155.5 539h0M152.8 537.2h0M152.3 536h0M155.6 536.1h0M155.3 537.5h0M154 534.2h0M155.7 538.2h0" stroke="#2a9d98" stroke-width="2.4" stroke-linecap="round" fill="none"/><path d="M94 607h0M70.5 604.5h0M83 601h0" stroke="#d8232a" stroke-width="1.6" stroke-linecap="round" fill="none"/><text x="90.5" y="594.6" font-size="7" fill="#1a1a1a" text-anchor="middle" stroke="#1a1a1a" stroke-width="0.18">0</text><text x="146" y="585.2" font-size="7" fill="#1a1a1a" text-anchor="middle" stroke="#1a1a1a" stroke-width="0.18">1</text><text x="106.2" y="539.6" font-size="7" fill="#1a1a1a" text-anchor="middle" stroke="#1a1a1a" stroke-width="0.18">2</text><text x="81" y="631.2" font-size="7" fill="#1a1a1a" text-anchor="middle" stroke="#1a1a1a" stroke-width="0.18">3</text><text x="122" y="623.2" font-size="7" fill="#1a1a1a" text-anchor="middle" stroke="#1a1a1a" stroke-width="0.18">4</text><text x="40.2" y="575.6" font-size="7" fill="#1a1a1a" text-anchor="middle" stroke="#1a1a1a" stroke-width="0.18">5</text><text x="154" y="539" font-size="7" fill="#1a1a1a" text-anchor="middle" stroke="#1a1a1a" stroke-width="0.18">6</text><text x="72.5" y="515" font-size="6.6" fill="#eda83a" font-weight="bold" letter-spacing="0.25">C2_CCR7</text><text x="136" y="525" font-size="6.6" fill="#3fb7ae" font-weight="bold" letter-spacing="0.25">C6_LAG3</text><text x="142.5" y="555.6" font-size="6.6" fill="#b4d030" font-weight="bold" letter-spacing="0.25" stroke="#3a3a14" stroke-width="0.7" paint-order="stroke">C1_GZMK</text><text x="30.8" y="556.8" font-size="6.6" fill="#d42228" font-weight="bold" letter-spacing="0.25">C5_GZMA</text><text x="31.7" y="608.8" font-size="6.6" fill="#78aadc" font-weight="bold" letter-spacing="0.25">C0_CXCR3</text><text x="61" y="650.6" font-size="6.6" fill="#8a5cba" font-weight="bold" letter-spacing="0.25">C3_CD161</text><text x="117" y="643" font-size="6.6" fill="#d8d030" font-weight="bold" letter-spacing="0.25" stroke="#3a3a14" stroke-width="0.7" paint-order="stroke">C4_HMGN2</text><line x1="24" y1="645.2" x2="39" y2="645.2" stroke="#222" stroke-width="0.6"/><line x1="24" y1="645.2" x2="24" y2="630.7" stroke="#222" stroke-width="0.6"/><path d="M40.5 645.2l-2.1 -1l0 2.1z" fill="#222"/><path d="M24 629.2l-1 2.1l2.1 0z" fill="#222"/><text x="24.6" y="652.1" font-size="4.6" fill="#333" font-weight="bold">tSNE 1</text><text x="22.2" y="645" font-size="4.6" fill="#333" font-weight="bold" transform="rotate(-90 22.2 645)">tSNE 2</text><text x="5.8" y="515" font-size="11.5" fill="#000" font-weight="bold">F</text></g>
<g id="panelG"><path d="M255.8 518.3h0M251.8 511.9h0M254.1 513.9h0M260.3 509.8h0M262.2 510.9h0M258.5 512.2h0M254.8 509.6h0M267.3 517.1h0M261.2 512.4h0M263.4 519.5h0M264.5 520.4h0M262.7 516.7h0M253.9 510.9h0M262.2 511.3h0M262.9 520.2h0M253.3 515.7h0M261.8 515.8h0M252.2 518.7h0M251.6 513.7h0M260.4 517h0M267.6 517.5h0M264 519.2h0M264.3 520.5h0M255.3 512.6h0M264 509.1h0M258.3 508.4h0M253.9 518.5h0M260.8 521.8h0M257.8 522.3h0M252.2 521.5h0M259.1 508.6h0M262.8 516.2h0M258 513.7h0M262.1 519.7h0M260.2 523.3h0M252.1 510.8h0M252.4 513.4h0M259.7 514.3h0M252.5 511.6h0M257.1 513h0M257.9 507.9h0M254.7 512.7h0M255.5 508.1h0M263.5 521.3h0M255.2 513.3h0M261.2 509.1h0M255.3 513.1h0M261.7 520.9h0M266.7 512.7h0M266.3 517.9h0M265.6 516.5h0M261.6 522h0M263.1 522.5h0M260.4 522.5h0M255.6 510.7h0M266.8 516.7h0M259.9 508.6h0M256.6 517.5h0M256.9 510.4h0M252.3 512.6h0M251.3 516.2h0M261.4 509.3h0M263.5 518.7h0M267.1 518.8h0M259.2 510.6h0M259.7 513.4h0M261.6 512.9h0M260.5 517.6h0M262.8 513.1h0M261.4 512h0M263.6 511.5h0M266 510.6h0M263.5 509.9h0M256.9 518.4h0M251.6 514.2h0M255 515.9h0M258.2 521.5h0M262.8 513.1h0M255.8 515.1h0M256.8 511.9h0M258.7 518.3h0M263.8 509.1h0M251.4 513.4h0M266.1 516h0M250.6 520.2h0M252.1 517.6h0M257.6 520.2h0M261.9 520.5h0M267.3 513.7h0M253 510.1h0M257 516h0M265.7 510.6h0M261.9 509.1h0M268 514h0M253.7 513.2h0M254.6 517.4h0M257.2 513.9h0M266.8 511.7h0M255 518.9h0M252.4 522h0M253.5 514.9h0M257.1 511.2h0M258.4 520.5h0M256.7 515.6h0M260.3 513.5h0M260.6 511.4h0M262.1 514.7h0M262.4 515.2h0M256.6 515.6h0M251.1 512.8h0M265.5 519.3h0M253.3 521.6h0M266.5 513.2h0M261.2 520.2h0M259.6 517.7h0M253.8 515.2h0M255.8 519.9h0M259.4 512.2h0M257.6 521.1h0M264.8 509.1h0M259.6 519.4h0M262.6 518.3h0M254.7 522.6h0M252 514.9h0M256 510.2h0M264.6 512.8h0M263.7 518.5h0M256.5 517.1h0M255.1 516.9h0M252 519.8h0M257.2 508.3h0M256.2 523.1h0M261.9 521.5h0M255.5 521.9h0M257.6 516.5h0M253.5 516.5h0M265.1 513.2h0M259.6 511.5h0M251.3 516.3h0M265.9 517.6h0M261.2 509.4h0M255.3 519.5h0M256.9 518.8h0M265.2 518.2h0M264 516.2h0M257.4 509.9h0M266.2 515.8h0M264.4 515.2h0M253.7 519.4h0M264.2 520.7h0M253.4 511h0M268 512.4h0M259.4 512.3h0M260.5 515.3h0M265.5 516.1h0M263.4 513.6h0M262.6 512h0M264.2 513.6h0M259.6 520.9h0M252.5 516.5h0M265.1 515.4h0M267.7 516.6h0M255.8 511.9h0M264.8 509.9h0M252.9 517.5h0M264.7 513.9h0M263.2 517.1h0M257.3 512.2h0M257.8 520.5h0M259.8 514.4h0M263.5 514.6h0M254.3 510.3h0M259.1 506.7h0M256.9 516.7h0M265.4 512h0M251 513.2h0M259 516.2h0M258.4 515.1h0M258.6 523.4h0M258.7 511.6h0M258.4 511.4h0M266.2 515.3h0M261 507.1h0M262.6 510h0M259.9 507.7h0M260.7 522h0M252.1 514.8h0M255.9 513.3h0M257.6 523.1h0M258.3 509.3h0M255.5 511.7h0M265.3 515.6h0M254.4 518.6h0M264.8 519.6h0M266.6 519.3h0M256 510.9h0M264.4 519.5h0M261.9 518.7h0M263.7 512.3h0M260.7 517.6h0M257.1 509.7h0M259.1 520h0M253.8 521h0M255.1 509.9h0M259.1 515.4h0M262.2 513.2h0M252.6 516.9h0M262 513.1h0M261.9 510.9h0M256.2 509.9h0M255.4 517.3h0M263.2 515.8h0M255.1 520.6h0M263.8 511.3h0M263.6 512h0M257.2 518h0M260.3 512.1h0M263.4 519.9h0M258.3 513.1h0M256.5 519.5h0M255.3 517.7h0M262.4 514.9h0M265.3 516.3h0M258.7 516.8h0M257.2 519.9h0M257.2 523.4h0M260.4 520.1h0M253.8 510.1h0M262.2 514.2h0M262.1 508.2h0M260.5 521h0M260.6 508.5h0M257.1 522.8h0M258.5 508.4h0M252.1 515.9h0M263.9 519.9h0M263.2 512.9h0M258 521.9h0M257.5 507.7h0M253.2 515h0M255.4 516.9h0M253.4 511.1h0M265.1 520.9h0M252 511.6h0M262.2 521.6h0M252.2 512.9h0M265 519.6h0M263.6 514.1h0M253.4 520.8h0M253.4 516.2h0M266.8 511.7h0M260.4 520.2h0M253.5 517.5h0M258.4 520.2h0M265.1 517.9h0M265.6 519.2h0M260.2 522.9h0M265.8 516.3h0M252.8 517.7h0M260.9 509.4h0M263.8 514.3h0M267.3 514.9h0M257.1 522h0M259 510.1h0M264.5 510.9h0M254.6 518.3h0M261.2 522.2h0M263.6 519.2h0M258.1 517h0M262.3 516.2h0M265.1 513.5h0M258 520h0M262.8 514.2h0M261.2 510.1h0M266.8 513.6h0M258.1 518.4h0M259.9 521.2h0M266.5 513.4h0M266 512.7h0M258 512.5h0M257.8 513.7h0M252 517.2h0M257.9 512.2h0M256 518h0M260.4 522.2h0M256.4 509.1h0M262.7 522.3h0M253.1 516.7h0M253.8 520.1h0M251.1 512.9h0M260.6 514.1h0M252.1 514.6h0M256.4 516.5h0M267.1 512.9h0M257.1 512.4h0M254.4 520.8h0M258.9 514.2h0M257.5 520.1h0M260.8 521.1h0M262.2 511.2h0M253.6 518.1h0M266.7 517.6h0M261.6 517.3h0M266.2 518.8h0M257.8 519.2h0M263.8 515.4h0M255.4 513h0M254.7 510.3h0M257.6 519.4h0M258.4 521.7h0M259.6 513.6h0M267.7 519.2h0M252.4 518.2h0M251.2 517h0M256.2 513.7h0M256.5 514.1h0M262 519.4h0M259.9 519.4h0M259.1 509.2h0M255.6 512.1h0M254.9 516.2h0M254.7 516.5h0M259.1 521h0M252.4 510.5h0M260.4 513.9h0M263.1 518.8h0M262.7 512h0M250.8 512.2h0M267 510.6h0M252.2 516h0M267.2 513.8h0M256 516.2h0M263.2 511.8h0M258.5 517.4h0M256.8 522.6h0M262.6 510.8h0M265.2 517.1h0M252.6 514.2h0M255.3 520.6h0M264 519.8h0M261.4 523h0M255.3 516.7h0M253.6 514.8h0M267.1 512.8h0M254.4 512.4h0M255.8 508h0M265.5 512.3h0M262.6 521.4h0M255 520h0M264.5 515.7h0M264.7 518.6h0M260.2 516.8h0M258.3 516.8h0M262.1 512.5h0M263.6 521.3h0M254.8 519.9h0M265 513.3h0M261.1 519.7h0M258.3 517.7h0M250 517.2h0M253 515.7h0M254.4 511.2h0M256 513h0M254.4 518.4h0M252.8 521.4h0M264.8 511.3h0M256.7 518h0M262 509.6h0M258.1 508.5h0M251.3 514.5h0M256.7 520.4h0M261.1 513.7h0M258.1 513.1h0M251.5 517.5h0M257.1 519.8h0M254.4 508.8h0M255.7 518.7h0M266.6 514.1h0M253.1 523h0M255.8 516.7h0M261.1 515.8h0M256.5 523.6h0M253.8 524.5h0M250.9 523h0M251.9 517.7h0M260.6 516.1h0M254.5 509.5h0M255.6 517.8h0M265.5 519.6h0M249 515.8h0M263.8 515.6h0M263 510.3h0M260.4 522.5h0M259 514.1h0M258.4 514.4h0M265.7 509.6h0M261.1 518.8h0M257.4 516.5h0M258.6 516.9h0M257.1 517.6h0M252.9 514h0M258.8 521.8h0M261.4 522h0M262.9 519.3h0M257.5 513.4h0M250 513.5h0M252.9 522.4h0M256.4 517.5h0M258.5 521.8h0M250.9 518.7h0M255.7 510.7h0M260.3 520.5h0M250.5 521.9h0M253.3 511.8h0M253.6 516h0M256.5 520.8h0M266.2 510.1h0M258.6 516h0M258.5 515.7h0M257.5 523.4h0M259.5 513.2h0M253 512.6h0M265.8 513.8h0M256.4 512.2h0M257.2 516.2h0M257.7 517h0M266.8 517.3h0M249.7 518.2h0M256.3 514h0M251.7 515.4h0M257.9 512.7h0M280.8 514.3h0M281.2 515.3h0M281.5 515.2h0M282.3 514.2h0M282 514.4h0M280.1 515h0M280.3 514.6h0M282.5 513.9h0M282.7 514.7h0M281.8 516.1h0M281.7 515.5h0M282.2 513.9h0M281.8 516.2h0M282.2 514.8h0M281.7 515.5h0M280.7 515.8h0M282.6 515.1h0M282.6 514.5h0M280.3 514h0M281.8 513.7h0M281.8 515.7h0M282.9 515h0M281.8 514.8h0M281.4 513.5h0M281.6 513.8h0M282.7 515h0M281.3 514.6h0M225.9 532.2h0M228.8 533.9h0M228.1 531.5h0M228.5 532.8h0M229.5 532.9h0M226 529.7h0M225.2 531.6h0M225.2 530.5h0M228.6 532.2h0M226.7 532.9h0M227.2 532.2h0M226 532.7h0M229.8 533.4h0M229.6 531.1h0M229.4 532.8h0M230.6 532.4h0M228.6 530.9h0M228.2 529.2h0M226.4 531.2h0M228.7 529.8h0M225.1 532h0M226.2 531.5h0M225.4 529.9h0M225.4 532.3h0M229.2 534h0M225 531.6h0M226.4 531.5h0M228.9 533.3h0M228.1 534.8h0M229.9 534.2h0M225.1 532.8h0M229.5 532.9h0M225.5 529.7h0M224.2 531.3h0M226.9 531.8h0M230.7 531.9h0M225.6 534h0M231.4 531.5h0M225 532.7h0M225.3 531.5h0M225.1 529.7h0M228.3 529.6h0M226.7 530.2h0M225.2 530.3h0M227.6 530.1h0M230.3 534.3h0M227 530.6h0M229.3 533.3h0M229.3 531.6h0M228.1 528.9h0M227.8 529.5h0M227.1 530.9h0M229.3 530.3h0M227.6 534.9h0M226.5 530.5h0M226.1 530.2h0M225.7 532.2h0M226 529.7h0M229.4 533.5h0M227.7 530.8h0M224.1 530.9h0M230 532h0M226.9 532.7h0M227.9 530.8h0M227.6 530.3h0M228.2 534.7h0M227.6 531.9h0M229.6 532.8h0M224.4 530.8h0M226.8 529.8h0M226.1 531.7h0M226.5 534.5h0M229.6 532.2h0M227.2 530.9h0M228.6 531.7h0M229.3 530.3h0M226.4 529.3h0M223.9 532.7h0M226.7 531.7h0M228.2 534.6h0M229.8 534h0M225 532.3h0M224.8 530.5h0M226.5 529.7h0M227 530h0M230.7 535.4h0M234.1 538.6h0M256 540.2h0M251.2 547h0M256.1 544.5h0M246.2 545.8h0M247.9 537h0M254.3 534.5h0M244.2 543.8h0M244.1 535.2h0M257.5 535.7h0M254.1 546.9h0M254.7 534.6h0M251.6 538.6h0M248 542.9h0M248.4 536.5h0M248.1 537.2h0M252.7 541.7h0M249.2 533.3h0M244.2 543.7h0M247.5 544.4h0M254.2 536.1h0M252 534.7h0M249.3 533.6h0M252.6 541.2h0M249.7 546.6h0M253.9 542h0M246.8 533.5h0M252.2 537.4h0M246.6 539.6h0M244.3 535.5h0M248 539.9h0M255.4 541.9h0M248.1 536.8h0M245.7 534.9h0M250.8 546h0M245.2 541h0M247.1 539.7h0M254.6 549.8h0M258.2 541.2h0M250.2 537.4h0M243 538.6h0M251 534.8h0M243.5 538.4h0M253.3 534.1h0M255.2 534.7h0M243.7 535.9h0M248 548.7h0M250.5 534.6h0M252.4 546.4h0M247.8 537.7h0M250.9 545.2h0M255.2 540.4h0M246.9 540.5h0M247.3 547.3h0M249.1 537.2h0M247.2 533.1h0M244.9 544.2h0M249.5 551.1h0M251.2 532.1h0M245.7 535.8h0M250 539.8h0M250.5 534.6h0M249.4 546.9h0M246.3 535.5h0M249.5 532.4h0M257.7 538.9h0M246.2 538.3h0M253.3 543h0M261.2 541h0M254.8 537h0M260.7 539.1h0M249.4 544.9h0M249.7 547.6h0M250 543.5h0M257 537.1h0M256.2 544.1h0M242.2 536.1h0M244.4 544.1h0M256.3 536.4h0M249.9 543.6h0M254.1 536.5h0M253.3 537.2h0M258.9 542.1h0M248.4 534h0M247.6 542.2h0M256.6 533.2h0M250.6 544.8h0M260.6 542.5h0M250 537h0M252.3 542.6h0M245.5 535.5h0M249.8 543.6h0M246.1 542h0M252.9 535.1h0M251.3 535.1h0M257.4 536.3h0M245.9 538.1h0M253.7 534.1h0M250.5 531.8h0M251.7 550h0M251.1 533h0M260.3 541h0M253.4 539.2h0M242.4 542.9h0M254.1 538.7h0M254.2 541.9h0M256.4 541.8h0M245 535.6h0M244.8 533.8h0M247.6 532.1h0M253.7 542.2h0M246 534.1h0M248.5 543.6h0M249.1 548.4h0M255.7 534.3h0M258.8 541.8h0M249.8 543.4h0M248.1 541.5h0M245.6 538.1h0M254.5 530.9h0M246.9 546.8h0M246.4 539h0M252.8 539h0M245.5 536.9h0M249 538.3h0M259.8 539.3h0M247.1 536h0M255.1 536h0M245.8 534.5h0M248.2 537.4h0M255.8 538.5h0M249.2 549.6h0M250.8 535h0M254.7 536h0M251.8 543.5h0M255.3 534.3h0M251.7 534.9h0M255.5 538.5h0M247.9 544.9h0M259.5 536.9h0M250.2 547.1h0M244 536h0M254.7 536.1h0M243.9 536.4h0M247.3 544.4h0M248.3 534.4h0M257.4 534.3h0M259.7 539.7h0M255.9 541.5h0M249.6 547.8h0M245.4 539.8h0M243.3 537.8h0M258.7 537.4h0M245.2 534.8h0M249.1 535h0M259.2 541.8h0M254.4 548.2h0M256.3 533.2h0M247.9 540.1h0M244.8 540.3h0M245.4 538.9h0M256.4 538.3h0M251.2 535.1h0M247.4 539h0M245.4 538.1h0M243.2 537.6h0M251.3 544.3h0M249.2 532.8h0M243.7 543.4h0M246.1 533h0M253.5 543.5h0M247.2 535h0M249.4 545.3h0M249.6 534.6h0M245.1 544.9h0M253.5 534.6h0M248.2 542.2h0M252.1 533.2h0M247.6 534h0M249.6 547.2h0M249.2 548.9h0M261.2 539.9h0M251.8 549.3h0M250.1 548.2h0M249.5 533.6h0M242.5 539.5h0M253.6 542.7h0M252.6 537.5h0M250.1 544.1h0M244.8 535.3h0M249.3 537.2h0M247.8 534.4h0M248.2 544.5h0M244.5 536.5h0M251.7 534.6h0M250 537.7h0M245 539.2h0M252.5 541.1h0M242.6 543.7h0M246.5 547.1h0M256.9 535.6h0M246.5 533.3h0M255.8 535.7h0M241.8 538.4h0M247.6 542.1h0M250.5 533.3h0M247 544.4h0M249.9 550h0M259.4 536h0M242 541.5h0M246.9 547.7h0M252.8 534h0M251.5 533.7h0M248.8 545h0M244.7 546.2h0M250.4 532.1h0M253.9 539.9h0M256.3 537.6h0M263 540.3h0M252.3 541.9h0M248.1 537.3h0M250.8 536h0M255 536.8h0M256.3 536.6h0M244 535.3h0M257.7 538.9h0M246.8 534.7h0M246 540.2h0M243.7 539.7h0M254.6 544.1h0M259.8 534.9h0M252.5 530.2h0M252.3 537.7h0M247.6 535h0M252.2 550.4h0M259.1 536.7h0M255.6 536h0M244.9 539.3h0M256.4 534.6h0M242.5 535.9h0M255.1 540.9h0M248.9 537.8h0M257.7 540.4h0M253.3 534.3h0M250.2 540.2h0M258.6 539.9h0M253.4 543.2h0M251.1 538.8h0M243.2 542.5h0M250.3 546.1h0M244.9 543.9h0M253.9 535.6h0M250.1 535h0M246.5 531.6h0M248.5 532.3h0M250.3 550.4h0M258.6 535.7h0M257.4 538.6h0M257.8 541.5h0M242.3 537.1h0M253.6 535.6h0M242.5 539.7h0M251.7 537.7h0M247.2 541.6h0M249.5 546.1h0M254.1 542.9h0M252.2 539.9h0M248.3 546.5h0M251.9 541.8h0M244.4 545.8h0M255.5 535.7h0M259.8 537.7h0M245.2 545.7h0M251.9 537.1h0M257 538.4h0M245.3 548.5h0M246.9 546.3h0M247.5 547.8h0M242.7 542.2h0M258.1 535.6h0M253.1 535.4h0M256.4 533.2h0M254.4 542h0M250 541.8h0M255.9 534.7h0M259.2 538.8h0M251.8 541.4h0M246.8 534.9h0M252.7 543.4h0M247.5 542h0M262.2 542.5h0M251.2 543.3h0M246 532.7h0M247.6 533.6h0M247.3 541h0M245.4 534.7h0M244.5 533.6h0M252.5 535.7h0M247.1 532.2h0M251.9 531.9h0M252.8 539.7h0M247.2 537.8h0M257.4 545.4h0M252.2 543h0M256.6 537.5h0M248.2 535.6h0M252.7 539.3h0M254.4 534.8h0M248.8 541.8h0M246.5 546.2h0M246.8 544.3h0M257.4 537.1h0M260.8 540.7h0M258.2 536.5h0M250.2 548.6h0M246.7 545h0M255.1 533.2h0M241.5 539.8h0M251.4 534h0M252 543.3h0M243 541.6h0M252.3 537.1h0M254.8 539.2h0M255.4 538.9h0M249.6 542.2h0M242.5 538.3h0M245.7 535h0M243.3 540.1h0M250.6 539.7h0M250.3 549.2h0M254.2 541.6h0M243.2 539.7h0M252.1 542.8h0M243.7 535.3h0M254 536.2h0M251 542.4h0M248.1 547.7h0M256.1 537.5h0M252.2 541.5h0M253.1 532.2h0M247.3 539.8h0M245 542.2h0M258.3 537.2h0M253.3 539.2h0M254.7 534.7h0M242.3 537.6h0M260 538.8h0M257.6 538.7h0M247.9 545.5h0M251.1 540.5h0M250.7 538.2h0M248.6 536.5h0M247.2 542.7h0M241.5 537.6h0M256 534.8h0M244.1 540.5h0M248 535.5h0M248.3 545.6h0M257.8 544.6h0M249.1 546.6h0M252.1 539.2h0M260.5 539.8h0M242.1 543.6h0M259.1 538.9h0M257 537.5h0M251.4 533.8h0M250.3 535.5h0M256 534.1h0M258.8 536.3h0M253.5 537.1h0M252.3 539.8h0M247.4 534h0M247.2 535.2h0M251.4 539.6h0M261.3 538.2h0M249 538.2h0M257.5 538.4h0M258.8 536.5h0M252.1 546h0M246.6 536.9h0M252.5 538.1h0M258.7 536.9h0M241.8 542h0M264.2 542.8h0M253 537.5h0M242.8 541.4h0M248.9 544.2h0M258.5 537.2h0M254 541.6h0M254.7 544h0M246.8 545.3h0M259.3 538.6h0M248.4 530.6h0M247.1 538.2h0M243.4 543.3h0M244.2 539.7h0M243.9 540.6h0M251.2 540.6h0M247.5 533.1h0M242.5 542.6h0M245 536.6h0M249.8 539.3h0M242.9 535.1h0M243.7 534.1h0M243 531.8h0M240.1 534.7h0M240.9 534.7h0M244.9 532.3h0M241.6 536.8h0M243.1 537.1h0M241.3 535.9h0M243.5 533.9h0M245.7 531.2h0M242.3 533.9h0M242.9 534.2h0M245.7 537.8h0M243.5 530.1h0M242.1 535.3h0M243.6 532.7h0M243.2 531.9h0M248.1 535.4h0M243.9 536.3h0M244.5 530.3h0M241.8 531.9h0M240.4 533.7h0M242.4 531.3h0M242.2 530.1h0M242.5 531.6h0M245.6 533.2h0M244.8 533.9h0M241.1 534.4h0M244.7 535h0M239.7 535.5h0M243.9 532h0M241.9 536.1h0M247.7 533h0M246.7 535.2h0M241.9 537.1h0M243.3 532.6h0M240.9 535.7h0M248.1 534.7h0M240.8 534.3h0M248.3 534.7h0M247.1 535.7h0M242.9 534.6h0M242.4 537h0M245.4 531.2h0M246.3 530.8h0M245.5 531.5h0M241.6 534.2h0M244.2 530.2h0M243.6 532.3h0M245.8 536.8h0M242.8 534.8h0M240.6 537.6h0M244.7 534.9h0M244.2 531.9h0M247.7 537.2h0M240.5 533.9h0M243.7 532.7h0M243.8 533.5h0M248.2 536.4h0M245 533.8h0M246.6 531.4h0M240.9 534.9h0M240.1 535.4h0M248 534.6h0M243.6 533.9h0M242.7 534.9h0M244.7 530.7h0M244.6 534.9h0M241.5 536.4h0M241.8 534.3h0M246.4 535.5h0M247.6 534.7h0M247.6 533.1h0M242.9 536h0M243 536.1h0M243.2 530.3h0M245.4 536.5h0M246.8 536.9h0M246.2 531.1h0M248.7 532.5h0M244.3 533.1h0M245.8 533.2h0M240.6 530.9h0M239.7 534.5h0M242.2 532.8h0M244.8 535.7h0M247.6 533.4h0M243.5 532.5h0M245.5 533h0M245.8 532.2h0M241.6 536.9h0M239.2 535.1h0M243 531.9h0M246.8 531.8h0M239.7 532.2h0M265.7 549.4h0M264.3 549.9h0M266.6 550h0M263 551.8h0M265.7 546.4h0M265.1 548.6h0M263.1 548h0M265 548.9h0M262.1 549.6h0M265.8 549.4h0M266.8 548.2h0M256.6 542.7h0M264.6 550.6h0M260.9 551.2h0M256 547.2h0M262.1 551.7h0M257.7 548.6h0M260 543.9h0M262 550h0M254.5 545.9h0M263.6 545.6h0M266.1 550.7h0M265.7 548.4h0M265.5 547.2h0M262.8 551h0M264.7 551.5h0M259.2 544.9h0M255.8 544.8h0M265.8 548.6h0M265.5 546.4h0M262.8 551.9h0M266.4 546.1h0M267.4 541h0M270.1 549.5h0M270.3 539.9h0M265.1 544.2h0M266.8 544.4h0M270.4 548.1h0M270 546.5h0M266 544.4h0M267 547.2h0M266.2 546.5h0M268.4 543.8h0M269.7 543.2h0M268.4 545.6h0M267.7 546.8h0M267.9 548.2h0M270.7 541h0M269.3 539.4h0M268.7 538.7h0M268.4 544.5h0M270.3 544.9h0M265.5 547.6h0M267.7 548h0M267.3 542.9h0M269.5 546.2h0M270.4 541.5h0M269.9 545h0M270.4 547.2h0M271.8 541.2h0M269.5 543.9h0M269 547.9h0M270.2 542.3h0M243.1 540.2h0M240.3 545.9h0M243.8 538.7h0M238.8 543h0M242.1 542.1h0M237.5 540.4h0M239.7 537.6h0M244.7 543.4h0M243.5 540.8h0M239 541.4h0M241.2 537.7h0M242.9 539h0M244.4 540.4h0M243.3 541h0M238.9 538.8h0M238.2 540.4h0M243.8 542.2h0M239.3 539.5h0M244.1 538.8h0M237.5 538.8h0M240.5 540.6h0M241.7 542.9h0M239.6 543.8h0M239.5 541.8h0M243.6 541.2h0M239.9 544.2h0M243.1 544.9h0M239 544.4h0M240.5 538.2h0M239.6 541.4h0M237.4 541.2h0M238.7 542.2h0M238.4 541.1h0M244.1 541.1h0M243.8 543.3h0M244.3 540h0M240 544.4h0M242.5 536.8h0M244.7 539h0M244.5 539.2h0M241.3 539.6h0M239.8 537.2h0M238.4 540.7h0M238.8 541.3h0M240.6 543.1h0M241.7 537.5h0M243.4 543.3h0M244.4 540.5h0M239.9 539h0M241.7 538.5h0M240.4 544.1h0M240.1 540.2h0M243.2 538h0M240.9 541.9h0M240.3 542.8h0M244 542.6h0M241 539.9h0M238.9 539.9h0M241.1 539.8h0M238.8 537.9h0M242.5 544.1h0M239.2 542h0M277 534.2h0M275.4 543.8h0M270.7 543.9h0M270.5 540.9h0M277.9 537.1h0M284.6 540.4h0M279.7 531.4h0M273.5 536.8h0M276.4 534.3h0M276.8 542.3h0M273 535.5h0M280.1 537.9h0M270.7 538.3h0M277.1 539.5h0M283.7 535.3h0M282.3 538.5h0M273.4 532.8h0M280 537.9h0M276.7 537.6h0M279.8 533.9h0M284.1 537.5h0M277.1 533.7h0M277.5 542h0M277.4 535.7h0M273.6 541.3h0M280.8 534.5h0M284.4 537.9h0M280.4 531.5h0M274.1 542.4h0M284.2 535.4h0M282.8 535.8h0M282.8 541.9h0M270.8 538h0M280.2 538.6h0M270.7 539.4h0M276.9 544.3h0M281.5 535.2h0M280.2 541.1h0M276 542.7h0M274 540.5h0M280.6 542.1h0M273 539h0M275 539.6h0M275.3 544.4h0M272.7 537.3h0M275.8 534.7h0M285.1 533h0M282.5 538.2h0M271.5 537.6h0M277.5 533h0M280.1 540.3h0M272 537h0M280.4 536.5h0M282 543h0M273.5 544.8h0M277.7 541.6h0M278.4 542.8h0M284.5 534.6h0M281.8 540.4h0M274.4 544.1h0M277 543.5h0M277.4 537h0M279.5 534.9h0M282.4 534.2h0M274.9 537.7h0M281.8 541h0M282.2 532h0M275.5 536.5h0M275 537.8h0M276.6 544.1h0M270.1 536.2h0M276.1 535.3h0M274.2 533.1h0M275.5 544h0M271.6 541.2h0M273 541.6h0M276.4 536.5h0M282.7 543.7h0M275.1 544.3h0M279.1 539.6h0M273.2 542.9h0M279 538.5h0M274.8 534.6h0M274.8 533.8h0M282.4 537.2h0M275 538.1h0M277.4 542.3h0M275.7 539.5h0M283.7 534.7h0M280.4 541.4h0M278.9 543.1h0M277.8 542.5h0M273.8 538.2h0M272.6 536h0M270.3 537h0M279 543.2h0M278.1 537.6h0M272.5 540.9h0M280.9 543.1h0M282.3 533.3h0M270.2 539.3h0M278.8 534.1h0M278.9 532h0M273.8 535.4h0M276.6 534.9h0M273.5 539h0M278.5 541.6h0M272 538.2h0M283.4 539.1h0M277.8 535.6h0M276.1 534.8h0M283.9 540.1h0M283.4 533.4h0M281.3 537.5h0M280.2 543.2h0M274.1 535.4h0M273.3 540.8h0M276.5 539.3h0M273.5 535.2h0M275.4 539.2h0M271.4 538.9h0M270.6 542.2h0M279.3 533.2h0M277.6 534.8h0M280.7 538.9h0M276 534.6h0M280.5 533.1h0M270.9 537.5h0M275.4 533.6h0M275.9 539.5h0M285.3 535.1h0M280.5 541.6h0M271.5 533.7h0M284.3 534.7h0M276.8 541.8h0M281.4 538.4h0M274.8 540.9h0M275.2 541.4h0M280 542.2h0M273.6 538.4h0M277.7 533.6h0M272.2 533.5h0M276.4 540.5h0M279.5 543.7h0M273.7 533.9h0M284.5 540h0M272.7 539.7h0M276.6 534.4h0M279.4 542.8h0M277.4 532.9h0M276.3 541.3h0M281.9 540.7h0M272.1 535.9h0M273 536.3h0M270.1 537.8h0M284.4 537.4h0M274.4 536.9h0M279.6 538.5h0M279.1 533h0M273.3 541.9h0M277.8 536.6h0M271.2 537.4h0M275.1 539.9h0M278.8 534.6h0M280 536.1h0M274.3 535h0M280.6 541.9h0M275 541h0M277.7 532.8h0M278.3 533h0M274.7 534.3h0M277.6 542.6h0M280.9 534.9h0M271.1 540.3h0M272.4 539.4h0M270.6 538.7h0M276.6 532h0M277.4 533.1h0M281.1 535.3h0M279 542.9h0M284.3 538.5h0M276.1 534h0M279.1 543.7h0M277.3 541.9h0M271.9 537.3h0M278 543.1h0M273.9 533.8h0M273.2 542.3h0M275.8 542.8h0M278.1 530.9h0M282.5 532.3h0M277.9 542.2h0M275 536.5h0M279.4 542.9h0M271.5 538.7h0M278.8 537.7h0M274.6 536.3h0M272.6 539.9h0M277.3 541.9h0M276.3 532.1h0M273.4 541.5h0M272.5 534.1h0M282.1 534.9h0M278.6 542h0M282.9 537.6h0M276.4 541.5h0M280.1 537.5h0M278.4 541.2h0M273.7 534.7h0M277.7 537.7h0M274 543.1h0M272.4 540.2h0M281.6 535.9h0M275.9 540.1h0M280.2 533.2h0M280.4 537.9h0M271 544.1h0M280.5 535.1h0M277.1 542.9h0M284 533.2h0M270.8 538.5h0M280.6 532.5h0M273.7 535.8h0M278.2 535.9h0M278.5 538.1h0M271 539.2h0M274.1 545.4h0M272.8 541.5h0M275.1 533.6h0M281 538.2h0M282.8 539.1h0M283 534.2h0M284.2 539.8h0M281.7 537.3h0M271.7 543.4h0M276 535.9h0M273.5 534.8h0M283.3 539.9h0M280.2 539.5h0M278.8 542.5h0M278.1 532.6h0M274.5 537.2h0M272.9 535.8h0M274.4 534.9h0M282.4 539.9h0M275 534.7h0M274.5 538.2h0M284.7 537.4h0M270.1 535.7h0M277 534.7h0M280.3 538.8h0M272.2 536.7h0M270.7 542h0M278 536.8h0M273.8 540.1h0M271.6 541.4h0M271.6 540.2h0M282.1 539h0M281.8 538.5h0M280.2 531.7h0M272.2 534.9h0M278.6 535.9h0M275.9 538.7h0M283 539.5h0M275.9 542.6h0M281.8 535.7h0M278.6 541.5h0M281.7 532.1h0M278.8 539.9h0M272.9 540.6h0M271.2 541.1h0M278.9 541.3h0M274 538.8h0M280.4 535h0M282.8 537.9h0M279.3 532.8h0M278.3 542.8h0M277.4 536.2h0M285.2 538.6h0M279.8 541.4h0M271.3 538h0M277.1 540.7h0M276.9 539.5h0M282.4 538.3h0M278.5 539.8h0M281.3 536.8h0M272.8 542.4h0M276.9 531.8h0M279.1 534.2h0M275.3 535.4h0M271.6 542.4h0M277.1 533.4h0M276.6 533.5h0M273.3 542.7h0M277.6 543.3h0M276.1 534h0M280.4 541h0M275.2 533h0M276.1 544.1h0M282.2 532.8h0M279.5 532.6h0M280.5 539.7h0M273.6 538.4h0M273 539.4h0M274.3 539.7h0M278.8 538.2h0M273.3 534.4h0M271.8 537.7h0M281.1 533.3h0M271.6 535.2h0M279.6 537.5h0M274 542.2h0M276.9 542.9h0M273.5 533.8h0M269.9 539.4h0M276.3 541.2h0M274.5 532.7h0M281.4 539.3h0M281.1 538.9h0M280.6 531.9h0M280.5 534.4h0M279.9 544.5h0M273.7 539.5h0M275.7 532.8h0M282.4 541.8h0M275.3 539.2h0M275.5 538h0M282 543.2h0M275.5 541.1h0M279.2 538h0M286.3 538.3h0M275.5 538.1h0M279.7 544.1h0M277.8 534.9h0M281.5 534.3h0M269.9 540.4h0M279.6 540.9h0M277.3 540.8h0M273.9 542h0M273 539.4h0M276.2 541.5h0M276.9 539.3h0M279.6 543.5h0M278.7 535.1h0M279 539.6h0M270.1 536.8h0M278.4 533.5h0M278.4 539.2h0M271.6 535.1h0M275 539.5h0M283.2 538h0M271.3 537.8h0M276.6 534.4h0M279.4 539.8h0M272.7 537.7h0M278.9 533.5h0M274.8 533.5h0M282.7 533.3h0M279.7 539.8h0M283.1 538.6h0M284.7 538.2h0M277.3 540.3h0M274.9 542.4h0M271.3 533.8h0M274.6 538.2h0M275 537.5h0M278.7 532.6h0M282.3 540.9h0M275.9 542h0M280.8 534.7h0M281.2 539.9h0M279.5 535.2h0M284.7 535.7h0M273.8 536.3h0M277.8 532.1h0M280 541.1h0M283.5 542h0M274.2 533.4h0M271.3 541.8h0M279.6 541.7h0M276.5 538.5h0M273.9 545.1h0M271.4 535.1h0M270.7 540.4h0M271.4 535.5h0M284.5 537.1h0M273 542.2h0M272.8 540.6h0M286.1 538.9h0M276 536.2h0M279.9 533.3h0M269.1 540.9h0M274.7 538.7h0M269.2 540.5h0M275.4 544.2h0M275.5 532.9h0M278.6 539.2h0M283.4 541.5h0M274.9 541.2h0M278.5 538.2h0M277.8 537.7h0M279.7 543.2h0M279.3 539.4h0M265.1 537.2h0M264.5 536.6h0M261.6 537h0M265.5 535.5h0M264.1 533.4h0M265.1 533.4h0M264.1 536.1h0M264.7 532.2h0M266.9 535.8h0M266 533.3h0M265.8 533.7h0M264.6 537.2h0M268.1 536.7h0M266.6 535.5h0M261.4 537.3h0M262.2 536.3h0M267.9 534.3h0M264.5 534.9h0M265.5 539.5h0M263.1 538.8h0M264.8 534.6h0M265.5 536.6h0M263.7 539h0M267.3 535.8h0M262.4 535.3h0M266.2 538.7h0M262.7 535.2h0M266.6 537.5h0M265 536.8h0M263.2 538.4h0M265.2 539h0M263.9 535h0M262.4 534.5h0M265.4 535.9h0M264.1 533.8h0M262.3 535h0M265.1 539.6h0M262.4 533.7h0M263.9 534.8h0M263.2 533.9h0M267.9 534.6h0M261.8 536.2h0M266.6 536.1h0M264.2 534.9h0M264.1 533.9h0M263.9 536.6h0M266.5 537h0M263.7 535.9h0M261.9 535.5h0M267.2 532.5h0M264.1 535h0M264.9 534.4h0M264.2 535.2h0M262.2 534.6h0M266.2 534h0M266.7 532.6h0M266 534.2h0M265.4 532.2h0M266.8 535.9h0M263.8 539.5h0M264.9 537.8h0M263.3 533.2h0M275.9 526.6h0M277.1 524.9h0M276.1 527.2h0M278.5 526.9h0M276.8 528.8h0M277.6 529.4h0M275 527h0M276.1 525.3h0M277.2 527.7h0M275.4 528h0M278 525.9h0M279.3 528.9h0M276.1 524.6h0M278.9 528.9h0M277.2 529.3h0M279.3 528.7h0M279.4 526.9h0M278.6 529.4h0M277.2 527.3h0M278.1 526.6h0M277 524.2h0M279.2 528.9h0M279.9 525.5h0M275.5 528.1h0M276.6 527.3h0M277.7 523.8h0M279 525.7h0M278.3 529.6h0M279 525.2h0M276.9 524.8h0M276.2 526.2h0M274.8 526.4h0M275.8 525.8h0M276.3 528.4h0M277.2 526h0M277.2 526h0M283.8 533.2h0M285.9 529.8h0M287.9 531.1h0M284.7 534.2h0M287.1 530.5h0M283.7 532.5h0M283.8 533.1h0M286.5 530.1h0M287 532.4h0M284.6 533.6h0M287.9 533.7h0M287.2 532.2h0M287.9 530.5h0M287.9 531.6h0M286.2 533.7h0M285.7 530.8h0M284.6 532.1h0M286.4 531.9h0M288.5 531.5h0M285.3 533.8h0M284.6 530.9h0M285.7 532.4h0M286.6 533.4h0M285.9 530.1h0M286 530.5h0M287.4 534.6h0M286 534.3h0M283.9 531.9h0M287.1 532.5h0M285 534.1h0M287.8 531.1h0M284.4 530.3h0M283.4 530.1h0M286.4 529h0M286 530.6h0M288.2 530.6h0M288.2 531.7h0M284.6 531.1h0M284.7 529.7h0M283.6 532.5h0M285.9 531.2h0M287.5 529.8h0M288.4 530.3h0M284.9 533.6h0M283.1 531.2h0M285.3 533.7h0M286.2 534.5h0M283.6 532.6h0M288.4 544.8h0M286.5 544.9h0M288.5 543.4h0M284.6 544.5h0M286.2 544.9h0M286.2 542.2h0M284 543.2h0M286.3 542.8h0M286 542.8h0M286.9 541.5h0M287.5 544h0M286.1 542.2h0M285.6 541.5h0M287.1 542.9h0M286.1 545.9h0M287.9 543.1h0M286 544.6h0M287.6 544.4h0M287.8 541.5h0M286.7 544.1h0M288 542.3h0M286.2 542.9h0M288 545.2h0M286.6 543.3h0M285.9 543.9h0M284.7 542.7h0M287.3 543.9h0M285.4 545.4h0M284.1 543.4h0M287.4 543.6h0M286.6 545.6h0M288.2 544.3h0M284.7 544.4h0M288.4 544.4h0M288.8 542.8h0M288.8 542.8h0M284.8 542.6h0M288.5 543.1h0M286.4 545.2h0M286.8 544.8h0M286.7 544.6h0M284.1 544.1h0M284.5 545.1h0M284.4 543.4h0M287.2 543.9h0M287.5 545.8h0M284.8 544.3h0M288 545.2h0M285.9 543.6h0M288.9 542.3h0M286.3 543.1h0M286.5 544.2h0M286.9 544.9h0M285.7 545.7h0M272.1 534.4h0M272.5 532.9h0M272.9 534.8h0M268.9 533.4h0M270 532.3h0M270.8 533.4h0M270.3 532h0M269.1 533.7h0M269.9 531.7h0M274.5 532.9h0M272.9 534.5h0M271 532.7h0M272.4 534.6h0M273.3 532.9h0M274.8 532.7h0M273.8 531.4h0M267.7 532.4h0M273.8 533.5h0M274.1 534.1h0M271.9 532.7h0M270.4 531.8h0M275 533.5h0M273.4 530.9h0M275.2 532.2h0M274.6 531.5h0M270.2 534.4h0M271.7 531.5h0M271 531.5h0M271.2 534.8h0M272.9 535h0M270 534.2h0M275 533.1h0M269.8 532.7h0M269.8 532.1h0M264.3 552.8h0M264.5 554.9h0M265.8 551.6h0M266.8 556.7h0M268.3 553.6h0M264.7 552.8h0M265.2 557.4h0M265.3 553.7h0M264.4 554.4h0M268.4 553.6h0M265.6 553.6h0M266.1 553.1h0M266 553.9h0M265.3 554.5h0M264.3 555.2h0M268.8 554.5h0M267.4 551.6h0M264.9 552.1h0M263.3 555.2h0M266.7 555.4h0M265.6 553.4h0M268.2 554.8h0M268.2 555.8h0M264.5 556.9h0M267.6 551.7h0M264.4 552.3h0M267.3 554.6h0M265.4 551.2h0M263.6 556.4h0M264.7 554.4h0M267.2 557.4h0M265.8 554.5h0M266.4 554.9h0M267.9 551.8h0M267.5 551.9h0M269.5 554.5h0M267.8 555.1h0M264.4 555.5h0M267.2 555h0M266.2 552.2h0M266.8 553.7h0M266.4 550.8h0M267.5 557h0M264.2 555.2h0M266 552.1h0M268.3 551.7h0M264.1 556h0M268.7 554.9h0M266.1 556.6h0M264.7 555.5h0M268.8 553.4h0M268.7 554.4h0M265.1 553.9h0M268.6 554.3h0M266.4 553.1h0M263.9 554.5h0M264.5 554.8h0M267.4 554.4h0M266.9 557.1h0M265.7 557h0M264.7 552.5h0M264.2 555.5h0M269 553.3h0M266.2 550.7h0M264.1 551.9h0M265 552.5h0M267.9 553h0M264.4 551.5h0M263.7 555.8h0M266.3 557.6h0M263.6 552.5h0M266.9 557.2h0M265.1 557.1h0M268.5 556.1h0M270.1 550.4h0M270.1 551.8h0M269.3 551.4h0M269.9 550.3h0M270.3 551.4h0M270.1 550.7h0M264.4 558.2h0M264 556.6h0M264.7 556.9h0M265.7 557.4h0M264.3 556.8h0M263.4 558.8h0M263.3 557.2h0M263.3 557.3h0M246.4 557.3h0M245 557.2h0M246.4 558.7h0M247.5 555h0M249.6 557.6h0M246.9 557.7h0M245.9 558.8h0M248 556.9h0M246.8 555.7h0M248.8 555.5h0M244.2 561h0M244.9 559.2h0M243.5 556.2h0M244.3 555.1h0M246 560.2h0M250 558h0M242.4 557.3h0M246.6 557.4h0M243.5 559h0M250.8 555.8h0M246.6 558.3h0M249.7 560.9h0M248.4 556.6h0M244.2 559.1h0M249.1 555.7h0M243.9 557.8h0M246.6 556.1h0M246.7 562h0M242.7 558.4h0M246.7 560.8h0M248.9 558.8h0M247.5 555h0M250.6 556.8h0M245.4 559.1h0M243.2 555.7h0M243.3 559.2h0M246 558.9h0M250.6 556.4h0M248.5 555.7h0M244.5 556.9h0M244.3 555.9h0M247.4 560.1h0M245.3 560.1h0M251.2 556.7h0M245.3 554.8h0M248.9 557.2h0M247.7 557.5h0M243.1 558.3h0M247.2 558.7h0M252 554.6h0M252.3 553.8h0" stroke="#b3d336" stroke-width="1.3" stroke-linecap="round" fill="none"/><path d="M252.8 510.6h0M257.9 519.7h0M257.7 511.6h0M265.1 511.9h0M263.2 515.8h0M260.4 509.8h0M253.1 515.6h0M255.9 512.9h0M261.8 511.6h0M261.6 512.6h0M256.2 548.9h0M243.4 536.6h0M254.4 543.2h0M259.3 546.5h0M261.5 544h0M257.5 547.8h0M259.4 546.7h0M258 548.4h0M255.4 547.7h0M259.4 547.2h0M254.3 541.6h0M258.1 545.1h0M252.1 544.5h0M255.9 544.5h0M256.9 549.6h0M258 543.2h0M258.8 543h0M256.4 547.7h0M258.3 543.4h0M254.7 547.9h0M255 548.2h0M253.5 547.1h0M257.1 535.4h0M257.7 544.7h0M254.8 548.9h0M257.6 539.8h0M256.6 543.8h0M259.4 546h0M257.7 547.5h0M251.1 543.1h0M253.1 549.5h0M251.7 550.5h0M257.2 542h0M262.4 546.5h0M257.9 544.4h0M260.1 544.8h0M259 542.3h0M258.1 539.9h0M256.4 546h0M256.3 544.9h0M255.5 544.2h0M260.7 543.4h0M261 543.6h0M259.3 549.7h0M259.6 539.6h0M258.1 545.1h0M260.5 543.4h0M251.2 548.8h0M258.2 540.5h0M257.3 546.3h0M257.3 543.8h0M258 543h0M255.5 549.7h0M254.9 545.8h0M253.8 547h0M255 549.7h0M258.3 545.4h0M249.6 537.9h0M247 537.5h0M247.7 537.5h0M252.9 547.3h0M245.1 544.2h0M245.4 536.8h0M258.6 545.6h0M258.9 546.1h0M255.5 548h0M258.8 542.6h0M256.5 539.1h0M256.6 550.4h0M252.7 549.6h0M256.1 545.1h0M247.9 544.3h0M244.1 544.1h0M258 548h0M250.4 539h0M256.9 545.4h0M256.8 535.6h0M256.4 548.3h0M259.7 542.8h0M246.4 536.1h0M258.6 541.7h0M259.2 546.1h0M249.2 532.9h0M256.1 545.2h0M249.3 548.3h0M258.2 545.9h0M254.9 547.5h0M257.8 544.1h0M248.6 532.3h0M253.9 547.3h0M252.2 544.6h0M255.4 544.9h0M254.1 547.2h0M256.8 546.9h0M261.1 543.7h0M256.8 541.2h0M251.6 545.4h0M260.4 545.7h0M260.1 541h0M255.2 545.3h0M255.4 542.3h0M256.1 543.7h0M243.1 536.7h0M252.9 547.3h0M248.2 542.8h0M252.2 543h0M259.3 548.6h0M250.9 545.3h0M257.4 545.8h0M260.4 540.5h0M255.1 544.1h0M250.6 538.5h0M254 546.1h0M256.6 546h0M254.7 543.5h0M253.2 548.7h0M254 539.4h0M255.4 546.8h0M244.8 545.3h0M257.4 544h0M256.2 542.3h0M252.5 543.9h0M258.7 547.3h0M252 543.2h0M253.8 539.1h0M252.6 547.2h0M253.2 541.7h0M255.1 543.5h0M257.9 545.9h0M258.3 539.7h0M252.6 549h0M254.1 549.6h0M257.5 544.6h0M253.5 546.6h0M255.9 548.5h0M257 542.4h0M257.7 547h0M257.3 544.4h0M252.8 543.5h0M248.1 533.6h0M243.5 532.9h0M239.6 534.7h0M265 547.3h0M262.1 549.5h0M256.8 543.7h0M259 550.3h0M260.3 544.6h0M265.4 548.8h0M255.2 544.2h0M256.5 547.3h0M255.3 544.9h0M256.3 543.4h0M258 545.5h0M259.5 543.2h0M259.9 543.4h0M261.4 547.7h0M257.6 547.9h0M259.2 545.7h0M263.4 548.8h0M260.6 550.1h0M259.1 545.5h0M255.4 547.5h0M259.4 545h0M255.6 548.1h0M262.6 547.6h0M262.8 548.8h0M255.9 546.2h0M258.6 548.1h0M261.5 546.4h0M256.8 548.5h0M257.2 543.8h0M261.6 547.5h0M257.2 548.4h0M259.1 544.7h0M255.7 545.9h0M256.4 546.3h0M257.7 546h0M262.1 551.7h0M259.9 545.7h0M257.9 547h0M255.1 544.8h0M260.2 548.1h0M261.4 549.9h0M258.3 545.6h0M262.1 547.7h0M256.4 545.4h0M257.7 547.3h0M258.5 545h0M262 544.7h0M257.3 545.5h0M256.8 544.7h0M256.1 547.5h0M254.3 543.7h0M264.8 546.7h0M256.8 545.9h0M257.4 544.4h0M257.1 547.3h0M262.7 545.8h0M263.6 551.3h0M262.8 550.3h0M256.4 547.9h0M260.5 550.1h0M263.7 549.5h0M260.8 544.1h0M255.6 547.8h0M256.6 544.3h0M257 548.2h0M258.6 549h0M260.4 549.9h0M258.6 543.8h0M259.8 550.3h0M258.1 546.2h0M257.6 548h0M257.3 543.7h0M260.1 547.6h0M262.2 547.4h0M260.2 551.6h0M255.7 545.6h0M255.1 545.9h0M268.8 542.9h0M268.1 541.9h0M266.2 542.6h0M268.1 539.7h0M243.4 541h0M279.5 537.9h0M273 542h0M271.9 538.6h0M271 537.1h0M277 535.9h0M279.1 534.2h0M272.2 533.9h0M284.4 538.4h0M280.7 532.8h0M283.4 539.7h0M274.3 536.7h0M263.8 538h0M285.1 529.8h0M272.4 530.9h0M274.3 532.7h0M264.5 556.5h0M264.2 553h0M267.6 550.6h0M266.8 554.3h0M264.4 557.1h0M264.7 552.8h0M264.9 555.5h0M270.1 550.8h0M268.1 550.9h0M269.6 550.8h0M268.5 552.1h0M263.7 558.4h0M249.2 559.8h0M245.1 556.2h0M244.5 561.1h0M245.2 553.9h0M244.8 554.4h0M243 556.5h0M250.7 559.9h0M242.5 559.1h0M249 560.1h0M245.5 560.3h0M245.1 558.4h0M242.7 558.7h0M248.7 555.2h0M244.9 554.8h0M246.3 554.4h0M248 560.2h0M248.4 559.9h0M250.6 556.7h0M249.3 560h0M249.8 557.4h0M250 557h0M247.1 554.6h0M245.9 559.3h0M243.7 556.3h0M249.1 555.4h0M246.2 554.8h0M244 557.3h0M250.7 558.3h0M250.3 557.6h0M243.5 560.3h0M250.7 557.9h0M246.9 557.5h0M242.8 556.5h0M244.1 560.8h0M248.3 558.4h0M249.8 555.2h0M247.1 557.8h0M243.5 560.3h0M247.9 555.2h0M248.3 558.3h0M249.6 555.4h0M245.4 554.9h0M244.2 559.9h0M249.7 556.3h0M248.5 561h0M246.4 561.2h0M245.1 560.2h0M244.1 557.9h0M244.1 561.1h0M243.4 556.2h0M245.9 561.6h0M248.8 558.2h0M250 558.2h0M243 555.9h0M249.3 556.9h0M246.5 558.4h0M246.9 555.8h0M244.5 557.7h0M249.2 555.8h0M245.5 555.9h0M248.1 559.1h0M249.3 559.7h0M249.6 556.9h0M243.2 561.8h0M245.5 561.7h0M247.7 556.2h0M247.7 558.2h0M244.7 555.1h0M246.7 558h0M246.2 557.4h0M249.6 557.4h0M245.9 555.1h0M246.4 558.9h0M250.4 557.3h0M246.3 556.1h0M249.6 557.6h0M242.3 559.5h0M247.5 555.4h0M244.8 560h0M250.3 555.3h0M247 561.3h0M244.5 558.5h0M245.7 560.7h0M243.1 560.5h0M247.3 559h0M248.4 556.6h0M251.2 555.8h0M250.2 554.2h0M253 555.2h0" stroke="#3c80d2" stroke-width="1.2" stroke-linecap="round" fill="none" stroke-opacity="0.9"/><line x1="221.2" y1="561.6" x2="232.7" y2="561.6" stroke="#222" stroke-width="0.6"/><line x1="221.2" y1="561.6" x2="221.2" y2="550.1" stroke="#222" stroke-width="0.6"/><path d="M234.2 561.6l-2.1 -1l0 2.1z" fill="#222"/><path d="M221.2 548.6l-1 2.1l2.1 0z" fill="#222"/><text x="221.8" y="567.3" font-size="2.9" fill="#333" font-weight="bold">tSNE 1</text><text x="219.4" y="561.4" font-size="2.9" fill="#333" font-weight="bold" transform="rotate(-90 219.4 561.4)">tSNE 2</text><text x="196.5" y="515.4" font-size="11.5" fill="#000" font-weight="bold">G</text><circle cx="306.7" cy="530" r="2.0" fill="#b3d336"/><text x="312.5" y="533.2" font-size="8.5" fill="#1a1a1a" stroke="#1a1a1a" stroke-width="0.18">Sensitive</text><circle cx="306.7" cy="544" r="2.0" fill="#3c80d2"/><text x="312.5" y="547.2" font-size="8.5" fill="#1a1a1a" stroke="#1a1a1a" stroke-width="0.18">Resistant</text><rect x="239.8" y="625.8" width="13.5" height="20.6" fill="#6cb0e8"/><rect x="239.8" y="603.8" width="13.5" height="22.2" fill="#b8d848"/><rect x="239.8" y="587.4" width="13.5" height="16.7" fill="#f0a838"/><rect x="239.8" y="586.5" width="13.5" height="1.1" fill="#9a6cc8"/><rect x="239.8" y="584.8" width="13.5" height="1.9" fill="#f4e840"/><rect x="239.8" y="581.3" width="13.5" height="3.7" fill="#e8332e"/><rect x="239.8" y="579.6" width="13.5" height="1.9" fill="#4cc0c0"/><rect x="259.2" y="618.2" width="13.5" height="28.2" fill="#6cb0e8"/><rect x="259.2" y="614.2" width="13.5" height="4.2" fill="#b8d848"/><rect x="259.2" y="601.8" width="13.5" height="12.7" fill="#f0a838"/><rect x="259.2" y="586.9" width="13.5" height="15.1" fill="#9a6cc8"/><rect x="259.2" y="581.9" width="13.5" height="5.3" fill="#f4e840"/><rect x="259.2" y="580.5" width="13.5" height="1.6" fill="#e8332e"/><rect x="259.2" y="579.6" width="13.5" height="1.1" fill="#4cc0c0"/><rect x="258.8" y="586.9" width="14.3" height="14.9" fill="none" stroke="#111" stroke-width="1.0"/><line x1="232.9" y1="579.1" x2="232.9" y2="646.7" stroke="#000" stroke-width="1.0"/><line x1="232.4" y1="646.2" x2="278.7" y2="646.2" stroke="#000" stroke-width="1.0"/><line x1="230.4" y1="579.6" x2="232.9" y2="579.6" stroke="#000" stroke-width="0.9"/><text x="229.6" y="582.1" font-size="7" fill="#1a1a1a" text-anchor="end" stroke="#1a1a1a" stroke-width="0.18">1.00</text><line x1="230.4" y1="596.2" x2="232.9" y2="596.2" stroke="#000" stroke-width="0.9"/><text x="229.6" y="598.8" font-size="7" fill="#1a1a1a" text-anchor="end" stroke="#1a1a1a" stroke-width="0.18">0.75</text><line x1="230.4" y1="612.9" x2="232.9" y2="612.9" stroke="#000" stroke-width="0.9"/><text x="229.6" y="615.4" font-size="7" fill="#1a1a1a" text-anchor="end" stroke="#1a1a1a" stroke-width="0.18">0.50</text><line x1="230.4" y1="629.6" x2="232.9" y2="629.6" stroke="#000" stroke-width="0.9"/><text x="229.6" y="632.1" font-size="7" fill="#1a1a1a" text-anchor="end" stroke="#1a1a1a" stroke-width="0.18">0.25</text><line x1="230.4" y1="646.2" x2="232.9" y2="646.2" stroke="#000" stroke-width="0.9"/><text x="229.6" y="648.7" font-size="7" fill="#1a1a1a" text-anchor="end" stroke="#1a1a1a" stroke-width="0.18">0</text><line x1="246.5" y1="646.2" x2="246.5" y2="648.4" stroke="#000" stroke-width="0.9"/><line x1="266.2" y1="646.2" x2="266.2" y2="648.4" stroke="#000" stroke-width="0.9"/><text x="208.6" y="616.6" font-size="8.7" fill="#1a1a1a" text-anchor="middle" stroke="#1a1a1a" stroke-width="0.18" transform="rotate(-90 208.6 616.6)">Ratio of CD8<tspan baseline-shift="3.3" font-size="5.4">+</tspan> T cells</text><text x="254" y="653" font-size="8.3" fill="#1a1a1a" text-anchor="end" stroke="#1a1a1a" stroke-width="0.18" transform="rotate(-40 254 653)">Sensitive</text><text x="274.5" y="653" font-size="8.3" fill="#1a1a1a" text-anchor="end" stroke="#1a1a1a" stroke-width="0.18" transform="rotate(-40 274.5 653)">Resistant</text><rect x="290.6" y="578.9" width="7.4" height="6.2" fill="#4cc0c0"/><text x="304.4" y="584.6" font-size="7.3" fill="#1a1a1a" stroke="#1a1a1a" stroke-width="0.18">C6_LAG3</text><rect x="290.6" y="591.4" width="7.4" height="6.2" fill="#e8332e"/><text x="304.4" y="597.1" font-size="7.3" fill="#1a1a1a" stroke="#1a1a1a" stroke-width="0.18">C5_GZMA</text><rect x="290.6" y="603.9" width="7.4" height="6.2" fill="#f4e840"/><text x="304.4" y="609.6" font-size="7.3" fill="#1a1a1a" stroke="#1a1a1a" stroke-width="0.18">C4_HMGN2</text><rect x="290.6" y="616.6" width="7.4" height="6.2" fill="#9a6cc8"/><text x="304.4" y="622.3" font-size="7.3" fill="#1a1a1a" stroke="#1a1a1a" stroke-width="0.18">C3_CD161</text><rect x="290.6" y="628.9" width="7.4" height="6.2" fill="#f0a838"/><text x="304.4" y="634.6" font-size="7.3" fill="#1a1a1a" stroke="#1a1a1a" stroke-width="0.18">C2_CCR7</text><rect x="290.6" y="641.4" width="7.4" height="6.2" fill="#b8d848"/><text x="304.4" y="647.1" font-size="7.3" fill="#1a1a1a" stroke="#1a1a1a" stroke-width="0.18">C1_GZMK</text><rect x="290.6" y="653.5" width="7.4" height="6.2" fill="#6cb0e8"/><text x="304.4" y="659.2" font-size="7.3" fill="#1a1a1a" stroke="#1a1a1a" stroke-width="0.18">C0_CXCR3</text></g>
<g id="panelH"><rect x="367.9" y="364.6" width="18.2" height="296.5" fill="#f0f5e3"/><rect x="386" y="364.6" width="18.2" height="296.5" fill="#f0f5e3"/><rect x="404.2" y="364.6" width="18.2" height="296.5" fill="#f0f5e3"/><rect x="422.3" y="364.6" width="18.2" height="296.5" fill="#f0f5e3"/><rect x="440.4" y="364.6" width="18.2" height="296.5" fill="#f0f5e3"/><rect x="458.5" y="364.6" width="18.2" height="296.5" fill="#f0f5e3"/><rect x="476.7" y="364.6" width="18.2" height="296.5" fill="#f0f5e3"/><rect x="367.9" y="364.6" width="18.2" height="17" fill="#e24a37"/><rect x="386" y="364.6" width="18.2" height="17" fill="#fcf2bc"/><rect x="404.2" y="364.6" width="18.2" height="8.6" fill="#8cbcdc"/><rect x="422.3" y="364.6" width="18.2" height="17" fill="#dcebf3"/><rect x="440.4" y="364.6" width="18.2" height="8.6" fill="#fcf2bc"/><rect x="458.5" y="364.6" width="18.2" height="8.6" fill="#fcf2bc"/><rect x="476.7" y="364.6" width="18.2" height="17" fill="#dcebf3"/><rect x="404.2" y="373.1" width="18.2" height="25.5" fill="#fcf2bc"/><rect x="458.5" y="373.1" width="18.2" height="17" fill="#fde09a"/><rect x="367.9" y="381.5" width="18.2" height="8.6" fill="#ee7550"/><rect x="386" y="381.5" width="18.2" height="8.6" fill="#bcd8ec"/><rect x="422.3" y="381.5" width="18.2" height="8.6" fill="#fcf2bc"/><rect x="476.7" y="381.5" width="18.2" height="8.6" fill="#8cbcdc"/><rect x="367.9" y="390" width="18.2" height="17" fill="#f3935f"/><rect x="386" y="390" width="18.2" height="8.6" fill="#dcebf3"/><rect x="422.3" y="390" width="18.2" height="8.6" fill="#d6d6dc"/><rect x="440.4" y="390" width="18.2" height="8.6" fill="#dcebf3"/><rect x="458.5" y="390" width="18.2" height="8.6" fill="#d6d6dc"/><rect x="476.7" y="390" width="18.2" height="8.6" fill="#d6d6dc"/><rect x="386" y="398.5" width="18.2" height="8.6" fill="#fde09a"/><rect x="404.2" y="398.5" width="18.2" height="8.6" fill="#dcebf3"/><rect x="422.3" y="398.5" width="18.2" height="8.6" fill="#fcf2bc"/><rect x="458.5" y="398.5" width="18.2" height="17" fill="#fcf2bc"/><rect x="476.7" y="398.5" width="18.2" height="8.6" fill="#8cbcdc"/><rect x="367.9" y="407" width="18.2" height="34" fill="#fcf2bc"/><rect x="386" y="407" width="18.2" height="17" fill="#d9252b"/><rect x="422.3" y="415.4" width="18.2" height="8.6" fill="#dcebf3"/><rect x="440.4" y="415.4" width="18.2" height="8.6" fill="#dcebf3"/><rect x="386" y="423.9" width="18.2" height="8.6" fill="#e24a37"/><rect x="422.3" y="423.9" width="18.2" height="8.6" fill="#bcd8ec"/><rect x="476.7" y="423.9" width="18.2" height="8.6" fill="#fcf2bc"/><rect x="386" y="432.4" width="18.2" height="8.6" fill="#ee7550"/><rect x="404.2" y="432.4" width="18.2" height="8.6" fill="#fde09a"/><rect x="422.3" y="432.4" width="18.2" height="25.5" fill="#fcf2bc"/><rect x="440.4" y="432.4" width="18.2" height="8.6" fill="#fcf2bc"/><rect x="476.7" y="432.4" width="18.2" height="8.6" fill="#6ba3cf"/><rect x="367.9" y="440.8" width="18.2" height="8.6" fill="#dcebf3"/><rect x="386" y="440.8" width="18.2" height="8.6" fill="#f3935f"/><rect x="404.2" y="440.8" width="18.2" height="8.6" fill="#8cbcdc"/><rect x="440.4" y="440.8" width="18.2" height="8.6" fill="#fde09a"/><rect x="458.5" y="440.8" width="18.2" height="8.6" fill="#dcebf3"/><rect x="476.7" y="440.8" width="18.2" height="8.6" fill="#fde09a"/><rect x="367.9" y="449.3" width="18.2" height="25.5" fill="#fcf2bc"/><rect x="386" y="449.3" width="18.2" height="8.6" fill="#fcf2bc"/><rect x="404.2" y="449.3" width="18.2" height="17" fill="#d9252b"/><rect x="440.4" y="449.3" width="18.2" height="25.5" fill="#fcf2bc"/><rect x="458.5" y="449.3" width="18.2" height="8.6" fill="#bcd8ec"/><rect x="476.7" y="457.8" width="18.2" height="8.6" fill="#fcf2bc"/><rect x="386" y="466.2" width="18.2" height="8.6" fill="#bcd8ec"/><rect x="404.2" y="466.2" width="18.2" height="17" fill="#e24a37"/><rect x="422.3" y="466.2" width="18.2" height="8.6" fill="#fde09a"/><rect x="476.7" y="466.2" width="18.2" height="8.6" fill="#bcd8ec"/><rect x="422.3" y="474.7" width="18.2" height="8.6" fill="#dcebf3"/><rect x="440.4" y="474.7" width="18.2" height="8.6" fill="#fde09a"/><rect x="458.5" y="474.7" width="18.2" height="8.6" fill="#dcebf3"/><rect x="386" y="483.2" width="18.2" height="8.6" fill="#dcebf3"/><rect x="422.3" y="483.2" width="18.2" height="8.6" fill="#e24a37"/><rect x="440.4" y="483.2" width="18.2" height="8.6" fill="#fcf2bc"/><rect x="458.5" y="483.2" width="18.2" height="25.5" fill="#fcf2bc"/><rect x="476.7" y="483.2" width="18.2" height="8.6" fill="#d6d6dc"/><rect x="367.9" y="491.7" width="18.2" height="25.5" fill="#fcf2bc"/><rect x="422.3" y="491.7" width="18.2" height="8.6" fill="#d9252b"/><rect x="476.7" y="491.7" width="18.2" height="8.6" fill="#dcebf3"/><rect x="422.3" y="500.1" width="18.2" height="8.6" fill="#e24a37"/><rect x="476.7" y="500.1" width="18.2" height="8.6" fill="#d6d6dc"/><rect x="386" y="508.6" width="18.2" height="8.6" fill="#f0b070"/><rect x="404.2" y="508.6" width="18.2" height="8.6" fill="#fcf2bc"/><rect x="422.3" y="508.6" width="18.2" height="8.6" fill="#f3935f"/><rect x="440.4" y="508.6" width="18.2" height="8.6" fill="#d6d6dc"/><rect x="458.5" y="508.6" width="18.2" height="8.6" fill="#bcd8ec"/><rect x="476.7" y="508.6" width="18.2" height="8.6" fill="#bcd8ec"/><rect x="422.3" y="517.1" width="18.2" height="17" fill="#fcf2bc"/><rect x="440.4" y="517.1" width="18.2" height="8.6" fill="#d9252b"/><rect x="367.9" y="525.5" width="18.2" height="8.6" fill="#fcf2bc"/><rect x="440.4" y="525.5" width="18.2" height="25.5" fill="#e24a37"/><rect x="476.7" y="525.5" width="18.2" height="17" fill="#dcebf3"/><rect x="367.9" y="534" width="18.2" height="8.6" fill="#fde09a"/><rect x="386" y="534" width="18.2" height="8.6" fill="#fde09a"/><rect x="404.2" y="534" width="18.2" height="8.6" fill="#bcd8ec"/><rect x="476.7" y="542.5" width="18.2" height="8.6" fill="#f0b070"/><rect x="367.9" y="550.9" width="18.2" height="8.6" fill="#dcebf3"/><rect x="386" y="550.9" width="18.2" height="8.6" fill="#fcf2bc"/><rect x="404.2" y="550.9" width="18.2" height="8.6" fill="#dcebf3"/><rect x="422.3" y="550.9" width="18.2" height="17" fill="#d6d6dc"/><rect x="440.4" y="550.9" width="18.2" height="8.6" fill="#ee7550"/><rect x="458.5" y="550.9" width="18.2" height="8.6" fill="#fcf2bc"/><rect x="476.7" y="550.9" width="18.2" height="17" fill="#d6d6dc"/><rect x="440.4" y="559.4" width="18.2" height="8.6" fill="#f3935f"/><rect x="458.5" y="559.4" width="18.2" height="8.6" fill="#d6d6dc"/><rect x="367.9" y="567.9" width="18.2" height="17" fill="#fcf2bc"/><rect x="386" y="567.9" width="18.2" height="8.6" fill="#fde09a"/><rect x="404.2" y="567.9" width="18.2" height="8.6" fill="#dcebf3"/><rect x="458.5" y="567.9" width="18.2" height="17" fill="#e24a37"/><rect x="476.7" y="576.4" width="18.2" height="8.6" fill="#d6d6dc"/><rect x="386" y="584.8" width="18.2" height="8.6" fill="#dcebf3"/><rect x="404.2" y="584.8" width="18.2" height="8.6" fill="#bcd8ec"/><rect x="440.4" y="584.8" width="18.2" height="8.6" fill="#fde09a"/><rect x="458.5" y="584.8" width="18.2" height="8.6" fill="#e75a40"/><rect x="476.7" y="584.8" width="18.2" height="17" fill="#fcf2bc"/><rect x="367.9" y="593.3" width="18.2" height="8.6" fill="#fde09a"/><rect x="386" y="593.3" width="18.2" height="8.6" fill="#6ba3cf"/><rect x="404.2" y="593.3" width="18.2" height="8.6" fill="#fcf2bc"/><rect x="422.3" y="593.3" width="18.2" height="8.6" fill="#dcebf3"/><rect x="440.4" y="593.3" width="18.2" height="8.6" fill="#fcf2bc"/><rect x="458.5" y="593.3" width="18.2" height="8.6" fill="#f3935f"/><rect x="367.9" y="601.8" width="18.2" height="25.5" fill="#fcf2bc"/><rect x="386" y="601.8" width="18.2" height="8.6" fill="#dcebf3"/><rect x="440.4" y="601.8" width="18.2" height="8.6" fill="#f0b070"/><rect x="458.5" y="601.8" width="18.2" height="8.6" fill="#ee7550"/><rect x="476.7" y="601.8" width="18.2" height="8.6" fill="#dcebf3"/><rect x="476.7" y="610.2" width="18.2" height="17" fill="#d9252b"/><rect x="422.3" y="627.2" width="18.2" height="8.6" fill="#d6d6dc"/><rect x="476.7" y="627.2" width="18.2" height="17" fill="#e24a37"/><rect x="422.3" y="635.6" width="18.2" height="17" fill="#dcebf3"/><rect x="440.4" y="635.6" width="18.2" height="17" fill="#bcd8ec"/><rect x="458.5" y="635.6" width="18.2" height="8.6" fill="#fde09a"/><rect x="386" y="644.1" width="18.2" height="8.6" fill="#fde09a"/><rect x="404.2" y="644.1" width="18.2" height="17" fill="#dcebf3"/><rect x="458.5" y="644.1" width="18.2" height="8.6" fill="#fcf2bc"/><rect x="476.7" y="644.1" width="18.2" height="17" fill="#e75a40"/><rect x="367.9" y="652.6" width="18.2" height="8.6" fill="#fcf2bc"/><rect x="386" y="652.6" width="18.2" height="8.6" fill="#fcf2bc"/><rect x="422.3" y="652.6" width="18.2" height="8.6" fill="#bcd8ec"/><rect x="440.4" y="652.6" width="18.2" height="8.6" fill="#fde09a"/><rect x="458.5" y="652.6" width="18.2" height="8.6" fill="#dcebf3"/><text x="496.9" y="370.1" font-size="3.6" fill="#222" font-weight="bold" font-style="italic">CXCR3</text><text x="496.9" y="378.6" font-size="3.6" fill="#222" font-weight="bold" font-style="italic">HCFC1R1</text><text x="496.9" y="387.1" font-size="3.6" fill="#222" font-weight="bold" font-style="italic">FOXP1</text><text x="496.9" y="395.5" font-size="3.6" fill="#222" font-weight="bold" font-style="italic">LEF1</text><text x="496.9" y="404" font-size="3.6" fill="#222" font-weight="bold" font-style="italic">RNF168</text><text x="496.9" y="412.5" font-size="3.6" fill="#222" font-weight="bold" font-style="italic">GZMK</text><text x="496.9" y="421" font-size="3.6" fill="#222" font-weight="bold" font-style="italic">CD27</text><text x="496.9" y="429.4" font-size="3.6" fill="#222" font-weight="bold" font-style="italic">HLA-DPB1</text><text x="496.9" y="437.9" font-size="3.6" fill="#222" font-weight="bold" font-style="italic">TNFRSF14</text><text x="496.9" y="446.4" font-size="3.6" fill="#222" font-weight="bold" font-style="italic">CST7</text><text x="496.9" y="454.8" font-size="3.6" fill="#222" font-weight="bold" font-style="italic">CCR7</text><text x="496.9" y="463.3" font-size="3.6" fill="#222" font-weight="bold" font-style="italic">IRF8</text><text x="496.9" y="471.8" font-size="3.6" fill="#222" font-weight="bold" font-style="italic">HIF1A</text><text x="496.9" y="480.2" font-size="3.6" fill="#222" font-weight="bold" font-style="italic">TNFRSF4</text><text x="496.9" y="488.7" font-size="3.6" fill="#222" font-weight="bold" font-style="italic">CD161</text><text x="496.9" y="497.2" font-size="3.6" fill="#222" font-weight="bold" font-style="italic">CEBPD</text><text x="496.9" y="505.7" font-size="3.6" fill="#222" font-weight="bold" font-style="italic">TNFRSF25</text><text x="496.9" y="514.1" font-size="3.6" fill="#222" font-weight="bold" font-style="italic">CD28</text><text x="496.9" y="522.6" font-size="3.6" fill="#222" font-weight="bold" font-style="italic">TNFRSF18</text><text x="496.9" y="531.1" font-size="3.6" fill="#222" font-weight="bold" font-style="italic">TGFB1</text><text x="496.9" y="539.5" font-size="3.6" fill="#222" font-weight="bold" font-style="italic">HMGN2</text><text x="496.9" y="548" font-size="3.6" fill="#222" font-weight="bold" font-style="italic">XCL1</text><text x="496.9" y="556.5" font-size="3.6" fill="#222" font-weight="bold" font-style="italic">MKI67</text><text x="496.9" y="564.9" font-size="3.6" fill="#222" font-weight="bold" font-style="italic">SH2D1B</text><text x="496.9" y="573.4" font-size="3.6" fill="#222" font-weight="bold" font-style="italic">GZMA</text><text x="496.9" y="581.9" font-size="3.6" fill="#222" font-weight="bold" font-style="italic">SPRYY</text><text x="496.9" y="590.4" font-size="3.6" fill="#222" font-weight="bold" font-style="italic">PRF1</text><text x="496.9" y="598.8" font-size="3.6" fill="#222" font-weight="bold" font-style="italic">CD226</text><text x="496.9" y="607.3" font-size="3.6" fill="#222" font-weight="bold" font-style="italic">HOPX</text><text x="496.9" y="615.8" font-size="3.6" fill="#222" font-weight="bold" font-style="italic">LAG3</text><text x="496.9" y="624.2" font-size="3.6" fill="#222" font-weight="bold" font-style="italic">TNFRSF9</text><text x="496.9" y="632.7" font-size="3.6" fill="#222" font-weight="bold" font-style="italic">IFNG</text><text x="496.9" y="641.2" font-size="3.6" fill="#222" font-weight="bold" font-style="italic">CTLA4</text><text x="496.9" y="649.6" font-size="3.6" fill="#222" font-weight="bold" font-style="italic">PDCD1</text><text x="496.9" y="658.1" font-size="3.6" fill="#222" font-weight="bold" font-style="italic">TIGIT</text><text x="373.5" y="361" font-size="8.3" fill="#1a1a1a" stroke="#1a1a1a" stroke-width="0.18" transform="rotate(-45 373.5 361)">C0_CXCR3</text><text x="389.8" y="361" font-size="8.3" fill="#1a1a1a" stroke="#1a1a1a" stroke-width="0.18" transform="rotate(-45 389.8 361)">C1_GZMK</text><text x="410.4" y="361" font-size="8.3" fill="#1a1a1a" stroke="#1a1a1a" stroke-width="0.18" transform="rotate(-45 410.4 361)">C2_CCR7</text><text x="429.6" y="361" font-size="8.3" fill="#1a1a1a" stroke="#1a1a1a" stroke-width="0.18" transform="rotate(-45 429.6 361)">C3_CD161</text><text x="449.1" y="361" font-size="8.3" fill="#1a1a1a" stroke="#1a1a1a" stroke-width="0.18" transform="rotate(-45 449.1 361)">C4_HMGN2</text><text x="468.8" y="361" font-size="8.3" fill="#1a1a1a" stroke="#1a1a1a" stroke-width="0.18" transform="rotate(-45 468.8 361)">C5_GZMA</text><text x="489" y="361" font-size="8.3" fill="#1a1a1a" stroke="#1a1a1a" stroke-width="0.18" transform="rotate(-45 489 361)">C6_LAG3</text><text x="352.8" y="336.4" font-size="11.5" fill="#000" font-weight="bold">H</text></g>
</svg>
</body></html>
